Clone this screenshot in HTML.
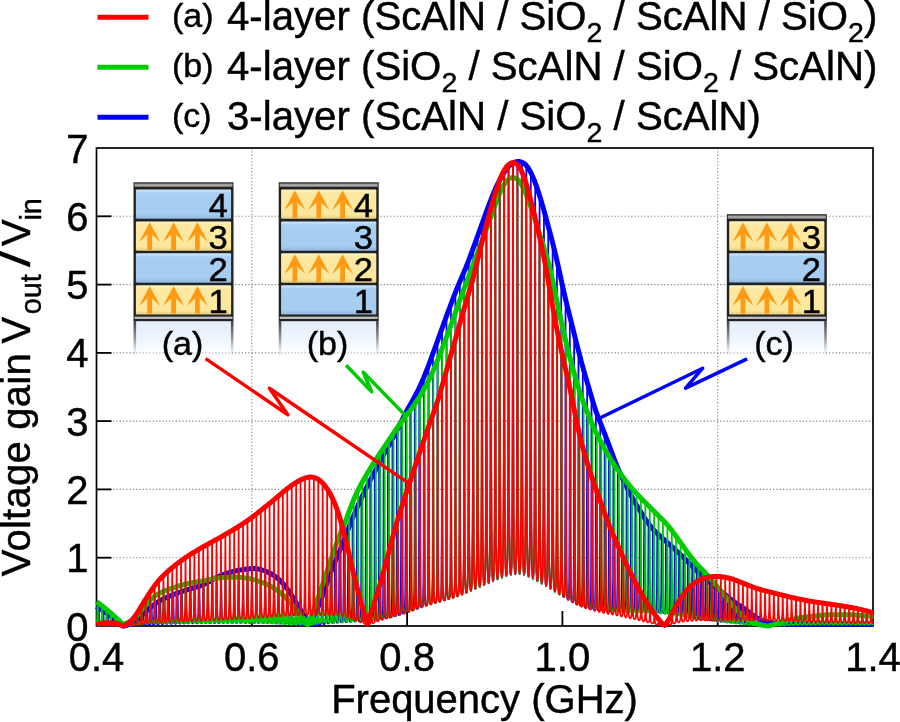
<!DOCTYPE html>
<html><head><meta charset="utf-8"><title>Voltage gain vs frequency</title>
<style>html,body{margin:0;padding:0;background:#fff}svg{display:block}text{stroke:#000;stroke-width:0.45px}</style></head>
<body>
<svg width="900" height="722" viewBox="0 0 900 722">
<defs>
<linearGradient id="gb" x1="0" y1="0" x2="0" y2="1"><stop offset="0" stop-color="#d4ecff"/><stop offset="0.12" stop-color="#a8cff2"/><stop offset="0.85" stop-color="#a6ccf0"/><stop offset="1" stop-color="#8fb6dc"/></linearGradient>
<linearGradient id="gy" x1="0" y1="0" x2="0" y2="1"><stop offset="0" stop-color="#fff6c8"/><stop offset="0.12" stop-color="#fde9a2"/><stop offset="0.85" stop-color="#fce79c"/><stop offset="1" stop-color="#e6cf86"/></linearGradient>
<linearGradient id="ge" x1="0" y1="0" x2="0" y2="1"><stop offset="0" stop-color="#6a6a6a"/><stop offset="0.5" stop-color="#b8b8b8"/><stop offset="1" stop-color="#6a6a6a"/></linearGradient>
<linearGradient id="gs" x1="0" y1="0" x2="0" y2="1"><stop offset="0" stop-color="#e3eefa"/><stop offset="0.45" stop-color="#eef5fc" stop-opacity="0.95"/><stop offset="1" stop-color="#ffffff" stop-opacity="0"/></linearGradient>
<linearGradient id="gv" x1="0" y1="0" x2="0" y2="1"><stop offset="0" stop-color="#3c4046"/><stop offset="0.5" stop-color="#7d848c" stop-opacity="0.8"/><stop offset="1" stop-color="#c0c6cc" stop-opacity="0"/></linearGradient>
<linearGradient id="ge2" x1="0" y1="0" x2="0" y2="1"><stop offset="0" stop-color="#b0b0b0"/><stop offset="1" stop-color="#d0d0d0"/></linearGradient>
<g id="arr"><path d="M0,0 L10.6,20 L2.4,12.3 L2.4,27.6 L-2.4,27.6 L-2.4,12.3 L-10.6,20 Z" fill="#ff9a14"/></g>
</defs>
<rect width="900" height="722" fill="#fff"/>
<g stroke="#8c8c8c" stroke-width="1.1" stroke-dasharray="1.3 2" fill="none">
<line x1="96.5" y1="557.7" x2="873.0" y2="557.7"/>
<line x1="96.5" y1="489.4" x2="873.0" y2="489.4"/>
<line x1="96.5" y1="421.1" x2="873.0" y2="421.1"/>
<line x1="96.5" y1="352.9" x2="873.0" y2="352.9"/>
<line x1="96.5" y1="284.6" x2="873.0" y2="284.6"/>
<line x1="96.5" y1="216.3" x2="873.0" y2="216.3"/>
<line x1="251.8" y1="148.0" x2="251.8" y2="626.0"/>
<line x1="717.7" y1="148.0" x2="717.7" y2="626.0"/>
</g>
<g font-family="'Liberation Sans', Arial, Helvetica, sans-serif" fill="#000">
<rect x="134.7" y="321.2" width="97.6" height="42" fill="url(#gs)"/>
<rect x="133.5" y="321.2" width="2.6" height="36" fill="url(#gv)"/>
<rect x="230.9" y="321.2" width="2.6" height="36" fill="url(#gv)"/>
<rect x="133.5" y="182.3" width="100.0" height="138.9" fill="#222"/>
<rect x="134.5" y="183.3" width="98.0" height="3.7" fill="url(#ge)"/>
<rect x="135.9" y="189.4" width="95.2" height="29.4" rx="1.2" fill="url(#gb)"/>
<text x="227.8" y="217.3" font-size="33" text-anchor="end" transform="translate(227.8 0) scale(1.05 1) translate(-227.8 0)">4</text>
<rect x="135.9" y="221.4" width="95.2" height="29.4" rx="1.2" fill="url(#gy)"/>
<use href="#arr" x="149.7" y="222.3"/>
<use href="#arr" x="173.6" y="222.3"/>
<use href="#arr" x="197.4" y="222.3"/>
<text x="227.8" y="249.3" font-size="33" text-anchor="end" transform="translate(227.8 0) scale(1.05 1) translate(-227.8 0)">3</text>
<rect x="135.9" y="253.3" width="95.2" height="29.4" rx="1.2" fill="url(#gb)"/>
<text x="227.8" y="281.2" font-size="33" text-anchor="end" transform="translate(227.8 0) scale(1.05 1) translate(-227.8 0)">2</text>
<rect x="135.9" y="285.2" width="95.2" height="29.4" rx="1.2" fill="url(#gy)"/>
<use href="#arr" x="149.7" y="286.1"/>
<use href="#arr" x="173.6" y="286.1"/>
<use href="#arr" x="197.4" y="286.1"/>
<text x="227.8" y="313.1" font-size="33" text-anchor="end" transform="translate(227.8 0) scale(1.05 1) translate(-227.8 0)">1</text>
<rect x="134.5" y="316.6" width="98.0" height="2.3" fill="url(#ge2)"/>
<text x="182.5" y="355.3" font-size="34" text-anchor="middle">(a)</text>
<rect x="279.9" y="321.2" width="97.6" height="42" fill="url(#gs)"/>
<rect x="278.7" y="321.2" width="2.6" height="36" fill="url(#gv)"/>
<rect x="376.1" y="321.2" width="2.6" height="36" fill="url(#gv)"/>
<rect x="278.7" y="182.3" width="100.0" height="138.9" fill="#222"/>
<rect x="279.7" y="183.3" width="98.0" height="3.7" fill="url(#ge)"/>
<rect x="281.1" y="189.4" width="95.2" height="29.4" rx="1.2" fill="url(#gy)"/>
<use href="#arr" x="294.9" y="190.3"/>
<use href="#arr" x="318.8" y="190.3"/>
<use href="#arr" x="342.6" y="190.3"/>
<text x="373.0" y="217.3" font-size="33" text-anchor="end" transform="translate(373.0 0) scale(1.05 1) translate(-373.0 0)">4</text>
<rect x="281.1" y="221.4" width="95.2" height="29.4" rx="1.2" fill="url(#gb)"/>
<text x="373.0" y="249.3" font-size="33" text-anchor="end" transform="translate(373.0 0) scale(1.05 1) translate(-373.0 0)">3</text>
<rect x="281.1" y="253.3" width="95.2" height="29.4" rx="1.2" fill="url(#gy)"/>
<use href="#arr" x="294.9" y="254.2"/>
<use href="#arr" x="318.8" y="254.2"/>
<use href="#arr" x="342.6" y="254.2"/>
<text x="373.0" y="281.2" font-size="33" text-anchor="end" transform="translate(373.0 0) scale(1.05 1) translate(-373.0 0)">2</text>
<rect x="281.1" y="285.2" width="95.2" height="29.4" rx="1.2" fill="url(#gb)"/>
<text x="373.0" y="313.1" font-size="33" text-anchor="end" transform="translate(373.0 0) scale(1.05 1) translate(-373.0 0)">1</text>
<rect x="279.7" y="316.6" width="98.0" height="2.3" fill="url(#ge2)"/>
<text x="327.5" y="355.3" font-size="34" text-anchor="middle">(b)</text>
<rect x="728.0" y="321.2" width="97.6" height="42" fill="url(#gs)"/>
<rect x="726.8" y="321.2" width="2.6" height="36" fill="url(#gv)"/>
<rect x="824.2" y="321.2" width="2.6" height="36" fill="url(#gv)"/>
<rect x="726.8" y="214.2" width="100.0" height="107.0" fill="#222"/>
<rect x="727.8" y="215.2" width="98.0" height="3.7" fill="url(#ge)"/>
<rect x="729.2" y="221.3" width="95.2" height="29.4" rx="1.2" fill="url(#gy)"/>
<use href="#arr" x="743.0" y="222.2"/>
<use href="#arr" x="766.9" y="222.2"/>
<use href="#arr" x="790.7" y="222.2"/>
<text x="821.1" y="249.2" font-size="33" text-anchor="end" transform="translate(821.1 0) scale(1.05 1) translate(-821.1 0)">3</text>
<rect x="729.2" y="253.2" width="95.2" height="29.4" rx="1.2" fill="url(#gb)"/>
<text x="821.1" y="281.1" font-size="33" text-anchor="end" transform="translate(821.1 0) scale(1.05 1) translate(-821.1 0)">2</text>
<rect x="729.2" y="285.2" width="95.2" height="29.4" rx="1.2" fill="url(#gy)"/>
<use href="#arr" x="743.0" y="286.1"/>
<use href="#arr" x="766.9" y="286.1"/>
<use href="#arr" x="790.7" y="286.1"/>
<text x="821.1" y="313.1" font-size="33" text-anchor="end" transform="translate(821.1 0) scale(1.05 1) translate(-821.1 0)">1</text>
<rect x="727.8" y="316.6" width="98.0" height="2.3" fill="url(#ge2)"/>
<text x="774.0" y="355.3" font-size="34" text-anchor="middle">(c)</text>
</g>
<g stroke="#000" fill="none">
<rect x="96.5" y="148.0" width="776.5" height="478.0" stroke-width="1.7"/>
<line x1="96.5" y1="557.7" x2="111.5" y2="557.7" stroke-width="1.8"/>
<line x1="96.5" y1="489.4" x2="111.5" y2="489.4" stroke-width="1.8"/>
<line x1="96.5" y1="421.1" x2="111.5" y2="421.1" stroke-width="1.8"/>
<line x1="96.5" y1="352.9" x2="111.5" y2="352.9" stroke-width="1.8"/>
<line x1="96.5" y1="284.6" x2="111.5" y2="284.6" stroke-width="1.8"/>
<line x1="96.5" y1="216.3" x2="111.5" y2="216.3" stroke-width="1.8"/>
<line x1="251.8" y1="626.0" x2="251.8" y2="611.0" stroke-width="1.8"/>
<line x1="407.1" y1="626.0" x2="407.1" y2="611.0" stroke-width="1.8"/>
<line x1="562.4" y1="626.0" x2="562.4" y2="611.0" stroke-width="1.8"/>
<line x1="717.7" y1="626.0" x2="717.7" y2="611.0" stroke-width="1.8"/>
</g>
<polyline points="96.5,625.3 96.6,625.3 96.7,625.3 96.7,625.3 96.8,625.3 96.9,625.3 97.1,625.3 97.5,625.0 97.8,624.6 98.0,623.7 98.2,622.4 98.4,620.6 98.5,618.5 98.6,616.1 98.7,613.6 98.7,611.3 98.8,609.6 98.8,608.5 98.8,608.1 98.9,608.1 98.9,608.2 98.9,608.6 99.0,609.7 99.0,611.5 99.1,613.7 99.2,616.3 99.2,618.7 99.4,620.8 99.5,622.6 99.7,623.9 100.0,624.7 100.3,625.2 100.6,625.5 100.8,625.5 100.9,625.5 101.0,625.6 101.1,625.6 101.1,625.6 101.2,625.6 101.3,625.5 101.5,625.5 101.9,625.3 102.2,624.9 102.4,624.1 102.6,623.0 102.8,621.5 102.9,619.7 103.0,617.6 103.1,615.5 103.1,613.6 103.2,612.2 103.2,611.4 103.3,611.1 103.3,611.0 103.3,611.1 103.3,611.4 103.4,612.3 103.4,613.8 103.5,615.7 103.6,617.9 103.7,619.9 103.8,621.7 103.9,623.2 104.1,624.3 104.4,625.0 104.7,625.4 105.0,625.6 105.2,625.7 105.3,625.7 105.4,625.7 105.5,625.7 105.5,625.7 105.6,625.7 105.7,625.7 105.9,625.7 106.3,625.5 106.6,625.1 106.8,624.5 107.0,623.6 107.2,622.3 107.3,620.9 107.4,619.3 107.5,617.6 107.5,616.1 107.6,615.0 107.6,614.4 107.7,614.1 107.7,614.1 107.7,614.2 107.7,614.5 107.8,615.2 107.8,616.3 107.9,617.8 108.0,619.5 108.1,621.1 108.2,622.5 108.3,623.7 108.5,624.6 108.8,625.2 109.1,625.5 109.4,625.7 109.6,625.7 109.7,625.7 109.8,625.7 109.9,625.7 110.0,625.7 110.0,625.7 110.2,625.7 110.3,625.7 110.7,625.5 111.0,625.3 111.3,624.8 111.5,624.1 111.6,623.2 111.7,622.1 111.8,621.0 111.9,619.8 111.9,618.7 112.0,618.0 112.0,617.5 112.1,617.4 112.1,617.3 112.1,617.4 112.1,617.6 112.2,618.1 112.2,618.9 112.3,620.0 112.4,621.2 112.5,622.3 112.6,623.4 112.7,624.3 112.9,624.9 113.2,625.3 113.5,625.6 113.9,625.7 114.0,625.7 114.1,625.7 114.2,625.7 114.3,625.7 114.4,625.7 114.4,625.7 114.6,625.7 114.7,625.7 115.1,625.6 115.4,625.4 115.7,625.1 115.9,624.7 116.0,624.1 116.1,623.5 116.2,622.8 116.3,622.1 116.3,621.5 116.4,621.1 116.4,620.8 116.5,620.7 116.5,620.7 116.5,620.8 116.5,620.9 116.6,621.2 116.6,621.7 116.7,622.3 116.8,623.0 116.9,623.7 117.0,624.3 117.1,624.9 117.3,625.3 117.6,625.5 117.9,625.6 118.3,625.7 118.4,625.7 118.5,625.7 118.6,625.7 118.7,625.7 118.8,625.7 118.8,625.7 119.0,625.7 119.1,625.7 119.5,625.7 119.8,625.6 120.1,625.5 120.3,625.3 120.4,625.1 120.5,624.9 120.6,624.7 120.7,624.5 120.7,624.3 120.8,624.2 120.8,624.2 120.9,624.2 120.9,624.2 120.9,624.2 120.9,624.3 121.0,624.4 121.0,624.5 121.1,624.7 121.2,625.0 121.3,625.2 121.4,625.4 121.5,625.5 121.7,625.6 122.0,625.7 122.3,625.7 122.6,625.7 122.8,625.7 122.9,625.7 123.0,625.7 123.1,625.7 123.2,625.7 123.2,625.7 123.4,625.7 123.5,625.7 123.9,625.7 124.2,625.7 124.4,625.7 124.6,625.7 124.8,625.7 124.9,625.7 125.0,625.7 125.1,625.7 125.1,625.7 125.2,625.7 125.2,625.7 125.3,625.7 125.3,625.7 125.3,625.7 125.3,625.7 125.4,625.7 125.4,625.7 125.5,625.7 125.6,625.7 125.7,625.7 125.8,625.7 125.9,625.7 126.1,625.7 126.4,625.7 126.7,625.7 127.0,625.7 127.2,625.7 127.3,625.7 127.4,625.7 127.5,625.7 127.5,625.7 127.6,625.7 127.7,625.7 127.9,625.7 128.3,625.7 128.6,625.7 128.8,625.6 129.0,625.5 129.2,625.4 129.3,625.2 129.4,625.0 129.5,624.8 129.5,624.6 129.6,624.5 129.6,624.4 129.7,624.3 129.7,624.3 129.7,624.3 129.7,624.3 129.8,624.4 129.8,624.5 129.9,624.7 130.0,624.9 130.0,625.0 130.2,625.2 130.3,625.4 130.5,625.5 130.8,625.6 131.1,625.7 131.4,625.7 131.6,625.7 131.7,625.7 131.8,625.7 131.9,625.7 131.9,625.7 132.0,625.7 132.1,625.7 132.3,625.7 132.7,625.6 133.0,625.5 133.2,625.3 133.4,625.0 133.6,624.6 133.7,624.2 133.8,623.7 133.9,623.2 133.9,622.8 134.0,622.5 134.0,622.2 134.0,622.2 134.1,622.1 134.1,622.1 134.1,622.2 134.2,622.3 134.2,622.6 134.3,623.0 134.4,623.5 134.4,624.0 134.5,624.4 134.7,624.8 134.9,625.1 135.2,625.3 135.5,625.4 135.8,625.5 136.0,625.5 136.1,625.5 136.2,625.5 136.3,625.4 136.3,625.4 136.4,625.4 136.5,625.4 136.7,625.4 137.0,625.3 137.4,625.1 137.6,624.7 137.8,624.2 138.0,623.5 138.1,622.7 138.2,621.8 138.2,620.9 138.3,620.0 138.4,619.4 138.4,619.0 138.4,618.8 138.5,618.8 138.5,618.8 138.5,618.9 138.6,619.2 138.6,619.8 138.7,620.6 138.7,621.5 138.8,622.4 138.9,623.2 139.1,624.0 139.3,624.5 139.6,624.9 139.9,625.0 140.2,625.1 140.4,625.2 140.5,625.2 140.6,625.2 140.6,625.2 140.7,625.2 140.8,625.1 140.9,625.1 141.1,625.1 141.4,624.9 141.7,624.6 142.0,624.1 142.2,623.3 142.4,622.1 142.5,620.8 142.6,619.3 142.6,617.8 142.7,616.4 142.7,615.4 142.8,614.7 142.8,614.5 142.8,614.4 142.9,614.4 142.9,614.6 142.9,615.2 143.0,616.2 143.1,617.5 143.1,619.0 143.2,620.5 143.3,621.8 143.5,623.0 143.7,623.8 143.9,624.4 144.2,624.7 144.6,624.8 144.8,624.9 144.9,624.9 145.0,624.9 145.0,624.9 145.1,624.9 145.2,624.9 145.3,624.9 145.5,624.8 145.8,624.6 146.1,624.2 146.4,623.4 146.6,622.4 146.7,620.8 146.9,619.0 146.9,617.0 147.0,614.9 147.1,613.0 147.1,611.5 147.2,610.6 147.2,610.3 147.2,610.2 147.2,610.2 147.3,610.5 147.3,611.4 147.4,612.8 147.4,614.6 147.5,616.8 147.6,618.8 147.7,620.6 147.9,622.1 148.1,623.2 148.3,624.0 148.6,624.4 149.0,624.6 149.2,624.7 149.3,624.7 149.3,624.7 149.4,624.7 149.5,624.7 149.6,624.7 149.7,624.6 149.9,624.6 150.2,624.3 150.5,623.8 150.8,622.9 151.0,621.6 151.1,619.8 151.2,617.6 151.3,615.1 151.4,612.4 151.5,610.0 151.5,608.2 151.5,607.0 151.6,606.6 151.6,606.5 151.6,606.5 151.7,606.9 151.7,608.0 151.7,609.8 151.8,612.2 151.9,614.9 152.0,617.3 152.1,619.5 152.2,621.4 152.4,622.8 152.7,623.7 153.0,624.2 153.3,624.4 153.5,624.5 153.6,624.5 153.7,624.5 153.8,624.5 153.8,624.5 153.9,624.5 154.0,624.5 154.2,624.4 154.6,624.1 154.9,623.5 155.1,622.5 155.3,621.0 155.5,618.9 155.6,616.3 155.7,613.4 155.7,610.3 155.8,607.5 155.9,605.2 155.9,603.9 155.9,603.3 156.0,603.2 156.0,603.3 156.0,603.8 156.1,605.1 156.1,607.3 156.2,610.1 156.2,613.2 156.3,616.1 156.4,618.7 156.6,620.9 156.8,622.4 157.0,623.4 157.3,624.0 157.7,624.2 157.9,624.3 158.0,624.3 158.1,624.3 158.1,624.3 158.2,624.3 158.3,624.3 158.4,624.3 158.6,624.2 158.9,623.9 159.2,623.3 159.5,622.2 159.7,620.5 159.8,618.1 159.9,615.3 160.0,612.0 160.1,608.5 160.2,605.3 160.2,602.8 160.3,601.2 160.3,600.6 160.3,600.5 160.3,600.6 160.4,601.2 160.4,602.7 160.5,605.2 160.5,608.4 160.6,611.9 160.7,615.1 160.8,618.0 160.9,620.4 161.1,622.1 161.4,623.2 161.7,623.8 162.0,624.1 162.2,624.2 162.3,624.2 162.4,624.2 162.5,624.2 162.5,624.2 162.6,624.2 162.7,624.1 162.9,624.1 163.3,623.7 163.6,623.1 163.8,621.9 164.0,620.1 164.2,617.5 164.3,614.5 164.4,610.9 164.4,607.1 164.5,603.6 164.5,600.8 164.6,599.1 164.6,598.4 164.6,598.3 164.7,598.4 164.7,599.0 164.7,600.7 164.8,603.5 164.8,607.0 164.9,610.8 165.0,614.3 165.1,617.4 165.3,620.0 165.5,621.8 165.7,623.0 166.0,623.6 166.4,623.9 166.5,624.0 166.7,624.0 166.7,624.0 166.8,624.0 166.9,624.0 167.0,624.0 167.1,624.0 167.2,623.9 167.6,623.5 167.9,622.9 168.2,621.6 168.3,619.7 168.5,617.0 168.6,613.7 168.7,610.0 168.8,605.9 168.8,602.1 168.9,599.1 168.9,597.2 169.0,596.5 169.0,596.3 169.0,596.5 169.0,597.2 169.1,599.0 169.1,602.0 169.2,605.7 169.3,609.9 169.3,613.6 169.5,616.9 169.6,619.6 169.8,621.5 170.1,622.8 170.4,623.4 170.7,623.8 170.9,623.9 171.0,623.9 171.1,623.9 171.1,623.9 171.2,623.9 171.3,623.9 171.4,623.9 171.6,623.8 171.9,623.4 172.2,622.7 172.5,621.4 172.7,619.4 172.8,616.5 172.9,613.1 173.0,609.1 173.1,604.8 173.2,600.7 173.2,597.5 173.3,595.5 173.3,594.8 173.3,594.6 173.3,594.8 173.4,595.5 173.4,597.5 173.5,600.6 173.5,604.7 173.6,609.0 173.7,613.0 173.8,616.4 173.9,619.3 174.1,621.3 174.4,622.6 174.7,623.3 175.0,623.7 175.2,623.7 175.3,623.8 175.4,623.8 175.5,623.8 175.5,623.8 175.6,623.8 175.7,623.7 175.9,623.6 176.3,623.2 176.6,622.5 176.8,621.1 177.0,619.1 177.2,616.1 177.3,612.5 177.4,608.3 177.4,603.7 177.5,599.5 177.5,596.1 177.6,594.0 177.6,593.2 177.6,593.0 177.7,593.1 177.7,593.9 177.7,596.0 177.8,599.4 177.9,603.6 177.9,608.2 178.0,612.4 178.1,616.0 178.3,619.0 178.5,621.0 178.7,622.4 179.0,623.1 179.4,623.5 179.6,623.6 179.7,623.6 179.7,623.7 179.8,623.7 179.9,623.7 180.0,623.6 180.1,623.6 180.2,623.5 180.6,623.1 180.9,622.3 181.2,620.9 181.4,618.8 181.5,615.7 181.6,612.0 181.7,607.6 181.8,602.8 181.8,598.3 181.9,594.7 181.9,592.5 182.0,591.7 182.0,591.5 182.0,591.6 182.0,592.5 182.1,594.7 182.1,598.2 182.2,602.7 182.3,607.5 182.4,611.9 182.5,615.6 182.6,618.7 182.8,620.8 183.1,622.3 183.4,623.0 183.7,623.4 183.9,623.5 184.0,623.5 184.1,623.5 184.2,623.6 184.2,623.5 184.3,623.5 184.4,623.5 184.6,623.4 184.9,623.0 185.2,622.2 185.5,620.7 185.7,618.5 185.9,615.3 186.0,611.5 186.1,606.9 186.1,601.9 186.2,597.2 186.2,593.5 186.3,591.2 186.3,590.2 186.3,590.0 186.4,590.2 186.4,591.1 186.4,593.4 186.5,597.2 186.5,601.8 186.6,606.9 186.7,611.4 186.8,615.2 187.0,618.5 187.2,620.7 187.4,622.1 187.7,622.9 188.1,623.3 188.3,623.4 188.4,623.4 188.5,623.5 188.5,623.5 188.6,623.5 188.7,623.4 188.8,623.4 189.0,623.3 189.3,622.9 189.6,622.1 189.9,620.6 190.1,618.3 190.2,615.0 190.3,611.0 190.4,606.3 190.5,601.1 190.5,596.3 190.6,592.3 190.6,589.9 190.7,588.9 190.7,588.7 190.7,588.9 190.7,589.9 190.8,592.3 190.8,596.2 190.9,601.0 191.0,606.3 191.1,611.0 191.2,614.9 191.3,618.2 191.5,620.5 191.8,622.0 192.1,622.8 192.4,623.2 192.6,623.3 192.7,623.4 192.8,623.4 192.9,623.4 192.9,623.4 193.0,623.4 193.1,623.3 193.3,623.2 193.7,622.8 194.0,621.9 194.2,620.4 194.4,618.1 194.6,614.7 194.7,610.6 194.8,605.8 194.8,600.4 194.9,595.3 195.0,591.2 195.0,588.7 195.0,587.7 195.0,587.5 195.1,587.7 195.1,588.7 195.1,591.2 195.2,595.3 195.3,600.3 195.3,605.7 195.4,610.5 195.5,614.6 195.7,618.0 195.9,620.4 196.1,621.9 196.4,622.7 196.8,623.2 197.0,623.3 197.1,623.3 197.2,623.3 197.2,623.3 197.3,623.3 197.4,623.3 197.5,623.2 197.7,623.1 198.0,622.7 198.3,621.8 198.6,620.3 198.8,617.9 198.9,614.4 199.0,610.2 199.1,605.2 199.2,599.6 199.3,594.3 199.3,590.0 199.3,587.4 199.4,586.3 199.4,586.1 199.4,586.3 199.5,587.3 199.5,590.0 199.5,594.2 199.6,599.5 199.7,605.1 199.8,610.1 199.9,614.3 200.0,617.8 200.2,620.2 200.5,621.8 200.8,622.7 201.1,623.1 201.3,623.2 201.4,623.2 201.5,623.2 201.6,623.3 201.6,623.2 201.7,623.2 201.8,623.2 202.0,623.1 202.4,622.6 202.7,621.7 202.9,620.1 203.1,617.7 203.3,614.0 203.4,609.7 203.5,604.4 203.5,598.6 203.6,593.0 203.7,588.5 203.7,585.7 203.7,584.6 203.8,584.4 203.8,584.6 203.8,585.7 203.8,588.4 203.9,592.9 204.0,598.4 204.0,604.3 204.1,609.6 204.2,614.0 204.4,617.6 204.6,620.1 204.8,621.7 205.1,622.6 205.5,623.0 205.7,623.2 205.8,623.2 205.9,623.2 205.9,623.2 206.0,623.2 206.1,623.2 206.2,623.1 206.4,623.0 206.7,622.6 207.0,621.6 207.3,620.0 207.5,617.4 207.6,613.6 207.7,609.0 207.8,603.5 207.9,597.3 208.0,591.4 208.0,586.6 208.1,583.6 208.1,582.4 208.1,582.2 208.1,582.4 208.2,583.6 208.2,586.5 208.3,591.3 208.3,597.2 208.4,603.4 208.5,608.9 208.6,613.5 208.7,617.3 208.9,619.9 209.2,621.6 209.5,622.5 209.8,623.0 210.0,623.1 210.1,623.1 210.2,623.2 210.3,623.2 210.3,623.2 210.4,623.1 210.5,623.1 210.7,623.0 211.1,622.5 211.4,621.5 211.6,619.8 211.8,617.1 212.0,613.2 212.1,608.3 212.2,602.5 212.3,596.0 212.3,589.7 212.4,584.5 212.4,581.3 212.4,580.0 212.5,579.7 212.5,580.0 212.5,581.2 212.6,584.4 212.6,589.6 212.7,595.8 212.7,602.4 212.8,608.2 212.9,613.1 213.1,617.0 213.3,619.7 213.6,621.5 213.9,622.4 214.2,622.9 214.4,623.1 214.5,623.1 214.6,623.1 214.6,623.1 214.7,623.1 214.8,623.1 214.9,623.1 215.1,622.9 215.4,622.4 215.7,621.4 216.0,619.6 216.2,616.8 216.3,612.7 216.5,607.7 216.5,601.6 216.6,594.6 216.7,588.0 216.7,582.5 216.8,579.0 216.8,577.7 216.8,577.4 216.8,577.7 216.9,579.0 216.9,582.4 217.0,587.9 217.0,594.5 217.1,601.5 217.2,607.6 217.3,612.6 217.5,616.8 217.7,619.6 217.9,621.4 218.2,622.4 218.6,622.9 218.7,623.0 218.9,623.1 218.9,623.1 219.0,623.1 219.1,623.1 219.2,623.1 219.3,623.0 219.4,622.9 219.8,622.4 220.1,621.3 220.4,619.5 220.6,616.6 220.7,612.4 220.8,607.1 220.9,600.8 221.0,593.5 221.0,586.5 221.1,580.8 221.1,577.1 221.2,575.7 221.2,575.3 221.2,575.7 221.2,577.1 221.3,580.7 221.3,586.5 221.4,593.4 221.5,600.7 221.6,607.0 221.7,612.3 221.8,616.6 222.0,619.4 222.3,621.3 222.6,622.3 222.9,622.9 223.1,623.0 223.2,623.0 223.3,623.0 223.4,623.0 223.4,623.0 223.5,623.0 223.6,623.0 223.8,622.8 224.2,622.3 224.5,621.3 224.7,619.4 224.9,616.4 225.1,612.1 225.2,606.7 225.3,600.2 225.4,592.7 225.4,585.4 225.5,579.4 225.5,575.6 225.5,574.1 225.6,573.8 225.6,574.1 225.6,575.6 225.7,579.4 225.7,585.4 225.8,592.6 225.8,600.1 225.9,606.6 226.0,612.0 226.2,616.4 226.4,619.3 226.7,621.2 227.0,622.3 227.3,622.8 227.5,622.9 227.6,623.0 227.7,623.0 227.8,623.0 227.8,623.0 227.9,623.0 228.0,622.9 228.2,622.8 228.5,622.3 228.8,621.2 229.1,619.3 229.3,616.3 229.5,611.8 229.6,606.3 229.7,599.7 229.7,591.9 229.8,584.5 229.8,578.3 229.9,574.3 229.9,572.8 229.9,572.5 230.0,572.8 230.0,574.3 230.0,578.2 230.1,584.4 230.2,591.9 230.2,599.6 230.3,606.3 230.4,611.8 230.6,616.2 230.8,619.2 231.0,621.2 231.3,622.2 231.7,622.8 231.9,622.9 232.0,623.0 232.1,623.0 232.1,623.0 232.2,623.0 232.3,623.0 232.4,622.9 232.6,622.8 232.9,622.2 233.2,621.2 233.5,619.2 233.7,616.2 233.9,611.6 234.0,606.0 234.0,599.2 234.1,591.3 234.2,583.7 234.2,577.3 234.3,573.2 234.3,571.6 234.3,571.3 234.4,571.6 234.4,573.2 234.4,577.2 234.5,583.6 234.5,591.3 234.6,599.2 234.7,606.0 234.8,611.6 235.0,616.1 235.2,619.2 235.4,621.1 235.7,622.2 236.1,622.8 236.3,622.9 236.4,622.9 236.5,623.0 236.5,623.0 236.6,623.0 236.7,622.9 236.8,622.9 237.0,622.8 237.3,622.2 237.6,621.1 237.9,619.1 238.1,616.0 238.3,611.4 238.4,605.8 238.4,598.8 238.5,590.8 238.6,583.0 238.6,576.4 238.7,572.3 238.7,570.6 238.7,570.3 238.8,570.6 238.8,572.3 238.8,576.4 238.9,582.9 238.9,590.7 239.0,598.8 239.1,605.7 239.2,611.4 239.4,616.0 239.6,619.1 239.8,621.1 240.1,622.2 240.5,622.7 240.7,622.9 240.8,622.9 240.9,622.9 240.9,622.9 241.0,622.9 241.1,622.9 241.2,622.9 241.4,622.7 241.7,622.2 242.0,621.1 242.3,619.1 242.5,616.0 242.7,611.3 242.8,605.6 242.9,598.5 242.9,590.4 243.0,582.4 243.0,575.8 243.1,571.5 243.1,569.9 243.1,569.5 243.2,569.9 243.2,571.5 243.2,575.8 243.3,582.4 243.4,590.3 243.4,598.5 243.5,605.5 243.6,611.3 243.8,615.9 244.0,619.1 244.2,621.1 244.6,622.2 244.9,622.7 245.1,622.9 245.2,622.9 245.3,622.9 245.4,622.9 245.4,622.9 245.5,622.9 245.6,622.9 245.8,622.7 246.1,622.2 246.5,621.1 246.7,619.0 246.9,615.9 247.1,611.2 247.2,605.4 247.3,598.3 247.3,590.1 247.4,582.1 247.5,575.3 247.5,571.0 247.5,569.4 247.6,569.0 247.6,569.3 247.6,571.0 247.7,575.3 247.7,582.0 247.8,590.1 247.8,598.3 247.9,605.4 248.0,611.2 248.2,615.9 248.4,619.0 248.7,621.1 249.0,622.2 249.3,622.7 249.5,622.9 249.6,622.9 249.7,622.9 249.8,622.9 249.8,622.9 249.9,622.9 250.0,622.9 250.2,622.7 250.6,622.2 250.9,621.1 251.1,619.0 251.3,615.9 251.5,611.2 251.6,605.3 251.7,598.2 251.8,589.9 251.8,581.8 251.9,575.1 251.9,570.7 252.0,569.0 252.0,568.7 252.0,569.0 252.0,570.7 252.1,575.1 252.1,581.8 252.2,589.9 252.3,598.2 252.4,605.3 252.5,611.2 252.6,615.9 252.8,619.0 253.1,621.1 253.4,622.2 253.7,622.7 253.9,622.9 254.0,622.9 254.1,622.9 254.2,622.9 254.2,622.9 254.3,622.9 254.4,622.9 254.6,622.7 255.0,622.2 255.3,621.1 255.6,619.0 255.8,615.9 255.9,611.2 256.0,605.4 256.1,598.2 256.2,589.9 256.2,581.9 256.3,575.1 256.3,570.8 256.4,569.1 256.4,568.7 256.4,569.1 256.4,570.8 256.5,575.1 256.5,581.9 256.6,590.0 256.7,598.3 256.8,605.4 256.9,611.2 257.0,615.9 257.2,619.1 257.5,621.1 257.8,622.2 258.2,622.8 258.3,622.9 258.4,622.9 258.5,623.0 258.6,623.0 258.7,623.0 258.8,622.9 258.9,622.9 259.0,622.8 259.4,622.2 259.7,621.1 260.0,619.1 260.2,616.0 260.3,611.3 260.4,605.6 260.5,598.5 260.6,590.4 260.7,582.4 260.7,575.8 260.8,571.6 260.8,569.9 260.8,569.5 260.8,569.9 260.9,571.6 260.9,575.8 261.0,582.5 261.0,590.4 261.1,598.6 261.2,605.6 261.3,611.4 261.5,616.0 261.7,619.1 261.9,621.1 262.2,622.2 262.6,622.8 262.8,622.9 262.9,623.0 263.0,623.0 263.0,623.0 263.1,623.0 263.2,623.0 263.3,623.0 263.5,622.8 263.8,622.3 264.1,621.2 264.4,619.2 264.6,616.2 264.7,611.6 264.9,606.0 264.9,599.1 265.0,591.2 265.1,583.5 265.1,577.1 265.2,573.0 265.2,571.4 265.2,571.1 265.3,571.4 265.3,573.0 265.3,577.1 265.4,583.6 265.4,591.3 265.5,599.2 265.6,606.1 265.7,611.7 265.9,616.2 266.1,619.3 266.3,621.2 266.6,622.3 267.0,622.9 267.2,623.0 267.3,623.1 267.4,623.1 267.4,623.1 267.5,623.1 267.6,623.1 267.7,623.0 267.9,622.9 268.2,622.4 268.5,621.3 268.8,619.4 269.0,616.4 269.2,612.0 269.3,606.5 269.4,599.9 269.4,592.2 269.5,584.9 269.6,578.8 269.6,574.9 269.6,573.4 269.7,573.1 269.7,573.4 269.7,575.0 269.7,578.9 269.8,585.0 269.9,592.4 269.9,600.0 270.0,606.6 270.1,612.1 270.3,616.5 270.5,619.5 270.8,621.4 271.1,622.4 271.4,623.0 271.6,623.1 271.7,623.1 271.8,623.2 271.9,623.2 271.9,623.2 272.0,623.2 272.1,623.1 272.3,623.0 272.7,622.5 273.0,621.5 273.2,619.6 273.4,616.7 273.6,612.4 273.7,607.2 273.8,600.9 273.9,593.6 273.9,586.7 274.0,581.0 274.0,577.3 274.0,575.9 274.1,575.7 274.1,576.0 274.1,577.4 274.2,581.1 274.2,586.8 274.3,593.8 274.4,601.0 274.4,607.4 274.6,612.6 274.7,616.8 274.9,619.7 275.2,621.5 275.5,622.6 275.8,623.1 276.0,623.2 276.1,623.3 276.2,623.3 276.3,623.3 276.3,623.3 276.4,623.3 276.5,623.2 276.7,623.1 277.1,622.6 277.4,621.6 277.6,619.9 277.8,617.1 278.0,613.1 278.1,608.2 278.2,602.3 278.3,595.5 278.3,589.1 278.4,583.9 278.4,580.6 278.5,579.4 278.5,579.1 278.5,579.4 278.5,580.7 278.6,584.1 278.6,589.3 278.7,595.7 278.8,602.5 278.9,608.4 279.0,613.3 279.1,617.3 279.3,620.0 279.6,621.8 279.9,622.7 280.3,623.2 280.4,623.3 280.5,623.4 280.6,623.4 280.7,623.4 280.8,623.4 280.9,623.4 281.0,623.4 281.1,623.3 281.5,622.8 281.8,621.9 282.1,620.2 282.3,617.7 282.4,613.9 282.5,609.4 282.6,604.0 282.7,598.0 282.8,592.3 282.8,587.7 282.9,584.8 282.9,583.7 282.9,583.5 282.9,583.7 283.0,584.9 283.0,587.8 283.1,592.5 283.1,598.3 283.2,604.3 283.3,609.7 283.4,614.2 283.5,617.9 283.7,620.4 284.0,622.0 284.3,622.9 284.7,623.4 284.9,623.5 285.0,623.5 285.0,623.6 285.1,623.6 285.2,623.6 285.3,623.5 285.4,623.5 285.6,623.4 285.9,623.0 286.2,622.2 286.5,620.7 286.7,618.4 286.8,615.1 286.9,611.1 287.0,606.4 287.1,601.1 287.2,596.3 287.2,592.4 287.3,590.1 287.3,589.2 287.3,589.0 287.3,589.2 287.4,590.2 287.4,592.7 287.5,596.6 287.5,601.5 287.6,606.7 287.7,611.4 287.8,615.3 288.0,618.6 288.2,620.9 288.4,622.3 288.7,623.1 289.1,623.6 289.3,623.7 289.4,623.7 289.5,623.7 289.5,623.7 289.6,623.7 289.7,623.7 289.8,623.7 290.0,623.6 290.3,623.2 290.6,622.5 290.9,621.2 291.1,619.3 291.3,616.5 291.4,613.1 291.5,609.3 291.5,605.0 291.6,601.2 291.6,598.1 291.7,596.3 291.7,595.6 291.7,595.5 291.8,595.7 291.8,596.5 291.8,598.4 291.9,601.5 292.0,605.4 292.0,609.7 292.1,613.5 292.2,616.8 292.4,619.6 292.6,621.5 292.8,622.7 293.2,623.4 293.5,623.8 293.7,623.9 293.8,623.9 293.9,623.9 293.9,624.0 294.0,624.0 294.1,624.0 294.2,623.9 294.4,623.9 294.7,623.6 295.0,623.0 295.3,622.0 295.5,620.4 295.7,618.2 295.8,615.6 295.9,612.6 295.9,609.4 296.0,606.6 296.1,604.4 296.1,603.1 296.1,602.6 296.2,602.5 296.2,602.7 296.2,603.3 296.2,604.7 296.3,607.0 296.4,609.9 296.4,613.1 296.5,616.1 296.6,618.6 296.8,620.8 297.0,622.4 297.3,623.4 297.6,624.0 297.9,624.3 298.1,624.4 298.2,624.4 298.3,624.4 298.4,624.4 298.4,624.4 298.5,624.4 298.6,624.4 298.8,624.4 299.1,624.2 299.5,623.8 299.7,623.1 299.9,622.0 300.1,620.4 300.2,618.5 300.3,616.5 300.3,614.3 300.4,612.4 300.5,611.0 300.5,610.2 300.5,609.9 300.6,609.8 300.6,609.9 300.6,610.3 300.7,611.3 300.7,612.8 300.8,614.8 300.8,617.0 300.9,619.1 301.0,620.9 301.2,622.5 301.4,623.6 301.7,624.3 302.0,624.8 302.3,625.0 302.5,625.1 302.6,625.1 302.7,625.2 302.7,625.2 302.8,625.2 302.9,625.2 303.0,625.2 303.2,625.2 303.5,625.1 303.8,624.8 304.1,624.4 304.3,623.7 304.4,622.7 304.6,621.6 304.6,620.4 304.7,619.2 304.8,618.2 304.8,617.4 304.9,617.0 304.9,616.8 304.9,616.8 304.9,616.9 305.0,617.1 305.0,617.7 305.1,618.6 305.1,619.7 305.2,620.9 305.3,622.1 305.4,623.2 305.5,624.2 305.7,624.8 306.0,625.3 306.3,625.5 306.6,625.7 306.8,625.7 306.9,625.7 307.0,625.7 307.1,625.7 307.1,625.7 307.2,625.7 307.3,625.7 307.5,625.7 307.8,625.6 308.1,625.5 308.4,625.3 308.6,625.1 308.7,624.8 308.9,624.6 308.9,624.3 309.0,624.0 309.1,623.6 309.1,623.3 309.2,623.1 309.2,623.0 309.2,623.0 309.2,623.0 309.3,623.0 309.3,623.1 309.4,623.3 309.4,623.6 309.5,623.9 309.6,624.3 309.7,624.7 309.8,625.0 310.0,625.3 310.3,625.5 310.6,625.6 310.9,625.7 311.1,625.7 311.2,625.7 311.3,625.7 311.3,625.7 311.4,625.7 311.5,625.7 311.6,625.7 311.8,625.7 312.1,625.6 312.4,625.3 312.7,624.9 312.9,624.2 313.0,623.2 313.1,622.1 313.2,620.9 313.3,619.5 313.3,618.3 313.4,617.4 313.4,616.8 313.4,616.6 313.5,616.5 313.5,616.5 313.5,616.6 313.6,617.1 313.6,617.9 313.7,619.0 313.7,620.3 313.8,621.6 313.9,622.7 314.1,623.8 314.3,624.5 314.5,625.0 314.8,625.3 315.2,625.4 315.3,625.4 315.4,625.4 315.5,625.4 315.6,625.4 315.7,625.4 315.7,625.4 315.8,625.4 316.0,625.3 316.4,625.0 316.7,624.6 316.9,623.8 317.1,622.5 317.2,620.7 317.4,618.7 317.4,616.3 317.5,613.8 317.6,611.5 317.6,609.7 317.7,608.6 317.7,608.1 317.7,608.0 317.7,608.0 317.8,608.4 317.8,609.3 317.9,611.0 317.9,613.2 318.0,615.7 318.1,618.0 318.2,620.1 318.3,621.9 318.5,623.2 318.8,624.1 319.1,624.5 319.4,624.8 319.6,624.8 319.7,624.8 319.8,624.8 319.8,624.8 319.9,624.8 320.0,624.8 320.1,624.7 320.3,624.6 320.6,624.2 320.9,623.6 321.1,622.3 321.3,620.5 321.5,617.8 321.6,614.6 321.7,610.9 321.8,606.8 321.8,603.1 321.9,600.1 321.9,598.2 321.9,597.4 322.0,597.2 322.0,597.3 322.0,597.9 322.0,599.6 322.1,602.5 322.2,606.1 322.2,610.2 322.3,613.9 322.4,617.1 322.6,619.9 322.8,621.8 323.0,623.0 323.3,623.7 323.7,624.0 323.8,624.1 323.9,624.1 324.0,624.1 324.1,624.1 324.2,624.1 324.2,624.1 324.3,624.0 324.5,623.9 324.9,623.4 325.2,622.5 325.4,620.9 325.6,618.4 325.8,614.8 325.9,610.5 326.0,605.2 326.0,599.3 326.1,593.8 326.1,589.2 326.2,586.3 326.2,585.1 326.2,584.8 326.3,585.0 326.3,586.0 326.3,588.7 326.4,593.1 326.4,598.6 326.5,604.5 326.6,609.8 326.7,614.2 326.9,617.9 327.0,620.4 327.3,622.0 327.6,622.9 328.0,623.4 328.1,623.5 328.2,623.5 328.3,623.5 328.4,623.5 328.4,623.5 328.5,623.5 328.6,623.4 328.8,623.3 329.2,622.7 329.5,621.6 329.7,619.7 329.9,616.7 330.1,612.3 330.2,606.9 330.3,600.3 330.3,592.6 330.4,585.1 330.5,578.9 330.5,574.9 330.5,573.3 330.6,572.9 330.6,573.2 330.6,574.7 330.7,578.5 330.7,584.6 330.8,592.0 330.8,599.7 330.9,606.4 331.0,611.9 331.2,616.3 331.4,619.3 331.6,621.3 332.0,622.3 332.3,622.9 332.5,623.0 332.6,623.0 332.7,623.0 332.7,623.0 332.8,623.0 332.9,623.0 333.0,623.0 333.2,622.8 333.5,622.2 333.8,621.0 334.1,618.8 334.3,615.4 334.5,610.4 334.6,604.0 334.7,596.1 334.7,586.8 334.8,577.7 334.9,569.8 334.9,564.7 334.9,562.7 335.0,562.2 335.0,562.6 335.0,564.5 335.0,569.4 335.1,577.2 335.2,586.3 335.2,595.6 335.3,603.6 335.4,610.0 335.6,615.1 335.8,618.5 336.1,620.7 336.4,621.9 336.7,622.5 336.9,622.6 337.0,622.7 337.1,622.7 337.2,622.7 337.2,622.7 337.3,622.7 337.4,622.6 337.6,622.4 338.0,621.8 338.3,620.5 338.5,618.1 338.7,614.3 338.9,608.7 339.0,601.5 339.1,592.5 339.2,581.6 339.2,570.6 339.3,561.1 339.3,554.8 339.4,552.3 339.4,551.7 339.4,552.2 339.4,554.6 339.5,560.7 339.5,570.2 339.6,581.1 339.7,592.0 339.8,601.1 339.9,608.3 340.0,614.0 340.2,617.8 340.5,620.2 340.8,621.5 341.1,622.2 341.3,622.3 341.4,622.4 341.5,622.4 341.6,622.4 341.7,622.4 341.7,622.4 341.9,622.3 342.0,622.1 342.4,621.4 342.7,620.0 343.0,617.4 343.2,613.3 343.3,607.1 343.4,599.1 343.5,588.9 343.6,576.4 343.6,563.5 343.7,552.1 343.7,544.5 343.8,541.4 343.8,540.6 343.8,541.3 343.9,544.2 343.9,551.7 343.9,563.0 344.0,575.9 344.1,588.4 344.2,598.7 344.3,606.8 344.4,613.1 344.6,617.2 344.9,619.8 345.2,621.2 345.6,621.9 345.7,622.1 345.9,622.1 345.9,622.1 346.0,622.1 346.1,622.1 346.2,622.1 346.3,622.0 346.5,621.8 346.8,621.1 347.1,619.6 347.4,616.8 347.6,612.4 347.7,605.6 347.8,596.8 347.9,585.5 348.0,571.3 348.1,556.3 348.1,542.9 348.2,533.8 348.2,530.0 348.2,529.2 348.2,529.9 348.3,533.5 348.3,542.5 348.4,555.9 348.4,570.8 348.5,585.0 348.6,596.5 348.7,605.3 348.9,612.1 349.1,616.6 349.3,619.4 349.6,620.9 350.0,621.6 350.2,621.8 350.3,621.9 350.4,621.9 350.4,621.9 350.5,621.9 350.6,621.8 350.7,621.8 350.9,621.6 351.2,620.8 351.5,619.2 351.8,616.2 352.0,611.6 352.2,604.3 352.3,594.8 352.4,582.3 352.4,566.5 352.5,549.6 352.5,534.1 352.6,523.4 352.6,519.0 352.6,518.0 352.7,518.9 352.7,523.2 352.7,533.7 352.8,549.2 352.9,566.1 352.9,582.0 353.0,594.5 353.1,604.0 353.3,611.3 353.5,616.0 353.8,619.0 354.1,620.6 354.4,621.4 354.6,621.5 354.7,621.6 354.8,621.6 354.9,621.6 354.9,621.6 355.0,621.6 355.1,621.5 355.3,621.3 355.7,620.5 356.0,618.8 356.2,615.7 356.4,610.8 356.6,603.1 356.7,593.0 356.8,579.6 356.9,562.3 356.9,543.5 357.0,526.0 357.0,513.8 357.0,508.8 357.1,507.6 357.1,508.7 357.1,513.6 357.2,525.7 357.2,543.1 357.3,561.9 357.4,579.2 357.4,592.7 357.6,602.9 357.7,610.6 357.9,615.5 358.2,618.6 358.5,620.3 358.8,621.1 359.0,621.3 359.1,621.3 359.2,621.4 359.3,621.4 359.3,621.3 359.4,621.3 359.5,621.2 359.7,621.0 360.1,620.1 360.4,618.4 360.7,615.2 360.9,610.1 361.0,602.0 361.1,591.4 361.2,577.1 361.3,558.5 361.3,538.0 361.4,518.6 361.4,504.9 361.5,499.2 361.5,497.9 361.5,499.1 361.5,504.7 361.6,518.2 361.6,537.6 361.7,558.2 361.8,576.8 361.9,591.1 362.0,601.8 362.1,609.9 362.3,615.0 362.6,618.2 362.9,619.9 363.3,620.8 363.4,621.0 363.6,621.0 363.6,621.0 363.7,621.0 363.8,621.0 363.9,621.0 364.0,620.9 364.1,620.7 364.5,619.8 364.8,618.0 365.1,614.7 365.3,609.4 365.4,601.0 365.5,589.9 365.6,574.8 365.7,555.0 365.8,532.9 365.8,511.6 365.9,496.5 365.9,490.2 365.9,488.7 365.9,490.1 366.0,496.3 366.0,511.3 366.1,532.6 366.1,554.7 366.2,574.6 366.3,589.7 366.4,600.8 366.6,609.2 366.8,614.5 367.0,617.8 367.3,619.5 367.7,620.4 367.9,620.6 368.0,620.7 368.1,620.7 368.1,620.7 368.2,620.7 368.3,620.6 368.4,620.6 368.6,620.3 368.9,619.4 369.2,617.6 369.5,614.2 369.7,608.7 369.9,600.1 370.0,588.5 370.1,572.7 370.1,551.8 370.2,528.1 370.2,505.1 370.3,488.6 370.3,481.6 370.3,480.0 370.4,481.5 370.4,488.4 370.4,504.9 370.5,527.8 370.6,551.5 370.6,572.5 370.7,588.3 370.8,599.9 371.0,608.5 371.2,613.9 371.4,617.3 371.8,619.1 372.1,620.0 372.3,620.2 372.4,620.3 372.5,620.3 372.6,620.3 372.6,620.3 372.7,620.2 372.8,620.1 373.0,619.9 373.3,618.9 373.7,617.1 373.9,613.6 374.1,608.0 374.3,599.1 374.4,587.1 374.5,570.7 374.6,548.8 374.6,523.6 374.7,498.9 374.7,481.0 374.7,473.4 374.8,471.6 374.8,473.3 374.8,480.8 374.9,498.6 374.9,523.3 375.0,548.5 375.1,570.5 375.1,586.9 375.3,598.9 375.4,607.8 375.6,613.3 375.9,616.8 376.2,618.6 376.5,619.5 376.7,619.7 376.8,619.8 376.9,619.8 377.0,619.8 377.0,619.8 377.1,619.7 377.2,619.6 377.4,619.4 377.8,618.4 378.1,616.5 378.3,612.9 378.5,607.2 378.7,598.1 378.8,585.7 378.9,568.7 379.0,545.7 379.0,519.2 379.1,492.7 379.1,473.4 379.2,465.1 379.2,463.2 379.2,465.0 379.2,473.2 379.3,492.5 379.3,518.8 379.4,545.4 379.5,568.5 379.6,585.5 379.7,597.9 379.8,607.0 380.0,612.7 380.3,616.2 380.6,618.0 381.0,618.9 381.1,619.1 381.2,619.2 381.3,619.2 381.4,619.2 381.5,619.2 381.6,619.1 381.7,619.1 381.8,618.8 382.2,617.8 382.5,615.8 382.8,612.2 383.0,606.4 383.1,597.0 383.2,584.3 383.3,566.7 383.4,542.7 383.5,514.7 383.5,486.6 383.6,465.8 383.6,456.9 383.6,454.9 383.6,456.8 383.7,465.7 383.7,486.4 383.8,514.4 383.8,542.5 383.9,566.5 384.0,584.1 384.1,596.8 384.3,606.1 384.5,611.9 384.7,615.5 385.0,617.3 385.4,618.2 385.6,618.4 385.7,618.5 385.8,618.5 385.8,618.5 385.9,618.5 386.0,618.5 386.1,618.4 386.3,618.1 386.6,617.0 386.9,615.1 387.2,611.4 387.4,605.4 387.5,595.8 387.7,582.8 387.7,564.7 387.8,539.8 387.9,510.5 387.9,480.7 388.0,458.6 388.0,449.0 388.0,446.8 388.1,448.9 388.1,458.4 388.1,480.5 388.2,510.2 388.2,539.5 388.3,564.4 388.4,582.6 388.5,595.6 388.7,605.1 388.9,611.0 389.1,614.6 389.5,616.5 389.8,617.4 390.0,617.6 390.1,617.6 390.2,617.6 390.2,617.6 390.3,617.6 390.4,617.6 390.5,617.5 390.7,617.2 391.0,616.1 391.4,614.1 391.6,610.3 391.8,604.2 392.0,594.5 392.1,581.2 392.2,562.5 392.2,536.8 392.3,506.2 392.4,474.9 392.4,451.4 392.4,441.2 392.5,438.8 392.5,441.1 392.5,451.2 392.6,474.6 392.6,505.9 392.7,536.5 392.7,562.2 392.8,580.9 392.9,594.2 393.1,603.8 393.3,609.8 393.6,613.5 393.9,615.4 394.2,616.3 394.4,616.5 394.5,616.5 394.6,616.5 394.7,616.5 394.7,616.5 394.8,616.4 394.9,616.3 395.1,616.0 395.5,614.9 395.8,612.8 396.0,609.0 396.2,602.8 396.4,592.9 396.5,579.3 396.6,560.1 396.7,533.5 396.7,501.6 396.8,468.7 396.8,443.7 396.9,432.8 396.9,430.3 396.9,432.7 396.9,443.5 397.0,468.4 397.0,501.3 397.1,533.2 397.2,559.8 397.3,578.9 397.4,592.5 397.5,602.4 397.7,608.4 398.0,612.1 398.3,614.0 398.7,614.9 398.8,615.1 398.9,615.2 399.0,615.2 399.1,615.1 399.2,615.1 399.3,615.1 399.4,614.9 399.5,614.6 399.9,613.5 400.2,611.4 400.5,607.5 400.7,601.2 400.8,591.1 400.9,577.2 401.0,557.6 401.1,530.1 401.2,496.8 401.2,462.2 401.3,435.6 401.3,424.0 401.3,421.4 401.3,424.0 401.4,435.4 401.4,461.9 401.5,496.5 401.5,529.7 401.6,557.2 401.7,576.9 401.8,590.7 402.0,600.7 402.2,606.9 402.4,610.6 402.7,612.6 403.1,613.5 403.3,613.7 403.4,613.7 403.5,613.7 403.5,613.7 403.6,613.7 403.7,613.6 403.8,613.5 404.0,613.2 404.3,612.0 404.7,609.9 404.9,605.9 405.1,599.6 405.3,589.3 405.4,575.1 405.5,555.0 405.6,526.7 405.6,492.2 405.7,455.8 405.7,427.8 405.8,415.5 405.8,412.7 405.8,415.4 405.8,427.6 405.9,455.6 405.9,491.9 406.0,526.4 406.1,554.7 406.2,574.8 406.3,588.9 406.4,599.1 406.6,605.3 406.9,609.1 407.2,611.1 407.6,612.0 407.8,612.1 407.9,612.2 408.0,612.2 408.0,612.2 408.1,612.2 408.2,612.1 408.3,612.0 408.5,611.7 408.8,610.5 409.1,608.3 409.4,604.3 409.6,597.9 409.8,587.4 409.9,573.0 410.0,552.5 410.1,523.5 410.1,487.8 410.2,449.9 410.2,420.6 410.3,407.6 410.3,404.6 410.3,407.5 410.3,420.4 410.4,449.7 410.4,487.5 410.5,523.1 410.6,552.2 410.7,572.7 410.8,587.0 410.9,597.3 411.1,603.7 411.4,607.5 411.7,609.4 412.1,610.4 412.3,610.5 412.4,610.6 412.5,610.6 412.5,610.6 412.6,610.5 412.7,610.5 412.8,610.3 413.0,610.0 413.3,608.8 413.7,606.6 413.9,602.6 414.1,596.1 414.3,585.5 414.4,570.9 414.5,550.0 414.6,520.2 414.6,483.4 414.7,444.0 414.7,413.3 414.8,399.6 414.8,396.5 414.8,399.5 414.8,413.1 414.9,443.8 414.9,483.1 415.0,519.9 415.1,549.6 415.2,570.5 415.3,585.1 415.5,595.5 415.7,601.9 415.9,605.8 416.2,607.8 416.6,608.7 416.8,608.9 416.9,608.9 417.0,608.9 417.1,608.9 417.1,608.9 417.2,608.8 417.3,608.7 417.5,608.3 417.9,607.2 418.2,604.9 418.5,600.8 418.7,594.3 418.8,583.6 418.9,568.7 419.0,547.3 419.1,516.8 419.2,478.7 419.2,437.6 419.3,405.3 419.3,390.8 419.3,387.5 419.4,390.7 419.4,405.1 419.4,437.3 419.5,478.4 419.5,516.4 419.6,547.0 419.7,568.3 419.8,583.1 420.0,593.7 420.2,600.2 420.5,604.1 420.8,606.1 421.2,607.1 421.3,607.2 421.4,607.3 421.5,607.3 421.6,607.3 421.7,607.2 421.8,607.2 421.9,607.1 422.1,606.7 422.4,605.5 422.7,603.3 423.0,599.2 423.2,592.5 423.4,581.7 423.5,566.5 423.6,544.7 423.7,513.2 423.7,473.6 423.8,430.5 423.8,396.2 423.9,380.8 423.9,377.2 423.9,380.7 423.9,396.0 424.0,430.2 424.0,473.2 424.1,512.8 424.2,544.3 424.3,566.1 424.4,581.3 424.5,592.0 424.7,598.6 425.0,602.6 425.3,604.6 425.7,605.6 425.9,605.8 426.0,605.8 426.1,605.8 426.2,605.8 426.2,605.8 426.3,605.7 426.4,605.6 426.6,605.3 427.0,604.1 427.3,601.8 427.6,597.7 427.8,590.9 427.9,579.9 428.0,564.4 428.1,542.0 428.2,509.5 428.3,468.2 428.3,422.7 428.4,386.1 428.4,369.5 428.4,365.7 428.5,369.4 428.5,385.8 428.5,422.3 428.6,467.8 428.6,509.1 428.7,541.6 428.8,564.0 428.9,579.5 429.1,590.4 429.3,597.1 429.6,601.1 429.9,603.2 430.3,604.2 430.4,604.4 430.5,604.4 430.6,604.4 430.7,604.4 430.8,604.4 430.9,604.3 431.0,604.2 431.2,603.9 431.5,602.7 431.8,600.4 432.1,596.2 432.3,589.4 432.5,578.1 432.6,562.4 432.7,539.4 432.8,505.7 432.8,462.6 432.9,414.5 432.9,375.4 433.0,357.6 433.0,353.4 433.0,357.4 433.0,375.1 433.1,414.1 433.1,462.2 433.2,505.4 433.3,539.0 433.4,562.0 433.5,577.8 433.6,588.9 433.8,595.7 434.1,599.8 434.4,601.9 434.8,602.9 435.0,603.1 435.1,603.1 435.2,603.1 435.2,603.1 435.3,603.1 435.4,603.0 435.5,602.9 435.7,602.6 436.1,601.4 436.4,599.1 436.7,594.8 436.9,587.9 437.0,576.5 437.1,560.4 437.2,536.8 437.3,502.1 437.4,457.1 437.4,406.3 437.5,364.5 437.5,345.4 437.5,340.9 437.5,345.3 437.6,364.3 437.6,406.0 437.7,456.7 437.7,501.7 437.8,536.5 437.9,560.0 438.0,576.1 438.2,587.4 438.4,594.3 438.6,598.4 439.0,600.5 439.3,601.5 439.5,601.7 439.6,601.8 439.7,601.8 439.8,601.8 439.8,601.8 439.9,601.7 440.0,601.6 440.2,601.3 440.6,600.0 440.9,597.7 441.2,593.4 441.4,586.4 441.5,574.8 441.6,558.4 441.7,534.3 441.8,498.5 441.9,451.7 441.9,398.3 442.0,353.8 442.0,333.3 442.0,328.5 442.1,333.2 442.1,353.5 442.1,397.9 442.2,451.3 442.2,498.1 442.3,534.0 442.4,558.1 442.5,574.4 442.7,585.9 442.9,592.9 443.2,597.0 443.5,599.2 443.8,600.2 444.0,600.4 444.1,600.5 444.2,600.5 444.3,600.5 444.3,600.5 444.4,600.4 444.5,600.3 444.7,599.9 445.1,598.7 445.4,596.4 445.7,592.0 445.9,584.9 446.0,573.1 446.1,556.5 446.2,531.8 446.3,495.0 446.4,446.5 446.4,390.4 446.5,343.2 446.5,321.3 446.5,316.1 446.5,321.1 446.6,342.9 446.6,390.0 446.7,446.1 446.7,494.7 446.8,531.5 446.9,556.1 447.0,572.8 447.2,584.4 447.4,591.5 447.6,595.7 447.9,597.9 448.3,598.9 448.5,599.1 448.6,599.2 448.7,599.2 448.7,599.2 448.8,599.1 448.9,599.1 449.0,598.9 449.2,598.6 449.6,597.4 449.9,595.0 450.1,590.6 450.3,583.4 450.5,571.5 450.6,554.5 450.7,529.4 450.8,491.6 450.8,441.4 450.9,382.7 450.9,332.8 451.0,309.5 451.0,304.0 451.0,309.3 451.0,332.6 451.1,382.3 451.1,441.0 451.2,491.2 451.3,529.0 451.4,554.1 451.5,571.0 451.6,582.8 451.8,589.9 452.1,594.2 452.4,596.4 452.8,597.5 452.9,597.7 453.0,597.8 453.1,597.8 453.2,597.8 453.3,597.8 453.4,597.7 453.5,597.6 453.6,597.2 454.0,595.8 454.3,593.2 454.6,588.3 454.8,580.5 454.9,567.9 455.0,550.4 455.1,524.6 455.2,486.1 455.3,434.8 455.3,374.5 455.4,322.6 455.4,298.1 455.4,292.3 455.4,298.0 455.5,322.4 455.5,374.1 455.6,434.3 455.6,485.4 455.7,523.7 455.8,549.3 455.9,566.8 456.1,579.2 456.3,587.0 456.5,591.9 456.8,594.6 457.2,595.9 457.4,596.2 457.5,596.3 457.6,596.4 457.6,596.4 457.7,596.3 457.8,596.2 457.9,596.0 458.1,595.6 458.4,593.7 458.7,590.4 459.0,584.4 459.2,575.3 459.4,561.4 459.5,542.7 459.6,516.0 459.6,477.0 459.7,425.6 459.8,365.1 459.8,312.6 459.8,287.5 459.9,281.6 459.9,287.4 459.9,312.3 460.0,364.6 460.0,424.8 460.1,475.9 460.1,514.6 460.2,541.0 460.3,559.6 460.5,573.4 460.7,582.5 461.0,588.6 461.3,592.1 461.6,594.1 461.8,594.5 461.9,594.7 462.0,594.7 462.1,594.7 462.1,594.7 462.2,594.5 462.3,594.3 462.5,593.7 462.9,591.2 463.2,586.6 463.5,579.1 463.7,568.1 463.8,552.2 463.9,531.7 464.0,503.7 464.1,464.1 464.2,413.0 464.2,353.5 464.2,301.9 464.3,277.1 464.3,271.3 464.3,277.0 464.4,301.6 464.4,353.0 464.5,412.0 464.5,462.6 464.6,501.9 464.7,529.6 464.8,549.8 464.9,565.7 465.1,576.7 465.4,584.5 465.7,589.3 466.1,592.0 466.3,592.6 466.4,592.8 466.5,592.9 466.5,592.9 466.6,592.8 466.7,592.7 466.8,592.4 467.0,591.5 467.3,588.2 467.6,582.3 467.9,572.8 468.1,559.5 468.3,541.0 468.4,518.4 468.5,488.6 468.5,448.0 468.6,397.2 468.6,339.3 468.7,289.5 468.7,265.8 468.7,260.1 468.8,265.6 468.8,289.2 468.8,338.7 468.9,396.1 469.0,446.3 469.0,486.5 469.1,516.0 469.2,538.5 469.4,556.9 469.6,570.3 469.9,580.0 470.2,586.2 470.5,589.7 470.7,590.6 470.8,590.8 470.9,590.9 471.0,591.0 471.0,590.9 471.1,590.7 471.2,590.3 471.4,589.2 471.8,585.0 472.1,577.8 472.3,566.2 472.5,550.6 472.7,529.5 472.8,504.4 472.9,472.5 473.0,430.5 473.0,379.9 473.1,323.6 473.1,276.0 473.2,253.5 473.2,248.2 473.2,253.4 473.2,275.7 473.3,322.9 473.3,378.7 473.4,428.9 473.5,470.5 473.6,502.1 473.7,527.1 473.8,548.2 474.0,563.9 474.3,575.6 474.6,583.1 475.0,587.4 475.1,588.5 475.2,588.9 475.3,589.0 475.4,589.0 475.5,588.9 475.6,588.7 475.7,588.3 475.8,587.0 476.2,582.1 476.5,573.7 476.8,560.4 477.0,542.9 477.1,519.5 477.2,492.2 477.3,458.4 477.4,414.9 477.5,363.8 477.5,308.3 477.6,262.4 477.6,241.0 477.6,235.9 477.6,240.9 477.7,262.1 477.7,307.7 477.8,362.8 477.8,413.7 477.9,456.9 478.0,490.6 478.1,517.7 478.3,541.1 478.5,558.7 478.7,572.0 479.0,580.4 479.4,585.3 479.6,586.5 479.7,586.9 479.8,587.1 479.8,587.1 479.9,587.0 480.0,586.8 480.1,586.3 480.3,584.9 480.6,579.6 480.9,570.6 481.2,556.4 481.4,537.8 481.6,513.1 481.7,484.5 481.8,449.1 481.8,404.1 481.9,351.7 482.0,295.6 482.0,249.9 482.0,228.7 482.1,223.7 482.1,228.5 482.1,249.6 482.2,295.1 482.2,351.0 482.3,403.2 482.3,448.1 482.4,483.3 482.5,511.9 482.7,536.5 482.9,555.2 483.2,569.2 483.5,578.1 483.8,583.3 484.0,584.5 484.1,585.0 484.2,585.1 484.3,585.2 484.3,585.1 484.4,584.8 484.5,584.3 484.7,582.9 485.1,577.3 485.4,567.8 485.7,553.1 485.9,533.5 486.0,507.7 486.1,477.9 486.2,441.2 486.3,394.6 486.3,340.7 486.4,283.7 486.4,237.6 486.5,216.4 486.5,211.5 486.5,216.3 486.5,237.3 486.6,283.2 486.6,340.0 486.7,393.7 486.8,440.2 486.9,476.8 487.0,506.6 487.1,532.3 487.3,551.8 487.6,566.5 487.9,575.9 488.3,581.3 488.4,582.6 488.6,583.1 488.6,583.2 488.7,583.3 488.8,583.2 488.9,582.9 489.0,582.4 489.2,580.9 489.5,575.1 489.8,565.2 490.1,549.8 490.3,529.4 490.4,502.6 490.6,471.5 490.6,433.5 490.7,385.4 490.8,330.2 490.8,272.2 490.9,225.8 490.9,204.6 490.9,199.7 491.0,204.5 491.0,225.5 491.0,271.7 491.1,329.5 491.1,384.5 491.2,432.5 491.3,470.5 491.4,501.5 491.6,528.3 491.8,548.6 492.0,563.9 492.3,573.7 492.7,579.4 492.9,580.7 493.0,581.2 493.1,581.4 493.1,581.4 493.2,581.4 493.3,581.1 493.4,580.5 493.6,579.0 493.9,572.9 494.3,562.7 494.5,546.6 494.7,525.5 494.9,497.6 495.0,465.5 495.1,426.1 495.2,376.7 495.2,320.3 495.3,261.5 495.3,215.0 495.3,193.8 495.4,189.0 495.4,193.7 495.4,214.7 495.5,261.1 495.5,319.6 495.6,375.9 495.7,425.2 495.7,464.5 495.9,496.5 496.0,524.4 496.2,545.5 496.5,561.4 496.8,571.6 497.1,577.5 497.3,578.9 497.4,579.4 497.5,579.6 497.6,579.6 497.6,579.6 497.7,579.3 497.8,578.7 498.0,577.1 498.4,570.8 498.7,560.2 499.0,543.5 499.2,521.6 499.3,492.7 499.4,459.5 499.5,419.0 499.6,368.3 499.6,311.0 499.7,251.8 499.7,205.5 499.8,184.6 499.8,179.8 499.8,184.6 499.9,205.3 499.9,251.4 499.9,310.4 500.0,367.6 500.1,418.1 500.2,458.5 500.3,491.6 500.4,520.5 500.6,542.4 500.9,558.9 501.2,569.5 501.6,575.6 501.7,577.1 501.9,577.6 501.9,577.8 502.0,577.9 502.1,577.8 502.2,577.5 502.3,576.9 502.5,575.2 502.8,568.8 503.1,557.7 503.4,540.5 503.6,517.8 503.7,488.0 503.9,453.8 503.9,412.3 504.0,360.6 504.1,302.6 504.1,243.4 504.2,197.5 504.2,177.1 504.2,172.4 504.3,177.0 504.3,197.4 504.3,243.1 504.4,302.1 504.4,360.0 504.5,411.5 504.6,453.0 504.7,487.1 504.9,516.8 505.1,539.5 505.3,556.6 505.6,567.6 506.0,573.9 506.2,575.5 506.3,576.0 506.4,576.3 506.4,576.3 506.5,576.2 506.6,575.9 506.7,575.3 506.9,573.6 507.2,567.0 507.6,555.6 507.8,538.0 508.0,514.7 508.2,484.1 508.3,449.2 508.4,406.8 508.4,354.4 508.5,295.9 508.6,236.8 508.6,191.3 508.6,171.2 508.7,166.6 508.7,171.1 508.7,191.2 508.8,236.5 508.8,295.5 508.9,353.9 508.9,406.2 509.0,448.5 509.1,483.5 509.3,514.0 509.5,537.2 509.8,554.8 510.1,566.1 510.4,572.6 510.6,574.3 510.7,574.9 510.8,575.1 510.9,575.1 510.9,575.1 511.0,574.8 511.1,574.2 511.3,572.5 511.7,565.7 512.0,554.2 512.2,536.2 512.4,512.6 512.6,481.6 512.7,446.1 512.8,403.2 512.9,350.3 512.9,291.6 513.0,232.5 513.0,187.4 513.1,167.5 513.1,162.9 513.1,167.5 513.1,187.3 513.2,232.4 513.2,291.4 513.3,350.1 513.4,402.9 513.5,445.7 513.6,481.1 513.7,512.1 513.9,535.8 514.2,553.7 514.5,565.2 514.9,571.9 515.0,573.6 515.1,574.1 515.2,574.4 515.3,574.4 515.4,574.4 515.5,574.1 515.6,573.5 515.7,571.8 516.1,565.0 516.4,553.4 516.7,535.2 516.9,511.4 517.0,480.1 517.1,444.4 517.2,401.3 517.3,348.2 517.4,289.4 517.4,230.6 517.5,185.8 517.5,166.0 517.5,161.5 517.5,166.0 517.6,185.7 517.6,230.5 517.7,289.4 517.7,348.2 517.8,401.2 517.9,444.3 518.0,480.0 518.2,511.2 518.4,535.1 518.6,553.2 518.9,564.8 519.3,571.6 519.5,573.3 519.6,573.9 519.7,574.2 519.7,574.2 519.8,574.2 519.9,573.9 520.0,573.3 520.2,571.6 520.5,564.9 520.8,553.4 521.1,535.3 521.3,511.6 521.5,480.4 521.6,444.9 521.7,401.9 521.7,349.0 521.8,290.3 521.8,231.4 521.9,186.5 521.9,166.7 521.9,162.2 522.0,166.8 522.0,186.6 522.0,231.5 522.1,290.5 522.2,349.3 522.2,402.3 522.3,445.3 522.4,480.9 522.6,512.1 522.8,535.8 523.1,553.9 523.4,565.5 523.7,572.3 523.9,574.1 524.0,574.7 524.1,575.0 524.2,575.0 524.2,575.0 524.3,574.8 524.4,574.2 524.6,572.6 525.0,566.1 525.3,554.9 525.5,537.4 525.7,514.2 525.9,483.8 526.0,449.0 526.1,406.8 526.2,354.4 526.2,295.9 526.3,236.4 526.3,190.6 526.3,170.2 526.4,165.6 526.4,170.3 526.4,190.7 526.5,236.7 526.5,296.4 526.6,355.2 526.7,407.7 526.7,450.0 526.9,484.9 527.0,515.4 527.2,538.6 527.5,556.2 527.8,567.5 528.1,574.2 528.3,575.9 528.4,576.5 528.5,576.8 528.6,576.9 528.6,576.8 528.7,576.6 528.8,576.1 529.0,574.6 529.4,568.4 529.7,557.6 530.0,540.8 530.2,518.5 530.3,489.2 530.4,455.5 530.5,414.4 530.6,363.1 530.6,305.0 530.7,245.2 530.7,198.3 530.8,177.3 530.8,172.5 530.8,177.4 530.8,198.6 530.9,245.6 530.9,305.7 531.0,364.0 531.1,415.5 531.2,456.7 531.3,490.5 531.4,519.9 531.6,542.2 531.9,559.1 532.2,570.0 532.6,576.4 532.7,578.0 532.8,578.7 532.9,578.9 533.0,579.0 533.1,579.0 533.2,578.8 533.3,578.3 533.4,576.9 533.8,571.0 534.1,560.7 534.4,544.6 534.6,523.3 534.7,495.3 534.8,462.9 534.9,423.2 535.0,373.3 535.0,316.2 535.1,256.6 535.1,209.2 535.2,187.7 535.2,182.8 535.2,187.8 535.3,209.5 535.3,257.1 535.3,317.0 535.4,374.3 535.5,424.4 535.6,464.2 535.7,496.7 535.8,524.8 536.0,546.2 536.3,562.4 536.6,572.7 537.0,578.8 537.1,580.4 537.2,581.0 537.3,581.3 537.4,581.4 537.5,581.4 537.5,581.2 537.7,580.7 537.8,579.4 538.2,573.8 538.5,564.1 538.7,548.8 538.9,528.6 539.1,501.9 539.2,471.0 539.3,432.9 539.4,384.7 539.4,329.0 539.5,270.0 539.5,222.4 539.6,200.6 539.6,195.6 539.6,200.8 539.6,222.8 539.7,270.6 539.7,329.9 539.8,385.8 539.9,434.2 539.9,472.4 540.1,503.4 540.2,530.2 540.4,550.4 540.7,565.8 541.0,575.6 541.3,581.4 541.5,582.9 541.6,583.5 541.7,583.8 541.8,583.8 541.8,583.8 541.9,583.7 542.0,583.2 542.2,582.0 542.5,576.7 542.8,567.6 543.1,553.1 543.3,534.0 543.5,508.8 543.6,479.4 543.6,443.2 543.7,396.9 543.8,342.9 543.8,285.0 543.9,237.5 543.9,215.6 543.9,210.5 544.0,215.7 544.0,237.9 544.0,285.7 544.1,343.9 544.1,398.1 544.2,444.5 544.3,480.9 544.4,510.3 544.6,535.7 544.8,554.8 545.0,569.3 545.3,578.6 545.7,584.1 545.8,585.5 545.9,586.0 546.0,586.3 546.1,586.4 546.2,586.4 546.3,586.2 546.4,585.8 546.5,584.6 546.9,579.7 547.2,571.1 547.4,557.6 547.6,539.7 547.8,515.8 547.9,488.1 548.0,453.8 548.1,409.6 548.1,357.5 548.2,300.8 548.2,253.6 548.2,231.5 548.3,226.4 548.3,231.7 548.3,254.0 548.4,301.5 548.4,358.6 548.5,410.9 548.5,455.2 548.6,489.7 548.7,517.5 548.9,541.4 549.1,559.4 549.3,573.0 549.7,581.7 550.0,586.8 550.2,588.2 550.3,588.7 550.4,588.9 550.4,589.0 550.5,589.0 550.6,588.9 550.7,588.5 550.9,587.4 551.2,583.0 551.5,575.2 551.8,563.1 552.0,546.8 552.1,525.2 552.2,499.7 552.3,467.7 552.4,425.8 552.4,375.3 552.5,319.0 552.5,271.0 552.6,248.1 552.6,242.7 552.6,248.2 552.6,271.4 552.7,319.9 552.7,376.7 552.8,427.6 552.9,469.8 553.0,502.1 553.1,527.7 553.2,549.4 553.4,565.6 553.7,577.7 554.0,585.3 554.3,589.8 554.5,591.0 554.6,591.4 554.7,591.6 554.7,591.7 554.8,591.7 554.9,591.6 555.0,591.3 555.2,590.4 555.5,586.7 555.8,580.3 556.1,570.0 556.3,556.2 556.4,537.3 556.5,514.5 556.6,485.0 556.7,445.3 556.8,395.9 556.8,339.2 556.8,289.8 556.9,266.0 556.9,260.5 556.9,266.2 557.0,290.3 557.0,340.1 557.0,397.3 557.1,447.2 557.2,487.3 557.3,517.1 557.4,540.0 557.5,559.0 557.7,572.8 558.0,582.9 558.3,589.2 558.6,592.8 558.8,593.8 558.9,594.1 559.0,594.3 559.1,594.4 559.1,594.4 559.2,594.3 559.3,594.1 559.5,593.4 559.8,590.6 560.1,585.5 560.4,577.3 560.6,565.8 560.7,549.6 560.8,529.3 560.9,502.1 561.0,464.1 561.1,415.6 561.1,359.0 561.2,309.5 561.2,285.5 561.2,280.0 561.2,285.7 561.3,309.9 561.3,359.8 561.3,416.8 561.4,465.8 561.5,504.1 561.6,531.7 561.7,552.1 561.8,568.4 562.0,579.9 562.3,588.0 562.6,592.9 562.9,595.7 563.1,596.4 563.2,596.7 563.3,596.9 563.4,596.9 563.4,596.9 563.5,596.9 563.6,596.8 563.8,596.3 564.1,594.2 564.4,590.4 564.7,583.9 564.9,574.5 565.0,560.5 565.1,542.2 565.2,516.6 565.3,479.9 565.4,432.1 565.4,376.2 565.5,327.6 565.5,304.3 565.5,298.9 565.5,304.5 565.6,328.0 565.6,376.9 565.7,433.1 565.7,481.2 565.8,518.3 565.9,544.1 566.0,562.6 566.1,576.7 566.3,586.2 566.6,592.6 566.9,596.4 567.2,598.5 567.4,599.1 567.5,599.3 567.6,599.4 567.7,599.4 567.7,599.5 567.8,599.5 567.9,599.4 568.1,599.1 568.4,597.6 568.7,594.7 569.0,589.6 569.2,581.6 569.3,569.2 569.4,552.2 569.5,527.7 569.6,491.8 569.7,444.8 569.7,390.1 569.8,343.4 569.8,321.4 569.8,316.3 569.8,321.6 569.9,343.8 569.9,390.7 570.0,445.5 570.0,492.8 570.1,528.9 570.2,553.6 570.3,570.8 570.4,583.4 570.6,591.4 570.9,596.6 571.2,599.6 571.5,601.2 571.7,601.6 571.8,601.8 571.9,601.9 572.0,601.9 572.0,601.9 572.1,601.9 572.2,601.9 572.4,601.7 572.7,600.6 573.0,598.3 573.3,594.0 573.5,586.9 573.6,575.3 573.8,559.1 573.8,535.2 573.9,500.1 574.0,454.2 574.0,401.8 574.1,358.2 574.1,338.1 574.1,333.5 574.1,338.3 574.2,358.6 574.2,402.3 574.3,454.8 574.3,500.7 574.4,536.0 574.5,559.9 574.6,576.3 574.7,588.0 574.9,595.2 575.2,599.7 575.5,602.2 575.8,603.5 576.0,603.9 576.1,604.0 576.2,604.1 576.3,604.1 576.3,604.1 576.4,604.1 576.5,604.1 576.7,603.9 577.1,603.0 577.4,600.9 577.6,596.8 577.8,590.1 578.0,578.9 578.1,563.0 578.2,539.8 578.2,505.7 578.3,461.9 578.3,412.9 578.4,372.9 578.4,354.7 578.4,350.6 578.5,354.9 578.5,373.2 578.5,413.3 578.6,462.4 578.6,506.2 578.7,540.3 578.8,563.5 578.9,579.4 579.1,590.7 579.3,597.6 579.5,601.8 579.8,604.1 580.2,605.4 580.3,605.7 580.5,605.8 580.5,605.9 580.6,605.9 580.7,605.9 580.8,605.9 580.9,605.9 581.0,605.7 581.4,604.7 581.7,602.7 581.9,598.6 582.1,592.0 582.3,581.0 582.4,565.6 582.5,543.1 582.6,510.5 582.6,469.2 582.7,423.6 582.7,387.0 582.8,370.6 582.8,366.9 582.8,370.8 582.8,387.4 582.9,424.0 582.9,469.6 583.0,511.0 583.1,543.5 583.1,566.0 583.3,581.4 583.4,592.4 583.6,599.2 583.9,603.4 584.2,605.6 584.5,606.8 584.7,607.1 584.8,607.2 584.9,607.3 584.9,607.3 585.0,607.3 585.1,607.3 585.2,607.3 585.4,607.1 585.7,606.1 586.0,604.0 586.3,600.1 586.5,593.5 586.6,582.8 586.8,567.8 586.8,546.1 586.9,515.0 587.0,476.0 587.0,433.8 587.1,400.3 587.1,385.5 587.1,382.2 587.1,385.6 587.2,400.7 587.2,434.2 587.3,476.5 587.3,515.4 587.4,546.5 587.5,568.2 587.6,583.2 587.8,594.0 588.0,600.6 588.2,604.7 588.5,606.8 588.9,608.0 589.0,608.3 589.2,608.4 589.2,608.5 589.3,608.5 589.4,608.5 589.5,608.5 589.6,608.4 589.7,608.2 590.1,607.2 590.4,605.2 590.7,601.3 590.9,594.9 591.0,584.4 591.1,569.9 591.2,549.0 591.3,519.4 591.4,482.8 591.4,443.7 591.4,413.4 591.5,400.0 591.5,397.0 591.5,400.1 591.6,413.7 591.6,444.2 591.6,483.2 591.7,519.8 591.8,549.4 591.9,570.2 592.0,584.8 592.1,595.3 592.3,601.7 592.6,605.7 592.9,607.9 593.3,609.0 593.4,609.3 593.5,609.4 593.6,609.4 593.7,609.4 593.8,609.4 593.8,609.4 594.0,609.4 594.1,609.1 594.5,608.2 594.8,606.2 595.0,602.3 595.2,596.1 595.4,585.9 595.5,571.8 595.6,551.7 595.7,523.5 595.7,489.2 595.8,453.2 595.8,425.6 595.9,413.5 595.9,410.8 595.9,413.7 595.9,425.9 596.0,453.6 596.0,489.6 596.1,523.9 596.2,552.1 596.3,572.1 596.4,586.2 596.5,596.4 596.7,602.7 597.0,606.6 597.3,608.6 597.6,609.7 597.8,610.0 597.9,610.1 598.0,610.1 598.1,610.1 598.1,610.1 598.2,610.1 598.3,610.1 598.5,609.8 598.9,608.9 599.2,606.9 599.4,603.1 599.6,597.0 599.8,587.0 599.9,573.4 600.0,554.0 600.1,527.1 600.1,494.8 600.2,461.3 600.2,435.9 600.2,425.0 600.3,422.5 600.3,425.1 600.3,436.2 600.4,461.6 600.4,495.1 600.5,527.5 600.5,554.3 600.6,573.6 600.7,587.3 600.9,597.2 601.1,603.4 601.4,607.2 601.7,609.2 602.0,610.3 602.2,610.5 602.3,610.6 602.4,610.7 602.5,610.7 602.5,610.7 602.6,610.7 602.7,610.6 602.9,610.4 603.2,609.4 603.6,607.5 603.8,603.8 604.0,597.8 604.2,588.1 604.3,574.8 604.4,556.2 604.4,530.6 604.5,500.1 604.6,469.1 604.6,445.8 604.6,435.8 604.6,433.6 604.7,435.9 604.7,446.1 604.7,469.4 604.8,500.5 604.9,530.9 604.9,556.5 605.0,575.0 605.1,588.3 605.3,598.0 605.5,604.0 605.7,607.7 606.1,609.7 606.4,610.7 606.6,611.0 606.7,611.1 606.8,611.1 606.8,611.1 606.9,611.1 607.0,611.1 607.1,611.0 607.3,610.8 607.6,609.9 607.9,608.0 608.2,604.3 608.4,598.5 608.6,589.1 608.7,576.3 608.8,558.5 608.8,534.2 608.9,505.8 608.9,477.3 609.0,456.2 609.0,447.2 609.0,445.3 609.1,447.4 609.1,456.5 609.1,477.6 609.2,506.2 609.3,534.6 609.3,558.8 609.4,576.5 609.5,589.3 609.7,598.7 609.9,604.5 610.1,608.2 610.4,610.1 610.8,611.1 611.0,611.3 611.1,611.4 611.2,611.4 611.2,611.4 611.3,611.4 611.4,611.4 611.5,611.3 611.7,611.1 612.0,610.2 612.3,608.3 612.6,604.8 612.8,599.1 612.9,590.0 613.1,577.7 613.1,560.8 613.2,538.0 613.3,511.7 613.3,485.7 613.4,466.7 613.4,458.8 613.4,457.0 613.5,458.9 613.5,467.0 613.5,486.1 613.6,512.1 613.6,538.4 613.7,561.1 613.8,578.0 613.9,590.2 614.1,599.3 614.3,604.9 614.5,608.5 614.8,610.3 615.2,611.3 615.4,611.5 615.5,611.6 615.6,611.6 615.6,611.6 615.7,611.6 615.8,611.6 615.9,611.5 616.1,611.3 616.4,610.4 616.7,608.5 617.0,605.1 617.2,599.6 617.3,590.8 617.5,579.1 617.5,563.0 617.6,541.7 617.7,517.4 617.7,493.8 617.8,476.9 617.8,469.8 617.8,468.2 617.8,469.9 617.9,477.1 617.9,494.2 618.0,517.8 618.0,542.0 618.1,563.3 618.2,579.3 618.3,591.0 618.5,599.7 618.7,605.2 618.9,608.6 619.2,610.4 619.6,611.3 619.8,611.5 619.9,611.6 620.0,611.6 620.0,611.7 620.1,611.7 620.2,611.6 620.3,611.5 620.5,611.3 620.8,610.4 621.1,608.6 621.4,605.3 621.6,600.0 621.7,591.5 621.8,580.3 621.9,565.0 622.0,545.0 622.1,522.5 622.1,501.0 622.2,485.7 622.2,479.3 622.2,477.9 622.2,479.4 622.3,485.9 622.3,501.3 622.4,522.8 622.4,545.3 622.5,565.3 622.6,580.5 622.7,591.7 622.9,600.1 623.1,605.4 623.3,608.7 623.6,610.5 624.0,611.3 624.2,611.6 624.3,611.6 624.3,611.7 624.4,611.7 624.5,611.7 624.6,611.6 624.7,611.6 624.9,611.3 625.2,610.5 625.5,608.7 625.8,605.5 626.0,600.3 626.1,592.2 626.2,581.4 626.3,566.9 626.4,548.1 626.5,527.3 626.5,507.5 626.6,493.7 626.6,488.0 626.6,486.8 626.6,488.1 626.7,493.9 626.7,507.8 626.8,527.6 626.8,548.4 626.9,567.2 627.0,581.6 627.1,592.3 627.2,600.4 627.4,605.6 627.7,608.8 628.0,610.5 628.4,611.4 628.5,611.6 628.7,611.6 628.7,611.7 628.8,611.7 628.9,611.7 629.0,611.6 629.1,611.6 629.2,611.4 629.6,610.5 629.9,608.8 630.2,605.7 630.4,600.7 630.5,592.9 630.6,582.6 630.7,568.9 630.8,551.2 630.9,532.0 630.9,514.0 630.9,501.6 631.0,496.5 631.0,495.4 631.0,496.5 631.1,501.7 631.1,514.3 631.2,532.3 631.2,551.5 631.3,569.1 631.4,582.8 631.5,593.0 631.6,600.8 631.8,605.8 632.1,608.9 632.4,610.5 632.8,611.4 632.9,611.6 633.0,611.6 633.1,611.7 633.2,611.7 633.3,611.7 633.4,611.6 633.5,611.6 633.6,611.4 634.0,610.5 634.3,608.9 634.6,605.9 634.8,601.1 634.9,593.6 635.0,583.7 635.1,570.8 635.2,554.2 635.2,536.4 635.3,520.0 635.3,508.7 635.4,504.2 635.4,503.2 635.4,504.2 635.4,508.9 635.5,520.3 635.5,536.7 635.6,554.5 635.7,571.0 635.8,583.9 635.9,593.7 636.0,601.2 636.2,605.9 636.5,608.9 636.8,610.6 637.1,611.4 637.3,611.6 637.4,611.6 637.5,611.7 637.6,611.7 637.7,611.7 637.7,611.6 637.8,611.6 638.0,611.4 638.4,610.6 638.7,609.0 638.9,606.1 639.1,601.4 639.3,594.2 639.4,584.8 639.5,572.5 639.6,557.1 639.6,540.6 639.7,525.6 639.7,515.3 639.8,511.2 639.8,510.3 639.8,511.3 639.8,515.5 639.9,525.8 639.9,540.9 640.0,557.3 640.1,572.8 640.1,585.0 640.3,594.4 640.4,601.5 640.6,606.2 640.9,609.1 641.2,610.6 641.5,611.4 641.7,611.6 641.8,611.7 641.9,611.7 642.0,611.7 642.0,611.7 642.1,611.7 642.2,611.6 642.4,611.4 642.8,610.7 643.1,609.1 643.3,606.3 643.5,601.8 643.7,594.9 643.8,586.0 643.9,574.4 643.9,560.0 644.0,544.7 644.1,531.0 644.1,521.8 644.1,518.1 644.2,517.3 644.2,518.2 644.2,522.0 644.3,531.3 644.3,545.0 644.4,560.2 644.4,574.7 644.5,586.2 644.6,595.1 644.8,602.0 645.0,606.4 645.2,609.2 645.6,610.7 645.9,611.5 646.1,611.7 646.2,611.8 646.3,611.8 646.3,611.8 646.4,611.8 646.5,611.8 646.6,611.7 646.8,611.6 647.1,610.8 647.4,609.4 647.7,606.6 647.9,602.4 648.0,595.7 648.2,587.2 648.2,576.3 648.3,562.7 648.4,548.7 648.4,536.1 648.5,527.7 648.5,524.4 648.5,523.6 648.6,524.4 648.6,527.8 648.6,536.3 648.7,548.9 648.7,563.0 648.8,576.5 648.9,587.4 649.0,595.9 649.2,602.5 649.4,606.8 649.6,609.5 649.9,611.0 650.3,611.7 650.5,611.9 650.6,612.0 650.6,612.0 650.7,612.0 650.8,612.0 650.9,612.0 651.0,612.0 651.1,611.8 651.5,611.1 651.8,609.7 652.1,607.1 652.3,602.9 652.4,596.6 652.5,588.4 652.6,578.0 652.7,565.2 652.7,552.1 652.8,540.4 652.8,532.7 652.9,529.6 652.9,529.0 652.9,529.7 652.9,532.8 653.0,540.6 653.0,552.3 653.1,565.5 653.2,578.2 653.3,588.6 653.4,596.7 653.5,603.1 653.7,607.2 654.0,609.9 654.3,611.3 654.6,612.0 654.8,612.2 654.9,612.3 655.0,612.3 655.1,612.3 655.1,612.3 655.2,612.3 655.3,612.3 655.5,612.1 655.9,611.4 656.2,610.1 656.4,607.5 656.6,603.5 656.8,597.4 656.9,589.5 657.0,579.6 657.1,567.4 657.1,555.0 657.2,544.1 657.2,537.0 657.2,534.1 657.3,533.5 657.3,534.1 657.3,537.1 657.4,544.3 657.4,555.2 657.5,567.6 657.5,579.8 657.6,589.7 657.7,597.6 657.9,603.7 658.1,607.7 658.4,610.3 658.7,611.7 659.0,612.4 659.2,612.6 659.3,612.7 659.4,612.7 659.4,612.7 659.5,612.7 659.6,612.7 659.7,612.6 659.9,612.5 660.2,611.8 660.5,610.5 660.8,608.0 661.0,604.1 661.1,598.2 661.3,590.6 661.3,581.1 661.4,569.5 661.5,557.7 661.5,547.5 661.6,540.8 661.6,538.1 661.6,537.5 661.6,538.1 661.7,540.8 661.7,547.6 661.8,557.9 661.8,569.7 661.9,581.3 662.0,590.8 662.1,598.4 662.3,604.3 662.5,608.2 662.7,610.7 663.0,612.1 663.4,612.8 663.5,613.0 663.7,613.1 663.7,613.1 663.8,613.1 663.9,613.1 664.0,613.1 664.1,613.0 664.2,612.9 664.6,612.3 664.9,611.0 665.2,608.6 665.4,604.8 665.5,599.0 665.6,591.7 665.7,582.6 665.8,571.5 665.8,560.4 665.9,550.7 665.9,544.4 666.0,542.0 666.0,541.4 666.0,542.0 666.0,544.5 666.1,550.9 666.1,560.6 666.2,571.7 666.3,582.8 666.4,591.9 666.5,599.2 666.6,605.0 666.8,608.8 667.1,611.2 667.4,612.6 667.7,613.3 667.9,613.4 668.0,613.5 668.1,613.5 668.2,613.5 668.2,613.5 668.3,613.5 668.4,613.5 668.6,613.3 669.0,612.7 669.3,611.5 669.5,609.1 669.7,605.5 669.9,599.9 670.0,592.9 670.1,584.1 670.1,573.6 670.2,563.1 670.3,554.0 670.3,548.1 670.3,545.8 670.4,545.3 670.4,545.9 670.4,548.2 670.5,554.2 670.5,563.3 670.6,573.8 670.6,584.3 670.7,593.1 670.8,600.1 671.0,605.7 671.2,609.4 671.5,611.8 671.8,613.1 672.1,613.8 672.3,613.9 672.4,614.0 672.5,614.0 672.5,614.1 672.6,614.1 672.7,614.0 672.8,614.0 673.0,613.9 673.3,613.3 673.6,612.1 673.9,609.8 674.1,606.3 674.2,600.9 674.4,594.2 674.4,585.8 674.5,575.8 674.6,565.9 674.6,557.4 674.7,551.9 674.7,549.7 674.7,549.3 674.8,549.7 674.8,552.0 674.8,557.5 674.9,566.1 674.9,576.0 675.0,586.0 675.1,594.4 675.2,601.2 675.4,606.6 675.6,610.1 675.8,612.5 676.1,613.7 676.5,614.4 676.7,614.6 676.8,614.7 676.9,614.7 676.9,614.7 677.0,614.7 677.1,614.7 677.2,614.7 677.4,614.6 677.7,614.0 678.0,612.9 678.3,610.7 678.5,607.3 678.6,602.1 678.7,595.6 678.8,587.6 678.9,578.1 679.0,568.8 679.0,560.8 679.1,555.7 679.1,553.7 679.1,553.3 679.1,553.7 679.2,555.8 679.2,561.0 679.3,569.0 679.3,578.4 679.4,587.9 679.5,595.9 679.6,602.4 679.7,607.6 679.9,611.1 680.2,613.3 680.5,614.6 680.9,615.2 681.0,615.4 681.1,615.5 681.2,615.5 681.3,615.6 681.4,615.6 681.5,615.6 681.6,615.5 681.7,615.4 682.1,614.9 682.4,613.8 682.7,611.7 682.9,608.4 683.0,603.4 683.1,597.3 683.2,589.6 683.3,580.7 683.3,571.9 683.4,564.4 683.4,559.7 683.5,557.8 683.5,557.4 683.5,557.9 683.5,559.8 683.6,564.6 683.6,572.1 683.7,580.9 683.8,589.9 683.9,597.5 684.0,603.8 684.1,608.8 684.3,612.1 684.6,614.3 684.9,615.5 685.2,616.2 685.4,616.3 685.5,616.4 685.6,616.4 685.7,616.5 685.8,616.5 685.8,616.5 685.9,616.4 686.1,616.3 686.5,615.8 686.8,614.8 687.0,612.8 687.2,609.6 687.4,604.9 687.5,599.0 687.6,591.8 687.7,583.3 687.7,575.1 687.8,568.2 687.8,563.9 687.9,562.2 687.9,561.8 687.9,562.2 687.9,564.0 688.0,568.4 688.0,575.3 688.1,583.6 688.2,592.0 688.3,599.3 688.4,605.2 688.5,610.0 688.7,613.2 689.0,615.3 689.3,616.5 689.6,617.1 689.8,617.3 689.9,617.3 690.0,617.4 690.1,617.4 690.1,617.4 690.2,617.4 690.3,617.4 690.5,617.3 690.9,616.8 691.2,615.8 691.4,613.8 691.6,610.8 691.8,606.3 691.9,600.7 692.0,593.9 692.1,586.1 692.1,578.4 692.2,572.1 692.2,568.1 692.3,566.5 692.3,566.2 692.3,566.6 692.3,568.2 692.4,572.3 692.4,578.7 692.5,586.3 692.6,594.2 692.7,601.0 692.8,606.6 692.9,611.2 693.1,614.2 693.4,616.2 693.7,617.4 694.0,618.0 694.2,618.1 694.3,618.2 694.4,618.2 694.5,618.2 694.6,618.3 694.6,618.3 694.8,618.2 694.9,618.1 695.3,617.7 695.6,616.7 695.9,614.8 696.1,612.0 696.2,607.7 696.3,602.4 696.4,596.1 696.5,588.7 696.5,581.7 696.6,575.9 696.6,572.3 696.7,570.9 696.7,570.6 696.7,570.9 696.7,572.4 696.8,576.1 696.8,582.0 696.9,589.0 697.0,596.3 697.1,602.7 697.2,608.0 697.3,612.3 697.5,615.2 697.8,617.1 698.1,618.2 698.5,618.7 698.6,618.9 698.8,618.9 698.8,619.0 698.9,619.0 699.0,619.0 699.1,619.0 699.2,619.0 699.3,618.9 699.7,618.4 700.0,617.5 700.3,615.7 700.5,613.0 700.6,609.0 700.7,604.0 700.8,598.1 700.9,591.3 701.0,584.9 701.0,579.6 701.1,576.3 701.1,575.1 701.1,574.8 701.1,575.1 701.2,576.4 701.2,579.8 701.3,585.1 701.3,591.6 701.4,598.4 701.5,604.3 701.6,609.2 701.8,613.3 702.0,616.0 702.2,617.8 702.5,618.8 702.9,619.4 703.1,619.5 703.2,619.6 703.3,619.6 703.3,619.6 703.4,619.6 703.5,619.6 703.6,619.6 703.8,619.5 704.1,619.0 704.4,618.1 704.7,616.5 704.9,613.9 705.1,610.1 705.2,605.5 705.3,600.0 705.3,593.8 705.4,587.9 705.4,583.2 705.5,580.2 705.5,579.1 705.5,578.8 705.6,579.1 705.6,580.3 705.6,583.3 705.7,588.1 705.8,594.0 705.8,600.3 705.9,605.8 706.0,610.4 706.2,614.2 706.4,616.8 706.6,618.5 707.0,619.4 707.3,619.9 707.5,620.0 707.6,620.1 707.7,620.1 707.8,620.1 707.8,620.1 707.9,620.1 708.0,620.1 708.2,620.0 708.6,619.6 708.9,618.8 709.1,617.2 709.3,614.8 709.5,611.2 709.6,606.9 709.7,601.9 709.8,596.1 709.8,590.8 709.9,586.5 709.9,583.8 709.9,582.8 710.0,582.6 710.0,582.8 710.0,583.9 710.1,586.6 710.1,591.0 710.2,596.4 710.3,602.1 710.3,607.2 710.5,611.5 710.6,615.0 710.8,617.5 711.1,619.1 711.4,620.0 711.7,620.4 711.9,620.6 712.0,620.6 712.1,620.6 712.2,620.6 712.2,620.6 712.3,620.6 712.4,620.6 712.6,620.5 713.0,620.1 713.3,619.4 713.5,617.9 713.7,615.6 713.9,612.3 714.0,608.3 714.1,603.6 714.2,598.4 714.2,593.5 714.3,589.6 714.3,587.2 714.4,586.3 714.4,586.1 714.4,586.3 714.4,587.3 714.5,589.8 714.5,593.7 714.6,598.6 714.7,603.8 714.8,608.6 714.9,612.5 715.0,615.9 715.2,618.1 715.5,619.6 715.8,620.5 716.2,620.9 716.3,621.0 716.4,621.1 716.5,621.1 716.6,621.1 716.7,621.1 716.8,621.1 716.9,621.1 717.0,621.0 717.4,620.7 717.7,619.9 718.0,618.5 718.2,616.4 718.3,613.4 718.4,609.7 718.5,605.4 718.6,600.6 718.7,596.3 718.7,592.8 718.8,590.6 718.8,589.8 718.8,589.6 718.8,589.8 718.9,590.7 718.9,592.9 719.0,596.4 719.0,600.9 719.1,605.6 719.2,609.9 719.3,613.6 719.5,616.7 719.7,618.8 719.9,620.2 720.2,621.0 720.6,621.4 720.8,621.5 720.9,621.5 721.0,621.6 721.0,621.6 721.1,621.6 721.2,621.6 721.3,621.6 721.5,621.5 721.8,621.1 722.1,620.5 722.4,619.2 722.6,617.2 722.8,614.4 722.9,611.1 723.0,607.2 723.0,602.9 723.1,599.0 723.1,595.9 723.2,594.0 723.2,593.3 723.2,593.2 723.3,593.4 723.3,594.1 723.3,596.1 723.4,599.2 723.4,603.1 723.5,607.4 723.6,611.3 723.7,614.7 723.9,617.5 724.1,619.4 724.3,620.7 724.7,621.4 725.0,621.8 725.2,621.9 725.3,622.0 725.4,622.0 725.4,622.0 725.5,622.0 725.6,622.0 725.7,622.0 725.9,621.9 726.2,621.6 726.6,621.0 726.8,619.8 727.0,618.0 727.2,615.5 727.3,612.5 727.4,609.0 727.4,605.2 727.5,601.8 727.6,599.1 727.6,597.5 727.6,596.9 727.7,596.8 727.7,596.9 727.7,597.6 727.8,599.3 727.8,602.0 727.9,605.5 727.9,609.3 728.0,612.7 728.1,615.7 728.3,618.3 728.5,620.1 728.8,621.2 729.1,621.9 729.4,622.2 729.6,622.3 729.7,622.4 729.8,622.4 729.9,622.4 729.9,622.4 730.0,622.4 730.1,622.4 730.3,622.3 730.7,622.0 731.0,621.5 731.2,620.4 731.4,618.9 731.6,616.6 731.7,613.9 731.8,610.9 731.9,607.6 731.9,604.6 732.0,602.3 732.0,600.9 732.1,600.4 732.1,600.3 732.1,600.4 732.1,601.0 732.2,602.4 732.2,604.8 732.3,607.8 732.4,611.1 732.5,614.2 732.6,616.8 732.7,619.1 732.9,620.7 733.2,621.7 733.5,622.3 733.9,622.6 734.0,622.7 734.1,622.8 734.2,622.8 734.3,622.8 734.4,622.8 734.5,622.8 734.6,622.8 734.7,622.7 735.1,622.5 735.4,622.0 735.7,621.0 735.9,619.6 736.0,617.6 736.1,615.3 736.2,612.6 736.3,609.7 736.4,607.2 736.4,605.2 736.5,604.0 736.5,603.6 736.5,603.5 736.5,603.6 736.6,604.1 736.6,605.3 736.7,607.3 736.7,609.9 736.8,612.8 736.9,615.5 737.0,617.8 737.2,619.8 737.3,621.3 737.6,622.2 737.9,622.7 738.3,623.0 738.5,623.1 738.6,623.1 738.7,623.2 738.7,623.2 738.8,623.2 738.9,623.2 739.0,623.2 739.2,623.1 739.5,622.9 739.8,622.4 740.1,621.6 740.3,620.4 740.4,618.6 740.6,616.5 740.6,614.2 740.7,611.7 740.8,609.5 740.8,607.8 740.9,606.8 740.9,606.4 740.9,606.3 741.0,606.4 741.0,606.8 741.0,607.9 741.1,609.6 741.1,611.9 741.2,614.4 741.3,616.7 741.4,618.8 741.6,620.6 741.8,621.8 742.0,622.7 742.3,623.2 742.7,623.4 742.9,623.5 743.0,623.5 743.1,623.5 743.1,623.5 743.2,623.5 743.3,623.5 743.4,623.5 743.6,623.5 743.9,623.3 744.3,622.9 744.5,622.2 744.7,621.1 744.9,619.6 745.0,617.8 745.1,615.9 745.1,613.8 745.2,612.0 745.3,610.6 745.3,609.8 745.3,609.5 745.4,609.4 745.4,609.5 745.4,609.8 745.5,610.7 745.5,612.2 745.6,614.0 745.6,616.1 745.7,618.1 745.8,619.8 746.0,621.4 746.2,622.4 746.5,623.2 746.8,623.6 747.1,623.8 747.3,623.9 747.4,623.9 747.5,623.9 747.6,623.9 747.6,623.9 747.7,623.9 747.8,623.9 748.0,623.9 748.4,623.7 748.7,623.4 748.9,622.9 749.1,622.0 749.3,620.8 749.4,619.4 749.5,617.8 749.6,616.2 749.6,614.8 749.7,613.7 749.7,613.1 749.8,612.9 749.8,612.9 749.8,612.9 749.8,613.2 749.9,613.9 749.9,615.0 750.0,616.4 750.1,618.1 750.2,619.6 750.3,621.0 750.4,622.2 750.6,623.1 750.9,623.7 751.2,624.0 751.5,624.2 751.7,624.3 751.8,624.3 751.9,624.3 752.0,624.3 752.1,624.3 752.1,624.3 752.3,624.3 752.4,624.3 752.8,624.2 753.1,624.0 753.4,623.5 753.6,622.9 753.7,621.9 753.8,620.9 753.9,619.8 754.0,618.6 754.1,617.5 754.1,616.8 754.2,616.3 754.2,616.2 754.2,616.2 754.2,616.2 754.3,616.4 754.3,616.9 754.4,617.7 754.4,618.8 754.5,620.0 754.6,621.1 754.7,622.2 754.8,623.1 755.0,623.8 755.3,624.2 755.6,624.5 756.0,624.6 756.1,624.7 756.3,624.7 756.3,624.7 756.4,624.7 756.5,624.7 756.6,624.7 756.7,624.7 756.9,624.7 757.2,624.6 757.5,624.4 757.8,624.1 758.0,623.6 758.1,623.0 758.3,622.2 758.3,621.4 758.4,620.5 758.5,619.8 758.5,619.3 758.6,619.0 758.6,618.9 758.6,618.8 758.6,618.9 758.7,619.0 758.7,619.4 758.8,619.9 758.8,620.7 758.9,621.6 759.0,622.4 759.1,623.2 759.3,623.8 759.5,624.3 759.7,624.7 760.0,624.9 760.4,625.0 760.6,625.0 760.7,625.0 760.8,625.0 760.8,625.0 760.9,625.0 761.0,625.0 761.1,625.0 761.3,625.0 761.6,625.0 761.9,624.9 762.2,624.6 762.4,624.3 762.6,623.8 762.7,623.2 762.8,622.6 762.8,621.9 762.9,621.4 763.0,621.0 763.0,620.8 763.0,620.7 763.1,620.7 763.1,620.7 763.1,620.8 763.1,621.1 763.2,621.5 763.3,622.1 763.3,622.7 763.4,623.3 763.5,623.9 763.7,624.4 763.9,624.8 764.2,625.0 764.5,625.2 764.8,625.3 765.0,625.3 765.1,625.3 765.2,625.3 765.3,625.3 765.3,625.3 765.4,625.3 765.5,625.3 765.7,625.3 766.1,625.3 766.4,625.2 766.6,625.0 766.8,624.7 767.0,624.3 767.1,623.9 767.2,623.4 767.3,622.9 767.3,622.5 767.4,622.2 767.4,622.0 767.5,622.0 767.5,622.0 767.5,622.0 767.5,622.1 767.6,622.3 767.6,622.6 767.7,623.0 767.8,623.5 767.9,624.0 768.0,624.4 768.1,624.8 768.3,625.1 768.6,625.3 768.9,625.4 769.2,625.5 769.4,625.5 769.5,625.5 769.6,625.5 769.7,625.5 769.8,625.5 769.8,625.5 770.0,625.5 770.1,625.5 770.5,625.5 770.8,625.4 771.1,625.2 771.3,625.0 771.4,624.7 771.5,624.4 771.6,624.0 771.7,623.6 771.7,623.3 771.8,623.0 771.8,622.9 771.9,622.9 771.9,622.8 771.9,622.9 772.0,622.9 772.0,623.1 772.0,623.3 772.1,623.7 772.2,624.0 772.3,624.4 772.4,624.8 772.5,625.1 772.7,625.3 773.0,625.5 773.3,625.6 773.7,625.6 773.8,625.6 774.0,625.6 774.0,625.6 774.1,625.6 774.2,625.6 774.3,625.6 774.4,625.6 774.6,625.6 774.9,625.6 775.2,625.5 775.5,625.4 775.7,625.2 775.8,624.9 775.9,624.6 776.0,624.3 776.1,624.0 776.2,623.7 776.2,623.5 776.3,623.4 776.3,623.3 776.3,623.3 776.3,623.3 776.4,623.4 776.4,623.5 776.5,623.7 776.5,624.0 776.6,624.3 776.7,624.7 776.8,625.0 777.0,625.2 777.2,625.4 777.4,625.5 777.7,625.6 778.1,625.7 778.3,625.7 778.4,625.7 778.5,625.7 778.5,625.7 778.6,625.7 778.7,625.7 778.8,625.7 779.0,625.7 779.3,625.6 779.6,625.6 779.9,625.5 780.1,625.3 780.3,625.0 780.4,624.7 780.5,624.5 780.5,624.1 780.6,623.9 780.6,623.7 780.7,623.6 780.7,623.5 780.7,623.5 780.8,623.5 780.8,623.6 780.8,623.7 780.9,623.9 781.0,624.2 781.0,624.5 781.1,624.8 781.2,625.0 781.4,625.3 781.6,625.5 781.9,625.6 782.2,625.7 782.5,625.7 782.7,625.7 782.8,625.7 782.9,625.7 783.0,625.7 783.0,625.7 783.1,625.7 783.2,625.7 783.4,625.7 783.8,625.7 784.1,625.6 784.3,625.5 784.5,625.3 784.7,625.1 784.8,624.8 784.9,624.6 785.0,624.3 785.0,624.0 785.1,623.8 785.1,623.7 785.1,623.7 785.2,623.7 785.2,623.7 785.2,623.7 785.3,623.9 785.3,624.0 785.4,624.3 785.5,624.6 785.5,624.8 785.7,625.1 785.8,625.3 786.0,625.5 786.3,625.6 786.6,625.7 786.9,625.7 787.1,625.7 787.2,625.7 787.3,625.7 787.4,625.7 787.4,625.7 787.5,625.7 787.6,625.7 787.8,625.7 788.2,625.7 788.5,625.6 788.8,625.5 789.0,625.4 789.1,625.1 789.2,624.9 789.3,624.6 789.4,624.4 789.4,624.1 789.5,624.0 789.5,623.9 789.6,623.8 789.6,623.8 789.6,623.8 789.6,623.9 789.7,624.0 789.7,624.1 789.8,624.4 789.9,624.6 790.0,624.9 790.1,625.1 790.2,625.4 790.4,625.5 790.7,625.6 791.0,625.7 791.4,625.7 791.5,625.7 791.7,625.7 791.7,625.7 791.8,625.7 791.9,625.7 792.0,625.7 792.1,625.7 792.2,625.7 792.6,625.7 792.9,625.6 793.2,625.5 793.4,625.4 793.5,625.2 793.6,624.9 793.7,624.7 793.8,624.4 793.9,624.2 793.9,624.0 794.0,623.9 794.0,623.9 794.0,623.9 794.0,623.9 794.1,623.9 794.1,624.0 794.2,624.2 794.2,624.4 794.3,624.7 794.4,624.9 794.5,625.2 794.7,625.4 794.9,625.5 795.1,625.6 795.4,625.7 795.8,625.7 796.0,625.7 796.1,625.7 796.2,625.7 796.2,625.7 796.3,625.7 796.4,625.7 796.5,625.7 796.7,625.7 797.0,625.7 797.3,625.6 797.6,625.5 797.8,625.4 798.0,625.2 798.1,624.9 798.2,624.7 798.2,624.5 798.3,624.2 798.3,624.1 798.4,624.0 798.4,623.9 798.4,623.9 798.5,623.9 798.5,624.0 798.5,624.1 798.6,624.2 798.7,624.5 798.7,624.7 798.8,625.0 798.9,625.2 799.1,625.4 799.3,625.5 799.5,625.6 799.9,625.7 800.2,625.7 800.4,625.7 800.5,625.7 800.6,625.7 800.7,625.7 800.7,625.7 800.8,625.7 800.9,625.7 801.1,625.7 801.4,625.7 801.8,625.6 802.0,625.5 802.2,625.4 802.4,625.2 802.5,625.0 802.6,624.7 802.7,624.5 802.7,624.2 802.8,624.1 802.8,624.0 802.8,624.0 802.9,624.0 802.9,624.0 802.9,624.0 803.0,624.1 803.0,624.2 803.1,624.5 803.2,624.7 803.2,625.0 803.4,625.2 803.5,625.4 803.7,625.5 804.0,625.6 804.3,625.7 804.6,625.7 804.8,625.7 804.9,625.7 805.0,625.7 805.1,625.7 805.1,625.7 805.2,625.7 805.3,625.7 805.5,625.7 805.9,625.7 806.2,625.6 806.4,625.5 806.6,625.4 806.8,625.2 806.9,625.0 807.0,624.7 807.1,624.5 807.1,624.2 807.2,624.1 807.2,624.0 807.3,624.0 807.3,624.0 807.3,624.0 807.3,624.0 807.4,624.1 807.4,624.2 807.5,624.5 807.6,624.7 807.7,625.0 807.8,625.2 807.9,625.4 808.1,625.5 808.4,625.6 808.7,625.7 809.1,625.7 809.2,625.7 809.3,625.7 809.4,625.7 809.5,625.7 809.6,625.7 809.7,625.7 809.8,625.7 809.9,625.7 810.3,625.7 810.6,625.6 810.9,625.5 811.1,625.4 811.2,625.2 811.3,625.0 811.4,624.7 811.5,624.5 811.6,624.2 811.6,624.1 811.7,624.0 811.7,624.0 811.7,624.0 811.7,624.0 811.8,624.0 811.8,624.1 811.9,624.2 811.9,624.5 812.0,624.7 812.1,625.0 812.2,625.2 812.4,625.4 812.6,625.5 812.8,625.6 813.1,625.7 813.5,625.7 813.7,625.7 813.8,625.7 813.9,625.7 813.9,625.7 814.0,625.7 814.1,625.7 814.2,625.7 814.4,625.7 814.7,625.7 815.0,625.6 815.3,625.5 815.5,625.4 815.6,625.2 815.8,625.0 815.8,624.7 815.9,624.5 816.0,624.2 816.0,624.1 816.1,624.0 816.1,624.0 816.1,624.0 816.2,624.0 816.2,624.0 816.2,624.1 816.3,624.2 816.3,624.5 816.4,624.7 816.5,625.0 816.6,625.2 816.8,625.4 817.0,625.5 817.2,625.6 817.6,625.7 817.9,625.7 818.1,625.7 818.2,625.7 818.3,625.7 818.3,625.7 818.4,625.7 818.5,625.7 818.6,625.7 818.8,625.7 819.1,625.7 819.5,625.6 819.7,625.5 819.9,625.4 820.1,625.2 820.2,625.0 820.3,624.7 820.3,624.5 820.4,624.2 820.5,624.1 820.5,624.0 820.5,624.0 820.6,624.0 820.6,624.0 820.6,624.0 820.7,624.1 820.7,624.2 820.8,624.5 820.8,624.7 820.9,625.0 821.0,625.2 821.2,625.4 821.4,625.5 821.7,625.6 822.0,625.7 822.3,625.7 822.5,625.7 822.6,625.7 822.7,625.7 822.8,625.7 822.8,625.7 822.9,625.7 823.0,625.7 823.2,625.7 823.6,625.7 823.9,625.6 824.1,625.5 824.3,625.4 824.5,625.2 824.6,625.0 824.7,624.7 824.8,624.5 824.8,624.2 824.9,624.1 824.9,624.0 825.0,624.0 825.0,624.0 825.0,624.0 825.0,624.0 825.1,624.1 825.1,624.2 825.2,624.5 825.3,624.7 825.4,625.0 825.5,625.2 825.6,625.4 825.8,625.5 826.1,625.6 826.4,625.7 826.8,625.7 826.9,625.7 827.0,625.7 827.1,625.7 827.2,625.7 827.3,625.7 827.3,625.7 827.5,625.7 827.6,625.7 828.0,625.7 828.3,625.6 828.6,625.5 828.8,625.4 828.9,625.2 829.0,625.0 829.1,624.7 829.2,624.5 829.3,624.2 829.3,624.1 829.4,624.0 829.4,624.0 829.4,624.0 829.4,624.0 829.5,624.0 829.5,624.1 829.6,624.2 829.6,624.5 829.7,624.7 829.8,625.0 829.9,625.2 830.0,625.4 830.2,625.5 830.5,625.6 830.8,625.7 831.2,625.7 831.4,625.7 831.5,625.7 831.6,625.7 831.6,625.7 831.7,625.7 831.8,625.7 831.9,625.7 832.1,625.7 832.4,625.7 832.7,625.6 833.0,625.5 833.2,625.4 833.3,625.2 833.5,625.0 833.5,624.7 833.6,624.5 833.7,624.2 833.7,624.1 833.8,624.0 833.8,624.0 833.8,624.0 833.9,624.0 833.9,624.0 833.9,624.1 834.0,624.2 834.0,624.5 834.1,624.7 834.2,625.0 834.3,625.2 834.5,625.4 834.7,625.5 834.9,625.6 835.2,625.7 835.6,625.7 835.8,625.7 835.9,625.7 836.0,625.7 836.0,625.7 836.1,625.7 836.2,625.7 836.3,625.7 836.5,625.7 836.8,625.7 837.1,625.6 837.4,625.5 837.6,625.4 837.8,625.2 837.9,625.0 838.0,624.7 838.0,624.5 838.1,624.2 838.2,624.1 838.2,624.0 838.2,624.0 838.3,624.0 838.3,624.0 838.3,624.0 838.4,624.1 838.4,624.2 838.5,624.5 838.5,624.7 838.6,625.0 838.7,625.2 838.9,625.4 839.1,625.5 839.4,625.6 839.7,625.7 840.0,625.7 840.2,625.7 840.3,625.7 840.4,625.7 840.5,625.7 840.5,625.7 840.6,625.7 840.7,625.7 840.9,625.7 841.3,625.7 841.6,625.6 841.8,625.5 842.0,625.4 842.2,625.2 842.3,625.0 842.4,624.7 842.5,624.5 842.5,624.2 842.6,624.1 842.6,624.0 842.7,624.0 842.7,624.0 842.7,624.0 842.7,624.0 842.8,624.1 842.8,624.2 842.9,624.5 843.0,624.7 843.1,625.0 843.2,625.2 843.3,625.4 843.5,625.5 843.8,625.6 844.1,625.7 844.4,625.7 844.6,625.7 844.7,625.7 844.8,625.7 844.9,625.7 845.0,625.7 845.0,625.7 845.2,625.7 845.3,625.7 845.7,625.7 846.0,625.6 846.3,625.5 846.5,625.4 846.6,625.2 846.7,625.0 846.8,624.7 846.9,624.5 847.0,624.2 847.0,624.1 847.0,624.0 847.1,624.0 847.1,624.0 847.1,624.0 847.2,624.0 847.2,624.1 847.3,624.2 847.3,624.5 847.4,624.7 847.5,625.0 847.6,625.2 847.7,625.4 847.9,625.5 848.2,625.6 848.5,625.7 848.9,625.7 849.0,625.7 849.2,625.7 849.2,625.7 849.3,625.7 849.4,625.7 849.5,625.7 849.6,625.7 849.8,625.7 850.1,625.7 850.4,625.6 850.7,625.5 850.9,625.4 851.0,625.2 851.1,625.0 851.2,624.7 851.3,624.5 851.4,624.2 851.4,624.1 851.5,624.0 851.5,624.0 851.5,624.0 851.5,624.0 851.6,624.0 851.6,624.1 851.7,624.2 851.7,624.5 851.8,624.7 851.9,625.0 852.0,625.2 852.2,625.4 852.4,625.5 852.6,625.6 852.9,625.7 853.3,625.7 853.5,625.7 853.6,625.7 853.7,625.7 853.7,625.7 853.8,625.7 853.9,625.7 854.0,625.7 854.2,625.7 854.5,625.7 854.8,625.6 855.1,625.5 855.3,625.4 855.5,625.2 855.6,625.0 855.7,624.7 855.7,624.5 855.8,624.2 855.9,624.1 855.9,624.0 855.9,624.0 855.9,624.0 856.0,624.0 856.0,624.0 856.0,624.1 856.1,624.2 856.2,624.5 856.2,624.7 856.3,625.0 856.4,625.2 856.6,625.4 856.8,625.5 857.1,625.6 857.4,625.7 857.7,625.7 857.9,625.7 858.0,625.7 858.1,625.7 858.2,625.7 858.2,625.7 858.3,625.7 858.4,625.7 858.6,625.7 859.0,625.7 859.3,625.6 859.5,625.5 859.7,625.4 859.9,625.2 860.0,625.0 860.1,624.7 860.2,624.5 860.2,624.2 860.3,624.1 860.3,624.0 860.4,624.0 860.4,624.0 860.4,624.0 860.4,624.0 860.5,624.1 860.5,624.2 860.6,624.5 860.7,624.7 860.7,625.0 860.9,625.2 861.0,625.4 861.2,625.5 861.5,625.6 861.8,625.7 862.1,625.7 862.3,625.7 862.4,625.7 862.5,625.7 862.6,625.7 862.7,625.7 862.7,625.7 862.8,625.7 863.0,625.7 863.4,625.7 863.7,625.6 864.0,625.5 864.2,625.4 864.3,625.2 864.4,625.0 864.5,624.7 864.6,624.5 864.6,624.2 864.7,624.1 864.7,624.0 864.8,624.0 864.8,624.0 864.8,624.0 864.8,624.0 864.9,624.1 864.9,624.2 865.0,624.5 865.1,624.7 865.2,625.0 865.3,625.2 865.4,625.4 865.6,625.5 865.9,625.6 866.2,625.7 866.6,625.7 866.7,625.7 866.9,625.7 866.9,625.7 867.0,625.7 867.1,625.7 867.2,625.7 867.3,625.7 867.5,625.7 867.8,625.7 868.1,625.6 868.4,625.5 868.6,625.4 868.7,625.2 868.8,625.0 868.9,624.7 869.0,624.5 869.1,624.2 869.1,624.1 869.2,624.0 869.2,624.0 869.2,624.0 869.2,624.0 869.3,624.0 869.3,624.1 869.4,624.2 869.4,624.5 869.5,624.7 869.6,625.0 869.7,625.2 869.9,625.4 870.1,625.5 870.3,625.6 870.6,625.7 871.0,625.7 871.2,625.7 871.3,625.7 871.4,625.7 871.4,625.7 871.5,625.7 871.6,625.7 871.7,625.7 871.9,625.7 872.2,625.7 872.5,625.6 872.8,625.5 873.0,625.4 873.2,625.2 873.3,625.0 873.4,624.7" fill="none" stroke="#0000ff" stroke-width="1.7" stroke-linejoin="round" stroke-linecap="butt"/>
<polyline points="96.5,606.5 97.5,607.2 98.5,607.8 99.5,608.5 100.5,609.1 101.5,609.8 102.5,610.5 103.5,611.2 104.5,611.8 105.5,612.5 106.5,613.3 107.5,614.0 108.5,614.7 109.5,615.4 110.5,616.2 111.5,616.9 112.5,617.7 113.5,618.4 114.5,619.2 115.5,620.0 116.5,620.7 117.5,621.5 118.5,622.3 119.5,623.1 120.5,623.9 121.5,624.7 122.5,625.5 123.0,626.0 123.5,626.0 124.5,625.9 125.5,625.7 126.5,625.4 127.5,625.1 128.5,624.8 129.5,624.4 130.5,624.0 131.5,623.5 132.5,623.0 133.5,622.5 134.5,621.9 135.5,621.2 136.5,620.5 137.5,619.6 138.5,618.7 139.5,617.8 140.5,616.8 141.5,615.8 142.5,614.7 143.5,613.7 144.5,612.7 145.5,611.8 146.5,610.8 147.5,609.9 148.5,609.1 149.5,608.2 150.5,607.4 151.5,606.6 152.5,605.8 153.5,605.0 154.5,604.2 155.5,603.5 156.5,602.8 157.5,602.2 158.5,601.6 159.5,601.0 160.5,600.4 161.5,599.8 162.5,599.3 163.5,598.8 164.5,598.3 165.5,597.9 166.5,597.4 167.5,597.0 168.5,596.5 169.5,596.1 170.5,595.7 171.5,595.3 172.5,594.9 173.5,594.5 174.5,594.1 175.5,593.8 176.5,593.4 177.5,593.0 178.5,592.7 179.5,592.3 180.5,592.0 181.5,591.6 182.5,591.3 183.5,591.0 184.5,590.6 185.5,590.3 186.5,590.0 187.5,589.7 188.5,589.4 189.5,589.1 190.5,588.8 191.5,588.5 192.5,588.2 193.5,587.9 194.5,587.6 195.5,587.4 196.5,587.1 197.5,586.7 198.5,586.4 199.5,586.1 200.5,585.7 201.5,585.3 202.5,584.9 203.5,584.5 204.5,584.0 205.5,583.5 206.5,583.0 207.5,582.5 208.5,581.9 209.5,581.4 210.5,580.8 211.5,580.3 212.5,579.7 213.5,579.2 214.5,578.6 215.5,578.1 216.5,577.5 217.5,577.0 218.5,576.5 219.5,576.1 220.5,575.6 221.5,575.2 222.5,574.8 223.5,574.5 224.5,574.1 225.5,573.8 226.5,573.5 227.5,573.2 228.5,572.9 229.5,572.6 230.5,572.3 231.5,572.0 232.5,571.8 233.5,571.5 234.5,571.2 235.5,571.0 236.5,570.8 237.5,570.5 238.5,570.3 239.5,570.1 240.5,569.9 241.5,569.8 242.5,569.6 243.5,569.5 244.5,569.3 245.5,569.2 246.5,569.1 247.5,569.0 248.5,568.9 249.5,568.8 250.5,568.7 251.5,568.7 252.5,568.7 253.5,568.6 254.5,568.6 255.5,568.7 256.5,568.8 257.5,568.9 258.5,569.0 259.5,569.2 260.5,569.5 261.5,569.7 262.5,570.1 263.5,570.4 264.5,570.8 265.5,571.2 266.5,571.6 267.5,572.0 268.5,572.5 269.5,573.0 270.5,573.5 271.5,574.1 272.5,574.6 273.5,575.3 274.5,575.9 275.5,576.7 276.5,577.4 277.5,578.3 278.5,579.1 279.5,580.0 280.5,581.0 281.5,582.0 282.5,583.0 283.5,584.1 284.5,585.3 285.5,586.6 286.5,587.9 287.5,589.2 288.5,590.6 289.5,592.1 290.5,593.6 291.5,595.1 292.5,596.7 293.5,598.3 294.5,599.9 295.5,601.5 296.5,603.1 297.5,604.8 298.5,606.4 299.5,608.1 300.5,609.7 301.5,611.4 302.5,613.0 303.5,614.6 304.5,616.2 305.5,617.7 306.5,619.3 307.5,620.8 308.5,622.4 309.0,623.3 309.5,622.6 310.5,621.2 311.5,619.7 312.5,618.1 313.5,616.4 314.5,614.6 315.5,612.7 316.5,610.7 317.5,608.5 318.5,606.1 319.5,603.7 320.5,601.1 321.5,598.4 322.5,595.6 323.5,592.8 324.5,589.8 325.5,586.9 326.5,584.0 327.5,581.2 328.5,578.4 329.5,575.7 330.5,573.1 331.5,570.5 332.5,568.1 333.5,565.6 334.5,563.3 335.5,560.9 336.5,558.5 337.5,556.2 338.5,553.8 339.5,551.4 340.5,549.0 341.5,546.5 342.5,544.0 343.5,541.4 344.5,538.8 345.5,536.2 346.5,533.6 347.5,531.0 348.5,528.4 349.5,525.9 350.5,523.3 351.5,520.8 352.5,518.4 353.5,516.0 354.5,513.6 355.5,511.2 356.5,508.9 357.5,506.6 358.5,504.4 359.5,502.2 360.5,500.0 361.5,497.9 362.5,495.7 363.5,493.6 364.5,491.6 365.5,489.5 366.5,487.5 367.5,485.6 368.5,483.6 369.5,481.7 370.5,479.7 371.5,477.8 372.5,475.9 373.5,474.0 374.5,472.2 375.5,470.3 376.5,468.4 377.5,466.5 378.5,464.6 379.5,462.6 380.5,460.7 381.5,458.9 382.5,457.0 383.5,455.1 384.5,453.2 385.5,451.4 386.5,449.6 387.5,447.8 388.5,446.0 389.5,444.2 390.5,442.4 391.5,440.6 392.5,438.8 393.5,436.9 394.5,435.0 395.5,433.0 396.5,431.1 397.5,429.1 398.5,427.1 399.5,425.0 400.5,423.0 401.5,421.0 402.5,419.0 403.5,417.1 404.5,415.1 405.5,413.2 406.5,411.3 407.5,409.5 408.5,407.7 409.5,406.0 410.5,404.2 411.5,402.5 412.5,400.7 413.5,398.9 414.5,397.0 415.5,395.2 416.5,393.2 417.5,391.3 418.5,389.2 419.5,387.2 420.5,385.0 421.5,382.8 422.5,380.5 423.5,378.2 424.5,375.7 425.5,373.3 426.5,370.7 427.5,368.2 428.5,365.5 429.5,362.9 430.5,360.2 431.5,357.5 432.5,354.7 433.5,352.0 434.5,349.2 435.5,346.5 436.5,343.7 437.5,341.0 438.5,338.2 439.5,335.4 440.5,332.7 441.5,329.9 442.5,327.2 443.5,324.4 444.5,321.7 445.5,318.9 446.5,316.2 447.5,313.4 448.5,310.7 449.5,308.0 450.5,305.3 451.5,302.6 452.5,299.9 453.5,297.3 454.5,294.7 455.5,292.1 456.5,289.6 457.5,287.2 458.5,284.8 459.5,282.5 460.5,280.1 461.5,277.8 462.5,275.5 463.5,273.2 464.5,270.8 465.5,268.4 466.5,265.9 467.5,263.4 468.5,260.8 469.5,258.1 470.5,255.5 471.5,252.8 472.5,250.1 473.5,247.3 474.5,244.6 475.5,241.8 476.5,239.0 477.5,236.3 478.5,233.5 479.5,230.8 480.5,228.0 481.5,225.2 482.5,222.5 483.5,219.7 484.5,216.9 485.5,214.2 486.5,211.4 487.5,208.7 488.5,206.0 489.5,203.4 490.5,200.8 491.5,198.2 492.5,195.7 493.5,193.3 494.5,190.9 495.5,188.6 496.5,186.4 497.5,184.3 498.5,182.3 499.5,180.4 500.5,178.5 501.5,176.8 502.5,175.1 503.5,173.5 504.5,172.0 505.5,170.5 506.5,169.2 507.5,167.9 508.5,166.7 509.5,165.7 510.5,164.8 511.5,164.0 512.5,163.3 513.5,162.7 514.5,162.3 515.5,161.9 516.5,161.7 517.5,161.5 518.5,161.5 519.5,161.6 520.5,161.8 521.5,162.1 522.5,162.5 523.5,163.1 524.5,163.8 525.5,164.7 526.5,165.8 527.5,167.0 528.5,168.5 529.5,170.1 530.5,172.0 531.5,174.0 532.5,176.2 533.5,178.5 534.5,181.0 535.5,183.6 536.5,186.4 537.5,189.2 538.5,192.2 539.5,195.4 540.5,198.6 541.5,202.0 542.5,205.4 543.5,208.9 544.5,212.5 545.5,216.2 546.5,219.8 547.5,223.5 548.5,227.2 549.5,231.0 550.5,234.7 551.5,238.5 552.5,242.4 553.5,246.3 554.5,250.3 555.5,254.5 556.5,258.7 557.5,263.1 558.5,267.6 559.5,272.1 560.5,276.7 561.5,281.3 562.5,285.8 563.5,290.3 564.5,294.6 565.5,298.8 566.5,303.0 567.5,307.0 568.5,311.1 569.5,315.1 570.5,319.1 571.5,323.1 572.5,327.1 573.5,331.1 574.5,335.1 575.5,339.1 576.5,343.0 577.5,347.0 578.5,350.9 579.5,354.7 580.5,358.5 581.5,362.3 582.5,365.9 583.5,369.5 584.5,373.1 585.5,376.6 586.5,380.0 587.5,383.4 588.5,386.8 589.5,390.2 590.5,393.6 591.5,397.0 592.5,400.3 593.5,403.6 594.5,406.7 595.5,409.7 596.5,412.6 597.5,415.4 598.5,418.0 599.5,420.6 600.5,423.1 601.5,425.6 602.5,428.1 603.5,430.7 604.5,433.2 605.5,435.8 606.5,438.5 607.5,441.1 608.5,443.8 609.5,446.5 610.5,449.2 611.5,451.9 612.5,454.5 613.5,457.2 614.5,459.8 615.5,462.4 616.5,465.0 617.5,467.4 618.5,469.8 619.5,472.1 620.5,474.3 621.5,476.4 622.5,478.5 623.5,480.5 624.5,482.5 625.5,484.5 626.5,486.5 627.5,488.5 628.5,490.5 629.5,492.5 630.5,494.4 631.5,496.3 632.5,498.1 633.5,499.9 634.5,501.7 635.5,503.3 636.5,505.0 637.5,506.6 638.5,508.3 639.5,509.9 640.5,511.5 641.5,513.1 642.5,514.7 643.5,516.3 644.5,517.8 645.5,519.3 646.5,520.8 647.5,522.2 648.5,523.6 649.5,524.9 650.5,526.2 651.5,527.4 652.5,528.5 653.5,529.7 654.5,530.7 655.5,531.8 656.5,532.8 657.5,533.7 658.5,534.7 659.5,535.6 660.5,536.5 661.5,537.4 662.5,538.3 663.5,539.2 664.5,540.1 665.5,541.0 666.5,541.9 667.5,542.8 668.5,543.7 669.5,544.6 670.5,545.4 671.5,546.3 672.5,547.2 673.5,548.1 674.5,549.0 675.5,549.9 676.5,550.9 677.5,551.8 678.5,552.7 679.5,553.6 680.5,554.6 681.5,555.5 682.5,556.5 683.5,557.5 684.5,558.4 685.5,559.4 686.5,560.4 687.5,561.4 688.5,562.4 689.5,563.4 690.5,564.4 691.5,565.4 692.5,566.4 693.5,567.4 694.5,568.4 695.5,569.4 696.5,570.4 697.5,571.4 698.5,572.3 699.5,573.3 700.5,574.2 701.5,575.2 702.5,576.1 703.5,577.0 704.5,577.9 705.5,578.8 706.5,579.6 707.5,580.5 708.5,581.4 709.5,582.2 710.5,583.0 711.5,583.8 712.5,584.6 713.5,585.4 714.5,586.2 715.5,587.0 716.5,587.8 717.5,588.6 718.5,589.4 719.5,590.2 720.5,591.0 721.5,591.8 722.5,592.6 723.5,593.4 724.5,594.2 725.5,595.0 726.5,595.8 727.5,596.6 728.5,597.4 729.5,598.3 730.5,599.1 731.5,599.8 732.5,600.6 733.5,601.4 734.5,602.1 735.5,602.8 736.5,603.5 737.5,604.1 738.5,604.8 739.5,605.4 740.5,606.1 741.5,606.7 742.5,607.4 743.5,608.1 744.5,608.8 745.5,609.5 746.5,610.3 747.5,611.1 748.5,611.8 749.5,612.6 750.5,613.4 751.5,614.2 752.5,614.9 753.5,615.7 754.5,616.4 755.5,617.0 756.5,617.7 757.5,618.2 758.5,618.8 759.5,619.3 760.5,619.7 761.5,620.1 762.5,620.5 763.5,620.8 764.5,621.2 765.5,621.4 766.5,621.7 767.5,622.0 768.5,622.2 769.5,622.4 770.5,622.6 771.5,622.8 772.5,622.9 773.5,623.0 774.5,623.2 775.5,623.2 776.5,623.3 777.5,623.4 778.5,623.4 779.5,623.5 780.5,623.5 781.5,623.6 782.5,623.6 783.5,623.6 784.5,623.7 785.5,623.7 786.5,623.7 787.5,623.8 788.5,623.8 789.5,623.8 790.5,623.8 791.5,623.9 792.5,623.9 793.5,623.9 794.5,623.9 795.5,623.9 796.5,623.9 797.5,623.9 798.5,623.9 799.5,623.9 800.5,623.9 801.5,623.9 802.5,624.0 803.5,624.0 804.5,624.0 805.5,624.0 806.5,624.0 807.5,624.0 808.5,624.0 809.5,624.0 810.5,624.0 811.5,624.0 812.5,624.0 813.5,624.0 814.5,624.0 815.5,624.0 816.5,624.0 817.5,624.0 818.5,624.0 819.5,624.0 820.5,624.0 821.5,624.0 822.5,624.0 823.5,624.0 824.5,624.0 825.5,624.0 826.5,624.0 827.5,624.0 828.5,624.0 829.5,624.0 830.5,624.0 831.5,624.0 832.5,624.0 833.5,624.0 834.5,624.0 835.5,624.0 836.5,624.0 837.5,624.0 838.5,624.0 839.5,624.0 840.5,624.0 841.5,624.0 842.5,624.0 843.5,624.0 844.5,624.0 845.5,624.0 846.5,624.0 847.5,624.0 848.5,624.0 849.5,624.0 850.5,624.0 851.5,624.0 852.5,624.0 853.5,624.0 854.5,624.0 855.5,624.0 856.5,624.0 857.5,624.0 858.5,624.0 859.5,624.0 860.5,624.0 861.5,624.0 862.5,624.0 863.5,624.0 864.5,624.0 865.5,624.0 866.5,624.0 867.5,624.0 868.5,624.0 869.5,624.0 870.5,624.0 871.5,624.0 872.5,624.0 873.5,624.0" fill="none" stroke="#0000ff" stroke-width="5.0" stroke-linejoin="round" stroke-linecap="butt"/>
<polyline points="96.5,623.6 96.8,622.6 97.0,621.0 97.2,618.8 97.3,616.1 97.4,613.1 97.4,609.8 97.5,606.8 97.6,604.5 97.6,603.2 97.6,602.6 97.7,602.5 97.7,602.7 97.7,603.2 97.7,604.7 97.8,607.0 97.9,610.0 97.9,613.3 98.0,616.3 98.1,619.0 98.3,621.3 98.5,622.8 98.8,623.9 99.1,624.5 99.4,624.8 99.6,624.9 99.7,624.9 99.8,624.9 99.9,625.0 99.9,625.0 100.0,625.0 100.1,624.9 100.3,624.9 100.6,624.6 101.0,624.1 101.2,623.2 101.4,621.8 101.6,619.8 101.7,617.5 101.8,614.8 101.8,612.0 101.9,609.5 102.0,607.5 102.0,606.4 102.0,605.9 102.1,605.9 102.1,606.0 102.1,606.5 102.2,607.7 102.2,609.7 102.3,612.2 102.3,615.1 102.4,617.7 102.5,620.0 102.7,622.0 102.9,623.4 103.2,624.4 103.5,624.9 103.8,625.2 104.0,625.2 104.1,625.3 104.2,625.3 104.3,625.3 104.3,625.3 104.4,625.3 104.5,625.3 104.7,625.2 105.1,625.0 105.4,624.6 105.6,623.8 105.8,622.6 106.0,620.9 106.1,618.9 106.2,616.7 106.3,614.4 106.3,612.3 106.4,610.8 106.4,609.8 106.4,609.5 106.5,609.4 106.5,609.5 106.5,609.9 106.6,610.9 106.6,612.5 106.7,614.6 106.8,617.0 106.8,619.2 107.0,621.1 107.1,622.8 107.3,624.0 107.6,624.8 107.9,625.2 108.2,625.5 108.4,625.5 108.5,625.6 108.6,625.6 108.7,625.6 108.7,625.6 108.8,625.6 108.9,625.6 109.1,625.5 109.5,625.3 109.8,625.0 110.0,624.3 110.2,623.4 110.4,622.0 110.5,620.5 110.6,618.7 110.7,616.9 110.7,615.3 110.8,614.1 110.8,613.4 110.9,613.2 110.9,613.2 110.9,613.2 110.9,613.5 111.0,614.3 111.0,615.6 111.1,617.2 111.2,619.0 111.3,620.7 111.4,622.3 111.5,623.6 111.7,624.5 112.0,625.2 112.3,625.5 112.6,625.7 112.8,625.7 112.9,625.7 113.0,625.7 113.1,625.7 113.1,625.7 113.2,625.7 113.3,625.7 113.5,625.7 113.9,625.5 114.2,625.2 114.4,624.8 114.6,624.1 114.8,623.1 114.9,622.0 115.0,620.8 115.1,619.6 115.1,618.5 115.2,617.7 115.2,617.3 115.3,617.1 115.3,617.1 115.3,617.1 115.3,617.3 115.4,617.9 115.4,618.7 115.5,619.8 115.6,621.1 115.7,622.3 115.8,623.3 115.9,624.3 116.1,624.9 116.4,625.3 116.7,625.6 117.0,625.7 117.2,625.7 117.3,625.7 117.4,625.7 117.5,625.7 117.6,625.7 117.6,625.7 117.8,625.7 117.9,625.7 118.3,625.6 118.6,625.4 118.9,625.2 119.1,624.8 119.2,624.2 119.3,623.6 119.4,623.0 119.5,622.3 119.5,621.8 119.6,621.4 119.6,621.2 119.7,621.1 119.7,621.1 119.7,621.2 119.7,621.3 119.8,621.6 119.8,622.0 119.9,622.6 120.0,623.3 120.1,623.9 120.2,624.5 120.3,625.0 120.5,625.3 120.8,625.5 121.1,625.7 121.5,625.7 121.6,625.7 121.7,625.7 121.8,625.7 121.9,625.7 122.0,625.7 122.1,625.7 122.2,625.7 122.3,625.7 122.7,625.7 123.0,625.6 123.3,625.5 123.5,625.4 123.6,625.2 123.7,624.9 123.8,624.6 123.9,624.4 124.0,624.1 124.0,624.0 124.0,623.8 124.1,623.8 124.1,623.8 124.1,623.8 124.2,623.8 124.2,623.9 124.3,624.1 124.3,624.3 124.4,624.6 124.5,624.9 124.6,625.1 124.7,625.3 124.9,625.5 125.2,625.6 125.5,625.7 125.9,625.7 126.0,625.7 126.2,625.7 126.2,625.7 126.3,625.7 126.4,625.7 126.5,625.7 126.6,625.7 126.7,625.7 127.1,625.7 127.4,625.6 127.7,625.4 127.9,625.1 128.0,624.8 128.1,624.4 128.2,623.9 128.3,623.4 128.4,623.0 128.4,622.7 128.5,622.5 128.5,622.5 128.5,622.4 128.5,622.4 128.6,622.5 128.6,622.6 128.7,622.9 128.7,623.3 128.8,623.8 128.9,624.2 129.0,624.7 129.1,625.0 129.3,625.3 129.6,625.5 129.9,625.6 130.3,625.4 130.4,625.4 130.6,625.3 130.6,625.3 130.7,625.2 130.8,625.2 130.9,625.3 131.0,625.3 131.2,625.3 131.5,625.4 131.8,625.4 132.1,625.1 132.3,624.6 132.4,623.9 132.5,623.2 132.6,622.4 132.7,621.5 132.8,620.8 132.8,620.2 132.9,619.8 132.9,619.7 132.9,619.6 132.9,619.7 133.0,619.8 133.0,620.0 133.1,620.6 133.1,621.3 133.2,622.1 133.3,622.9 133.4,623.7 133.6,624.3 133.8,624.8 134.0,625.1 134.3,625.0 134.7,624.6 134.9,624.4 135.0,624.3 135.1,624.2 135.1,624.1 135.2,624.1 135.3,624.2 135.4,624.3 135.6,624.4 135.9,624.8 136.2,624.9 136.5,624.4 136.7,623.6 136.8,622.5 136.9,621.3 137.0,619.9 137.1,618.4 137.2,617.1 137.2,616.1 137.3,615.5 137.3,615.2 137.3,615.2 137.3,615.2 137.4,615.4 137.4,615.9 137.5,616.8 137.5,618.1 137.6,619.5 137.7,620.9 137.8,622.2 138.0,623.3 138.2,624.1 138.4,624.6 138.7,624.3 139.1,623.7 139.3,623.3 139.4,623.1 139.5,622.9 139.5,622.8 139.6,622.9 139.7,623.0 139.8,623.2 140.0,623.5 140.3,624.0 140.6,624.4 140.9,623.6 141.1,622.5 141.2,620.9 141.4,619.1 141.4,617.1 141.5,614.9 141.6,612.9 141.6,611.4 141.7,610.4 141.7,610.0 141.7,609.9 141.7,610.0 141.8,610.3 141.8,611.2 141.9,612.6 141.9,614.5 142.0,616.7 142.1,618.8 142.2,620.6 142.4,622.2 142.6,623.4 142.8,624.1 143.1,623.6 143.5,622.7 143.7,622.3 143.8,622.0 143.9,621.7 143.9,621.6 144.0,621.7 144.1,621.9 144.2,622.2 144.4,622.6 144.7,623.4 145.0,623.9 145.3,623.0 145.5,621.5 145.6,619.5 145.8,617.1 145.8,614.3 145.9,611.4 146.0,608.7 146.0,606.6 146.1,605.3 146.1,604.8 146.1,604.7 146.2,604.7 146.2,605.2 146.2,606.4 146.3,608.4 146.3,611.1 146.4,614.0 146.5,616.8 146.6,619.2 146.8,621.3 147.0,622.8 147.2,623.8 147.5,623.2 147.9,622.1 148.1,621.5 148.2,621.2 148.3,620.9 148.3,620.7 148.4,620.9 148.5,621.2 148.6,621.5 148.8,622.0 149.1,623.1 149.4,623.6 149.7,622.5 149.9,620.8 150.0,618.3 150.2,615.4 150.2,612.0 150.3,608.3 150.4,604.9 150.4,602.2 150.5,600.6 150.5,599.9 150.5,599.8 150.6,599.9 150.6,600.5 150.6,602.1 150.7,604.7 150.7,608.0 150.8,611.7 150.9,615.1 151.0,618.1 151.2,620.6 151.4,622.4 151.6,623.5 151.9,623.0 152.3,621.8 152.5,621.2 152.6,620.9 152.7,620.6 152.7,620.4 152.8,620.6 152.9,620.9 153.0,621.2 153.2,621.8 153.5,622.9 153.8,623.5 154.1,622.2 154.3,620.3 154.5,617.5 154.6,614.1 154.6,610.2 154.7,606.0 154.8,602.0 154.8,598.9 154.9,597.0 154.9,596.2 154.9,596.0 155.0,596.2 155.0,596.9 155.0,598.8 155.1,601.9 155.1,605.8 155.2,610.1 155.3,614.0 155.4,617.3 155.6,620.1 155.8,622.1 156.0,623.4 156.3,622.9 156.7,621.7 156.9,621.1 157.0,620.7 157.1,620.4 157.1,620.1 157.2,620.4 157.3,620.7 157.4,621.0 157.6,621.6 157.9,622.8 158.2,623.4 158.5,622.0 158.7,619.9 158.9,616.9 159.0,613.3 159.1,609.0 159.1,604.3 159.2,600.0 159.2,596.5 159.3,594.4 159.3,593.5 159.3,593.3 159.4,593.5 159.4,594.3 159.4,596.4 159.5,599.9 159.5,604.2 159.6,608.9 159.7,613.2 159.8,616.8 160.0,619.8 160.2,621.9 160.4,623.3 160.7,622.8 161.1,621.5 161.3,620.9 161.4,620.5 161.5,620.2 161.5,619.9 161.6,620.2 161.7,620.5 161.8,620.9 162.0,621.5 162.3,622.7 162.6,623.3 162.9,621.9 163.1,619.7 163.3,616.5 163.4,612.6 163.5,608.1 163.5,603.1 163.6,598.4 163.6,594.7 163.7,592.4 163.7,591.5 163.7,591.3 163.8,591.4 163.8,592.3 163.8,594.6 163.9,598.4 163.9,603.0 164.0,608.0 164.1,612.5 164.2,616.4 164.4,619.6 164.6,621.8 164.8,623.3 165.1,622.7 165.5,621.4 165.7,620.7 165.8,620.3 165.9,620.0 165.9,619.8 166.0,620.0 166.1,620.3 166.2,620.7 166.4,621.4 166.7,622.7 167.0,623.2 167.3,621.8 167.5,619.5 167.7,616.1 167.8,612.1 167.9,607.4 167.9,602.1 168.0,597.2 168.0,593.2 168.1,590.7 168.1,589.7 168.1,589.5 168.2,589.7 168.2,590.7 168.2,593.1 168.3,597.1 168.3,602.0 168.4,607.3 168.5,612.0 168.6,616.1 168.8,619.4 169.0,621.7 169.2,623.2 169.5,622.6 169.9,621.3 170.1,620.6 170.2,620.2 170.3,619.9 170.3,619.6 170.4,619.8 170.5,620.2 170.6,620.6 170.8,621.3 171.1,622.6 171.4,623.2 171.7,621.7 171.9,619.3 172.1,615.8 172.2,611.7 172.3,606.7 172.3,601.2 172.4,596.0 172.4,591.8 172.5,589.2 172.5,588.2 172.5,588.0 172.6,588.2 172.6,589.2 172.6,591.8 172.7,595.9 172.7,601.1 172.8,606.7 172.9,611.6 173.0,615.8 173.2,619.2 173.4,621.6 173.6,623.2 173.9,622.6 174.3,621.2 174.5,620.5 174.6,620.1 174.7,619.7 174.7,619.5 174.8,619.7 174.9,620.1 175.0,620.5 175.2,621.2 175.5,622.6 175.8,623.2 176.1,621.6 176.3,619.1 176.5,615.6 176.6,611.3 176.7,606.1 176.7,600.4 176.8,595.0 176.8,590.6 176.9,587.8 176.9,586.7 176.9,586.5 177.0,586.7 177.0,587.8 177.0,590.5 177.1,594.9 177.1,600.3 177.2,606.1 177.3,611.2 177.4,615.5 177.6,619.1 177.8,621.5 178.0,623.1 178.3,622.5 178.7,621.1 178.9,620.4 179.0,620.0 179.1,619.6 179.1,619.3 179.2,619.6 179.3,619.9 179.4,620.4 179.6,621.1 179.9,622.5 180.2,623.1 180.5,621.5 180.7,619.0 180.9,615.3 181.0,610.9 181.1,605.6 181.1,599.6 181.2,594.0 181.2,589.4 181.3,586.5 181.3,585.4 181.3,585.2 181.4,585.4 181.4,586.5 181.4,589.3 181.5,593.9 181.6,599.5 181.6,605.5 181.7,610.8 181.8,615.3 182.0,619.0 182.2,621.5 182.4,623.1 182.7,622.5 183.1,621.0 183.3,620.3 183.4,619.8 183.5,619.5 183.5,619.2 183.6,619.5 183.7,619.8 183.8,620.3 184.0,621.0 184.3,622.5 184.6,623.1 184.9,621.4 185.1,618.9 185.3,615.1 185.4,610.6 185.5,605.1 185.5,599.0 185.6,593.1 185.6,588.4 185.7,585.4 185.7,584.3 185.7,584.0 185.8,584.3 185.8,585.4 185.8,588.4 185.9,593.1 186.0,598.9 186.0,605.1 186.1,610.5 186.2,615.1 186.4,618.8 186.6,621.4 186.8,623.1 187.2,622.4 187.5,621.0 187.7,620.2 187.8,619.8 187.9,619.4 187.9,619.1 188.0,619.4 188.1,619.7 188.2,620.2 188.4,620.9 188.7,622.4 189.0,623.1 189.3,621.4 189.5,618.8 189.7,614.9 189.8,610.3 189.9,604.7 189.9,598.4 190.0,592.5 190.1,587.6 190.1,584.5 190.1,583.3 190.1,583.1 190.2,583.3 190.2,584.5 190.2,587.5 190.3,592.4 190.4,598.4 190.4,604.7 190.5,610.3 190.6,614.9 190.8,618.7 191.0,621.4 191.2,623.0 191.6,622.4 191.9,620.9 192.1,620.1 192.2,619.7 192.3,619.3 192.3,619.0 192.4,619.3 192.5,619.7 192.6,620.1 192.8,620.9 193.1,622.4 193.5,623.0 193.7,621.3 193.9,618.7 194.1,614.8 194.2,610.1 194.3,604.4 194.3,598.0 194.4,591.9 194.5,586.9 194.5,583.8 194.5,582.6 194.6,582.3 194.6,582.6 194.6,583.8 194.6,586.9 194.7,591.9 194.8,598.0 194.8,604.4 194.9,610.0 195.0,614.8 195.2,618.7 195.4,621.3 195.7,623.0 196.0,622.3 196.3,620.8 196.5,620.1 196.6,619.6 196.7,619.2 196.8,618.9 196.8,619.2 196.9,619.6 197.0,620.0 197.2,620.8 197.5,622.3 197.9,623.0 198.1,621.3 198.3,618.6 198.5,614.7 198.6,609.9 198.7,604.1 198.7,597.6 198.8,591.4 198.9,586.3 198.9,583.1 198.9,581.8 199.0,581.6 199.0,581.8 199.0,583.1 199.0,586.3 199.1,591.3 199.2,597.6 199.2,604.1 199.3,609.9 199.4,614.7 199.6,618.6 199.8,621.3 200.1,623.0 200.4,622.3 200.7,620.8 200.9,620.0 201.0,619.5 201.1,619.1 201.2,618.8 201.2,619.1 201.3,619.5 201.4,620.0 201.6,620.7 201.9,622.3 202.3,623.0 202.5,621.2 202.7,618.5 202.9,614.5 203.0,609.7 203.1,603.8 203.1,597.2 203.2,590.8 203.3,585.6 203.3,582.3 203.3,581.1 203.4,580.8 203.4,581.1 203.4,582.3 203.5,585.6 203.5,590.8 203.6,597.1 203.6,603.8 203.7,609.6 203.8,614.5 204.0,618.5 204.2,621.2 204.5,623.0 204.8,622.3 205.1,620.7 205.3,619.9 205.4,619.4 205.5,619.0 205.6,618.7 205.6,619.0 205.7,619.4 205.8,619.9 206.0,620.7 206.3,622.3 206.7,623.0 206.9,621.2 207.1,618.5 207.3,614.4 207.4,609.5 207.5,603.5 207.5,596.7 207.6,590.2 207.7,584.9 207.7,581.5 207.7,580.2 207.8,579.9 207.8,580.2 207.8,581.5 207.9,584.9 207.9,590.2 208.0,596.7 208.0,603.5 208.1,609.4 208.2,614.4 208.4,618.4 208.6,621.2 208.9,623.0 209.2,622.2 209.5,620.6 209.7,619.8 209.8,619.3 209.9,618.9 210.0,618.6 210.0,618.9 210.1,619.3 210.2,619.8 210.4,620.6 210.8,622.2 211.1,623.0 211.3,621.2 211.5,618.4 211.7,614.3 211.8,609.2 211.9,603.2 211.9,596.2 212.0,589.6 212.1,584.2 212.1,580.7 212.1,579.4 212.2,579.1 212.2,579.4 212.2,580.7 212.3,584.1 212.3,589.6 212.4,596.2 212.4,603.1 212.5,609.2 212.6,614.2 212.8,618.4 213.0,621.1 213.3,622.9 213.6,622.2 213.9,620.6 214.1,619.8 214.2,619.3 214.3,618.9 214.4,618.6 214.4,618.9 214.5,619.3 214.6,619.8 214.8,620.6 215.2,622.2 215.5,622.9 215.7,621.1 215.9,618.3 216.1,614.1 216.2,609.0 216.3,602.9 216.4,595.8 216.4,589.1 216.5,583.5 216.5,580.0 216.5,578.6 216.6,578.3 216.6,578.6 216.6,580.0 216.7,583.5 216.7,589.0 216.8,595.8 216.9,602.8 216.9,609.0 217.1,614.1 217.2,618.3 217.4,621.1 217.7,622.9 218.0,622.2 218.3,620.5 218.5,619.7 218.6,619.2 218.7,618.8 218.8,618.5 218.8,618.8 218.9,619.2 219.0,619.7 219.2,620.5 219.6,622.2 219.9,622.9 220.1,621.1 220.3,618.2 220.5,614.0 220.6,608.9 220.7,602.7 220.8,595.5 220.8,588.7 220.9,583.0 220.9,579.5 221.0,578.1 221.0,577.8 221.0,578.1 221.0,579.5 221.1,583.0 221.1,588.7 221.2,595.5 221.3,602.6 221.3,608.9 221.5,614.0 221.6,618.2 221.8,621.1 222.1,622.9 222.4,622.2 222.7,620.5 222.9,619.7 223.0,619.1 223.1,618.7 223.2,618.4 223.2,618.7 223.3,619.1 223.4,619.7 223.6,620.5 224.0,622.1 224.3,622.9 224.5,621.1 224.7,618.2 224.9,614.0 225.0,608.8 225.1,602.5 225.2,595.3 225.2,588.5 225.3,582.8 225.3,579.2 225.4,577.8 225.4,577.5 225.4,577.8 225.4,579.2 225.5,582.8 225.5,588.4 225.6,595.3 225.7,602.5 225.8,608.8 225.9,614.0 226.0,618.2 226.2,621.1 226.5,622.9 226.8,622.1 227.1,620.5 227.3,619.6 227.4,619.1 227.5,618.7 227.6,618.4 227.7,618.7 227.7,619.1 227.9,619.6 228.0,620.4 228.4,622.1 228.7,622.9 229.0,621.1 229.2,618.2 229.3,614.0 229.4,608.8 229.5,602.5 229.6,595.2 229.6,588.3 229.7,582.6 229.7,579.0 229.8,577.6 229.8,577.3 229.8,577.6 229.8,579.0 229.9,582.6 229.9,588.3 230.0,595.2 230.1,602.5 230.2,608.7 230.3,613.9 230.4,618.2 230.6,621.1 230.9,622.9 231.2,622.1 231.6,620.4 231.7,619.6 231.8,619.0 231.9,618.6 232.0,618.3 232.1,618.6 232.2,619.0 232.3,619.6 232.4,620.4 232.8,622.1 233.1,622.9 233.4,621.1 233.6,618.2 233.7,613.9 233.8,608.7 233.9,602.4 234.0,595.2 234.1,588.3 234.1,582.6 234.2,578.9 234.2,577.5 234.2,577.2 234.2,577.5 234.3,578.9 234.3,582.6 234.4,588.3 234.4,595.2 234.5,602.4 234.6,608.7 234.7,613.9 234.9,618.2 235.1,621.1 235.3,622.9 235.6,622.1 236.0,620.4 236.2,619.5 236.3,619.0 236.4,618.6 236.4,618.2 236.5,618.5 236.6,619.0 236.7,619.5 236.9,620.4 237.2,622.1 237.5,622.9 237.8,621.1 238.0,618.2 238.1,614.0 238.3,608.8 238.3,602.5 238.4,595.3 238.5,588.4 238.5,582.7 238.6,579.1 238.6,577.7 238.6,577.4 238.7,577.7 238.7,579.1 238.7,582.7 238.8,588.4 238.8,595.3 238.9,602.5 239.0,608.8 239.1,614.0 239.3,618.2 239.5,621.1 239.7,622.9 240.0,622.1 240.4,620.3 240.6,619.5 240.7,618.9 240.8,618.5 240.8,618.2 240.9,618.5 241.0,618.9 241.1,619.5 241.3,620.3 241.6,622.0 241.9,622.9 242.2,621.1 242.4,618.2 242.6,614.0 242.7,608.9 242.8,602.6 242.8,595.5 242.9,588.6 243.0,583.0 243.0,579.4 243.0,578.0 243.1,577.7 243.1,578.0 243.1,579.4 243.2,583.0 243.2,588.7 243.3,595.5 243.3,602.6 243.4,608.9 243.5,614.0 243.7,618.2 243.9,621.1 244.2,622.9 244.5,622.0 244.8,620.3 245.0,619.4 245.1,618.9 245.2,618.4 245.3,618.1 245.3,618.4 245.4,618.9 245.5,619.4 245.7,620.3 246.1,622.0 246.4,622.9 246.6,621.1 246.8,618.3 247.0,614.1 247.1,609.0 247.2,602.8 247.3,595.8 247.3,589.0 247.4,583.5 247.4,580.0 247.5,578.6 247.5,578.3 247.5,578.6 247.5,580.0 247.6,583.5 247.6,589.1 247.7,595.8 247.8,602.9 247.9,609.0 248.0,614.1 248.1,618.3 248.3,621.1 248.6,622.9 248.9,622.0 249.2,620.2 249.4,619.3 249.5,618.8 249.6,618.4 249.7,618.0 249.8,618.4 249.8,618.8 250.0,619.3 250.1,620.2 250.5,622.0 250.8,623.0 251.1,621.1 251.3,618.4 251.4,614.3 251.5,609.2 251.6,603.2 251.7,596.2 251.8,589.6 251.8,584.2 251.8,580.8 251.9,579.5 251.9,579.2 251.9,579.5 252.0,580.8 252.0,584.3 252.1,589.7 252.1,596.3 252.2,603.2 252.3,609.3 252.4,614.3 252.5,618.4 252.7,621.2 253.0,623.0 253.3,622.0 253.7,620.2 253.8,619.3 254.0,618.7 254.0,618.3 254.1,618.0 254.2,618.3 254.3,618.7 254.4,619.3 254.6,620.2 254.9,622.0 255.2,623.0 255.5,621.2 255.7,618.5 255.8,614.5 255.9,609.6 256.0,603.7 256.1,596.9 256.2,590.5 256.2,585.3 256.3,582.0 256.3,580.7 256.3,580.4 256.3,580.7 256.4,582.0 256.4,585.3 256.5,590.6 256.5,597.0 256.6,603.7 256.7,609.6 256.8,614.5 257.0,618.6 257.2,621.3 257.4,623.1 257.7,622.0 258.1,620.2 258.3,619.3 258.4,618.7 258.5,618.3 258.5,617.9 258.6,618.3 258.7,618.7 258.8,619.3 259.0,620.2 259.3,622.0 259.6,623.1 259.9,621.4 260.1,618.7 260.3,614.8 260.4,610.0 260.5,604.3 260.5,597.8 260.6,591.6 260.7,586.6 260.7,583.4 260.7,582.2 260.7,581.9 260.8,582.2 260.8,583.5 260.8,586.7 260.9,591.7 261.0,597.9 261.0,604.4 261.1,610.1 261.2,614.9 261.4,618.8 261.6,621.5 261.9,623.2 262.2,622.0 262.5,620.2 262.7,619.3 262.8,618.7 262.9,618.3 263.0,617.9 263.0,618.3 263.1,618.7 263.2,619.3 263.4,620.2 263.8,622.1 264.1,623.3 264.3,621.6 264.5,619.0 264.7,615.2 264.8,610.6 264.9,605.1 265.0,598.8 265.0,592.9 265.1,588.2 265.1,585.2 265.2,584.0 265.2,583.8 265.2,584.0 265.2,585.2 265.3,588.2 265.3,593.0 265.4,598.9 265.5,605.2 265.5,610.7 265.7,615.3 265.8,619.1 266.0,621.7 266.3,623.3 266.6,622.1 266.9,620.2 267.1,619.3 267.2,618.7 267.3,618.2 267.4,617.9 267.5,618.2 267.5,618.7 267.7,619.3 267.8,620.2 268.2,622.1 268.5,623.4 268.8,621.8 269.0,619.3 269.1,615.7 269.2,611.2 269.3,606.0 269.4,600.0 269.4,594.4 269.5,589.9 269.5,587.1 269.6,586.0 269.6,585.8 269.6,586.0 269.6,587.2 269.7,590.0 269.7,594.6 269.8,600.1 269.9,606.1 270.0,611.3 270.1,615.8 270.2,619.4 270.4,621.9 270.7,623.5 271.0,622.2 271.4,620.2 271.5,619.3 271.7,618.7 271.7,618.2 271.8,617.8 271.9,618.2 272.0,618.7 272.1,619.3 272.3,620.2 272.6,622.2 272.9,623.6 273.2,622.1 273.4,619.7 273.5,616.2 273.6,612.0 273.7,607.0 273.8,601.5 273.9,596.2 273.9,592.0 274.0,589.4 274.0,588.4 274.0,588.2 274.0,588.5 274.1,589.5 274.1,592.2 274.2,596.4 274.2,601.6 274.3,607.2 274.4,612.2 274.5,616.3 274.7,619.8 274.9,622.2 275.1,623.7 275.4,622.2 275.8,620.3 276.0,619.3 276.1,618.6 276.2,618.1 276.2,617.8 276.3,618.1 276.4,618.6 276.5,619.3 276.7,620.3 277.0,622.3 277.3,623.9 277.6,622.4 277.8,620.2 278.0,616.9 278.1,613.0 278.2,608.4 278.2,603.3 278.3,598.5 278.3,594.7 278.4,592.4 278.4,591.5 278.4,591.3 278.5,591.5 278.5,592.4 278.5,594.8 278.6,598.7 278.7,603.5 278.7,608.6 278.8,613.2 278.9,617.1 279.1,620.3 279.3,622.5 279.5,624.0 279.9,622.3 280.2,620.3 280.4,619.3 280.5,618.6 280.6,618.1 280.7,617.7 280.7,618.1 280.8,618.6 280.9,619.3 281.1,620.3 281.5,622.3 281.8,624.1 282.0,622.8 282.2,620.7 282.4,617.7 282.5,614.2 282.6,610.0 282.7,605.5 282.7,601.3 282.8,598.0 282.8,595.9 282.8,595.2 282.9,595.0 282.9,595.2 282.9,596.0 283.0,598.1 283.0,601.5 283.1,605.7 283.2,610.3 283.2,614.4 283.4,617.9 283.5,620.9 283.7,622.9 284.0,624.2 284.3,622.4 284.6,620.3 284.8,619.3 284.9,618.6 285.0,618.1 285.1,617.7 285.1,618.1 285.2,618.6 285.3,619.3 285.5,620.3 285.9,622.4 286.2,624.2 286.5,623.2 286.6,621.4 286.8,618.7 286.9,615.7 287.0,612.1 287.1,608.2 287.1,604.7 287.2,601.9 287.2,600.2 287.3,599.6 287.3,599.5 287.3,599.6 287.3,600.3 287.4,602.1 287.4,604.9 287.5,608.5 287.6,612.4 287.7,615.9 287.8,619.0 287.9,621.6 288.1,623.4 288.4,624.3 288.7,622.5 289.1,620.3 289.2,619.3 289.3,618.6 289.4,618.1 289.5,617.7 289.6,618.1 289.7,618.6 289.8,619.3 289.9,620.3 290.3,622.5 290.6,624.4 290.9,623.7 291.1,622.1 291.2,619.9 291.3,617.4 291.4,614.5 291.5,611.3 291.6,608.5 291.6,606.4 291.7,605.1 291.7,604.6 291.7,604.5 291.7,604.6 291.8,605.2 291.8,606.6 291.9,608.8 291.9,611.6 292.0,614.8 292.1,617.7 292.2,620.2 292.4,622.3 292.6,623.8 292.8,624.4 293.1,622.5 293.5,620.3 293.7,619.2 293.8,618.6 293.9,618.0 293.9,617.6 294.0,618.0 294.1,618.5 294.2,619.2 294.4,620.3 294.7,622.5 295.0,624.4 295.3,624.1 295.5,622.9 295.7,621.1 295.8,619.2 295.9,616.9 295.9,614.6 296.0,612.5 296.0,611.0 296.1,610.0 296.1,609.7 296.1,609.6 296.2,609.7 296.2,610.2 296.2,611.2 296.3,612.8 296.4,614.9 296.4,617.3 296.5,619.5 296.6,621.4 296.8,623.1 297.0,624.3 297.2,624.4 297.6,622.5 297.9,620.3 298.1,619.2 298.2,618.5 298.3,617.9 298.4,617.5 298.4,617.9 298.5,618.5 298.6,619.2 298.8,620.3 299.1,622.4 299.5,624.4 299.7,624.5 299.9,623.7 300.1,622.5 300.2,621.1 300.3,619.6 300.4,618.1 300.4,616.7 300.5,615.7 300.5,615.1 300.5,614.9 300.6,614.9 300.6,615.0 300.6,615.3 300.7,615.9 300.7,617.0 300.8,618.4 300.8,620.0 300.9,621.5 301.0,622.8 301.2,623.9 301.4,624.7 301.7,624.4 302.0,622.5 302.3,620.3 302.5,619.2 302.6,618.5 302.7,618.0 302.8,617.6 302.8,618.0 302.9,618.5 303.0,619.2 303.2,620.3 303.6,622.5 303.9,624.4 304.1,625.1 304.3,624.6 304.5,624.0 304.6,623.3 304.7,622.6 304.8,621.8 304.8,621.2 304.9,620.8 304.9,620.6 305.0,620.5 305.0,620.5 305.0,620.5 305.0,620.7 305.1,621.0 305.1,621.6 305.2,622.2 305.3,623.0 305.4,623.7 305.5,624.3 305.6,624.9 305.8,625.3 306.1,624.4 306.4,622.5 306.8,620.4 306.9,619.4 307.0,618.7 307.1,618.2 307.2,617.8 307.3,618.2 307.4,618.7 307.5,619.4 307.6,620.5 308.0,622.6 308.3,624.4 308.6,625.4 308.8,625.1 308.9,624.6 309.0,624.0 309.1,623.3 309.2,622.5 309.3,621.9 309.3,621.3 309.4,620.9 309.4,620.7 309.4,620.7 309.4,620.6 309.5,620.7 309.5,620.8 309.6,621.2 309.6,621.8 309.7,622.5 309.8,623.2 309.9,623.9 310.1,624.5 310.3,625.0 310.5,624.4 310.8,622.7 311.2,620.7 311.4,619.7 311.5,619.0 311.6,618.5 311.6,618.2 311.7,618.5 311.8,619.1 311.9,619.7 312.1,620.7 312.4,622.7 312.7,624.4 313.0,624.3 313.2,623.1 313.3,621.5 313.5,619.5 313.5,617.3 313.6,614.9 313.7,612.8 313.7,611.1 313.8,610.0 313.8,609.6 313.8,609.4 313.9,609.5 313.9,609.7 313.9,610.6 314.0,612.2 314.0,614.2 314.1,616.5 314.2,618.8 314.3,620.8 314.5,622.5 314.7,623.7 314.9,624.2 315.3,622.5 315.6,620.6 315.8,619.6 315.9,619.0 316.0,618.6 316.0,618.2 316.1,618.6 316.2,619.0 316.3,619.6 316.5,620.5 316.8,622.4 317.2,624.0 317.4,622.8 317.6,621.0 317.8,618.3 317.9,615.0 318.0,611.3 318.0,607.1 318.1,603.3 318.2,600.2 318.2,598.3 318.2,597.5 318.3,597.2 318.3,597.3 318.3,598.0 318.4,599.7 318.4,602.6 318.5,606.4 318.5,610.5 318.6,614.3 318.7,617.6 318.9,620.3 319.1,622.3 319.4,623.5 319.7,622.2 320.0,620.5 320.2,619.6 320.3,619.1 320.4,618.7 320.5,618.4 320.5,618.7 320.6,619.2 320.7,619.7 320.9,620.5 321.3,622.1 321.6,623.0 321.8,621.4 322.0,618.8 322.2,615.2 322.3,610.7 322.4,605.3 322.5,599.2 322.5,593.5 322.6,588.7 322.6,585.7 322.7,584.5 322.7,584.2 322.7,584.4 322.7,585.4 322.8,588.2 322.8,592.8 322.9,598.5 323.0,604.6 323.1,610.0 323.2,614.5 323.3,618.3 323.5,620.8 323.8,622.5 324.1,622.3 324.5,621.1 324.6,620.6 324.7,620.3 324.8,620.1 324.9,619.9 325.0,620.1 325.1,620.4 325.2,620.8 325.3,621.3 325.7,622.4 326.0,622.0 326.3,620.0 326.5,616.9 326.6,612.4 326.7,606.7 326.8,599.8 326.9,591.7 327.0,583.8 327.0,577.2 327.1,572.9 327.1,571.2 327.1,570.8 327.1,571.1 327.2,572.6 327.2,576.7 327.3,583.2 327.3,591.0 327.4,599.1 327.5,606.1 327.6,611.8 327.8,616.5 328.0,619.6 328.2,621.6 328.5,622.7 328.9,622.2 329.1,622.0 329.2,621.9 329.3,621.8 329.3,621.8 329.4,621.9 329.5,622.0 329.6,622.2 329.8,622.4 330.1,622.5 330.4,621.2 330.7,618.9 330.9,615.4 331.1,610.0 331.2,603.3 331.2,594.9 331.3,584.8 331.4,574.8 331.4,566.1 331.5,560.5 331.5,558.2 331.5,557.7 331.6,558.1 331.6,560.2 331.6,565.7 331.7,574.2 331.7,584.2 331.8,594.3 331.9,602.8 332.0,609.6 332.2,615.0 332.4,618.6 332.6,620.9 333.0,622.1 333.3,622.8 333.5,622.9 333.6,622.9 333.7,622.9 333.8,622.9 333.8,622.9 333.9,622.9 334.0,622.9 334.2,622.7 334.5,622.0 334.9,620.6 335.1,618.1 335.3,614.1 335.5,608.1 335.6,600.4 335.7,590.6 335.8,578.7 335.8,566.5 335.9,555.7 335.9,548.6 335.9,545.7 336.0,545.0 336.0,545.6 336.0,548.3 336.1,555.3 336.1,565.9 336.2,578.1 336.3,590.1 336.3,599.9 336.4,607.7 336.6,613.8 336.8,617.8 337.1,620.4 337.4,621.7 337.7,622.4 337.9,622.6 338.0,622.6 338.1,622.6 338.2,622.6 338.2,622.6 338.3,622.6 338.4,622.5 338.6,622.3 339.0,621.6 339.3,620.1 339.5,617.4 339.7,613.1 339.9,606.5 340.0,598.0 340.1,587.0 340.2,573.4 340.2,559.2 340.3,546.4 340.3,537.8 340.4,534.3 340.4,533.5 340.4,534.2 340.4,537.6 340.5,546.0 340.5,558.7 340.6,572.9 340.7,586.6 340.8,597.6 340.9,606.2 341.0,612.8 341.2,617.2 341.5,619.9 341.8,621.4 342.2,622.1 342.3,622.3 342.4,622.3 342.5,622.3 342.6,622.4 342.7,622.3 342.8,622.3 342.9,622.2 343.0,622.0 343.4,621.2 343.7,619.7 344.0,616.8 344.2,612.3 344.3,605.2 344.4,596.0 344.5,583.9 344.6,568.8 344.7,552.7 344.7,538.0 344.8,528.0 344.8,523.9 344.8,522.9 344.8,523.8 344.9,527.7 344.9,537.6 345.0,552.2 345.0,568.3 345.1,583.5 345.2,595.6 345.3,604.9 345.5,612.0 345.7,616.6 345.9,619.5 346.2,621.0 346.6,621.8 346.8,622.0 346.9,622.1 347.0,622.1 347.0,622.1 347.1,622.1 347.2,622.0 347.3,622.0 347.5,621.8 347.8,620.9 348.1,619.3 348.4,616.3 348.6,611.4 348.8,603.9 348.9,593.9 349.0,580.8 349.0,564.0 349.1,545.8 349.1,528.9 349.2,517.1 349.2,512.3 349.2,511.1 349.3,512.1 349.3,516.9 349.3,528.4 349.4,545.3 349.5,563.5 349.5,580.4 349.6,593.6 349.7,603.6 349.9,611.2 350.1,616.1 350.3,619.1 350.7,620.7 351.0,621.6 351.2,621.7 351.3,621.8 351.4,621.8 351.5,621.8 351.5,621.8 351.6,621.8 351.7,621.7 351.9,621.5 352.3,620.6 352.6,618.9 352.8,615.7 353.0,610.7 353.2,602.7 353.3,592.1 353.4,577.9 353.5,559.5 353.5,539.3 353.6,520.1 353.6,506.6 353.6,501.0 353.7,499.7 353.7,500.9 353.7,506.4 353.8,519.8 353.8,538.9 353.9,559.2 354.0,577.6 354.0,591.8 354.2,602.4 354.3,610.5 354.5,615.6 354.8,618.7 355.1,620.4 355.4,621.3 355.6,621.5 355.7,621.5 355.8,621.6 355.9,621.6 355.9,621.6 356.0,621.5 356.1,621.4 356.3,621.2 356.7,620.3 357.0,618.6 357.3,615.3 357.5,610.0 357.6,601.7 357.7,590.6 357.8,575.6 357.9,555.9 357.9,533.9 358.0,512.8 358.0,497.9 358.1,491.6 358.1,490.2 358.1,491.5 358.1,497.7 358.2,512.6 358.2,533.6 358.3,555.6 358.4,575.3 358.5,590.3 358.6,601.5 358.7,609.8 358.9,615.1 359.2,618.4 359.5,620.1 359.9,621.0 360.0,621.2 360.2,621.3 360.2,621.3 360.3,621.3 360.4,621.3 360.5,621.2 360.6,621.2 360.8,620.9 361.1,620.0 361.4,618.2 361.7,614.8 361.9,609.4 362.0,600.8 362.1,589.3 362.2,573.6 362.3,552.8 362.4,529.3 362.4,506.5 362.5,490.2 362.5,483.3 362.5,481.7 362.5,483.2 362.6,490.0 362.6,506.3 362.7,529.0 362.7,552.5 362.8,573.3 362.9,589.0 363.0,600.6 363.2,609.2 363.4,614.6 363.6,618.0 363.9,619.8 364.3,620.7 364.5,620.9 364.6,620.9 364.7,621.0 364.7,621.0 364.8,621.0 364.9,620.9 365.0,620.8 365.2,620.6 365.5,619.7 365.8,617.8 366.1,614.3 366.3,608.8 366.5,599.9 366.6,588.0 366.7,571.8 366.7,550.0 366.8,525.2 366.9,500.8 366.9,483.1 366.9,475.7 366.9,474.0 367.0,475.6 367.0,483.0 367.0,500.5 367.1,524.9 367.2,549.8 367.2,571.5 367.3,587.8 367.4,599.8 367.6,608.6 367.8,614.1 368.1,617.6 368.4,619.4 368.7,620.3 368.9,620.5 369.0,620.6 369.1,620.6 369.2,620.6 369.2,620.6 369.3,620.5 369.4,620.5 369.6,620.2 370.0,619.2 370.3,617.4 370.5,613.8 370.7,608.1 370.9,599.1 371.0,586.9 371.1,570.1 371.2,547.4 371.2,521.3 371.3,495.4 371.3,476.5 371.4,468.5 371.4,466.7 371.4,468.4 371.4,476.4 371.5,495.2 371.5,521.0 371.6,547.2 371.7,569.8 371.8,586.7 371.9,598.9 372.0,608.0 372.2,613.6 372.5,617.1 372.8,619.0 373.1,619.9 373.3,620.1 373.4,620.1 373.5,620.2 373.6,620.2 373.7,620.2 373.7,620.1 373.9,620.0 374.0,619.8 374.4,618.8 374.7,616.9 375.0,613.3 375.2,607.5 375.3,598.2 375.4,585.7 375.5,568.4 375.6,544.9 375.7,517.6 375.7,490.3 375.7,470.3 375.8,461.7 375.8,459.7 375.8,461.6 375.9,470.1 375.9,490.1 376.0,517.4 376.0,544.7 376.1,568.2 376.2,585.5 376.3,598.1 376.4,607.3 376.6,613.0 376.9,616.6 377.2,618.4 377.6,619.4 377.7,619.6 377.9,619.6 377.9,619.7 378.0,619.7 378.1,619.6 378.2,619.6 378.3,619.5 378.5,619.3 378.8,618.2 379.1,616.3 379.4,612.6 379.6,606.8 379.7,597.3 379.9,584.5 379.9,566.8 380.0,542.5 380.1,514.1 380.1,485.4 380.2,464.2 380.2,455.1 380.2,453.0 380.3,455.0 380.3,464.1 380.3,485.2 380.4,513.8 380.4,542.3 380.5,566.6 380.6,584.3 380.7,597.1 380.9,606.5 381.1,612.4 381.3,616.0 381.6,617.8 382.0,618.8 382.2,619.0 382.3,619.0 382.4,619.1 382.4,619.1 382.5,619.0 382.6,619.0 382.7,618.9 382.9,618.6 383.2,617.6 383.5,615.6 383.8,611.9 384.0,605.9 384.2,596.4 384.3,583.3 384.4,565.1 384.4,540.1 384.5,510.6 384.6,480.6 384.6,458.2 384.6,448.6 384.7,446.4 384.7,448.5 384.7,458.1 384.8,480.4 384.8,510.3 384.9,539.9 384.9,564.9 385.0,583.1 385.1,596.1 385.3,605.7 385.5,611.6 385.8,615.2 386.1,617.1 386.4,618.1 386.6,618.3 386.7,618.3 386.8,618.3 386.9,618.3 386.9,618.3 387.0,618.3 387.1,618.2 387.3,617.9 387.7,616.8 388.0,614.8 388.2,611.0 388.4,605.0 388.6,595.3 388.7,582.0 388.8,563.3 388.9,537.6 388.9,507.0 389.0,475.8 389.0,452.2 389.1,442.1 389.1,439.8 389.1,442.0 389.1,452.1 389.2,475.5 389.2,506.8 389.3,537.4 389.4,563.1 389.5,581.7 389.6,595.0 389.7,604.7 389.9,610.7 390.2,614.3 390.5,616.2 390.9,617.1 391.0,617.3 391.1,617.4 391.2,617.4 391.3,617.4 391.4,617.4 391.4,617.3 391.6,617.2 391.7,616.9 392.1,615.8 392.4,613.8 392.7,609.9 392.9,603.8 393.0,593.9 393.1,580.4 393.2,561.4 393.3,535.0 393.4,503.4 393.4,470.9 393.5,446.3 393.5,435.6 393.5,433.2 393.5,435.6 393.6,446.2 393.6,470.7 393.7,503.2 393.7,534.7 393.8,561.1 393.9,580.1 394.0,593.6 394.1,603.4 394.3,609.5 394.6,613.2 394.9,615.1 395.3,616.0 395.5,616.1 395.6,616.2 395.7,616.2 395.7,616.2 395.8,616.2 395.9,616.1 396.0,616.0 396.2,615.7 396.5,614.6 396.8,612.5 397.1,608.6 397.3,602.4 397.4,592.4 397.6,578.6 397.6,559.3 397.7,532.3 397.8,499.8 397.8,466.1 397.9,440.5 397.9,429.4 397.9,426.8 398.0,429.3 398.0,440.4 398.0,465.9 398.1,499.6 398.1,532.0 398.2,559.0 398.3,578.3 398.4,592.0 398.6,602.0 398.8,608.1 399.0,611.8 399.3,613.7 399.7,614.6 399.9,614.8 400.0,614.8 400.1,614.8 400.1,614.8 400.2,614.8 400.3,614.7 400.4,614.6 400.6,614.3 400.9,613.2 401.3,611.0 401.5,607.1 401.7,600.9 401.9,590.7 402.0,576.8 402.1,557.1 402.1,529.6 402.2,496.3 402.3,461.5 402.3,435.0 402.3,423.4 402.4,420.7 402.4,423.3 402.4,434.9 402.5,461.4 402.5,496.1 402.6,529.4 402.6,556.9 402.7,576.5 402.8,590.4 403.0,600.4 403.2,606.6 403.5,610.3 403.8,612.2 404.1,613.1 404.3,613.3 404.4,613.4 404.5,613.4 404.6,613.4 404.6,613.3 404.7,613.3 404.8,613.1 405.0,612.8 405.4,611.7 405.7,609.6 405.9,605.6 406.1,599.3 406.3,589.1 406.4,575.0 406.5,555.0 406.6,527.0 406.6,492.9 406.7,457.2 406.7,429.7 406.8,417.7 406.8,414.9 406.8,417.6 406.8,429.6 406.9,457.0 406.9,492.7 407.0,526.7 407.1,554.7 407.2,574.7 407.3,588.7 407.4,598.8 407.6,605.0 407.9,608.8 408.2,610.7 408.6,611.6 408.7,611.8 408.8,611.9 408.9,611.9 409.0,611.8 409.1,611.8 409.2,611.7 409.3,611.6 409.4,611.3 409.8,610.2 410.1,608.0 410.4,604.0 410.6,597.6 410.7,587.3 410.8,573.1 410.9,552.8 411.0,524.3 411.1,489.5 411.1,452.8 411.2,424.4 411.2,412.0 411.2,409.1 411.2,411.9 411.3,424.3 411.3,452.6 411.4,489.3 411.4,524.1 411.5,552.6 411.6,572.7 411.7,586.9 411.9,597.1 412.1,603.4 412.3,607.2 412.6,609.1 413.0,610.0 413.2,610.2 413.3,610.2 413.4,610.3 413.4,610.2 413.5,610.2 413.6,610.1 413.7,610.0 413.9,609.7 414.2,608.5 414.5,606.3 414.8,602.3 415.0,595.9 415.1,585.5 415.3,571.1 415.3,550.6 415.4,521.5 415.5,485.9 415.5,448.1 415.6,418.7 415.6,405.8 415.6,402.8 415.7,405.7 415.7,418.6 415.7,447.9 415.8,485.6 415.8,521.2 415.9,550.3 416.0,570.7 416.1,585.1 416.3,595.4 416.5,601.7 416.7,605.5 417.1,607.5 417.4,608.4 417.6,608.6 417.7,608.6 417.8,608.6 417.8,608.6 417.9,608.6 418.0,608.5 418.1,608.4 418.3,608.1 418.6,606.9 419.0,604.7 419.2,600.7 419.4,594.2 419.6,583.6 419.7,569.1 419.8,548.2 419.8,518.6 419.9,482.0 420.0,443.0 420.0,412.5 420.0,399.0 420.1,395.9 420.1,399.0 420.1,412.4 420.2,442.8 420.2,481.8 420.3,518.3 420.3,547.9 420.4,568.7 420.5,583.3 420.7,593.7 420.9,600.1 421.2,603.9 421.5,605.9 421.8,606.8 422.0,607.0 422.1,607.1 422.2,607.1 422.3,607.1 422.3,607.0 422.4,607.0 422.5,606.8 422.7,606.5 423.1,605.4 423.4,603.2 423.6,599.1 423.8,592.5 424.0,581.9 424.1,567.1 424.2,545.9 424.3,515.6 424.3,478.0 424.4,437.5 424.4,405.7 424.5,391.6 424.5,388.3 424.5,391.5 424.5,405.6 424.6,437.3 424.6,477.7 424.7,515.3 424.8,545.6 424.9,566.8 425.0,581.5 425.1,592.1 425.3,598.5 425.6,602.4 425.9,604.4 426.3,605.4 426.4,605.6 426.5,605.6 426.6,605.6 426.7,605.6 426.8,605.6 426.9,605.5 427.0,605.4 427.1,605.1 427.5,603.9 427.8,601.7 428.1,597.6 428.3,591.0 428.4,580.2 428.5,565.2 428.6,543.6 428.7,512.6 428.8,473.7 428.8,431.6 428.9,398.2 428.9,383.3 428.9,379.8 428.9,383.2 429.0,398.0 429.0,431.3 429.1,473.4 429.1,512.2 429.2,543.3 429.3,564.9 429.4,579.9 429.6,590.6 429.8,597.1 430.0,601.1 430.3,603.1 430.7,604.1 430.9,604.3 431.0,604.3 431.1,604.3 431.1,604.3 431.2,604.3 431.3,604.2 431.4,604.1 431.6,603.8 431.9,602.6 432.2,600.4 432.5,596.3 432.7,589.5 432.9,578.6 433.0,563.4 433.1,541.3 433.1,509.4 433.2,469.1 433.2,425.0 433.3,389.8 433.3,374.0 433.3,370.3 433.4,373.9 433.4,389.6 433.4,424.7 433.5,468.8 433.6,509.0 433.6,541.0 433.7,563.0 433.8,578.3 434.0,589.1 434.2,595.7 434.4,599.7 434.8,601.8 435.1,602.8 435.3,603.0 435.4,603.0 435.5,603.0 435.6,603.0 435.6,603.0 435.7,602.9 435.8,602.8 436.0,602.5 436.3,601.3 436.7,599.1 436.9,594.9 437.1,588.1 437.3,577.0 437.4,561.5 437.5,538.9 437.6,506.0 437.6,464.2 437.7,417.9 437.7,380.5 437.7,363.6 437.8,359.7 437.8,363.5 437.8,380.3 437.9,417.5 437.9,463.8 438.0,505.7 438.1,538.5 438.1,561.1 438.3,576.7 438.4,587.7 438.6,594.4 438.9,598.4 439.2,600.5 439.5,601.5 439.7,601.7 439.8,601.7 439.9,601.8 440.0,601.7 440.0,601.7 440.1,601.7 440.2,601.5 440.4,601.2 440.8,600.0 441.1,597.7 441.4,593.5 441.5,586.6 441.7,575.4 441.8,559.5 441.9,536.4 442.0,502.5 442.0,459.0 442.1,410.4 442.1,370.7 442.2,352.6 442.2,348.4 442.2,352.5 442.2,370.4 442.3,410.0 442.3,458.7 442.4,502.2 442.5,536.1 442.6,559.2 442.7,575.0 442.8,586.2 443.0,593.0 443.3,597.1 443.6,599.2 444.0,600.2 444.1,600.4 444.2,600.4 444.3,600.5 444.4,600.4 444.5,600.4 444.6,600.4 444.7,600.2 444.8,599.9 445.2,598.7 445.5,596.4 445.8,592.1 446.0,585.2 446.1,573.7 446.2,557.6 446.3,534.0 446.4,499.1 446.5,453.9 446.5,402.7 446.6,360.6 446.6,341.3 446.6,336.8 446.6,341.2 446.7,360.4 446.7,402.4 446.8,453.5 446.8,498.7 446.9,533.6 447.0,557.3 447.1,573.4 447.3,584.7 447.5,591.6 447.7,595.7 448.0,597.9 448.4,598.9 448.6,599.1 448.7,599.1 448.8,599.2 448.8,599.1 448.9,599.1 449.0,599.0 449.1,598.9 449.3,598.6 449.6,597.4 449.9,595.1 450.2,590.7 450.4,583.7 450.6,572.1 450.7,555.6 450.8,531.5 450.8,495.6 450.9,448.6 450.9,395.0 451.0,350.3 451.0,329.7 451.0,324.8 451.1,329.5 451.1,350.0 451.1,394.6 451.2,448.2 451.3,495.2 451.3,531.0 451.4,555.2 451.5,571.5 451.7,583.1 451.9,590.0 452.1,594.3 452.5,596.4 452.8,597.5 453.0,597.7 453.1,597.8 453.2,597.8 453.3,597.8 453.3,597.8 453.4,597.7 453.5,597.6 453.7,597.2 454.1,595.8 454.4,593.2 454.6,588.4 454.8,580.7 455.0,568.4 455.1,551.3 455.2,526.4 455.3,489.7 455.3,441.5 455.4,386.1 455.4,339.4 455.4,317.6 455.5,312.5 455.5,317.5 455.5,339.1 455.6,385.7 455.6,440.9 455.7,488.9 455.8,525.5 455.8,550.2 456.0,567.2 456.1,579.4 456.3,587.1 456.6,591.9 456.9,594.6 457.2,595.9 457.4,596.2 457.5,596.3 457.6,596.3 457.7,596.3 457.7,596.3 457.8,596.2 457.9,596.0 458.1,595.6 458.5,593.7 458.8,590.4 459.1,584.5 459.3,575.5 459.4,561.8 459.5,543.4 459.6,517.5 459.7,480.0 459.7,431.4 459.8,375.3 459.8,327.6 459.9,305.2 459.9,300.0 459.9,305.1 459.9,327.3 460.0,374.7 460.0,430.5 460.1,478.9 460.2,516.1 460.3,541.7 460.4,559.9 460.5,573.6 460.7,582.6 461.0,588.6 461.3,592.1 461.7,594.1 461.8,594.5 462.0,594.7 462.0,594.7 462.1,594.7 462.2,594.7 462.3,594.5 462.4,594.3 462.6,593.7 462.9,591.2 463.2,586.7 463.5,579.1 463.7,568.3 463.8,552.5 463.9,532.4 464.0,505.0 464.1,466.7 464.2,418.1 464.2,362.6 464.3,315.4 464.3,293.2 464.3,288.0 464.3,293.1 464.4,315.1 464.4,362.0 464.5,417.1 464.5,465.3 464.6,503.2 464.7,530.2 464.8,550.2 465.0,565.9 465.2,576.8 465.4,584.6 465.7,589.3 466.1,592.0 466.3,592.6 466.4,592.8 466.5,592.9 466.5,592.9 466.6,592.8 466.7,592.7 466.8,592.4 467.0,591.5 467.3,588.2 467.6,582.4 467.9,572.8 468.1,559.7 468.3,541.4 468.4,519.0 468.5,489.9 468.5,450.6 468.6,402.3 468.6,348.2 468.7,302.9 468.7,281.6 468.7,276.6 468.8,281.5 468.8,302.6 468.8,347.6 468.9,401.1 469.0,448.9 469.0,487.8 469.1,516.6 469.2,538.8 469.4,557.1 469.6,570.3 469.9,580.1 470.2,586.2 470.5,589.7 470.7,590.6 470.8,590.9 470.9,591.0 471.0,591.0 471.0,590.9 471.1,590.7 471.2,590.3 471.4,589.3 471.8,585.1 472.1,577.8 472.3,566.3 472.5,550.8 472.7,529.9 472.8,505.1 472.9,473.9 473.0,433.2 473.0,385.0 473.1,332.6 473.1,289.4 473.2,269.3 473.2,264.6 473.2,269.2 473.2,289.1 473.3,331.9 473.3,383.8 473.4,431.6 473.5,471.9 473.5,502.8 473.7,527.4 473.8,548.3 474.0,564.0 474.3,575.7 474.6,583.1 474.9,587.5 475.1,588.5 475.2,588.9 475.3,589.0 475.4,589.0 475.5,588.9 475.5,588.7 475.7,588.3 475.8,587.0 476.2,582.1 476.5,573.7 476.8,560.5 477.0,543.0 477.1,519.8 477.2,492.9 477.3,459.8 477.4,417.7 477.4,369.0 477.5,317.5 477.5,276.0 477.6,257.0 477.6,252.5 477.6,256.8 477.7,275.7 477.7,316.9 477.7,368.0 477.8,416.4 477.9,458.2 478.0,491.2 478.1,518.0 478.2,541.2 478.4,558.7 478.7,572.0 479.0,580.4 479.4,585.3 479.5,586.5 479.7,586.9 479.7,587.0 479.8,587.0 479.9,587.0 480.0,586.7 480.1,586.2 480.3,584.9 480.6,579.5 480.9,570.5 481.2,556.4 481.4,537.8 481.5,513.3 481.6,485.0 481.7,450.4 481.8,406.8 481.9,357.0 481.9,305.1 482.0,264.0 482.0,245.3 482.0,240.9 482.0,245.1 482.1,263.7 482.1,304.6 482.2,356.3 482.2,405.9 482.3,449.3 482.4,483.8 482.5,512.0 482.7,536.5 482.9,555.1 483.1,569.1 483.4,578.0 483.8,583.2 484.0,584.4 484.1,584.9 484.2,585.0 484.2,585.0 484.3,585.0 484.4,584.7 484.5,584.2 484.7,582.7 485.0,577.2 485.3,567.7 485.6,552.9 485.8,533.4 486.0,507.7 486.1,478.2 486.2,442.2 486.2,397.1 486.3,346.1 486.4,293.4 486.4,252.0 486.4,233.4 486.4,229.1 486.5,233.3 486.5,251.7 486.5,292.9 486.6,345.3 486.7,396.2 486.7,441.1 486.8,477.0 486.9,506.5 487.1,532.1 487.3,551.5 487.6,566.3 487.9,575.6 488.2,581.1 488.4,582.4 488.5,582.8 488.6,583.0 488.7,583.0 488.7,583.0 488.8,582.7 488.9,582.1 489.1,580.6 489.5,574.8 489.8,564.9 490.0,549.4 490.2,529.1 490.4,502.3 490.5,471.6 490.6,434.2 490.7,387.6 490.7,335.2 490.8,281.5 490.8,239.8 490.9,221.1 490.9,216.8 490.9,221.0 490.9,239.5 491.0,281.0 491.0,334.5 491.1,386.7 491.2,433.2 491.3,470.5 491.4,501.2 491.5,527.9 491.7,548.2 492.0,563.6 492.3,573.4 492.6,579.1 492.8,580.5 492.9,580.9 493.0,581.1 493.1,581.1 493.2,581.1 493.2,580.8 493.4,580.2 493.5,578.7 493.9,572.6 494.2,562.3 494.5,546.2 494.7,525.0 494.8,497.2 494.9,465.3 495.0,426.6 495.1,378.6 495.1,324.7 495.2,270.0 495.2,227.7 495.3,208.9 495.3,204.5 495.3,208.8 495.4,227.4 495.4,269.5 495.4,324.0 495.5,377.7 495.6,425.6 495.7,464.3 495.8,496.1 495.9,523.9 496.1,545.0 496.4,561.0 496.7,571.2 497.1,577.1 497.2,578.6 497.4,579.1 497.4,579.3 497.5,579.3 497.6,579.3 497.7,579.0 497.8,578.4 498.0,576.8 498.3,570.5 498.6,559.8 498.9,543.0 499.1,521.1 499.2,492.2 499.3,459.2 499.4,419.3 499.5,369.8 499.6,314.7 499.6,259.1 499.7,216.4 499.7,197.5 499.7,193.1 499.7,197.4 499.8,216.2 499.8,258.6 499.9,314.1 499.9,369.0 500.0,418.3 500.1,458.2 500.2,491.2 500.4,519.9 500.6,541.9 500.8,558.5 501.1,569.1 501.5,575.3 501.7,576.8 501.8,577.3 501.9,577.5 501.9,577.6 502.0,577.5 502.1,577.2 502.2,576.6 502.4,574.9 502.7,568.4 503.0,557.3 503.3,540.0 503.5,517.3 503.7,487.5 503.8,453.6 503.9,412.5 503.9,362.0 504.0,306.0 504.1,250.0 504.1,207.4 504.1,188.6 504.1,184.3 504.2,188.6 504.2,207.2 504.2,249.7 504.3,305.5 504.4,361.3 504.4,411.7 504.5,452.7 504.6,486.6 504.8,516.3 505.0,539.0 505.3,556.2 505.6,567.2 505.9,573.6 506.1,575.2 506.2,575.7 506.3,575.9 506.4,576.0 506.4,575.9 506.5,575.6 506.6,575.0 506.8,573.3 507.2,566.6 507.5,555.2 507.7,537.5 507.9,514.2 508.1,483.7 508.2,449.0 508.3,407.1 508.4,355.9 508.4,299.7 508.5,243.8 508.5,201.8 508.6,183.4 508.6,179.2 508.6,183.3 508.6,201.7 508.7,243.6 508.7,299.3 508.8,355.5 508.9,406.6 509.0,448.3 509.1,483.0 509.2,513.5 509.4,536.7 509.7,554.4 510.0,565.7 510.3,572.3 510.5,574.0 510.6,574.5 510.7,574.8 510.8,574.8 510.9,574.7 510.9,574.5 511.1,573.8 511.2,572.1 511.6,565.3 511.9,553.8 512.2,535.7 512.4,512.0 512.5,481.1 512.6,445.9 512.7,403.7 512.8,352.3 512.8,296.1 512.9,240.8 512.9,199.6 513.0,181.6 513.0,177.6 513.0,181.6 513.1,199.6 513.1,240.8 513.1,296.0 513.2,352.0 513.3,403.4 513.4,445.6 513.5,480.7 513.6,511.6 513.8,535.3 514.1,553.3 514.4,564.8 514.8,571.5 514.9,573.2 515.1,573.8 515.1,574.0 515.2,574.1 515.3,574.0 515.4,573.7 515.5,573.1 515.7,571.4 516.0,564.6 516.3,552.9 516.6,534.7 516.8,510.8 516.9,479.7 517.0,444.3 517.1,402.1 517.2,350.8 517.3,295.2 517.3,240.9 517.4,200.7 517.4,183.3 517.4,179.4 517.4,183.3 517.5,200.8 517.5,241.0 517.6,295.2 517.6,350.8 517.7,402.0 517.8,444.2 517.9,479.6 518.1,510.7 518.3,534.5 518.5,552.7 518.8,564.4 519.2,571.2 519.4,572.9 519.5,573.5 519.6,573.8 519.6,573.8 519.7,573.8 519.8,573.5 519.9,572.9 520.1,571.2 520.4,564.4 520.7,552.8 521.0,534.7 521.2,511.0 521.4,480.1 521.5,445.0 521.6,403.2 521.6,352.6 521.7,297.9 521.7,244.8 521.8,205.7 521.8,188.9 521.8,185.1 521.9,188.9 521.9,205.9 521.9,245.1 522.0,298.3 522.1,353.0 522.1,403.6 522.2,445.5 522.3,480.6 522.5,511.5 522.7,535.3 523.0,553.4 523.3,565.1 523.6,571.9 523.8,573.6 523.9,574.3 524.0,574.6 524.1,574.6 524.1,574.6 524.2,574.4 524.3,573.8 524.5,572.2 524.9,565.7 525.2,554.4 525.4,536.8 525.6,513.7 525.8,483.6 525.9,449.5 526.0,408.7 526.1,359.2 526.1,305.7 526.2,253.5 526.2,215.0 526.2,198.4 526.3,194.6 526.3,198.5 526.3,215.2 526.4,254.0 526.4,306.3 526.5,360.1 526.6,409.6 526.6,450.5 526.8,484.7 526.9,514.9 527.1,538.1 527.4,555.7 527.7,567.1 528.0,573.7 528.2,575.5 528.3,576.1 528.4,576.4 528.5,576.5 528.5,576.4 528.6,576.2 528.7,575.7 528.9,574.2 529.3,567.9 529.6,557.2 529.9,540.3 530.1,518.1 530.2,489.1 530.3,456.2 530.4,416.7 530.5,368.7 530.5,316.4 530.6,265.1 530.6,227.0 530.7,210.4 530.7,206.7 530.7,210.5 530.7,227.3 530.8,265.7 530.8,317.2 530.9,369.7 531.0,417.9 531.1,457.4 531.2,490.4 531.3,519.5 531.5,541.7 531.8,558.7 532.1,569.6 532.5,576.0 532.6,577.7 532.8,578.3 532.8,578.5 532.9,578.6 533.0,578.6 533.1,578.4 533.2,577.9 533.3,576.5 533.7,570.5 534.0,560.3 534.3,544.1 534.5,522.9 534.6,495.2 534.7,463.6 534.8,425.7 534.9,379.3 535.0,328.4 535.0,278.0 535.1,240.2 535.1,223.7 535.1,220.0 535.1,223.9 535.2,240.5 535.2,278.6 535.3,329.2 535.3,380.3 535.4,426.9 535.5,465.0 535.6,496.6 535.8,524.4 536.0,545.7 536.2,561.9 536.5,572.3 536.9,578.4 537.1,580.0 537.2,580.6 537.3,580.9 537.3,581.0 537.4,581.0 537.5,580.8 537.6,580.3 537.8,579.0 538.1,573.3 538.4,563.6 538.7,548.3 538.9,528.2 539.1,501.8 539.2,471.7 539.3,435.3 539.3,390.6 539.4,341.1 539.4,291.6 539.5,254.0 539.5,237.5 539.5,233.8 539.6,237.7 539.6,254.4 539.6,292.2 539.7,342.0 539.7,391.7 539.8,436.6 539.9,473.1 540.0,503.3 540.2,529.8 540.4,550.0 540.6,565.4 541.0,575.2 541.3,581.1 541.5,582.6 541.6,583.1 541.7,583.4 541.7,583.5 541.8,583.5 541.9,583.3 542.0,582.9 542.2,581.6 542.5,576.3 542.9,567.1 543.1,552.7 543.3,533.7 543.5,508.7 543.6,480.1 543.7,445.4 543.7,402.4 543.8,354.3 543.9,305.6 543.9,268.0 543.9,251.4 544.0,247.7 544.0,251.5 544.0,268.4 544.1,306.2 544.1,355.2 544.2,403.6 544.2,446.8 544.3,481.6 544.4,510.3 544.6,535.3 544.8,554.4 545.1,569.0 545.4,578.3 545.7,583.8 545.9,585.2 546.0,585.8 546.1,586.0 546.2,586.1 546.2,586.1 546.3,585.9 546.4,585.5 546.6,584.3 547.0,579.4 547.3,570.8 547.5,557.3 547.7,539.5 547.9,516.0 548.0,489.0 548.1,456.0 548.2,414.9 548.2,368.4 548.3,320.6 548.3,283.2 548.4,266.4 548.4,262.6 548.4,266.6 548.4,283.6 548.5,321.3 548.5,369.5 548.6,416.2 548.7,457.6 548.7,490.6 548.9,517.7 549.0,541.3 549.2,559.2 549.5,572.8 549.8,581.5 550.1,586.7 550.3,588.0 550.4,588.5 550.5,588.7 550.6,588.8 550.6,588.8 550.7,588.7 550.8,588.3 551.0,587.3 551.4,582.8 551.7,575.2 552.0,563.1 552.1,547.1 552.3,525.9 552.4,501.2 552.5,470.7 552.6,432.0 552.6,387.2 552.7,339.9 552.7,302.2 552.8,285.1 552.8,281.2 552.8,285.3 552.8,302.7 552.9,340.9 552.9,388.6 553.0,433.9 553.1,473.0 553.2,503.7 553.3,528.5 553.4,549.8 553.6,565.8 553.9,577.8 554.2,585.4 554.6,589.8 554.7,591.0 554.8,591.4 554.9,591.6 555.0,591.7 555.1,591.7 555.2,591.6 555.3,591.3 555.4,590.4 555.8,586.8 556.1,580.5 556.4,570.5 556.6,556.9 556.7,538.6 556.8,516.8 556.9,489.0 557.0,452.6 557.1,409.2 557.1,362.2 557.1,323.9 557.2,306.4 557.2,302.4 557.2,306.6 557.3,324.5 557.3,363.2 557.4,410.7 557.4,454.6 557.5,491.5 557.6,519.5 557.7,541.5 557.8,559.9 558.0,573.4 558.3,583.3 558.6,589.4 559.0,593.0 559.1,593.9 559.3,594.3 559.3,594.4 559.4,594.5 559.5,594.5 559.6,594.5 559.7,594.3 559.9,593.6 560.2,590.9 560.5,586.0 560.8,578.0 561.0,567.0 561.1,551.5 561.2,532.2 561.3,506.8 561.4,472.3 561.5,429.9 561.5,383.1 561.6,344.6 561.6,326.9 561.6,322.9 561.6,327.1 561.7,345.1 561.7,384.0 561.8,431.2 561.8,474.0 561.9,509.0 562.0,534.7 562.1,554.1 562.3,569.7 562.5,580.7 562.7,588.6 563.0,593.3 563.4,596.0 563.6,596.7 563.7,597.0 563.8,597.1 563.8,597.2 563.9,597.2 564.0,597.2 564.1,597.1 564.3,596.6 564.6,594.6 564.9,591.0 565.2,584.9 565.4,575.9 565.5,562.7 565.7,545.5 565.7,521.8 565.8,488.7 565.9,447.2 565.9,401.1 566.0,363.3 566.0,345.9 566.0,342.0 566.0,346.1 566.1,363.7 566.1,401.8 566.2,448.2 566.2,490.1 566.3,523.5 566.4,547.4 566.5,564.8 566.7,578.2 566.9,587.2 567.1,593.3 567.4,596.9 567.8,598.9 568.0,599.4 568.1,599.6 568.2,599.7 568.2,599.8 568.3,599.8 568.4,599.8 568.5,599.7 568.7,599.4 569.0,598.1 569.3,595.4 569.6,590.6 569.8,583.1 570.0,571.5 570.1,555.6 570.2,533.2 570.2,501.1 570.3,460.6 570.3,415.9 570.4,379.6 570.4,363.2 570.4,359.5 570.5,363.4 570.5,380.0 570.5,416.4 570.6,461.4 570.6,502.0 570.7,534.4 570.8,557.0 570.9,573.0 571.1,584.8 571.3,592.4 571.5,597.3 571.8,600.1 572.2,601.6 572.4,602.0 572.5,602.2 572.6,602.2 572.6,602.3 572.7,602.3 572.8,602.3 572.9,602.3 573.1,602.1 573.4,601.1 573.7,599.0 574.0,594.9 574.2,588.2 574.4,577.4 574.5,562.3 574.6,540.7 574.6,509.5 574.7,470.4 574.7,427.8 574.8,394.0 574.8,378.9 574.8,375.5 574.9,379.1 574.9,394.3 574.9,428.3 575.0,471.0 575.1,510.1 575.1,541.4 575.2,563.2 575.3,578.4 575.5,589.3 575.7,596.1 575.9,600.3 576.3,602.6 576.6,603.9 576.8,604.2 576.9,604.4 577.0,604.4 577.0,604.5 577.1,604.5 577.2,604.5 577.3,604.5 577.5,604.3 577.8,603.4 578.2,601.4 578.4,597.6 578.6,591.2 578.8,580.7 578.9,566.0 579.0,545.0 579.0,515.0 579.1,477.8 579.2,438.0 579.2,406.8 579.2,393.1 579.3,390.0 579.3,393.2 579.3,407.1 579.4,438.4 579.4,478.2 579.5,515.4 579.5,545.4 579.6,566.4 579.7,581.1 579.9,591.7 580.1,598.3 580.4,602.3 580.7,604.5 581.0,605.7 581.2,606.0 581.3,606.1 581.4,606.2 581.5,606.2 581.5,606.2 581.6,606.2 581.7,606.2 581.9,606.0 582.3,605.1 582.6,603.1 582.8,599.3 583.0,593.0 583.2,582.7 583.3,568.4 583.4,548.1 583.4,519.3 583.5,484.1 583.6,446.9 583.6,418.2 583.6,405.6 583.7,402.8 583.7,405.7 583.7,418.4 583.8,447.3 583.8,484.5 583.9,519.7 583.9,548.5 584.0,568.8 584.1,583.1 584.3,593.4 584.5,599.8 584.8,603.8 585.1,606.0 585.4,607.1 585.6,607.4 585.7,607.5 585.8,607.6 585.9,607.6 585.9,607.6 586.0,607.6 586.1,607.5 586.3,607.3 586.7,606.4 587.0,604.5 587.2,600.7 587.4,594.5 587.6,584.4 587.7,570.5 587.8,550.8 587.9,523.2 587.9,489.8 588.0,454.9 588.0,428.3 588.0,416.7 588.1,414.1 588.1,416.8 588.1,428.5 588.2,455.2 588.2,490.2 588.3,523.6 588.4,551.2 588.4,570.9 588.6,584.8 588.7,594.9 588.9,601.2 589.2,605.0 589.5,607.1 589.8,608.2 590.0,608.5 590.1,608.6 590.2,608.7 590.3,608.7 590.3,608.7 590.4,608.7 590.5,608.6 590.7,608.4 591.1,607.5 591.4,605.6 591.6,601.9 591.8,595.8 592.0,585.9 592.1,572.4 592.2,553.3 592.3,526.8 592.3,495.0 592.4,462.3 592.4,437.6 592.5,426.9 592.5,424.5 592.5,427.0 592.5,437.8 592.6,462.6 592.6,495.4 592.7,527.1 592.8,553.6 592.8,572.7 593.0,586.2 593.1,596.1 593.3,602.3 593.6,606.1 593.9,608.1 594.2,609.2 594.4,609.4 594.5,609.5 594.6,609.6 594.7,609.6 594.7,609.6 594.8,609.6 594.9,609.5 595.1,609.3 595.5,608.4 595.8,606.5 596.0,602.8 596.2,596.8 596.4,587.2 596.5,574.0 596.6,555.5 596.7,530.0 596.7,499.9 596.8,469.1 596.8,446.1 596.9,436.3 596.9,434.1 596.9,436.4 596.9,446.3 597.0,469.4 597.0,500.2 597.1,530.3 597.2,555.8 597.3,574.2 597.4,587.4 597.5,597.1 597.7,603.1 598.0,606.8 598.3,608.8 598.6,609.9 598.8,610.1 598.9,610.2 599.0,610.3 599.1,610.3 599.1,610.3 599.2,610.3 599.3,610.2 599.5,610.0 599.9,609.0 600.2,607.1 600.4,603.5 600.6,597.6 600.8,588.2 600.9,575.3 601.0,557.4 601.1,533.0 601.1,504.2 601.2,475.3 601.2,453.9 601.3,444.7 601.3,442.7 601.3,444.8 601.3,454.0 601.4,475.5 601.4,504.5 601.5,533.2 601.6,557.7 601.7,575.6 601.8,588.4 601.9,597.9 602.1,603.7 602.4,607.4 602.7,609.4 603.0,610.4 603.2,610.6 603.3,610.7 603.4,610.7 603.5,610.8 603.6,610.8 603.6,610.7 603.8,610.7 603.9,610.4 604.3,609.5 604.6,607.6 604.9,604.1 605.0,598.3 605.2,589.1 605.3,576.5 605.4,559.2 605.5,535.7 605.5,508.3 605.6,481.0 605.6,461.0 605.7,452.5 605.7,450.6 605.7,452.6 605.7,461.2 605.8,481.3 605.8,508.6 605.9,535.9 606.0,559.4 606.1,576.7 606.2,589.3 606.3,598.5 606.5,604.3 606.8,607.9 607.1,609.8 607.4,610.7 607.6,611.0 607.7,611.1 607.8,611.1 607.9,611.1 608.0,611.1 608.0,611.1 608.2,611.0 608.3,610.8 608.7,609.9 609.0,608.0 609.3,604.5 609.5,598.9 609.6,589.9 609.7,577.6 609.8,560.9 609.9,538.2 609.9,512.2 610.0,486.5 610.0,467.8 610.1,459.9 610.1,458.2 610.1,460.0 610.1,468.0 610.2,486.7 610.2,512.5 610.3,538.5 610.4,561.1 610.5,577.8 610.6,590.0 610.7,599.0 610.9,604.7 611.2,608.2 611.5,610.1 611.9,611.1 612.0,611.3 612.1,611.4 612.2,611.4 612.3,611.4 612.4,611.4 612.4,611.4 612.6,611.3 612.7,611.1 613.1,610.2 613.4,608.4 613.7,604.9 613.9,599.4 614.0,590.6 614.1,578.7 614.2,562.4 614.3,540.6 614.3,515.9 614.4,491.6 614.4,474.1 614.5,466.7 614.5,465.1 614.5,466.8 614.5,474.2 614.6,491.8 614.6,516.1 614.7,540.9 614.8,562.6 614.9,578.8 615.0,590.7 615.1,599.5 615.3,605.1 615.6,608.5 615.9,610.4 616.3,611.3 616.4,611.5 616.5,611.6 616.6,611.6 616.7,611.6 616.8,611.6 616.9,611.6 617.0,611.5 617.1,611.3 617.5,610.4 617.8,608.6 618.1,605.3 618.3,599.8 618.4,591.2 618.5,579.6 618.6,563.8 618.7,542.9 618.8,519.2 618.8,496.3 618.8,479.9 618.9,473.0 618.9,471.5 618.9,473.1 619.0,480.0 619.0,496.5 619.1,519.4 619.1,543.1 619.2,564.0 619.3,579.7 619.4,591.3 619.5,599.9 619.7,605.4 620.0,608.7 620.3,610.5 620.7,611.5 620.8,611.7 620.9,611.8 621.0,611.8 621.1,611.8 621.2,611.8 621.3,611.8 621.4,611.7 621.5,611.5 621.9,610.6 622.2,608.8 622.5,605.5 622.7,600.2 622.8,591.7 622.9,580.4 623.0,565.2 623.1,545.0 623.2,522.4 623.2,500.7 623.3,485.3 623.3,478.9 623.3,477.5 623.3,479.0 623.4,485.4 623.4,500.9 623.5,522.7 623.5,545.2 623.6,565.3 623.7,580.6 623.8,591.8 623.9,600.3 624.1,605.6 624.4,608.9 624.7,610.7 625.1,611.6 625.2,611.8 625.4,611.9 625.4,611.9 625.5,611.9 625.6,611.9 625.7,611.9 625.8,611.8 625.9,611.6 626.3,610.8 626.6,609.0 626.9,605.7 627.1,600.5 627.2,592.3 627.3,581.3 627.4,566.5 627.5,547.1 627.6,525.6 627.6,505.0 627.7,490.5 627.7,484.5 627.7,483.2 627.7,484.6 627.8,490.7 627.8,505.2 627.9,525.8 627.9,547.3 628.0,566.6 628.1,581.4 628.2,592.4 628.3,600.6 628.5,605.8 628.8,609.1 629.1,610.8 629.5,611.7 629.6,611.9 629.8,612.0 629.8,612.0 629.9,612.0 630.0,612.0 630.1,612.0 630.2,611.9 630.4,611.7 630.7,610.9 631.0,609.2 631.3,606.0 631.5,600.8 631.6,592.8 631.7,582.1 631.8,567.7 631.9,549.1 632.0,528.5 632.0,509.1 632.1,495.4 632.1,489.8 632.1,488.6 632.1,489.9 632.2,495.5 632.2,509.2 632.3,528.7 632.3,549.3 632.4,567.9 632.5,582.2 632.6,592.9 632.8,600.9 633.0,606.0 633.2,609.3 633.5,611.0 633.9,611.8 634.1,612.0 634.2,612.1 634.3,612.2 634.3,612.2 634.4,612.2 634.5,612.1 634.6,612.1 634.8,611.9 635.1,611.0 635.4,609.3 635.7,606.2 635.9,601.2 636.0,593.3 636.1,582.8 636.2,568.9 636.3,551.0 636.4,531.3 636.4,512.8 636.5,499.9 636.5,494.6 636.5,493.5 636.5,494.7 636.6,500.0 636.6,513.0 636.7,531.5 636.7,551.1 636.8,569.1 636.9,583.0 637.0,593.4 637.2,601.3 637.4,606.3 637.6,609.4 637.9,611.1 638.3,612.0 638.5,612.2 638.6,612.3 638.7,612.3 638.7,612.3 638.8,612.3 638.9,612.3 639.0,612.2 639.2,612.0 639.5,611.2 639.8,609.5 640.1,606.4 640.3,601.5 640.4,593.8 640.6,583.6 640.6,570.1 640.7,552.8 640.8,533.9 640.8,516.4 640.9,504.2 640.9,499.2 640.9,498.1 640.9,499.3 641.0,504.3 641.0,516.5 641.1,534.1 641.1,553.0 641.2,570.3 641.3,583.8 641.4,593.9 641.6,601.6 641.8,606.6 642.0,609.7 642.3,611.3 642.7,612.2 642.9,612.4 643.0,612.4 643.1,612.5 643.1,612.5 643.2,612.5 643.3,612.5 643.4,612.4 643.6,612.2 643.9,611.4 644.2,609.8 644.5,606.7 644.7,601.9 644.8,594.4 645.0,584.5 645.0,571.4 645.1,554.6 645.2,536.5 645.2,519.8 645.3,508.3 645.3,503.6 645.3,502.6 645.4,503.7 645.4,508.4 645.4,520.0 645.5,536.7 645.5,554.8 645.6,571.5 645.7,584.6 645.8,594.5 646.0,602.0 646.2,606.9 646.4,609.9 646.7,611.5 647.1,612.4 647.3,612.6 647.4,612.7 647.5,612.7 647.5,612.7 647.6,612.7 647.7,612.7 647.8,612.6 648.0,612.4 648.3,611.6 648.6,610.1 648.9,607.1 649.1,602.3 649.3,595.0 649.4,585.3 649.5,572.6 649.5,556.5 649.6,539.2 649.6,523.3 649.7,512.4 649.7,507.9 649.7,507.0 649.8,508.0 649.8,512.5 649.8,523.4 649.9,539.4 650.0,556.7 650.0,572.8 650.1,585.5 650.2,595.1 650.4,602.5 650.6,607.2 650.8,610.2 651.1,611.8 651.5,612.7 651.7,612.9 651.8,612.9 651.9,613.0 651.9,613.0 652.0,613.0 652.1,612.9 652.2,612.9 652.4,612.7 652.7,611.9 653.0,610.4 653.3,607.5 653.5,602.8 653.7,595.6 653.8,586.2 653.9,573.9 653.9,558.4 654.0,541.8 654.0,526.7 654.1,516.5 654.1,512.3 654.1,511.4 654.2,512.3 654.2,516.6 654.2,526.9 654.3,542.0 654.4,558.6 654.4,574.1 654.5,586.4 654.6,595.8 654.8,603.0 655.0,607.6 655.2,610.5 655.6,612.1 655.9,612.9 656.1,613.1 656.2,613.2 656.3,613.3 656.4,613.3 656.4,613.3 656.5,613.2 656.6,613.2 656.8,613.0 657.1,612.2 657.5,610.7 657.7,607.9 657.9,603.3 658.1,596.3 658.2,587.2 658.3,575.3 658.3,560.4 658.4,544.6 658.5,530.2 658.5,520.5 658.5,516.6 658.6,515.8 658.6,516.7 658.6,520.6 658.7,530.4 658.7,544.7 658.8,560.5 658.8,575.5 658.9,587.4 659.0,596.5 659.2,603.5 659.4,608.0 659.7,610.9 660.0,612.5 660.3,613.3 660.5,613.5 660.6,613.5 660.7,613.6 660.8,613.6 660.8,613.6 660.9,613.6 661.0,613.5 661.2,613.3 661.6,612.6 661.9,611.1 662.1,608.3 662.3,603.9 662.5,597.1 662.6,588.2 662.7,576.7 662.8,562.4 662.8,547.3 662.9,533.7 662.9,524.6 662.9,520.9 663.0,520.1 663.0,521.0 663.0,524.7 663.1,533.9 663.1,547.5 663.2,562.6 663.3,576.9 663.3,588.4 663.5,597.2 663.6,604.1 663.8,608.5 664.1,611.3 664.4,612.9 664.7,613.6 664.9,613.8 665.0,613.9 665.1,613.9 665.2,614.0 665.2,614.0 665.3,613.9 665.4,613.9 665.6,613.7 666.0,613.0 666.3,611.6 666.5,608.8 666.7,604.5 666.9,597.9 667.0,589.3 667.1,578.3 667.2,564.6 667.2,550.3 667.3,537.6 667.3,529.1 667.4,525.6 667.4,524.9 667.4,525.7 667.4,529.2 667.5,537.8 667.5,550.5 667.6,564.8 667.7,578.5 667.8,589.5 667.9,598.1 668.0,604.7 668.2,609.0 668.5,611.8 668.8,613.3 669.1,614.1 669.3,614.3 669.4,614.3 669.5,614.4 669.6,614.4 669.6,614.4 669.7,614.4 669.8,614.3 670.0,614.2 670.4,613.5 670.7,612.1 671.0,609.4 671.1,605.3 671.3,598.9 671.4,590.6 671.5,580.1 671.6,567.2 671.6,553.8 671.7,542.0 671.7,534.2 671.8,531.0 671.8,530.4 671.8,531.1 671.8,534.3 671.9,542.2 671.9,554.1 672.0,567.5 672.1,580.4 672.2,590.9 672.3,599.1 672.4,605.5 672.6,609.7 672.9,612.3 673.2,613.8 673.6,614.6 673.7,614.8 673.8,614.8 673.9,614.9 674.0,614.9 674.1,614.9 674.2,614.9 674.3,614.8 674.4,614.7 674.8,614.0 675.1,612.7 675.4,610.1 675.6,606.1 675.7,600.0 675.8,592.2 675.9,582.3 676.0,570.2 676.1,557.8 676.1,547.0 676.1,539.8 676.2,537.0 676.2,536.4 676.2,537.0 676.3,540.0 676.3,547.2 676.4,558.1 676.4,570.5 676.5,582.6 676.6,592.5 676.7,600.3 676.8,606.4 677.0,610.5 677.3,613.0 677.6,614.4 678.0,615.2 678.1,615.4 678.3,615.5 678.3,615.5 678.4,615.5 678.5,615.5 678.6,615.5 678.7,615.5 678.9,615.3 679.2,614.7 679.5,613.4 679.8,611.0 680.0,607.2 680.1,601.4 680.2,594.0 680.3,584.6 680.4,573.4 680.5,562.0 680.5,552.2 680.6,545.7 680.6,543.2 680.6,542.6 680.6,543.2 680.7,545.9 680.7,552.4 680.8,562.3 680.8,573.7 680.9,585.0 681.0,594.3 681.1,601.7 681.3,607.5 681.5,611.4 681.7,613.8 682.0,615.2 682.4,615.9 682.6,616.1 682.7,616.2 682.8,616.2 682.8,616.2 682.9,616.3 683.0,616.2 683.1,616.2 683.3,616.1 683.6,615.5 683.9,614.3 684.2,612.0 684.4,608.3 684.5,602.8 684.7,595.9 684.7,587.1 684.8,576.8 684.9,566.4 684.9,557.4 685.0,551.7 685.0,549.4 685.0,548.9 685.1,549.4 685.1,551.8 685.1,557.7 685.2,566.7 685.2,577.1 685.3,587.5 685.4,596.2 685.5,603.1 685.7,608.7 685.9,612.3 686.1,614.7 686.4,616.0 686.8,616.7 687.0,616.9 687.1,617.0 687.2,617.0 687.2,617.0 687.3,617.0 687.4,617.0 687.5,617.0 687.7,616.9 688.0,616.3 688.3,615.2 688.6,613.0 688.8,609.5 689.0,604.3 689.1,597.8 689.2,589.7 689.2,580.1 689.3,570.6 689.4,562.6 689.4,557.4 689.4,555.4 689.5,555.0 689.5,555.4 689.5,557.5 689.6,562.8 689.6,570.9 689.7,580.4 689.7,590.0 689.8,598.1 689.9,604.6 690.1,609.9 690.3,613.3 690.6,615.6 690.9,616.9 691.2,617.5 691.4,617.7 691.5,617.8 691.6,617.8 691.7,617.8 691.7,617.8 691.8,617.8 691.9,617.8 692.1,617.7 692.5,617.1 692.8,616.0 693.0,614.0 693.2,610.7 693.4,605.8 693.5,599.7 693.6,592.1 693.7,583.3 693.7,574.7 693.8,567.4 693.8,562.7 693.9,560.9 693.9,560.6 693.9,561.0 693.9,562.9 694.0,567.6 694.0,574.9 694.1,583.6 694.2,592.4 694.2,600.0 694.4,606.1 694.5,611.0 694.7,614.3 695.0,616.5 695.3,617.6 695.6,618.3 695.8,618.4 695.9,618.5 696.0,618.5 696.1,618.6 696.2,618.6 696.2,618.6 696.3,618.5 696.5,618.4 696.9,617.9 697.2,616.9 697.5,614.9 697.7,611.8 697.8,607.1 697.9,601.4 698.0,594.4 698.1,586.3 698.1,578.4 698.2,571.8 698.2,567.6 698.3,566.0 698.3,565.7 698.3,566.1 698.3,567.8 698.4,572.0 698.4,578.6 698.5,586.6 698.6,594.7 698.7,601.7 698.8,607.4 698.9,612.1 699.1,615.2 699.4,617.2 699.7,618.4 700.1,619.0 700.2,619.1 700.4,619.2 700.4,619.2 700.5,619.2 700.6,619.2 700.7,619.2 700.8,619.2 700.9,619.1 701.3,618.6 701.6,617.6 701.9,615.7 702.1,612.8 702.2,608.4 702.3,603.0 702.4,596.5 702.5,589.0 702.6,581.8 702.6,575.8 702.7,572.1 702.7,570.6 702.7,570.3 702.7,570.7 702.8,572.2 702.8,576.0 702.9,582.0 702.9,589.3 703.0,596.8 703.1,603.3 703.2,608.7 703.4,613.1 703.6,616.0 703.8,617.9 704.1,619.0 704.5,619.6 704.7,619.7 704.8,619.8 704.9,619.8 704.9,619.8 705.0,619.8 705.1,619.8 705.2,619.8 705.4,619.7 705.7,619.2 706.0,618.3 706.3,616.5 706.5,613.8 706.7,609.7 706.8,604.6 706.9,598.6 706.9,591.7 707.0,585.2 707.0,579.8 707.1,576.4 707.1,575.1 707.1,574.8 707.2,575.2 707.2,576.5 707.2,580.0 707.3,585.4 707.4,592.0 707.4,598.9 707.5,604.9 707.6,609.9 707.8,614.0 708.0,616.8 708.2,618.6 708.6,619.7 708.9,620.2 709.1,620.3 709.2,620.4 709.3,620.4 709.4,620.4 709.4,620.4 709.5,620.4 709.6,620.4 709.8,620.3 710.2,619.9 710.5,619.0 710.7,617.3 710.9,614.8 711.1,611.0 711.2,606.4 711.3,600.9 711.4,594.7 711.4,588.9 711.5,584.1 711.5,581.2 711.5,580.0 711.6,579.8 711.6,580.1 711.6,581.3 711.7,584.3 711.7,589.1 711.8,595.0 711.9,601.2 711.9,606.7 712.1,611.3 712.2,615.1 712.4,617.6 712.7,619.3 713.0,620.3 713.3,620.8 713.5,620.9 713.6,621.0 713.7,621.0 713.8,621.0 713.8,621.0 713.9,621.0 714.0,621.0 714.2,620.9 714.6,620.5 714.9,619.7 715.1,618.2 715.3,615.8 715.5,612.4 715.6,608.3 715.7,603.4 715.8,598.0 715.8,592.9 715.9,588.8 715.9,586.3 716.0,585.3 716.0,585.2 716.0,585.4 716.0,586.4 716.1,589.0 716.1,593.2 716.2,598.3 716.3,603.7 716.4,608.6 716.5,612.7 716.6,616.2 716.8,618.5 717.1,620.0 717.4,620.9 717.8,621.4 717.9,621.5 718.0,621.5 718.1,621.6 718.2,621.6 718.3,621.6 718.4,621.6 718.5,621.6 718.6,621.5 719.0,621.1 719.3,620.4 719.6,619.0 719.8,616.9 719.9,613.9 720.0,610.3 720.1,606.0 720.2,601.3 720.3,597.0 720.3,593.6 720.4,591.5 720.4,590.7 720.4,590.5 720.4,590.7 720.5,591.6 720.5,593.8 720.6,597.3 720.6,601.6 720.7,606.3 720.8,610.6 720.9,614.2 721.1,617.3 721.3,619.3 721.5,620.7 721.8,621.5 722.2,621.9 722.4,622.0 722.5,622.1 722.6,622.1 722.6,622.1 722.7,622.1 722.8,622.1 722.9,622.1 723.1,622.0 723.4,621.7 723.7,621.1 724.0,619.9 724.2,618.0 724.4,615.4 724.5,612.3 724.6,608.7 724.6,604.7 724.7,601.2 724.7,598.4 724.8,596.7 724.8,596.0 724.8,595.9 724.9,596.1 724.9,596.8 724.9,598.6 725.0,601.4 725.1,605.1 725.1,609.0 725.2,612.6 725.3,615.7 725.5,618.4 725.7,620.2 725.9,621.4 726.3,622.1 726.6,622.5 726.8,622.6 726.9,622.6 727.0,622.6 727.0,622.6 727.1,622.6 727.2,622.6 727.3,622.6 727.5,622.6 727.8,622.3 728.2,621.7 728.4,620.7 728.6,619.2 728.8,617.0 728.9,614.4 729.0,611.4 729.0,608.2 729.1,605.3 729.2,603.1 729.2,601.8 729.2,601.3 729.3,601.2 729.3,601.4 729.3,601.9 729.4,603.3 729.4,605.6 729.5,608.5 729.5,611.7 729.6,614.7 729.7,617.3 729.9,619.5 730.1,621.0 730.4,622.1 730.7,622.7 731.0,623.0 731.2,623.1 731.3,623.1 731.4,623.1 731.5,623.1 731.5,623.1 731.6,623.1 731.7,623.1 731.9,623.1 732.3,622.8 732.6,622.4 732.8,621.6 733.0,620.3 733.2,618.5 733.3,616.5 733.4,614.1 733.5,611.7 733.5,609.5 733.6,607.9 733.6,606.9 733.7,606.5 733.7,606.5 733.7,606.6 733.7,607.0 733.8,608.1 733.8,609.8 733.9,612.0 734.0,614.5 734.1,616.8 734.2,618.9 734.3,620.6 734.5,621.9 734.8,622.7 735.1,623.2 735.5,623.4 735.6,623.5 735.7,623.5 735.8,623.6 735.9,623.6 736.0,623.6 736.1,623.6 736.2,623.6 736.3,623.5 736.7,623.4 737.0,623.0 737.3,622.4 737.5,621.5 737.6,620.1 737.7,618.6 737.8,617.0 737.9,615.2 738.0,613.7 738.0,612.5 738.1,611.9 738.1,611.6 738.1,611.6 738.1,611.7 738.2,612.0 738.2,612.7 738.3,614.0 738.3,615.5 738.4,617.3 738.5,619.0 738.6,620.5 738.8,621.8 739.0,622.7 739.2,623.3 739.5,623.7 739.9,623.9 740.1,623.9 740.2,624.0 740.3,624.0 740.3,624.0 740.4,624.0 740.5,624.0 740.6,624.0 740.8,624.0 741.1,623.9 741.4,623.6 741.7,623.2 741.9,622.6 742.0,621.7 742.2,620.7 742.2,619.6 742.3,618.5 742.4,617.5 742.4,616.8 742.5,616.4 742.5,616.2 742.5,616.2 742.6,616.3 742.6,616.5 742.6,616.9 742.7,617.7 742.7,618.7 742.8,619.9 742.9,621.0 743.0,622.0 743.2,622.9 743.4,623.5 743.6,623.9 743.9,624.2 744.3,624.3 744.5,624.4 744.6,624.4 744.7,624.4 744.7,624.4 744.8,624.4 744.9,624.4 745.0,624.4 745.2,624.4 745.5,624.3 745.9,624.2 746.1,623.9 746.3,623.5 746.5,623.0 746.6,622.3 746.7,621.6 746.7,620.9 746.8,620.3 746.9,619.9 746.9,619.6 746.9,619.6 747.0,619.5 747.0,619.6 747.0,619.7 747.1,620.0 747.1,620.5 747.2,621.1 747.2,621.9 747.3,622.6 747.4,623.2 747.6,623.8 747.8,624.2 748.1,624.5 748.4,624.7 748.7,624.8 748.9,624.8 749.0,624.8 749.1,624.8 749.2,624.8 749.2,624.8 749.3,624.8 749.4,624.8 749.6,624.8 750.0,624.8 750.3,624.7 750.5,624.6 750.7,624.3 750.9,624.0 751.0,623.6 751.1,623.1 751.2,622.7 751.2,622.3 751.3,622.0 751.3,621.9 751.4,621.8 751.4,621.8 751.4,621.8 751.4,621.9 751.5,622.1 751.5,622.4 751.6,622.8 751.7,623.3 751.8,623.7 751.9,624.1 752.0,624.5 752.2,624.8 752.5,625.0 752.8,625.1 753.2,625.2 753.3,625.2 753.4,625.2 753.5,625.2 753.6,625.2 753.7,625.2 753.7,625.2 753.9,625.2 754.0,625.2 754.4,625.2 754.7,625.2 755.0,625.1 755.2,624.9 755.3,624.7 755.4,624.5 755.5,624.2 755.6,623.9 755.7,623.7 755.7,623.6 755.8,623.5 755.8,623.4 755.8,623.4 755.8,623.4 755.9,623.5 755.9,623.6 756.0,623.8 756.0,624.0 756.1,624.3 756.2,624.6 756.3,624.9 756.4,625.1 756.6,625.3 756.9,625.4 757.2,625.5 757.6,625.5 757.8,625.5 757.9,625.6 758.0,625.6 758.0,625.6 758.1,625.6 758.2,625.6 758.3,625.6 758.5,625.6 758.8,625.6 759.1,625.6 759.4,625.5 759.6,625.4 759.7,625.3 759.9,625.2 759.9,625.1 760.0,624.9 760.1,624.8 760.1,624.7 760.2,624.7 760.2,624.7 760.2,624.7 760.3,624.7 760.3,624.7 760.3,624.8 760.4,624.9 760.4,625.0 760.5,625.2 760.6,625.3 760.7,625.4 760.9,625.6 761.1,625.6 761.3,625.7 761.6,625.7 762.0,625.7 762.2,625.7 762.3,625.7 762.4,625.7 762.4,625.7 762.5,625.7 762.6,625.7 762.7,625.7 762.9,625.7 763.2,625.7 763.5,625.7 763.8,625.7 764.0,625.7 764.2,625.7 764.3,625.6 764.4,625.6 764.4,625.6 764.5,625.6 764.6,625.6 764.6,625.6 764.6,625.6 764.7,625.6 764.7,625.6 764.7,625.6 764.8,625.6 764.8,625.6 764.9,625.7 764.9,625.7 765.0,625.7 765.1,625.7 765.3,625.7 765.5,625.7 765.8,625.7 766.1,625.7 766.4,625.7 766.6,625.7 766.7,625.7 766.8,625.7 766.9,625.7 766.9,625.7 767.0,625.7 767.1,625.7 767.3,625.7 767.7,625.7 768.0,625.7 768.2,625.7 768.4,625.7 768.6,625.7 768.7,625.7 768.8,625.7 768.9,625.7 768.9,625.7 769.0,625.7 769.0,625.7 769.1,625.7 769.1,625.7 769.1,625.7 769.1,625.7 769.2,625.7 769.2,625.7 769.3,625.7 769.4,625.7 769.5,625.7 769.6,625.7 769.7,625.7 769.9,625.7 770.2,625.7 770.5,625.7 770.9,625.7 771.0,625.7 771.1,625.7 771.2,625.7 771.3,625.7 771.4,625.7 771.4,625.7 771.6,625.7 771.7,625.7 772.1,625.7 772.4,625.7 772.7,625.6 772.9,625.5 773.0,625.4 773.1,625.2 773.2,625.1 773.3,624.9 773.4,624.7 773.4,624.6 773.5,624.5 773.5,624.5 773.5,624.5 773.5,624.5 773.6,624.5 773.6,624.5 773.7,624.6 773.7,624.8 773.8,625.0 773.9,625.1 774.0,625.3 774.1,625.4 774.3,625.6 774.6,625.6 774.9,625.7 775.3,625.7 775.5,625.7 775.6,625.7 775.7,625.7 775.7,625.7 775.8,625.7 775.9,625.7 776.0,625.7 776.2,625.7 776.5,625.7 776.8,625.6 777.1,625.5 777.3,625.3 777.4,625.0 777.6,624.7 777.6,624.3 777.7,624.0 777.8,623.6 777.8,623.4 777.9,623.3 777.9,623.2 777.9,623.2 778.0,623.2 778.0,623.2 778.0,623.4 778.1,623.6 778.1,623.9 778.2,624.2 778.3,624.5 778.4,624.9 778.6,625.1 778.8,625.3 779.0,625.5 779.3,625.5 779.7,625.6 779.9,625.6 780.0,625.6 780.1,625.6 780.1,625.6 780.2,625.6 780.3,625.6 780.4,625.5 780.6,625.5 780.9,625.4 781.2,625.3 781.5,625.1 781.7,624.8 781.9,624.4 782.0,624.0 782.1,623.5 782.1,622.9 782.2,622.5 782.3,622.2 782.3,622.0 782.3,621.9 782.4,621.9 782.4,621.9 782.4,621.9 782.5,622.1 782.5,622.4 782.6,622.8 782.6,623.3 782.7,623.8 782.8,624.3 783.0,624.7 783.2,625.0 783.5,625.2 783.8,625.3 784.1,625.3 784.3,625.3 784.4,625.3 784.5,625.3 784.6,625.3 784.6,625.3 784.7,625.3 784.8,625.3 785.0,625.2 785.4,625.1 785.7,625.0 785.9,624.7 786.1,624.4 786.3,623.8 786.4,623.2 786.5,622.6 786.6,621.9 786.6,621.4 786.7,620.9 786.7,620.7 786.8,620.6 786.8,620.5 786.8,620.5 786.8,620.6 786.9,620.9 786.9,621.3 787.0,621.8 787.1,622.5 787.2,623.1 787.3,623.7 787.4,624.2 787.6,624.6 787.9,624.8 788.2,625.0 788.6,625.0 788.7,625.0 788.8,625.0 788.9,625.0 789.0,625.0 789.1,625.0 789.1,625.0 789.3,625.0 789.4,625.0 789.8,624.9 790.1,624.7 790.4,624.4 790.6,623.9 790.7,623.3 790.8,622.6 790.9,621.8 791.0,621.0 791.1,620.3 791.1,619.8 791.2,619.5 791.2,619.4 791.2,619.4 791.2,619.4 791.3,619.5 791.3,619.8 791.4,620.3 791.4,621.0 791.5,621.7 791.6,622.5 791.7,623.2 791.8,623.8 792.0,624.3 792.3,624.6 792.6,624.7 793.0,624.8 793.2,624.8 793.3,624.8 793.4,624.8 793.4,624.8 793.5,624.8 793.6,624.8 793.7,624.8 793.9,624.8 794.2,624.6 794.5,624.4 794.8,624.1 795.0,623.6 795.1,622.9 795.3,622.1 795.3,621.3 795.4,620.4 795.5,619.6 795.5,619.0 795.6,618.6 795.6,618.5 795.6,618.5 795.7,618.5 795.7,618.6 795.7,619.0 795.8,619.5 795.8,620.3 795.9,621.2 796.0,622.1 796.1,622.8 796.3,623.5 796.5,624.0 796.7,624.4 797.0,624.6 797.4,624.7 797.6,624.7 797.7,624.7 797.8,624.7 797.8,624.7 797.9,624.7 798.0,624.7 798.1,624.7 798.3,624.6 798.6,624.5 799.0,624.3 799.2,623.9 799.4,623.4 799.6,622.6 799.7,621.8 799.8,620.8 799.8,619.9 799.9,619.0 800.0,618.4 800.0,618.0 800.0,617.8 800.1,617.8 800.1,617.8 800.1,618.0 800.2,618.3 800.2,619.0 800.3,619.8 800.3,620.8 800.4,621.7 800.5,622.6 800.7,623.4 800.9,623.9 801.2,624.3 801.5,624.5 801.8,624.6 802.0,624.6 802.1,624.6 802.2,624.6 802.3,624.6 802.3,624.6 802.4,624.6 802.5,624.6 802.7,624.6 803.1,624.5 803.4,624.3 803.6,623.9 803.8,623.3 804.0,622.5 804.1,621.5 804.2,620.5 804.3,619.4 804.3,618.5 804.4,617.8 804.4,617.4 804.5,617.2 804.5,617.2 804.5,617.2 804.5,617.4 804.6,617.8 804.6,618.5 804.7,619.4 804.8,620.5 804.9,621.5 805.0,622.4 805.1,623.3 805.3,623.8 805.6,624.2 805.9,624.5 806.3,624.6 806.4,624.6 806.5,624.6 806.6,624.6 806.7,624.6 806.8,624.6 806.9,624.6 807.0,624.6 807.1,624.6 807.5,624.5 807.8,624.2 808.1,623.8 808.3,623.2 808.4,622.3 808.5,621.3 808.6,620.2 808.7,619.1 808.8,618.1 808.8,617.3 808.9,616.9 808.9,616.7 808.9,616.7 808.9,616.7 809.0,616.9 809.0,617.3 809.1,618.1 809.1,619.1 809.2,620.2 809.3,621.3 809.4,622.3 809.6,623.2 809.8,623.8 810.0,624.2 810.3,624.5 810.7,624.6 810.9,624.6 811.0,624.6 811.1,624.6 811.1,624.6 811.2,624.6 811.3,624.6 811.4,624.6 811.6,624.6 811.9,624.5 812.2,624.2 812.5,623.8 812.7,623.1 812.8,622.2 813.0,621.1 813.0,619.9 813.1,618.7 813.2,617.7 813.2,616.9 813.3,616.4 813.3,616.2 813.3,616.1 813.4,616.2 813.4,616.4 813.4,616.8 813.5,617.6 813.5,618.7 813.6,619.9 813.7,621.1 813.8,622.1 814.0,623.1 814.2,623.7 814.4,624.2 814.8,624.5 815.1,624.6 815.3,624.6 815.4,624.6 815.5,624.6 815.6,624.6 815.6,624.6 815.7,624.6 815.8,624.6 816.0,624.6 816.3,624.4 816.7,624.2 816.9,623.7 817.1,623.0 817.3,622.0 817.4,620.9 817.5,619.6 817.6,618.3 817.6,617.2 817.7,616.3 817.7,615.8 817.7,615.6 817.8,615.6 817.8,615.6 817.8,615.8 817.9,616.3 817.9,617.2 818.0,618.3 818.1,619.6 818.1,620.9 818.3,622.0 818.4,623.0 818.6,623.7 818.9,624.2 819.2,624.4 819.5,624.6 819.7,624.6 819.8,624.6 819.9,624.6 820.0,624.6 820.0,624.6 820.1,624.6 820.2,624.6 820.4,624.6 820.8,624.4 821.1,624.2 821.3,623.7 821.5,622.9 821.7,621.9 821.8,620.7 821.9,619.4 822.0,618.0 822.0,616.8 822.1,615.9 822.1,615.3 822.2,615.1 822.2,615.1 822.2,615.1 822.2,615.3 822.3,615.9 822.3,616.8 822.4,618.0 822.5,619.4 822.6,620.7 822.7,621.9 822.8,622.9 823.0,623.6 823.3,624.2 823.6,624.4 824.0,624.6 824.1,624.6 824.2,624.6 824.3,624.6 824.4,624.6 824.5,624.6 824.6,624.6 824.7,624.6 824.8,624.6 825.2,624.4 825.5,624.1 825.8,623.6 826.0,622.9 826.1,621.8 826.2,620.6 826.3,619.2 826.4,617.8 826.5,616.6 826.5,615.6 826.6,615.0 826.6,614.8 826.6,614.8 826.6,614.8 826.7,615.0 826.7,615.6 826.8,616.5 826.8,617.8 826.9,619.2 827.0,620.6 827.1,621.8 827.3,622.9 827.5,623.6 827.7,624.1 828.0,624.4 828.4,624.6 828.6,624.6 828.7,624.6 828.8,624.6 828.8,624.6 828.9,624.6 829.0,624.6 829.1,624.6 829.3,624.6 829.6,624.4 829.9,624.1 830.2,623.6 830.4,622.8 830.6,621.8 830.7,620.5 830.8,619.1 830.8,617.7 830.9,616.5 830.9,615.5 831.0,614.9 831.0,614.7 831.0,614.7 831.1,614.7 831.1,614.9 831.1,615.5 831.2,616.5 831.3,617.7 831.3,619.1 831.4,620.5 831.5,621.8 831.7,622.8 831.9,623.6 832.2,624.1 832.5,624.4 832.8,624.6 833.0,624.6 833.1,624.6 833.2,624.6 833.3,624.6 833.3,624.6 833.4,624.6 833.5,624.6 833.7,624.6 834.1,624.4 834.4,624.1 834.6,623.6 834.8,622.8 835.0,621.8 835.1,620.5 835.2,619.1 835.3,617.7 835.3,616.5 835.4,615.5 835.4,614.9 835.5,614.7 835.5,614.7 835.5,614.7 835.5,614.9 835.6,615.5 835.6,616.5 835.7,617.7 835.8,619.1 835.8,620.5 836.0,621.8 836.1,622.8 836.3,623.6 836.6,624.1 836.9,624.4 837.2,624.6 837.4,624.6 837.5,624.6 837.6,624.6 837.7,624.6 837.8,624.6 837.8,624.6 838.0,624.6 838.1,624.6 838.5,624.4 838.8,624.1 839.1,623.6 839.3,622.8 839.4,621.8 839.5,620.5 839.6,619.1 839.7,617.7 839.8,616.5 839.8,615.5 839.8,614.9 839.9,614.7 839.9,614.7 839.9,614.7 840.0,614.9 840.0,615.5 840.1,616.5 840.1,617.7 840.2,619.1 840.3,620.5 840.4,621.8 840.5,622.8 840.7,623.6 841.0,624.1 841.3,624.4 841.7,624.6 841.8,624.6 842.0,624.6 842.0,624.6 842.1,624.6 842.2,624.6 842.3,624.6 842.4,624.6 842.6,624.6 842.9,624.4 843.2,624.1 843.5,623.6 843.7,622.8 843.8,621.8 844.0,620.5 844.0,619.1 844.1,617.7 844.2,616.5 844.2,615.5 844.3,614.9 844.3,614.7 844.3,614.7 844.4,614.7 844.4,614.9 844.4,615.5 844.5,616.5 844.5,617.7 844.6,619.1 844.7,620.5 844.8,621.8 845.0,622.8 845.2,623.6 845.4,624.1 845.7,624.4 846.1,624.6 846.3,624.6 846.4,624.6 846.5,624.6 846.5,624.6 846.6,624.6 846.7,624.6 846.8,624.6 847.0,624.6 847.3,624.4 847.7,624.1 847.9,623.6 848.1,622.8 848.3,621.8 848.4,620.5 848.5,619.2 848.5,617.7 848.6,616.5 848.7,615.6 848.7,615.0 848.7,614.8 848.8,614.7 848.8,614.8 848.8,615.0 848.9,615.6 848.9,616.5 849.0,617.8 849.0,619.2 849.1,620.5 849.2,621.8 849.4,622.9 849.6,623.6 849.9,624.1 850.2,624.4 850.5,624.6 850.7,624.6 850.8,624.6 850.9,624.6 851.0,624.6 851.0,624.6 851.1,624.6 851.2,624.6 851.4,624.6 851.8,624.4 852.1,624.1 852.3,623.6 852.5,622.9 852.7,621.8 852.8,620.6 852.9,619.3 853.0,617.9 853.0,616.7 853.1,615.7 853.1,615.2 853.2,615.0 853.2,614.9 853.2,615.0 853.2,615.2 853.3,615.7 853.3,616.7 853.4,617.9 853.5,619.3 853.6,620.6 853.7,621.8 853.8,622.9 854.0,623.6 854.3,624.2 854.6,624.4 855.0,624.6 855.1,624.6 855.2,624.6 855.3,624.6 855.4,624.6 855.5,624.6 855.6,624.6 855.7,624.6 855.8,624.6 856.2,624.4 856.5,624.2 856.8,623.7 857.0,622.9 857.1,621.9 857.2,620.7 857.3,619.4 857.4,618.1 857.5,616.9 857.5,616.0 857.6,615.5 857.6,615.3 857.6,615.2 857.6,615.3 857.7,615.5 857.7,616.0 857.8,616.9 857.8,618.1 857.9,619.5 858.0,620.8 858.1,621.9 858.3,622.9 858.5,623.7 858.7,624.2 859.0,624.4 859.4,624.6 859.6,624.6 859.7,624.6 859.8,624.6 859.8,624.6 859.9,624.6 860.0,624.6 860.1,624.6 860.3,624.6 860.6,624.4 860.9,624.2 861.2,623.7 861.4,623.0 861.6,622.0 861.7,620.9 861.8,619.6 861.8,618.3 861.9,617.2 861.9,616.3 862.0,615.8 862.0,615.6 862.0,615.6 862.1,615.6 862.1,615.8 862.1,616.4 862.2,617.2 862.3,618.3 862.3,619.6 862.4,620.9 862.5,622.0 862.7,623.0 862.9,623.7 863.2,624.2 863.5,624.4 863.8,624.6 864.0,624.6 864.1,624.6 864.2,624.6 864.3,624.6 864.3,624.6 864.4,624.6 864.5,624.6 864.7,624.6 865.1,624.4 865.4,624.2 865.6,623.7 865.8,623.0 866.0,622.1 866.1,621.0 866.2,619.8 866.3,618.5 866.3,617.5 866.4,616.6 866.4,616.2 866.5,616.0 866.5,615.9 866.5,616.0 866.5,616.2 866.6,616.7 866.6,617.5 866.7,618.6 866.8,619.8 866.9,621.0 867.0,622.1 867.1,623.1 867.3,623.7 867.6,624.2 867.9,624.5 868.2,624.6 868.4,624.6 868.5,624.6 868.6,624.6 868.7,624.6 868.8,624.6 868.8,624.6 869.0,624.6 869.1,624.6 869.5,624.5 869.8,624.2 870.1,623.8 870.3,623.1 870.4,622.2 870.5,621.1 870.6,620.0 870.7,618.8 870.8,617.7 870.8,616.9 870.9,616.5 870.9,616.3 870.9,616.2 870.9,616.3 871.0,616.5 871.0,616.9 871.1,617.7 871.1,618.8 871.2,620.0 871.3,621.1 871.4,622.2 871.5,623.1 871.7,623.8 872.0,624.2 872.3,624.5 872.7,624.6 872.9,624.6 873.0,624.6 873.1,624.6 873.1,624.6 873.2,624.6 873.3,624.6 873.4,624.6" fill="none" stroke="#00ca00" stroke-width="1.7" stroke-linejoin="round" stroke-linecap="butt"/>
<polyline points="96.5,601.6 97.5,602.4 98.5,603.2 99.5,603.9 100.5,604.7 101.5,605.4 102.5,606.2 103.5,607.0 104.5,607.8 105.5,608.6 106.5,609.4 107.5,610.3 108.5,611.1 109.5,612.0 110.5,612.8 111.5,613.7 112.5,614.6 113.5,615.5 114.5,616.4 115.5,617.3 116.5,618.2 117.5,619.1 118.5,620.0 119.5,620.9 120.5,621.9 121.5,622.9 122.5,624.0 123.5,623.9 124.5,623.7 125.5,623.5 126.5,623.2 127.5,622.8 128.5,622.4 129.5,622.0 130.5,621.4 131.5,620.7 132.5,620.0 133.5,619.1 134.5,618.2 135.5,617.2 136.5,616.1 137.5,615.0 138.5,613.8 139.5,612.6 140.5,611.4 141.5,610.2 142.5,609.0 143.5,607.8 144.5,606.6 145.5,605.4 146.5,604.2 147.5,603.1 148.5,601.9 149.5,600.8 150.5,599.8 151.5,598.8 152.5,597.9 153.5,597.1 154.5,596.3 155.5,595.6 156.5,595.0 157.5,594.4 158.5,593.8 159.5,593.3 160.5,592.7 161.5,592.3 162.5,591.8 163.5,591.4 164.5,590.9 165.5,590.5 166.5,590.1 167.5,589.8 168.5,589.4 169.5,589.0 170.5,588.7 171.5,588.3 172.5,588.0 173.5,587.6 174.5,587.3 175.5,587.0 176.5,586.6 177.5,586.3 178.5,586.0 179.5,585.7 180.5,585.4 181.5,585.1 182.5,584.8 183.5,584.6 184.5,584.3 185.5,584.1 186.5,583.8 187.5,583.6 188.5,583.4 189.5,583.2 190.5,583.0 191.5,582.8 192.5,582.6 193.5,582.5 194.5,582.3 195.5,582.1 196.5,582.0 197.5,581.8 198.5,581.6 199.5,581.5 200.5,581.3 201.5,581.1 202.5,580.9 203.5,580.8 204.5,580.6 205.5,580.4 206.5,580.2 207.5,580.0 208.5,579.8 209.5,579.6 210.5,579.4 211.5,579.2 212.5,579.0 213.5,578.8 214.5,578.6 215.5,578.5 216.5,578.3 217.5,578.2 218.5,578.0 219.5,577.9 220.5,577.8 221.5,577.7 222.5,577.6 223.5,577.6 224.5,577.5 225.5,577.4 226.5,577.4 227.5,577.4 228.5,577.3 229.5,577.3 230.5,577.3 231.5,577.2 232.5,577.2 233.5,577.2 234.5,577.2 235.5,577.2 236.5,577.3 237.5,577.3 238.5,577.3 239.5,577.4 240.5,577.5 241.5,577.6 242.5,577.7 243.5,577.8 244.5,577.9 245.5,578.0 246.5,578.2 247.5,578.3 248.5,578.5 249.5,578.7 250.5,578.9 251.5,579.1 252.5,579.3 253.5,579.6 254.5,579.9 255.5,580.1 256.5,580.5 257.5,580.8 258.5,581.1 259.5,581.5 260.5,581.9 261.5,582.2 262.5,582.6 263.5,583.0 264.5,583.5 265.5,583.9 266.5,584.3 267.5,584.8 268.5,585.3 269.5,585.7 270.5,586.2 271.5,586.8 272.5,587.3 273.5,587.9 274.5,588.5 275.5,589.2 276.5,589.9 277.5,590.6 278.5,591.3 279.5,592.1 280.5,592.9 281.5,593.8 282.5,594.7 283.5,595.6 284.5,596.6 285.5,597.6 286.5,598.6 287.5,599.7 288.5,600.8 289.5,601.9 290.5,603.1 291.5,604.2 292.5,605.4 293.5,606.6 294.5,607.7 295.5,608.9 296.5,610.1 297.5,611.2 298.5,612.4 299.5,613.6 300.5,614.8 301.5,616.1 302.5,617.3 303.5,618.6 304.5,619.9 305.5,621.2 306.5,622.5 307.5,624.0 307.9,624.6 308.5,623.0 309.5,620.4 310.5,617.9 311.5,615.4 312.5,612.9 313.5,610.3 314.5,607.7 315.5,605.0 316.5,602.2 317.5,599.4 318.5,596.6 319.5,593.7 320.5,590.7 321.5,587.8 322.5,584.8 323.5,581.7 324.5,578.7 325.5,575.7 326.5,572.6 327.5,569.6 328.5,566.6 329.5,563.7 330.5,560.7 331.5,557.8 332.5,554.8 333.5,552.0 334.5,549.1 335.5,546.3 336.5,543.5 337.5,540.8 338.5,538.2 339.5,535.7 340.5,533.2 341.5,530.8 342.5,528.5 343.5,526.1 344.5,523.7 345.5,521.2 346.5,518.6 347.5,515.9 348.5,513.2 349.5,510.4 350.5,507.7 351.5,505.1 352.5,502.6 353.5,500.1 354.5,497.8 355.5,495.6 356.5,493.4 357.5,491.4 358.5,489.3 359.5,487.4 360.5,485.5 361.5,483.6 362.5,481.8 363.5,480.0 364.5,478.2 365.5,476.5 366.5,474.7 367.5,473.0 368.5,471.4 369.5,469.7 370.5,468.1 371.5,466.5 372.5,464.9 373.5,463.3 374.5,461.8 375.5,460.2 376.5,458.7 377.5,457.1 378.5,455.6 379.5,454.1 380.5,452.6 381.5,451.1 382.5,449.6 383.5,448.1 384.5,446.6 385.5,445.2 386.5,443.6 387.5,442.1 388.5,440.6 389.5,439.1 390.5,437.6 391.5,436.2 392.5,434.7 393.5,433.2 394.5,431.7 395.5,430.3 396.5,428.9 397.5,427.4 398.5,426.0 399.5,424.6 400.5,423.3 401.5,421.9 402.5,420.5 403.5,419.2 404.5,417.9 405.5,416.6 406.5,415.3 407.5,414.0 408.5,412.7 409.5,411.4 410.5,410.1 411.5,408.7 412.5,407.3 413.5,405.9 414.5,404.5 415.5,403.0 416.5,401.5 417.5,400.0 418.5,398.5 419.5,396.9 420.5,395.2 421.5,393.6 422.5,391.9 423.5,390.1 424.5,388.3 425.5,386.5 426.5,384.6 427.5,382.7 428.5,380.7 429.5,378.6 430.5,376.5 431.5,374.4 432.5,372.2 433.5,369.9 434.5,367.6 435.5,365.2 436.5,362.8 437.5,360.4 438.5,357.9 439.5,355.3 440.5,352.8 441.5,350.2 442.5,347.6 443.5,345.0 444.5,342.4 445.5,339.7 446.5,337.1 447.5,334.4 448.5,331.8 449.5,329.1 450.5,326.3 451.5,323.6 452.5,320.8 453.5,318.1 454.5,315.3 455.5,312.4 456.5,309.6 457.5,306.8 458.5,303.9 459.5,301.1 460.5,298.3 461.5,295.5 462.5,292.8 463.5,290.1 464.5,287.5 465.5,284.9 466.5,282.4 467.5,279.8 468.5,277.2 469.5,274.6 470.5,271.9 471.5,269.2 472.5,266.5 473.5,263.7 474.5,261.0 475.5,258.2 476.5,255.5 477.5,252.8 478.5,250.1 479.5,247.5 480.5,244.9 481.5,242.3 482.5,239.7 483.5,237.0 484.5,234.4 485.5,231.7 486.5,229.0 487.5,226.2 488.5,223.4 489.5,220.7 490.5,217.9 491.5,215.1 492.5,212.3 493.5,209.5 494.5,206.7 495.5,204.0 496.5,201.3 497.5,198.7 498.5,196.1 499.5,193.7 500.5,191.4 501.5,189.2 502.5,187.2 503.5,185.4 504.5,183.8 505.5,182.4 506.5,181.1 507.5,180.1 508.5,179.2 509.5,178.6 510.5,178.1 511.5,177.7 512.5,177.6 513.5,177.6 514.5,177.8 515.5,178.2 516.5,178.7 517.5,179.5 518.5,180.4 519.5,181.5 520.5,182.9 521.5,184.5 522.5,186.3 523.5,188.3 524.5,190.4 525.5,192.7 526.5,195.2 527.5,197.8 528.5,200.5 529.5,203.3 530.5,206.1 531.5,209.1 532.5,212.0 533.5,215.1 534.5,218.1 535.5,221.2 536.5,224.3 537.5,227.5 538.5,230.6 539.5,233.7 540.5,236.8 541.5,240.0 542.5,243.1 543.5,246.2 544.5,249.4 545.5,252.6 546.5,256.0 547.5,259.4 548.5,263.1 549.5,266.9 550.5,271.0 551.5,275.3 552.5,279.9 553.5,284.5 554.5,289.3 555.5,294.2 556.5,299.0 557.5,303.8 558.5,308.6 559.5,313.2 560.5,317.8 561.5,322.4 562.5,326.8 563.5,331.2 564.5,335.6 565.5,339.8 566.5,343.9 567.5,348.0 568.5,352.0 569.5,355.9 570.5,359.7 571.5,363.5 572.5,367.2 573.5,370.8 574.5,374.3 575.5,377.8 576.5,381.2 577.5,384.5 578.5,387.7 579.5,390.8 580.5,393.8 581.5,396.7 582.5,399.6 583.5,402.4 584.5,405.0 585.5,407.7 586.5,410.2 587.5,412.7 588.5,415.2 589.5,417.6 590.5,420.0 591.5,422.3 592.5,424.6 593.5,426.9 594.5,429.1 595.5,431.2 596.5,433.3 597.5,435.4 598.5,437.3 599.5,439.3 600.5,441.2 601.5,443.1 602.5,444.9 603.5,446.7 604.5,448.5 605.5,450.3 606.5,452.1 607.5,453.8 608.5,455.5 609.5,457.2 610.5,458.8 611.5,460.5 612.5,462.1 613.5,463.6 614.5,465.1 615.5,466.6 616.5,468.1 617.5,469.5 618.5,470.9 619.5,472.3 620.5,473.7 621.5,475.1 622.5,476.4 623.5,477.7 624.5,479.1 625.5,480.4 626.5,481.7 627.5,483.0 628.5,484.2 629.5,485.5 630.5,486.7 631.5,487.9 632.5,489.0 633.5,490.2 634.5,491.3 635.5,492.4 636.5,493.5 637.5,494.5 638.5,495.6 639.5,496.6 640.5,497.7 641.5,498.7 642.5,499.7 643.5,500.7 644.5,501.7 645.5,502.7 646.5,503.7 647.5,504.7 648.5,505.7 649.5,506.7 650.5,507.7 651.5,508.7 652.5,509.7 653.5,510.7 654.5,511.7 655.5,512.7 656.5,513.7 657.5,514.7 658.5,515.7 659.5,516.7 660.5,517.7 661.5,518.7 662.5,519.7 663.5,520.7 664.5,521.7 665.5,522.8 666.5,523.9 667.5,525.0 668.5,526.2 669.5,527.5 670.5,528.7 671.5,530.0 672.5,531.3 673.5,532.7 674.5,534.0 675.5,535.4 676.5,536.8 677.5,538.2 678.5,539.6 679.5,541.0 680.5,542.5 681.5,543.9 682.5,545.3 683.5,546.7 684.5,548.1 685.5,549.6 686.5,550.9 687.5,552.3 688.5,553.7 689.5,555.0 690.5,556.3 691.5,557.6 692.5,558.9 693.5,560.1 694.5,561.3 695.5,562.5 696.5,563.7 697.5,564.8 698.5,565.9 699.5,567.0 700.5,568.0 701.5,569.1 702.5,570.1 703.5,571.1 704.5,572.1 705.5,573.1 706.5,574.2 707.5,575.2 708.5,576.3 709.5,577.4 710.5,578.6 711.5,579.7 712.5,580.9 713.5,582.1 714.5,583.3 715.5,584.6 716.5,585.8 717.5,587.0 718.5,588.2 719.5,589.4 720.5,590.6 721.5,591.9 722.5,593.1 723.5,594.3 724.5,595.5 725.5,596.7 726.5,597.9 727.5,599.1 728.5,600.3 729.5,601.5 730.5,602.7 731.5,603.9 732.5,605.1 733.5,606.2 734.5,607.4 735.5,608.6 736.5,609.8 737.5,610.9 738.5,612.0 739.5,613.2 740.5,614.2 741.5,615.2 742.5,616.2 743.5,617.0 744.5,617.8 745.5,618.6 746.5,619.3 747.5,619.9 748.5,620.4 749.5,621.0 750.5,621.4 751.5,621.9 752.5,622.3 753.5,622.6 754.5,623.0 755.5,623.3 756.5,623.6 757.5,623.9 758.5,624.2 759.5,624.5 760.5,624.7 761.5,625.0 762.5,625.2 763.5,625.4 764.5,625.6 765.5,625.7 766.5,625.9 767.5,625.9 768.4,626.0 768.5,626.0 769.5,625.6 770.5,625.3 771.5,625.1 772.5,624.8 773.5,624.5 774.5,624.2 775.5,623.9 776.5,623.6 777.5,623.3 778.5,623.0 779.5,622.7 780.5,622.4 781.5,622.1 782.5,621.8 783.5,621.5 784.5,621.2 785.5,620.9 786.5,620.6 787.5,620.3 788.5,620.0 789.5,619.8 790.5,619.5 791.5,619.3 792.5,619.1 793.5,618.9 794.5,618.7 795.5,618.5 796.5,618.3 797.5,618.2 798.5,618.0 799.5,617.9 800.5,617.7 801.5,617.6 802.5,617.5 803.5,617.3 804.5,617.2 805.5,617.1 806.5,617.0 807.5,616.8 808.5,616.7 809.5,616.6 810.5,616.5 811.5,616.4 812.5,616.2 813.5,616.1 814.5,616.0 815.5,615.9 816.5,615.7 817.5,615.6 818.5,615.5 819.5,615.4 820.5,615.3 821.5,615.2 822.5,615.1 823.5,615.0 824.5,614.9 825.5,614.8 826.5,614.8 827.5,614.7 828.5,614.7 829.5,614.7 830.5,614.7 831.5,614.7 832.5,614.7 833.5,614.7 834.5,614.7 835.5,614.7 836.5,614.7 837.5,614.7 838.5,614.7 839.5,614.7 840.5,614.7 841.5,614.7 842.5,614.7 843.5,614.7 844.5,614.7 845.5,614.7 846.5,614.7 847.5,614.7 848.5,614.7 849.5,614.8 850.5,614.8 851.5,614.8 852.5,614.9 853.5,614.9 854.5,615.0 855.5,615.1 856.5,615.2 857.5,615.2 858.5,615.3 859.5,615.4 860.5,615.5 861.5,615.6 862.5,615.6 863.5,615.7 864.5,615.8 865.5,615.9 866.5,615.9 867.5,616.0 868.5,616.1 869.5,616.1 870.5,616.2 871.5,616.3 872.5,616.4 873.5,616.4" fill="none" stroke="#00ca00" stroke-width="5.0" stroke-linejoin="round" stroke-linecap="butt"/>
<polyline points="96.6,624.6 96.7,624.6 96.8,624.6 96.9,624.5 96.9,624.5 97.0,624.5 97.0,624.4 97.1,624.4 97.1,624.4 97.1,624.4 97.1,624.4 97.2,624.4 97.2,624.4 97.3,624.5 97.4,624.5 97.4,624.6 97.6,624.6 97.7,624.7 97.9,624.7 98.2,624.8 98.5,624.9 98.8,624.9 99.0,624.9 99.1,624.9 99.2,625.0 99.3,625.0 99.4,625.0 99.4,625.0 99.5,625.0 99.7,625.0 100.1,625.0 100.4,625.0 100.7,624.9 100.9,624.8 101.0,624.6 101.1,624.4 101.2,624.1 101.3,623.9 101.3,623.7 101.4,623.5 101.4,623.4 101.5,623.4 101.5,623.3 101.5,623.3 101.5,623.4 101.6,623.5 101.6,623.6 101.7,623.8 101.8,624.1 101.9,624.4 102.0,624.6 102.1,624.8 102.3,625.0 102.6,625.1 102.9,625.2 103.3,625.3 103.4,625.3 103.6,625.3 103.6,625.3 103.7,625.3 103.8,625.4 103.9,625.4 104.0,625.4 104.2,625.4 104.5,625.4 104.8,625.3 105.1,625.2 105.3,625.0 105.4,624.7 105.5,624.3 105.6,624.0 105.7,623.6 105.8,623.3 105.8,623.0 105.9,622.9 105.9,622.8 105.9,622.8 105.9,622.8 106.0,622.9 106.0,623.0 106.1,623.3 106.1,623.6 106.2,624.0 106.3,624.3 106.4,624.7 106.6,625.0 106.8,625.3 107.0,625.4 107.3,625.5 107.7,625.6 107.9,625.6 108.0,625.6 108.1,625.6 108.1,625.6 108.2,625.6 108.3,625.6 108.4,625.6 108.6,625.6 108.9,625.6 109.2,625.5 109.5,625.4 109.7,625.1 109.9,624.8 110.0,624.4 110.1,624.0 110.1,623.6 110.2,623.2 110.2,622.9 110.3,622.8 110.3,622.7 110.3,622.7 110.4,622.7 110.4,622.8 110.4,623.0 110.5,623.2 110.6,623.6 110.6,624.0 110.7,624.4 110.8,624.8 111.0,625.2 111.2,625.4 111.4,625.6 111.8,625.7 112.1,625.7 112.3,625.7 112.4,625.7 112.5,625.7 112.6,625.7 112.6,625.7 112.7,625.7 112.8,625.7 113.0,625.7 113.4,625.7 113.7,625.6 113.9,625.4 114.1,625.2 114.3,624.9 114.4,624.6 114.5,624.2 114.6,623.9 114.6,623.6 114.7,623.4 114.7,623.2 114.7,623.2 114.8,623.2 114.8,623.2 114.8,623.3 114.9,623.4 114.9,623.6 115.0,623.9 115.1,624.3 115.1,624.7 115.3,625.0 115.4,625.3 115.6,625.5 115.9,625.6 116.2,625.7 116.5,625.7 116.7,625.7 116.8,625.7 116.9,625.7 117.0,625.7 117.0,625.7 117.1,625.7 117.2,625.7 117.4,625.7 117.8,625.7 118.1,625.6 118.4,625.5 118.5,625.4 118.7,625.2 118.8,625.1 118.9,624.9 119.0,624.7 119.0,624.5 119.1,624.4 119.1,624.3 119.2,624.3 119.2,624.3 119.2,624.3 119.2,624.4 119.3,624.5 119.3,624.6 119.4,624.8 119.5,625.0 119.6,625.2 119.7,625.3 119.8,625.5 120.0,625.6 120.3,625.7 120.6,625.7 121.0,625.7 121.1,625.7 121.2,625.7 121.3,625.7 121.4,625.7 121.5,625.7 121.6,625.7 121.7,625.7 121.8,625.7 122.2,625.7 122.5,625.7 122.8,625.7 123.0,625.7 123.1,625.7 123.2,625.7 123.3,625.7 123.4,625.7 123.5,625.7 123.5,625.7 123.6,625.7 123.6,625.7 123.6,625.7 123.6,625.7 123.7,625.7 123.7,625.7 123.8,625.7 123.8,625.7 123.9,625.7 124.0,625.7 124.1,625.7 124.3,625.7 124.5,625.7 124.7,625.7 125.0,625.7 125.4,625.7 125.6,625.7 125.7,625.7 125.8,625.7 125.8,625.7 125.9,625.7 126.0,625.7 126.1,625.7 126.3,625.7 126.6,625.7 126.9,625.6 127.2,625.5 127.4,625.3 127.6,625.1 127.7,624.8 127.8,624.4 127.8,624.1 127.9,623.8 127.9,623.5 128.0,623.3 128.0,623.3 128.0,623.2 128.1,623.2 128.1,623.3 128.1,623.4 128.2,623.6 128.3,623.8 128.3,624.2 128.4,624.5 128.5,624.8 128.7,625.1 128.9,625.3 129.1,625.5 129.5,625.6 129.8,625.6 130.0,625.6 130.1,625.6 130.2,625.6 130.2,625.6 130.3,625.6 130.4,625.5 130.5,625.5 130.7,625.5 131.0,625.4 131.4,625.2 131.6,624.9 131.8,624.4 132.0,623.7 132.1,622.9 132.2,622.1 132.2,621.2 132.3,620.4 132.4,619.8 132.4,619.4 132.4,619.2 132.5,619.2 132.5,619.2 132.5,619.3 132.6,619.6 132.6,620.1 132.7,620.8 132.7,621.7 132.8,622.5 132.9,623.3 133.1,624.0 133.3,624.5 133.6,624.8 133.9,625.0 134.2,625.1 134.4,625.1 134.5,625.1 134.6,625.1 134.7,625.1 134.7,625.1 134.8,625.1 134.9,625.0 135.1,625.0 135.5,624.8 135.8,624.4 136.0,623.9 136.2,623.0 136.4,621.8 136.5,620.3 136.6,618.8 136.7,617.1 136.7,615.6 136.8,614.4 136.8,613.7 136.9,613.4 136.9,613.3 136.9,613.3 136.9,613.5 137.0,614.2 137.0,615.2 137.1,616.6 137.2,618.3 137.3,619.9 137.4,621.3 137.5,622.5 137.7,623.4 138.0,624.0 138.3,624.3 138.7,624.5 138.8,624.5 138.9,624.5 139.0,624.5 139.1,624.5 139.2,624.5 139.3,624.5 139.4,624.4 139.5,624.4 139.9,624.1 140.2,623.6 140.5,622.7 140.7,621.4 140.8,619.5 140.9,617.4 141.0,614.9 141.1,612.2 141.2,609.8 141.2,607.9 141.3,606.7 141.3,606.3 141.3,606.1 141.3,606.2 141.4,606.6 141.4,607.6 141.5,609.4 141.5,611.7 141.6,614.4 141.7,616.9 141.8,619.1 142.0,621.0 142.1,622.3 142.4,623.2 142.7,623.7 143.1,623.9 143.3,623.9 143.4,623.9 143.5,623.9 143.5,623.9 143.6,623.9 143.7,623.9 143.8,623.9 144.0,623.8 144.3,623.4 144.6,622.8 144.9,621.6 145.1,619.9 145.2,617.5 145.4,614.6 145.4,611.2 145.5,607.5 145.6,604.1 145.6,601.5 145.7,599.8 145.7,599.1 145.7,599.0 145.8,599.1 145.8,599.6 145.8,601.2 145.9,603.8 145.9,607.1 146.0,610.7 146.1,614.1 146.2,617.1 146.4,619.6 146.6,621.3 146.8,622.4 147.1,623.1 147.5,623.4 147.7,623.4 147.8,623.5 147.9,623.5 147.9,623.5 148.0,623.5 148.1,623.4 148.2,623.4 148.4,623.3 148.7,622.9 149.1,622.1 149.3,620.8 149.5,618.7 149.7,615.7 149.8,612.1 149.9,607.9 149.9,603.2 150.0,598.9 150.1,595.4 150.1,593.3 150.1,592.4 150.2,592.2 150.2,592.3 150.2,593.1 150.3,595.2 150.3,598.6 150.4,602.9 150.4,607.5 150.5,611.7 150.6,615.4 150.8,618.4 151.0,620.5 151.3,621.9 151.6,622.6 151.9,623.0 152.1,623.1 152.2,623.1 152.3,623.1 152.4,623.1 152.4,623.1 152.5,623.1 152.6,623.1 152.8,622.9 153.2,622.5 153.5,621.6 153.7,620.1 153.9,617.7 154.1,614.2 154.2,610.0 154.3,605.0 154.4,599.4 154.4,594.1 154.5,589.8 154.5,587.1 154.6,586.0 154.6,585.8 154.6,586.0 154.6,587.0 154.7,589.6 154.7,593.8 154.8,599.0 154.9,604.7 155.0,609.7 155.1,613.9 155.2,617.4 155.4,619.8 155.7,621.4 156.0,622.3 156.3,622.7 156.5,622.8 156.6,622.8 156.7,622.9 156.8,622.9 156.9,622.9 156.9,622.8 157.1,622.8 157.2,622.7 157.6,622.2 157.9,621.2 158.2,619.5 158.4,616.9 158.5,613.0 158.6,608.2 158.7,602.5 158.8,596.1 158.9,589.9 158.9,584.9 159.0,581.7 159.0,580.4 159.0,580.2 159.0,580.4 159.1,581.6 159.1,584.7 159.2,589.7 159.2,595.8 159.3,602.3 159.4,608.0 159.5,612.7 159.6,616.7 159.8,619.3 160.1,621.0 160.4,622.0 160.8,622.5 161.0,622.6 161.1,622.6 161.1,622.6 161.2,622.6 161.3,622.6 161.4,622.6 161.5,622.5 161.7,622.4 162.0,621.9 162.3,620.9 162.6,619.0 162.8,616.2 162.9,612.0 163.1,606.8 163.1,600.6 163.2,593.4 163.3,586.5 163.3,580.8 163.4,577.2 163.4,575.8 163.4,575.4 163.4,575.7 163.5,577.1 163.5,580.6 163.6,586.3 163.6,593.2 163.7,600.3 163.8,606.6 163.9,611.8 164.1,616.0 164.3,618.9 164.5,620.7 164.8,621.7 165.2,622.2 165.4,622.3 165.5,622.4 165.6,622.4 165.6,622.4 165.7,622.4 165.8,622.4 165.9,622.3 166.1,622.2 166.4,621.6 166.7,620.6 167.0,618.6 167.2,615.6 167.4,611.1 167.5,605.6 167.6,598.9 167.6,591.1 167.7,583.6 167.8,577.3 167.8,573.3 167.8,571.7 167.9,571.4 167.9,571.7 167.9,573.2 167.9,577.2 168.0,583.4 168.1,590.9 168.1,598.7 168.2,605.4 168.3,610.9 168.5,615.4 168.7,618.5 169.0,620.4 169.3,621.5 169.6,622.0 169.8,622.1 169.9,622.2 170.0,622.2 170.1,622.2 170.1,622.2 170.2,622.2 170.3,622.1 170.5,622.0 170.9,621.4 171.2,620.3 171.4,618.2 171.6,615.1 171.8,610.4 171.9,604.5 172.0,597.4 172.1,589.1 172.1,580.9 172.2,574.1 172.2,569.8 172.3,568.0 172.3,567.6 172.3,568.0 172.3,569.7 172.4,574.0 172.4,580.8 172.5,588.9 172.6,597.2 172.7,604.4 172.8,610.2 172.9,614.9 173.1,618.1 173.4,620.1 173.7,621.2 174.0,621.8 174.2,621.9 174.3,622.0 174.4,622.0 174.5,622.0 174.6,622.0 174.6,622.0 174.8,621.9 174.9,621.8 175.3,621.2 175.6,620.0 175.9,617.9 176.1,614.6 176.2,609.7 176.3,603.6 176.4,596.0 176.5,587.2 176.5,578.5 176.6,571.1 176.6,566.4 176.7,564.5 176.7,564.1 176.7,564.5 176.8,566.3 176.8,571.0 176.8,578.3 176.9,587.0 177.0,595.8 177.1,603.4 177.2,609.5 177.3,614.5 177.5,617.8 177.8,619.9 178.1,621.0 178.5,621.6 178.6,621.8 178.8,621.8 178.8,621.8 178.9,621.8 179.0,621.8 179.1,621.8 179.2,621.7 179.4,621.6 179.7,621.0 180.0,619.8 180.3,617.6 180.5,614.2 180.6,609.0 180.7,602.7 180.8,594.7 180.9,585.4 181.0,576.1 181.0,568.3 181.1,563.2 181.1,561.2 181.1,560.7 181.1,561.2 181.2,563.1 181.2,568.2 181.3,576.0 181.3,585.2 181.4,594.6 181.5,602.5 181.6,608.9 181.8,614.1 182.0,617.5 182.2,619.6 182.5,620.8 182.9,621.4 183.1,621.6 183.2,621.6 183.3,621.6 183.3,621.6 183.4,621.6 183.5,621.6 183.6,621.6 183.8,621.4 184.1,620.8 184.4,619.5 184.7,617.3 184.9,613.8 185.1,608.5 185.2,601.8 185.3,593.5 185.3,583.7 185.4,574.0 185.4,565.6 185.5,560.2 185.5,558.1 185.5,557.6 185.6,558.0 185.6,560.2 185.6,565.5 185.7,573.8 185.8,583.6 185.8,593.4 185.9,601.7 186.0,608.3 186.2,613.7 186.4,617.2 186.7,619.4 187.0,620.6 187.3,621.3 187.5,621.4 187.6,621.4 187.7,621.5 187.8,621.5 187.8,621.5 187.9,621.4 188.0,621.4 188.2,621.2 188.6,620.6 188.9,619.3 189.1,617.0 189.3,613.4 189.5,607.9 189.6,601.0 189.7,592.5 189.8,582.2 189.8,572.0 189.9,563.2 189.9,557.5 189.9,555.2 190.0,554.7 190.0,555.1 190.0,557.4 190.1,563.1 190.1,571.9 190.2,582.1 190.3,592.3 190.3,600.9 190.5,607.8 190.6,613.3 190.8,616.9 191.1,619.2 191.4,620.4 191.7,621.1 191.9,621.2 192.0,621.3 192.1,621.3 192.2,621.3 192.2,621.3 192.3,621.3 192.4,621.2 192.6,621.0 193.0,620.4 193.3,619.1 193.6,616.7 193.8,613.0 193.9,607.4 194.0,600.3 194.1,591.5 194.2,580.8 194.2,570.1 194.3,560.9 194.3,554.9 194.4,552.5 194.4,551.9 194.4,552.4 194.4,554.8 194.5,560.8 194.5,570.0 194.6,580.7 194.7,591.3 194.8,600.2 194.9,607.3 195.0,612.9 195.2,616.6 195.5,619.0 195.8,620.3 196.2,620.9 196.3,621.0 196.5,621.1 196.5,621.1 196.6,621.1 196.7,621.1 196.8,621.1 196.9,621.0 197.0,620.9 197.4,620.2 197.7,618.9 198.0,616.4 198.2,612.7 198.3,606.9 198.4,599.7 198.5,590.5 198.6,579.5 198.7,568.4 198.7,558.7 198.8,552.4 198.8,549.9 198.8,549.3 198.8,549.9 198.9,552.4 198.9,558.6 199.0,568.3 199.0,579.4 199.1,590.4 199.2,599.5 199.3,606.8 199.5,612.6 199.7,616.3 199.9,618.8 200.2,620.1 200.6,620.7 200.8,620.9 200.9,620.9 201.0,620.9 201.0,620.9 201.1,620.9 201.2,620.9 201.3,620.8 201.5,620.7 201.8,620.0 202.1,618.6 202.4,616.2 202.6,612.3 202.8,606.4 202.9,599.0 203.0,589.6 203.0,578.2 203.1,566.7 203.1,556.6 203.2,550.0 203.2,547.4 203.2,546.8 203.3,547.3 203.3,550.0 203.3,556.5 203.4,566.6 203.5,578.1 203.5,589.5 203.6,598.9 203.7,606.3 203.9,612.2 204.1,616.1 204.3,618.5 204.7,619.9 205.0,620.5 205.2,620.7 205.3,620.7 205.4,620.7 205.5,620.7 205.5,620.7 205.6,620.7 205.7,620.6 205.9,620.5 206.2,619.8 206.6,618.4 206.8,615.9 207.0,612.0 207.2,606.0 207.3,598.3 207.4,588.7 207.5,577.0 207.5,565.0 207.6,554.6 207.6,547.7 207.6,544.9 207.7,544.3 207.7,544.9 207.7,547.6 207.8,554.5 207.8,564.9 207.9,576.8 208.0,588.6 208.0,598.2 208.2,605.9 208.3,611.9 208.5,615.8 208.8,618.3 209.1,619.6 209.4,620.3 209.6,620.5 209.7,620.5 209.8,620.5 209.9,620.5 209.9,620.5 210.0,620.5 210.1,620.4 210.3,620.3 210.7,619.6 211.0,618.2 211.2,615.6 211.4,611.6 211.6,605.5 211.7,597.7 211.8,587.8 211.9,575.7 211.9,563.4 212.0,552.6 212.0,545.4 212.1,542.5 212.1,541.9 212.1,542.5 212.1,545.3 212.2,552.5 212.2,563.3 212.3,575.6 212.4,587.7 212.5,597.6 212.6,605.4 212.7,611.5 212.9,615.5 213.2,618.0 213.5,619.4 213.9,620.1 214.0,620.3 214.1,620.3 214.2,620.3 214.3,620.3 214.4,620.3 214.5,620.3 214.6,620.2 214.7,620.1 215.1,619.3 215.4,617.9 215.7,615.3 215.9,611.3 216.0,605.0 216.1,597.1 216.2,586.9 216.3,574.5 216.4,561.8 216.4,550.6 216.5,543.1 216.5,540.1 216.5,539.5 216.5,540.1 216.6,543.1 216.6,550.5 216.7,561.7 216.7,574.4 216.8,586.8 216.9,597.0 217.0,604.9 217.2,611.2 217.4,615.2 217.6,617.8 217.9,619.2 218.3,619.9 218.5,620.0 218.6,620.1 218.7,620.1 218.7,620.1 218.8,620.1 218.9,620.1 219.0,620.0 219.2,619.8 219.5,619.1 219.8,617.7 220.1,615.0 220.3,610.9 220.4,604.6 220.6,596.4 220.6,586.1 220.7,573.3 220.8,560.2 220.8,548.5 220.9,540.8 220.9,537.7 220.9,537.0 221.0,537.6 221.0,540.7 221.0,548.4 221.1,560.1 221.1,573.2 221.2,585.9 221.3,596.3 221.4,604.5 221.6,610.8 221.8,614.9 222.0,617.5 222.4,619.0 222.7,619.7 222.9,619.8 223.0,619.9 223.1,619.9 223.1,619.9 223.2,619.9 223.3,619.9 223.4,619.8 223.6,619.6 223.9,618.9 224.3,617.4 224.5,614.7 224.7,610.5 224.9,604.1 225.0,595.8 225.1,585.2 225.1,572.1 225.2,558.5 225.3,546.5 225.3,538.4 225.3,535.1 225.4,534.4 225.4,535.1 225.4,538.3 225.5,546.4 225.5,558.4 225.6,572.0 225.6,585.1 225.7,595.7 225.8,604.0 226.0,610.4 226.2,614.6 226.5,617.3 226.8,618.7 227.1,619.4 227.3,619.6 227.4,619.7 227.5,619.7 227.6,619.7 227.6,619.7 227.7,619.6 227.8,619.6 228.0,619.4 228.4,618.6 228.7,617.2 228.9,614.5 229.1,610.2 229.3,603.6 229.4,595.2 229.5,584.3 229.6,570.8 229.6,556.8 229.7,544.3 229.7,536.0 229.8,532.6 229.8,531.8 229.8,532.5 229.8,535.9 229.9,544.2 229.9,556.7 230.0,570.7 230.1,584.2 230.2,595.0 230.3,603.5 230.4,610.1 230.6,614.3 230.9,617.0 231.2,618.5 231.6,619.2 231.7,619.4 231.8,619.4 231.9,619.5 232.0,619.5 232.1,619.5 232.1,619.4 232.3,619.4 232.4,619.2 232.8,618.4 233.1,616.9 233.4,614.2 233.6,609.8 233.7,603.1 233.8,594.5 233.9,583.4 234.0,569.6 234.1,555.1 234.1,542.2 234.2,533.5 234.2,530.0 234.2,529.2 234.2,529.9 234.3,533.4 234.3,542.1 234.4,555.0 234.4,569.4 234.5,583.3 234.6,594.4 234.7,603.0 234.8,609.7 235.0,614.0 235.3,616.8 235.6,618.2 236.0,619.0 236.2,619.2 236.3,619.2 236.4,619.2 236.4,619.2 236.5,619.2 236.6,619.2 236.7,619.1 236.9,618.9 237.2,618.2 237.5,616.6 237.8,613.9 238.0,609.4 238.1,602.6 238.3,593.8 238.3,582.5 238.4,568.3 238.5,553.4 238.5,540.0 238.6,530.9 238.6,527.3 238.6,526.4 238.7,527.2 238.7,530.9 238.7,539.9 238.8,553.3 238.8,568.1 238.9,582.3 239.0,593.7 239.1,602.5 239.3,609.3 239.5,613.7 239.7,616.5 240.0,618.0 240.4,618.7 240.6,618.9 240.7,619.0 240.8,619.0 240.8,619.0 240.9,619.0 241.0,619.0 241.1,618.9 241.3,618.7 241.6,617.9 241.9,616.4 242.2,613.5 242.4,609.1 242.6,602.1 242.7,593.2 242.8,581.5 242.8,566.9 242.9,551.6 243.0,537.7 243.0,528.3 243.0,524.4 243.1,523.6 243.1,524.4 243.1,528.2 243.2,537.6 243.2,551.5 243.3,566.8 243.3,581.4 243.4,593.1 243.5,602.0 243.7,609.0 243.9,613.4 244.2,616.2 244.5,617.7 244.8,618.5 245.0,618.7 245.1,618.7 245.2,618.8 245.3,618.8 245.3,618.7 245.4,618.7 245.5,618.6 245.7,618.5 246.1,617.6 246.4,616.1 246.6,613.2 246.8,608.7 247.0,601.6 247.1,592.5 247.2,580.5 247.3,565.6 247.3,549.7 247.4,535.3 247.4,525.5 247.5,521.5 247.5,520.6 247.5,521.5 247.5,525.4 247.6,535.2 247.6,549.6 247.7,565.4 247.8,580.4 247.9,592.4 248.0,601.5 248.1,608.6 248.3,613.1 248.6,616.0 248.9,617.5 249.2,618.2 249.4,618.4 249.5,618.5 249.6,618.5 249.7,618.5 249.8,618.5 249.8,618.5 250.0,618.4 250.1,618.2 250.5,617.4 250.8,615.8 251.1,612.9 251.3,608.3 251.4,601.1 251.5,591.7 251.6,579.5 251.7,564.1 251.8,547.7 251.8,532.7 251.8,522.5 251.9,518.3 251.9,517.4 251.9,518.3 252.0,522.4 252.0,532.6 252.1,547.6 252.1,564.0 252.2,579.4 252.3,591.6 252.4,601.0 252.5,608.1 252.7,612.7 253.0,615.6 253.3,617.2 253.7,618.0 253.8,618.1 254.0,618.2 254.0,618.2 254.1,618.2 254.2,618.2 254.3,618.2 254.4,618.1 254.6,617.9 254.9,617.1 255.2,615.5 255.5,612.5 255.7,607.8 255.8,600.5 255.9,591.0 256.0,578.4 256.1,562.6 256.2,545.6 256.2,530.0 256.3,519.4 256.3,515.0 256.3,514.0 256.3,515.0 256.4,519.3 256.4,529.9 256.5,545.5 256.5,562.4 256.6,578.3 256.7,590.8 256.8,600.4 257.0,607.7 257.2,612.3 257.4,615.3 257.7,616.8 258.1,617.6 258.3,617.8 258.4,617.9 258.5,617.9 258.5,617.9 258.6,617.9 258.7,617.8 258.8,617.8 259.0,617.6 259.3,616.7 259.6,615.1 259.9,612.1 260.1,607.3 260.3,599.9 260.4,590.1 260.5,577.3 260.5,561.0 260.6,543.4 260.7,527.3 260.7,516.1 260.7,511.5 260.7,510.5 260.8,511.5 260.8,516.0 260.8,527.1 260.9,543.3 261.0,560.8 261.0,577.2 261.1,590.0 261.2,599.7 261.4,607.2 261.6,611.9 261.9,614.9 262.2,616.5 262.5,617.3 262.7,617.5 262.8,617.5 262.9,617.5 263.0,617.5 263.0,617.5 263.1,617.5 263.2,617.4 263.4,617.2 263.8,616.3 264.1,614.7 264.3,611.6 264.5,606.8 264.7,599.2 264.8,589.3 264.9,576.2 265.0,559.4 265.0,541.3 265.1,524.4 265.1,512.8 265.2,508.0 265.2,507.0 265.2,508.0 265.2,512.7 265.3,524.3 265.3,541.1 265.4,559.2 265.5,576.0 265.5,589.2 265.7,599.1 265.8,606.6 266.0,611.5 266.3,614.5 266.6,616.1 266.9,616.9 267.1,617.1 267.2,617.2 267.3,617.2 267.4,617.2 267.5,617.2 267.5,617.1 267.7,617.0 267.8,616.8 268.2,616.0 268.5,614.3 268.8,611.2 269.0,606.3 269.1,598.6 269.2,588.5 269.3,575.0 269.4,557.8 269.4,539.1 269.5,521.6 269.5,509.5 269.6,504.5 269.6,503.4 269.6,504.5 269.6,509.4 269.7,521.5 269.7,538.9 269.8,557.7 269.9,574.9 270.0,588.3 270.1,598.4 270.2,606.1 270.4,611.0 270.7,614.1 271.0,615.7 271.4,616.5 271.5,616.7 271.7,616.8 271.7,616.8 271.8,616.8 271.9,616.8 272.0,616.8 272.1,616.7 272.3,616.5 272.6,615.6 272.9,613.9 273.2,610.8 273.4,605.8 273.5,598.0 273.6,587.7 273.7,573.9 273.8,556.2 273.9,536.9 273.9,518.8 274.0,506.2 274.0,500.9 274.0,499.8 274.0,500.9 274.1,506.1 274.1,518.7 274.2,536.8 274.2,556.1 274.3,573.8 274.4,587.5 274.5,597.8 274.7,605.6 274.9,610.6 275.1,613.7 275.4,615.4 275.8,616.2 276.0,616.4 276.1,616.5 276.2,616.5 276.2,616.5 276.3,616.5 276.4,616.4 276.5,616.4 276.7,616.1 277.0,615.3 277.3,613.6 277.6,610.4 277.8,605.3 278.0,597.4 278.1,586.9 278.2,572.8 278.2,554.7 278.3,534.7 278.3,515.9 278.4,502.7 278.4,497.3 278.4,496.0 278.5,497.2 278.5,502.6 278.5,515.8 278.6,534.5 278.7,554.5 278.7,572.7 278.8,586.7 278.9,597.2 279.1,605.2 279.3,610.2 279.5,613.4 279.9,615.1 280.2,615.9 280.4,616.1 280.5,616.2 280.6,616.2 280.7,616.2 280.7,616.2 280.8,616.1 280.9,616.1 281.1,615.9 281.5,615.0 281.8,613.2 282.0,610.0 282.2,604.9 282.4,596.8 282.5,586.1 282.6,571.8 282.7,553.1 282.7,532.5 282.8,513.0 282.8,499.3 282.8,493.6 282.9,492.3 282.9,493.5 282.9,499.2 283.0,512.9 283.0,532.4 283.1,553.0 283.2,571.6 283.2,586.0 283.4,596.7 283.5,604.8 283.7,609.9 284.0,613.1 284.3,614.8 284.6,615.7 284.8,615.9 284.9,615.9 285.0,615.9 285.1,616.0 285.1,615.9 285.2,615.9 285.3,615.8 285.5,615.6 285.9,614.7 286.2,613.0 286.5,609.7 286.6,604.5 286.8,596.3 286.9,585.5 287.0,570.8 287.1,551.7 287.1,530.5 287.2,510.2 287.2,496.0 287.3,490.0 287.3,488.7 287.3,490.0 287.3,495.9 287.4,510.1 287.4,530.3 287.5,551.6 287.6,570.7 287.7,585.4 287.8,596.2 287.9,604.4 288.1,609.6 288.4,612.9 288.7,614.6 289.1,615.5 289.2,615.7 289.3,615.8 289.4,615.8 289.5,615.8 289.6,615.8 289.7,615.7 289.8,615.7 289.9,615.5 290.3,614.6 290.6,612.8 290.9,609.5 291.1,604.3 291.2,596.0 291.3,584.9 291.4,570.0 291.5,550.4 291.6,528.6 291.6,507.7 291.7,492.9 291.7,486.8 291.7,485.4 291.7,486.7 291.8,492.9 291.8,507.6 291.9,528.5 291.9,550.3 292.0,569.9 292.1,584.8 292.2,595.9 292.4,604.2 292.6,609.4 292.8,612.7 293.1,614.5 293.5,615.4 293.7,615.6 293.8,615.6 293.9,615.7 293.9,615.7 294.0,615.7 294.1,615.6 294.2,615.5 294.4,615.3 294.7,614.4 295.0,612.7 295.3,609.3 295.5,604.0 295.7,595.6 295.8,584.4 295.9,569.3 295.9,549.3 296.0,527.0 296.0,505.5 296.1,490.3 296.1,483.9 296.1,482.5 296.2,483.9 296.2,490.2 296.2,505.4 296.3,526.9 296.4,549.2 296.4,569.2 296.5,584.4 296.6,595.6 296.8,604.0 297.0,609.3 297.2,612.6 297.6,614.4 297.9,615.2 298.1,615.5 298.2,615.5 298.3,615.6 298.4,615.6 298.4,615.5 298.5,615.5 298.6,615.4 298.8,615.2 299.1,614.3 299.5,612.5 299.7,609.2 299.9,603.8 300.1,595.4 300.2,584.0 300.3,568.7 300.4,548.4 300.4,525.6 300.5,503.7 300.5,488.0 300.5,481.4 300.6,480.0 300.6,481.4 300.6,487.9 300.7,503.6 300.7,525.5 300.8,548.3 300.8,568.6 300.9,584.0 301.0,595.3 301.2,603.8 301.4,609.1 301.7,612.5 302.0,614.2 302.3,615.1 302.5,615.4 302.6,615.4 302.7,615.5 302.8,615.5 302.8,615.5 302.9,615.4 303.0,615.3 303.2,615.1 303.6,614.2 303.9,612.4 304.1,609.1 304.3,603.7 304.5,595.1 304.6,583.7 304.7,568.2 304.8,547.7 304.8,524.6 304.9,502.2 304.9,486.3 305.0,479.6 305.0,478.1 305.0,479.6 305.0,486.3 305.1,502.2 305.1,524.5 305.2,547.6 305.3,568.2 305.4,583.7 305.5,595.1 305.6,603.6 305.8,609.0 306.1,612.4 306.4,614.2 306.8,615.1 306.9,615.3 307.0,615.3 307.1,615.4 307.2,615.4 307.3,615.4 307.4,615.3 307.5,615.3 307.6,615.0 308.0,614.1 308.3,612.3 308.6,609.0 308.8,603.5 308.9,595.0 309.0,583.5 309.1,567.9 309.2,547.3 309.3,524.0 309.3,501.5 309.4,485.4 309.4,478.6 309.4,477.1 309.4,478.6 309.5,485.4 309.5,501.5 309.6,524.0 309.6,547.3 309.7,567.9 309.8,583.5 309.9,595.0 310.1,603.5 310.3,608.9 310.5,612.3 310.8,614.1 311.2,615.0 311.4,615.2 311.5,615.3 311.6,615.3 311.6,615.3 311.7,615.3 311.8,615.3 311.9,615.2 312.1,615.0 312.4,614.0 312.7,612.2 313.0,608.9 313.2,603.5 313.3,594.9 313.5,583.5 313.5,567.9 313.6,547.3 313.7,524.1 313.7,501.7 313.8,485.7 313.8,478.9 313.8,477.5 313.9,479.0 313.9,485.7 313.9,501.7 314.0,524.2 314.0,547.4 314.1,567.9 314.2,583.5 314.3,594.9 314.5,603.5 314.7,608.9 314.9,612.2 315.2,614.0 315.6,614.9 315.8,615.1 315.9,615.2 316.0,615.2 316.0,615.2 316.1,615.2 316.2,615.2 316.3,615.1 316.5,614.9 316.8,614.0 317.2,612.2 317.4,608.8 317.6,603.5 317.8,595.0 317.9,583.6 318.0,568.2 318.0,547.9 318.1,525.0 318.2,503.0 318.2,487.3 318.2,480.8 318.3,479.3 318.3,480.8 318.3,487.4 318.4,503.1 318.4,525.1 318.5,548.0 318.5,568.3 318.6,583.7 318.7,595.0 318.9,603.5 319.1,608.8 319.4,612.2 319.7,614.0 320.0,614.8 320.2,615.1 320.3,615.1 320.4,615.2 320.5,615.2 320.5,615.2 320.6,615.1 320.7,615.1 320.9,614.8 321.3,613.9 321.6,612.2 321.8,608.9 322.0,603.6 322.2,595.2 322.3,584.0 322.4,568.9 322.5,549.1 322.5,527.0 322.6,505.8 322.6,490.7 322.7,484.5 322.7,483.1 322.7,484.5 322.7,490.8 322.8,505.9 322.8,527.2 322.9,549.3 323.0,569.1 323.1,584.1 323.2,595.3 323.3,603.6 323.5,608.9 323.8,612.2 324.1,613.9 324.5,614.8 324.6,615.0 324.7,615.1 324.8,615.1 324.9,615.1 325.0,615.1 325.0,615.1 325.2,615.0 325.3,614.8 325.7,613.9 326.0,612.2 326.3,608.9 326.5,603.7 326.6,595.6 326.7,584.7 326.8,570.1 326.9,551.1 327.0,530.0 327.0,510.0 327.1,495.9 327.1,490.1 327.1,488.8 327.1,490.1 327.2,496.0 327.2,510.2 327.3,530.2 327.3,551.3 327.4,570.3 327.5,584.8 327.6,595.7 327.7,603.8 327.9,609.0 328.2,612.2 328.5,613.9 328.9,614.8 329.1,615.0 329.2,615.1 329.3,615.1 329.3,615.1 329.4,615.1 329.5,615.1 329.6,615.0 329.8,614.8 330.1,613.9 330.4,612.2 330.7,609.1 330.9,604.0 331.0,596.1 331.2,585.7 331.2,571.8 331.3,553.8 331.4,534.1 331.4,515.7 331.5,502.8 331.5,497.6 331.5,496.4 331.6,497.7 331.6,503.0 331.6,516.0 331.7,534.4 331.7,554.1 331.8,572.0 331.9,585.9 332.0,596.3 332.2,604.1 332.4,609.1 332.6,612.3 332.9,614.0 333.3,614.8 333.5,615.0 333.6,615.1 333.7,615.1 333.7,615.1 333.8,615.1 333.9,615.1 334.0,615.0 334.2,614.8 334.5,614.0 334.8,612.4 335.1,609.4 335.3,604.5 335.5,597.0 335.6,587.2 335.7,574.2 335.7,557.6 335.8,539.8 335.9,523.4 335.9,512.1 335.9,507.5 336.0,506.6 336.0,507.6 336.0,512.4 336.0,523.8 336.1,540.3 336.2,558.1 336.2,574.6 336.3,587.5 336.4,597.3 336.6,604.8 336.8,609.6 337.1,612.6 337.4,614.2 337.7,615.1 337.9,615.3 338.0,615.4 338.1,615.4 338.2,615.4 338.2,615.4 338.3,615.4 338.4,615.3 338.6,615.2 339.0,614.4 339.3,612.9 339.5,610.1 339.7,605.6 339.9,598.6 340.0,589.6 340.1,577.9 340.2,563.2 340.2,547.7 340.3,533.8 340.3,524.4 340.4,520.7 340.4,519.9 340.4,520.8 340.4,524.7 340.5,534.3 340.5,548.3 340.6,563.8 340.7,578.5 340.8,590.1 340.9,599.1 341.0,606.1 341.2,610.6 341.5,613.4 341.8,615.0 342.1,615.8 342.3,616.0 342.4,616.1 342.5,616.2 342.6,616.2 342.7,616.2 342.7,616.2 342.9,616.1 343.0,616.0 343.4,615.4 343.7,614.0 344.0,611.5 344.2,607.4 344.3,601.2 344.4,593.2 344.5,583.1 344.6,570.7 344.6,558.1 344.7,547.0 344.7,539.7 344.8,536.9 344.8,536.3 344.8,537.1 344.9,540.1 344.9,547.7 344.9,558.9 345.0,571.6 345.1,583.9 345.2,594.0 345.3,601.9 345.4,608.1 345.6,612.1 345.9,614.7 346.2,616.2 346.6,617.0 346.7,617.2 346.9,617.3 346.9,617.3 347.0,617.4 347.1,617.4 347.2,617.4 347.3,617.4 347.5,617.3 347.8,616.7 348.1,615.5 348.4,613.3 348.6,609.9 348.7,604.6 348.8,598.0 348.9,589.8 349.0,580.1 349.1,570.5 349.1,562.4 349.2,557.3 349.2,555.3 349.2,555.0 349.2,555.5 349.3,557.7 349.3,563.2 349.4,571.4 349.4,581.1 349.5,590.7 349.6,598.9 349.7,605.4 349.9,610.7 350.1,614.1 350.3,616.4 350.6,617.7 351.0,618.4 351.2,618.6 351.3,618.7 351.4,618.7 351.4,618.7 351.5,618.8 351.6,618.8 351.7,618.8 351.9,618.7 352.2,618.3 352.5,617.3 352.8,615.5 353.0,612.8 353.2,608.6 353.3,603.6 353.4,597.5 353.4,590.5 353.5,584.0 353.5,578.6 353.6,575.3 353.6,574.1 353.6,573.9 353.7,574.3 353.7,575.8 353.7,579.3 353.8,584.9 353.9,591.6 353.9,598.5 354.0,604.6 354.1,609.6 354.3,613.7 354.5,616.5 354.8,618.3 355.1,619.4 355.4,620.0 355.6,620.1 355.7,620.2 355.8,620.3 355.9,620.3 355.9,620.3 356.0,620.3 356.1,620.3 356.3,620.3 356.7,620.0 357.0,619.4 357.2,618.1 357.4,616.1 357.6,613.2 357.7,609.7 357.8,605.6 357.9,601.2 357.9,597.1 358.0,593.9 358.0,592.1 358.0,591.4 358.1,591.3 358.1,591.6 358.1,592.4 358.2,594.6 358.2,598.0 358.3,602.2 358.4,606.7 358.4,610.8 358.6,614.2 358.7,617.2 358.9,619.2 359.2,620.6 359.5,621.4 359.8,621.9 360.0,622.0 360.1,622.1 360.2,622.2 360.3,622.2 360.3,622.2 360.4,622.2 360.5,622.3 360.7,622.3 361.1,622.2 361.4,621.8 361.7,621.0 361.9,619.8 362.0,618.2 362.1,616.2 362.2,614.0 362.3,611.8 362.3,609.8 362.4,608.3 362.4,607.5 362.5,607.2 362.5,607.2 362.5,607.4 362.5,607.8 362.6,608.9 362.6,610.6 362.7,612.8 362.8,615.1 362.9,617.3 363.0,619.3 363.1,620.9 363.3,622.1 363.6,622.9 363.9,623.4 364.3,623.6 364.4,623.7 364.6,623.8 364.6,623.8 364.7,623.8 364.8,623.8 364.9,623.8 365.0,623.9 365.1,623.9 365.5,623.8 365.8,623.7 366.1,623.5 366.3,623.3 366.4,623.0 366.5,622.6 366.6,622.3 366.7,622.0 366.8,621.9 366.8,621.8 366.9,621.8 366.9,621.9 366.9,621.9 366.9,622.0 367.0,622.2 367.0,622.4 367.1,622.7 367.1,623.1 367.2,623.5 367.3,623.8 367.4,624.0 367.6,624.1 367.8,624.1 368.0,624.1 368.3,624.1 368.7,624.1 368.9,624.1 369.0,624.1 369.1,624.1 369.1,624.1 369.2,624.1 369.3,624.1 369.4,624.1 369.6,624.0 369.9,623.9 370.2,623.5 370.5,623.0 370.7,622.1 370.9,620.9 371.0,619.4 371.1,617.8 371.1,616.1 371.2,614.6 371.2,613.3 371.3,612.5 371.3,612.2 371.3,612.1 371.4,612.1 371.4,612.2 371.4,612.8 371.5,613.8 371.6,615.2 371.6,616.9 371.7,618.5 371.8,619.9 372.0,621.2 372.2,622.1 372.4,622.7 372.8,623.0 373.1,623.1 373.3,623.1 373.4,623.1 373.5,623.0 373.6,623.0 373.6,623.0 373.7,623.0 373.8,622.9 374.0,622.8 374.3,622.4 374.7,621.7 374.9,620.5 375.1,618.8 375.3,616.4 375.4,613.6 375.5,610.2 375.6,606.6 375.6,603.3 375.7,600.7 375.7,599.0 375.7,598.3 375.8,598.1 375.8,598.2 375.8,598.7 375.9,600.1 375.9,602.5 376.0,605.7 376.1,609.3 376.1,612.6 376.3,615.4 376.4,617.9 376.6,619.5 376.9,620.6 377.2,621.2 377.5,621.4 377.7,621.4 377.8,621.4 377.9,621.4 378.0,621.4 378.0,621.3 378.1,621.3 378.2,621.2 378.4,621.1 378.8,620.5 379.1,619.6 379.3,618.0 379.5,615.6 379.7,612.1 379.8,607.9 379.9,602.8 380.0,597.2 380.0,591.9 380.1,587.5 380.1,584.7 380.2,583.6 380.2,583.3 380.2,583.5 380.2,584.4 380.3,586.9 380.3,591.1 380.4,596.3 380.5,601.9 380.6,606.9 380.7,611.2 380.8,614.7 381.0,617.1 381.3,618.6 381.6,619.4 382.0,619.8 382.1,619.9 382.2,619.9 382.3,619.9 382.4,619.8 382.5,619.8 382.6,619.8 382.7,619.7 382.8,619.5 383.2,618.9 383.5,617.8 383.8,615.8 384.0,612.7 384.1,608.2 384.2,602.7 384.3,595.9 384.4,588.0 384.5,580.4 384.5,573.9 384.6,569.8 384.6,568.1 384.6,567.7 384.6,567.9 384.7,569.4 384.7,573.3 384.8,579.6 384.8,587.1 384.9,595.0 385.0,601.8 385.1,607.4 385.3,612.0 385.5,615.0 385.7,616.9 386.0,617.9 386.4,618.4 386.6,618.5 386.7,618.5 386.8,618.5 386.8,618.5 386.9,618.5 387.0,618.4 387.1,618.4 387.3,618.2 387.6,617.4 387.9,616.1 388.2,613.8 388.4,610.1 388.5,604.7 388.7,597.8 388.7,589.2 388.8,578.9 388.9,568.6 388.9,559.7 389.0,553.9 389.0,551.5 389.0,550.9 389.1,551.3 389.1,553.5 389.1,559.1 389.2,567.9 389.2,578.1 389.3,588.4 389.4,597.0 389.5,603.9 389.7,609.4 389.9,613.1 390.1,615.3 390.5,616.5 390.8,617.1 391.0,617.2 391.1,617.2 391.2,617.2 391.2,617.2 391.3,617.2 391.4,617.2 391.5,617.1 391.7,616.9 392.0,616.0 392.4,614.6 392.6,611.9 392.8,607.8 393.0,601.5 393.1,593.4 393.2,583.1 393.2,570.5 393.3,557.5 393.4,545.9 393.4,538.1 393.4,534.9 393.5,534.2 393.5,534.8 393.5,537.8 393.6,545.3 393.6,556.7 393.7,569.7 393.7,582.4 393.8,592.8 393.9,600.8 394.1,607.2 394.3,611.3 394.6,613.8 394.9,615.2 395.2,615.8 395.4,615.9 395.5,616.0 395.6,616.0 395.7,616.0 395.7,615.9 395.8,615.9 395.9,615.8 396.1,615.6 396.5,614.7 396.8,613.1 397.0,610.2 397.2,605.7 397.4,598.7 397.5,589.7 397.6,577.9 397.7,563.2 397.7,547.6 397.8,533.4 397.8,523.8 397.9,519.8 397.9,518.9 397.9,519.6 397.9,523.4 398.0,532.9 398.0,546.9 398.1,562.5 398.2,577.3 398.3,589.1 398.4,598.1 398.5,605.1 398.7,609.6 399.0,612.4 399.3,613.8 399.7,614.5 399.8,614.7 399.9,614.7 400.0,614.7 400.1,614.7 400.2,614.7 400.3,614.6 400.4,614.5 400.5,614.3 400.9,613.4 401.2,611.7 401.5,608.6 401.7,603.7 401.8,596.2 401.9,586.3 402.0,573.3 402.1,556.7 402.2,538.8 402.2,522.2 402.3,510.6 402.3,505.9 402.3,504.8 402.3,505.7 402.4,510.3 402.4,521.7 402.5,538.2 402.5,556.1 402.6,572.8 402.7,585.8 402.8,595.7 402.9,603.2 403.1,607.9 403.4,610.9 403.7,612.5 404.1,613.2 404.3,613.3 404.4,613.4 404.5,613.4 404.5,613.3 404.6,613.3 404.7,613.3 404.8,613.1 405.0,612.9 405.3,611.9 405.6,610.1 405.9,606.9 406.1,601.8 406.2,593.8 406.4,583.2 406.4,569.1 406.5,550.8 406.6,530.6 406.6,511.6 406.7,498.2 406.7,492.7 406.7,491.4 406.8,492.5 406.8,498.0 406.8,511.2 406.9,530.1 406.9,550.2 407.0,568.6 407.1,582.7 407.2,593.2 407.4,601.2 407.6,606.2 407.8,609.3 408.1,610.9 408.5,611.7 408.7,611.8 408.8,611.9 408.9,611.9 408.9,611.9 409.0,611.8 409.1,611.8 409.2,611.7 409.4,611.4 409.7,610.4 410.0,608.5 410.3,605.1 410.5,599.8 410.7,591.3 410.8,580.1 410.9,565.0 410.9,545.1 411.0,522.8 411.1,501.3 411.1,486.1 411.1,479.6 411.2,478.2 411.2,479.5 411.2,485.8 411.3,500.9 411.3,522.3 411.4,544.6 411.4,564.5 411.5,579.6 411.6,590.8 411.8,599.2 412.0,604.4 412.3,607.7 412.6,609.3 412.9,610.1 413.1,610.2 413.2,610.3 413.3,610.3 413.4,610.3 413.4,610.2 413.5,610.2 413.6,610.0 413.8,609.8 414.2,608.7 414.5,606.8 414.7,603.3 414.9,597.7 415.1,588.9 415.2,577.1 415.3,561.0 415.4,539.5 415.4,515.1 415.5,491.2 415.5,473.9 415.6,466.6 415.6,464.9 415.6,466.4 415.6,473.6 415.7,490.7 415.7,514.6 415.8,539.0 415.9,560.5 416.0,576.6 416.1,588.4 416.2,597.1 416.4,602.6 416.7,605.9 417.0,607.6 417.3,608.5 417.5,608.6 417.6,608.6 417.7,608.6 417.8,608.6 417.9,608.6 417.9,608.5 418.1,608.4 418.2,608.1 418.6,607.1 418.9,605.1 419.2,601.5 419.4,595.7 419.5,586.5 419.6,574.2 419.7,557.2 419.8,534.2 419.9,507.6 419.9,481.2 419.9,461.8 420.0,453.5 420.0,451.6 420.0,453.4 420.1,461.5 420.1,480.7 420.2,507.1 420.2,533.7 420.3,556.7 420.4,573.7 420.5,586.0 420.6,595.1 420.8,600.8 421.1,604.3 421.4,606.0 421.8,606.9 421.9,607.0 422.1,607.1 422.1,607.1 422.2,607.1 422.3,607.0 422.4,607.0 422.5,606.9 422.7,606.6 423.0,605.5 423.3,603.5 423.6,599.8 423.8,593.8 423.9,584.4 424.0,571.5 424.1,553.6 424.2,529.2 424.3,500.5 424.3,471.5 424.4,449.9 424.4,440.7 424.4,438.5 424.4,440.5 424.5,449.7 424.5,471.1 424.6,500.0 424.6,528.7 424.7,553.2 424.8,571.1 424.9,583.9 425.1,593.3 425.3,599.2 425.5,602.7 425.8,604.6 426.2,605.4 426.4,605.6 426.5,605.7 426.6,605.7 426.6,605.7 426.7,605.6 426.8,605.6 426.9,605.4 427.1,605.2 427.4,604.1 427.7,602.0 428.0,598.2 428.2,592.1 428.4,582.4 428.5,569.0 428.6,550.3 428.6,524.5 428.7,493.8 428.8,462.3 428.8,438.5 428.8,428.2 428.8,425.9 428.9,428.1 428.9,438.3 428.9,461.9 429.0,493.3 429.1,524.1 429.1,549.9 429.2,568.6 429.3,581.9 429.5,591.7 429.7,597.7 430.0,601.3 430.3,603.2 430.6,604.1 430.8,604.3 430.9,604.3 431.0,604.3 431.1,604.3 431.1,604.3 431.2,604.2 431.3,604.1 431.5,603.8 431.9,602.7 432.2,600.6 432.4,596.8 432.6,590.5 432.8,580.5 432.9,566.7 433.0,547.3 433.1,520.2 433.1,487.4 433.2,453.4 433.2,427.5 433.3,416.2 433.3,413.5 433.3,416.0 433.3,427.2 433.4,453.0 433.4,487.0 433.5,519.7 433.6,546.9 433.6,566.4 433.8,580.1 433.9,590.1 434.1,596.2 434.4,600.0 434.7,601.9 435.0,602.8 435.2,603.0 435.3,603.1 435.4,603.1 435.5,603.1 435.6,603.0 435.6,603.0 435.8,602.8 435.9,602.6 436.3,601.4 436.6,599.3 436.9,595.3 437.1,589.0 437.2,578.7 437.3,564.5 437.4,544.3 437.5,515.8 437.5,481.0 437.6,444.3 437.6,416.0 437.7,403.5 437.7,400.6 437.7,403.3 437.8,415.7 437.8,443.9 437.8,480.6 437.9,515.4 438.0,543.9 438.1,564.1 438.2,578.3 438.3,588.5 438.5,594.8 438.8,598.6 439.1,600.6 439.5,601.5 439.6,601.7 439.8,601.8 439.8,601.8 439.9,601.8 440.0,601.7 440.1,601.7 440.2,601.6 440.4,601.3 440.7,600.1 441.0,597.9 441.3,593.9 441.5,587.4 441.6,576.8 441.7,562.1 441.8,541.1 441.9,511.1 442.0,474.0 442.0,434.2 442.1,402.9 442.1,389.0 442.1,385.8 442.1,388.9 442.2,402.6 442.2,433.7 442.3,473.5 442.3,510.7 442.4,540.7 442.5,561.7 442.6,576.4 442.8,586.9 443.0,593.4 443.2,597.3 443.5,599.3 443.9,600.2 444.1,600.4 444.2,600.5 444.3,600.5 444.3,600.5 444.4,600.4 444.5,600.4 444.6,600.3 444.8,600.0 445.1,598.8 445.4,596.6 445.7,592.5 445.9,585.8 446.1,574.9 446.2,559.8 446.3,537.9 446.3,506.4 446.4,466.8 446.4,423.6 446.5,389.2 446.5,373.7 446.5,370.2 446.6,373.6 446.6,388.9 446.6,423.1 446.7,466.3 446.8,506.0 446.8,537.5 446.9,559.4 447.0,574.5 447.2,585.3 447.4,591.9 447.7,595.9 448.0,597.9 448.3,598.9 448.5,599.1 448.6,599.2 448.7,599.2 448.8,599.2 448.8,599.1 448.9,599.1 449.0,599.0 449.2,598.7 449.6,597.5 449.9,595.2 450.1,591.0 450.3,584.2 450.5,573.1 450.6,557.5 450.7,534.8 450.8,501.8 450.8,459.8 450.9,413.3 450.9,375.6 450.9,358.6 451.0,354.6 451.0,358.4 451.0,375.3 451.1,412.8 451.1,459.3 451.2,501.3 451.3,534.3 451.3,557.0 451.5,572.5 451.6,583.6 451.8,590.3 452.1,594.4 452.4,596.5 452.7,597.6 452.9,597.8 453.0,597.8 453.1,597.8 453.2,597.8 453.2,597.8 453.3,597.7 453.4,597.6 453.6,597.3 454.0,595.9 454.3,593.4 454.6,588.7 454.8,581.2 454.9,569.3 455.0,552.9 455.1,529.3 455.2,495.0 455.2,451.2 455.3,402.0 455.3,361.8 455.4,343.4 455.4,339.1 455.4,343.3 455.4,361.5 455.5,401.5 455.5,450.5 455.6,494.2 455.7,528.3 455.8,551.8 455.9,568.1 456.0,579.9 456.2,587.3 456.5,592.0 456.8,594.6 457.2,596.0 457.3,596.3 457.4,596.4 457.5,596.4 457.6,596.4 457.7,596.3 457.8,596.2 457.9,596.1 458.0,595.6 458.4,593.8 458.7,590.5 459.0,584.7 459.2,575.9 459.3,562.5 459.4,544.8 459.5,519.9 459.6,484.5 459.7,439.5 459.7,389.1 459.8,347.4 459.8,328.1 459.8,323.6 459.8,328.0 459.9,347.0 459.9,388.4 460.0,438.6 460.0,483.3 460.1,518.4 460.2,543.0 460.3,560.6 460.5,574.0 460.7,582.8 460.9,588.7 461.2,592.2 461.6,594.1 461.8,594.5 461.9,594.6 462.0,594.7 462.0,594.7 462.1,594.6 462.2,594.5 462.3,594.3 462.5,593.6 462.8,591.2 463.1,586.7 463.4,579.2 463.6,568.5 463.8,553.0 463.9,533.3 464.0,506.9 464.0,470.3 464.1,424.8 464.1,374.1 464.2,332.2 464.2,312.8 464.2,308.2 464.3,312.6 464.3,331.8 464.3,373.4 464.4,423.7 464.5,468.7 464.5,504.9 464.6,531.1 464.7,550.6 464.9,566.1 465.1,576.9 465.3,584.5 465.7,589.2 466.0,591.9 466.2,592.5 466.3,592.7 466.4,592.8 466.5,592.8 466.5,592.7 466.6,592.6 466.7,592.3 466.9,591.4 467.2,588.1 467.6,582.2 467.8,572.8 468.0,559.7 468.2,541.6 468.3,519.6 468.4,491.1 468.5,453.2 468.5,407.4 468.6,357.5 468.6,316.7 468.6,297.8 468.7,293.4 468.7,297.7 468.7,316.3 468.8,356.8 468.8,406.2 468.9,451.4 469.0,488.9 469.0,517.1 469.1,538.9 469.3,557.0 469.5,570.2 469.8,579.9 470.1,586.0 470.4,589.5 470.6,590.4 470.7,590.6 470.8,590.7 470.9,590.7 470.9,590.7 471.0,590.5 471.1,590.1 471.3,589.0 471.7,584.8 472.0,577.6 472.2,566.0 472.4,550.5 472.6,529.6 472.7,505.1 472.8,474.4 472.9,434.8 472.9,388.7 473.0,339.7 473.0,300.3 473.1,282.3 473.1,278.1 473.1,282.2 473.1,299.9 473.2,338.9 473.2,387.4 473.3,433.1 473.4,472.2 473.5,502.7 473.6,527.1 473.7,548.0 473.9,563.6 474.2,575.3 474.5,582.8 474.9,587.1 475.0,588.2 475.1,588.5 475.2,588.7 475.3,588.7 475.4,588.6 475.5,588.4 475.6,587.9 475.7,586.7 476.1,581.7 476.4,573.2 476.7,560.0 476.9,542.4 477.0,519.1 477.1,492.2 477.2,459.3 477.3,417.8 477.4,370.5 477.4,321.2 477.5,282.2 477.5,264.5 477.5,260.4 477.5,264.4 477.6,281.8 477.6,320.4 477.7,369.3 477.7,416.4 477.8,457.6 477.9,490.4 478.0,517.2 478.2,540.5 478.4,558.1 478.6,571.4 478.9,579.9 479.3,584.8 479.5,586.1 479.6,586.5 479.7,586.6 479.7,586.6 479.8,586.6 479.9,586.3 480.0,585.8 480.2,584.4 480.5,579.0 480.8,569.9 481.1,555.7 481.3,536.9 481.4,512.1 481.6,483.7 481.6,448.9 481.7,405.4 481.8,356.0 481.8,304.8 481.9,264.5 481.9,246.3 481.9,242.0 482.0,246.1 482.0,264.1 482.0,304.1 482.1,355.1 482.1,404.3 482.2,447.8 482.3,482.5 482.4,510.9 482.6,535.5 482.8,554.3 483.0,568.4 483.3,577.5 483.7,582.7 483.9,583.9 484.0,584.4 484.1,584.5 484.1,584.6 484.2,584.5 484.3,584.2 484.4,583.7 484.6,582.2 484.9,576.6 485.3,567.0 485.5,552.0 485.7,532.3 485.9,506.3 486.0,476.5 486.1,440.1 486.1,394.5 486.2,342.9 486.3,289.7 486.3,248.0 486.3,229.2 486.4,224.8 486.4,229.0 486.4,247.6 486.5,289.1 486.5,342.1 486.6,393.5 486.6,438.9 486.7,475.3 486.8,505.1 487.0,531.0 487.2,550.6 487.5,565.5 487.8,575.0 488.1,580.5 488.3,581.9 488.4,582.3 488.5,582.5 488.6,582.5 488.6,582.4 488.7,582.2 488.8,581.6 489.0,580.1 489.4,574.2 489.7,564.1 489.9,548.5 490.1,527.8 490.3,500.7 490.4,469.5 490.5,431.5 490.6,384.1 490.6,330.5 490.7,275.4 490.7,232.4 490.8,213.1 490.8,208.6 490.8,212.9 490.8,232.1 490.9,274.8 490.9,329.7 491.0,383.1 491.1,430.5 491.2,468.4 491.3,499.5 491.4,526.6 491.6,547.2 491.9,562.8 492.2,572.7 492.6,578.5 492.7,579.9 492.8,580.4 492.9,580.6 493.0,580.6 493.1,580.5 493.1,580.2 493.3,579.7 493.4,578.1 493.8,571.9 494.1,561.5 494.4,545.2 494.6,523.7 494.7,495.4 494.8,463.0 494.9,423.5 495.0,374.3 495.1,318.9 495.1,262.1 495.2,217.8 495.2,198.0 495.2,193.4 495.2,197.9 495.3,217.5 495.3,261.5 495.4,318.1 495.4,373.4 495.5,422.5 495.6,461.9 495.7,494.3 495.8,522.5 496.0,543.9 496.3,560.2 496.6,570.5 497.0,576.5 497.2,578.0 497.3,578.5 497.4,578.7 497.4,578.7 497.5,578.7 497.6,578.4 497.7,577.8 497.9,576.1 498.2,569.8 498.5,558.9 498.8,542.0 499.0,519.6 499.1,490.3 499.3,456.7 499.3,415.9 499.4,365.1 499.5,308.1 499.5,250.1 499.6,205.1 499.6,185.0 499.6,180.4 499.7,184.9 499.7,204.8 499.7,249.6 499.8,307.4 499.8,364.3 499.9,414.9 500.0,455.7 500.1,489.2 500.3,518.5 500.5,540.8 500.7,557.6 501.0,568.4 501.4,574.6 501.6,576.2 501.7,576.7 501.8,576.9 501.8,576.9 501.9,576.9 502.0,576.6 502.1,576.0 502.3,574.3 502.6,567.7 502.9,556.4 503.2,538.9 503.4,515.8 503.6,485.6 503.7,450.9 503.8,408.9 503.8,356.9 503.9,298.9 504.0,240.2 504.0,195.2 504.0,175.2 504.1,170.6 504.1,175.1 504.1,195.0 504.1,239.9 504.2,298.4 504.3,356.2 504.3,408.1 504.4,450.0 504.5,484.6 504.7,514.8 504.9,537.8 505.2,555.3 505.5,566.5 505.8,572.9 506.0,574.5 506.1,575.1 506.2,575.3 506.3,575.3 506.3,575.3 506.4,575.0 506.5,574.4 506.7,572.6 507.1,565.9 507.4,554.3 507.6,536.3 507.8,512.6 508.0,481.6 508.1,446.2 508.2,403.4 508.3,350.6 508.3,292.1 508.4,233.5 508.4,188.9 508.5,169.2 508.5,164.7 508.5,169.2 508.5,188.8 508.6,233.3 508.6,291.8 508.7,350.1 508.8,402.8 508.9,445.5 509.0,480.9 509.1,511.9 509.3,535.5 509.6,553.5 509.9,565.0 510.2,571.6 510.4,573.3 510.5,573.9 510.6,574.1 510.7,574.2 510.8,574.1 510.8,573.8 511.0,573.2 511.1,571.4 511.5,564.6 511.8,552.8 512.1,534.5 512.3,510.5 512.4,479.0 512.5,443.1 512.6,399.8 512.7,346.8 512.7,288.3 512.8,230.2 512.8,186.3 512.9,167.1 512.9,162.7 512.9,167.1 513.0,186.3 513.0,230.1 513.1,288.2 513.1,346.5 513.2,399.5 513.3,442.7 513.4,478.6 513.5,510.0 513.7,534.0 514.0,552.3 514.3,564.0 514.7,570.8 514.8,572.5 515.0,573.1 515.0,573.4 515.1,573.4 515.2,573.3 515.3,573.1 515.4,572.4 515.6,570.7 515.9,563.8 516.2,551.9 516.5,533.5 516.7,509.2 516.8,477.5 516.9,441.5 517.0,398.1 517.1,345.3 517.2,287.4 517.2,230.3 517.3,187.6 517.3,169.0 517.3,164.8 517.3,169.0 517.4,187.7 517.4,230.4 517.5,287.5 517.5,345.3 517.6,398.1 517.7,441.3 517.8,477.4 518.0,509.1 518.2,533.3 518.4,551.7 518.7,563.6 519.1,570.5 519.3,572.2 519.4,572.8 519.5,573.1 519.5,573.1 519.6,573.1 519.7,572.8 519.8,572.2 520.0,570.5 520.3,563.6 520.6,551.8 520.9,533.5 521.1,509.3 521.3,477.9 521.4,442.1 521.5,399.2 521.5,347.1 521.6,290.4 521.7,234.8 521.7,193.4 521.7,175.5 521.7,171.5 521.8,175.6 521.8,193.6 521.8,235.1 521.9,290.8 522.0,347.6 522.0,399.7 522.1,442.6 522.2,478.4 522.4,509.9 522.6,534.0 522.9,552.4 523.2,564.2 523.5,571.1 523.7,572.9 523.8,573.6 523.9,573.8 524.0,573.9 524.0,573.9 524.1,573.7 524.2,573.1 524.4,571.4 524.8,564.8 525.1,553.4 525.3,535.5 525.5,512.1 525.7,481.4 525.8,446.6 525.9,405.0 526.0,354.3 526.0,299.1 526.1,245.0 526.1,204.9 526.1,187.5 526.2,183.6 526.2,187.6 526.2,205.2 526.3,245.6 526.3,299.9 526.4,355.2 526.5,406.0 526.5,447.7 526.7,482.6 526.8,513.3 527.0,536.8 527.3,554.7 527.6,566.2 527.9,573.0 528.1,574.7 528.2,575.4 528.3,575.7 528.4,575.8 528.4,575.7 528.5,575.5 528.6,575.0 528.8,573.4 529.2,567.1 529.5,556.2 529.8,539.0 530.0,516.5 530.1,487.1 530.2,453.6 530.3,413.6 530.4,364.7 530.4,311.5 530.5,259.3 530.5,220.3 530.6,203.5 530.6,199.7 530.6,203.6 530.6,220.7 530.7,259.9 530.7,312.4 530.8,365.8 530.9,414.8 531.0,454.9 531.1,488.4 531.2,517.9 531.4,540.5 531.7,557.7 532.0,568.8 532.4,575.3 532.5,577.0 532.7,577.6 532.7,577.9 532.8,578.0 532.9,577.9 533.0,577.7 533.1,577.2 533.2,575.8 533.6,569.7 533.9,559.3 534.2,543.0 534.4,521.5 534.5,493.4 534.6,461.5 534.7,423.2 534.8,376.4 534.9,325.4 534.9,275.0 535.0,237.4 535.0,221.1 535.0,217.5 535.0,221.3 535.1,237.9 535.1,275.8 535.2,326.3 535.2,377.6 535.3,424.5 535.4,462.9 535.5,494.9 535.7,523.1 535.9,544.6 536.1,561.0 536.4,571.6 536.8,577.8 537.0,579.4 537.1,580.0 537.2,580.3 537.2,580.4 537.3,580.4 537.4,580.2 537.5,579.7 537.7,578.3 538.0,572.6 538.3,562.8 538.6,547.3 538.8,527.0 539.0,500.4 539.1,470.1 539.2,433.6 539.2,389.1 539.3,340.2 539.3,292.0 539.4,255.7 539.4,240.0 539.4,236.4 539.5,240.2 539.5,256.2 539.5,292.7 539.6,341.3 539.7,390.3 539.7,435.0 539.8,471.6 539.9,501.9 540.1,528.6 540.3,549.0 540.5,564.6 540.9,574.6 541.2,580.5 541.4,582.0 541.5,582.6 541.6,582.9 541.7,582.9 541.7,582.9 541.8,582.8 541.9,582.3 542.1,581.0 542.5,575.7 542.8,566.4 543.0,551.9 543.2,532.7 543.4,507.7 543.5,479.1 543.6,444.7 543.7,402.5 543.7,356.2 543.8,310.2 543.8,275.5 543.8,260.4 543.9,257.1 543.9,260.7 543.9,276.0 544.0,311.0 544.0,357.3 544.1,403.9 544.2,446.2 544.2,480.7 544.4,509.3 544.5,534.5 544.7,553.7 545.0,568.3 545.3,577.7 545.6,583.3 545.8,584.7 545.9,585.3 546.0,585.5 546.1,585.6 546.1,585.6 546.2,585.5 546.3,585.1 546.5,583.9 546.9,578.9 547.2,570.2 547.4,556.7 547.6,538.8 547.8,515.3 547.9,488.6 548.0,456.5 548.1,417.1 548.1,373.7 548.2,330.7 548.2,298.2 548.3,284.1 548.3,281.0 548.3,284.4 548.3,298.8 548.4,331.6 548.4,375.0 548.5,418.6 548.6,458.2 548.7,490.4 548.8,517.2 548.9,540.7 549.1,558.6 549.4,572.3 549.7,581.1 550.1,586.3 550.2,587.6 550.3,588.1 550.4,588.4 550.5,588.5 550.6,588.5 550.7,588.3 550.8,588.0 550.9,586.9 551.3,582.5 551.6,574.7 551.9,562.6 552.1,546.6 552.2,525.6 552.3,501.5 552.4,472.1 552.5,435.8 552.6,395.2 552.6,354.4 552.7,323.3 552.7,309.7 552.7,306.7 552.7,310.0 552.8,323.9 552.8,355.5 552.9,396.8 552.9,437.8 553.0,474.5 553.1,504.1 553.2,528.4 553.4,549.5 553.6,565.4 553.8,577.4 554.1,585.1 554.5,589.5 554.7,590.7 554.8,591.1 554.9,591.4 554.9,591.4 555.0,591.4 555.1,591.4 555.2,591.1 555.4,590.2 555.7,586.6 556.0,580.2 556.3,570.2 556.5,556.8 556.7,538.8 556.8,517.6 556.8,491.1 556.9,457.3 557.0,418.5 557.0,378.4 557.1,347.3 557.1,333.5 557.1,330.4 557.2,333.7 557.2,347.8 557.2,379.4 557.3,420.0 557.3,459.3 557.4,493.6 557.5,520.4 557.6,541.8 557.8,559.8 558.0,573.2 558.2,583.1 558.6,589.3 558.9,592.8 559.1,593.8 559.2,594.1 559.3,594.3 559.3,594.4 559.4,594.4 559.5,594.3 559.6,594.1 559.8,593.5 560.1,590.7 560.5,585.9 560.7,578.0 560.9,567.1 561.1,552.0 561.2,533.4 561.3,509.4 561.3,477.5 561.4,439.7 561.5,399.8 561.5,368.5 561.5,354.5 561.6,351.4 561.6,354.7 561.6,368.9 561.7,400.7 561.7,441.1 561.8,479.3 561.8,511.6 561.9,535.9 562.0,554.7 562.2,569.9 562.4,580.8 562.7,588.5 563.0,593.3 563.3,596.0 563.5,596.7 563.6,597.0 563.7,597.1 563.8,597.2 563.8,597.2 563.9,597.2 564.0,597.0 564.2,596.6 564.6,594.6 564.9,591.1 565.1,585.0 565.3,576.3 565.5,563.5 565.6,547.1 565.7,524.9 565.8,494.6 565.8,457.8 565.9,418.6 565.9,387.8 566.0,374.1 566.0,371.0 566.0,374.3 566.0,388.2 566.1,419.4 566.1,459.0 566.2,496.0 566.3,526.7 566.4,549.1 566.5,565.7 566.6,578.7 566.8,587.4 567.1,593.4 567.4,597.0 567.8,599.0 567.9,599.5 568.0,599.7 568.1,599.8 568.2,599.9 568.3,599.9 568.4,599.9 568.5,599.8 568.6,599.5 569.0,598.2 569.3,595.6 569.6,590.9 569.8,583.8 569.9,572.6 570.0,557.7 570.1,537.0 570.2,508.1 570.3,472.8 570.3,435.4 570.4,406.3 570.4,393.5 570.4,390.7 570.4,393.7 570.5,406.8 570.5,436.2 570.6,473.8 570.6,509.2 570.7,538.3 570.8,559.2 570.9,574.3 571.0,585.6 571.2,592.8 571.5,597.6 571.8,600.3 572.2,601.7 572.4,602.1 572.5,602.3 572.6,602.4 572.6,602.4 572.7,602.5 572.8,602.5 572.9,602.4 573.1,602.3 573.4,601.3 573.7,599.3 574.0,595.5 574.2,589.2 574.3,579.1 574.5,565.3 574.5,545.8 574.6,518.7 574.7,485.9 574.7,451.9 574.8,426.1 574.8,414.9 574.8,412.4 574.9,415.1 574.9,426.6 574.9,452.7 575.0,486.8 575.0,519.6 575.1,546.8 575.2,566.3 575.3,580.2 575.5,590.4 575.7,596.8 575.9,600.8 576.2,603.0 576.6,604.2 576.8,604.5 576.9,604.7 577.0,604.7 577.0,604.8 577.1,604.8 577.2,604.8 577.3,604.8 577.5,604.6 577.8,603.8 578.1,602.0 578.4,598.4 578.6,592.5 578.8,583.0 578.9,570.0 579.0,551.8 579.0,526.7 579.1,497.2 579.2,467.3 579.2,445.0 579.2,435.5 579.3,433.5 579.3,435.7 579.3,445.4 579.4,467.9 579.4,497.9 579.5,527.4 579.5,552.4 579.6,570.6 579.7,583.7 579.9,593.2 580.1,599.3 580.4,603.0 580.7,605.1 581.0,606.2 581.2,606.5 581.3,606.6 581.4,606.7 581.5,606.7 581.5,606.8 581.6,606.8 581.7,606.7 581.9,606.6 582.3,605.7 582.6,604.0 582.8,600.5 583.0,594.8 583.2,585.7 583.3,573.4 583.4,556.3 583.5,533.2 583.5,506.6 583.6,480.1 583.6,460.8 583.7,452.7 583.7,450.9 583.7,452.8 583.7,461.1 583.8,480.6 583.8,507.2 583.9,533.8 584.0,556.9 584.1,573.9 584.2,586.3 584.3,595.4 584.5,601.2 584.8,604.8 585.1,606.8 585.4,607.9 585.6,608.1 585.7,608.3 585.8,608.3 585.9,608.3 586.0,608.4 586.0,608.4 586.2,608.3 586.3,608.2 586.7,607.3 587.0,605.6 587.3,602.3 587.5,596.8 587.6,588.1 587.7,576.4 587.8,560.4 587.9,539.1 588.0,514.9 588.0,491.3 588.0,474.4 588.1,467.3 588.1,465.8 588.1,467.5 588.2,474.7 588.2,491.8 588.3,515.4 588.3,539.6 588.4,560.9 588.5,576.9 588.6,588.6 588.7,597.3 588.9,602.9 589.2,606.4 589.5,608.3 589.9,609.3 590.0,609.5 590.2,609.7 590.2,609.7 590.3,609.7 590.4,609.7 590.5,609.7 590.6,609.7 590.8,609.5 591.1,608.7 591.4,607.1 591.7,603.8 591.9,598.6 592.0,590.3 592.2,579.2 592.2,564.2 592.3,544.5 592.4,522.5 592.4,501.5 592.5,486.7 592.5,480.5 592.5,479.2 592.5,480.7 592.6,487.0 592.6,501.9 592.7,523.0 592.7,545.0 592.8,564.6 592.9,579.6 593.0,590.7 593.2,599.1 593.4,604.4 593.6,607.7 593.9,609.5 594.3,610.5 594.5,610.8 594.6,610.9 594.7,610.9 594.7,611.0 594.8,611.0 594.9,611.0 595.0,610.9 595.2,610.8 595.5,610.0 595.8,608.4 596.1,605.2 596.3,600.2 596.5,592.3 596.6,581.8 596.7,567.8 596.7,549.7 596.8,529.9 596.9,511.2 596.9,498.3 596.9,493.0 597.0,491.8 597.0,493.1 597.0,498.6 597.0,511.7 597.1,530.4 597.2,550.2 597.2,568.3 597.3,582.3 597.4,592.7 597.6,600.7 597.8,605.7 598.1,608.9 598.4,610.7 598.7,611.6 598.9,611.9 599.0,612.0 599.1,612.0 599.2,612.0 599.2,612.0 599.3,612.0 599.4,612.0 599.6,611.8 600.0,611.1 600.3,609.5 600.5,606.5 600.7,601.8 600.9,594.3 601.0,584.5 601.1,571.5 601.2,555.0 601.2,537.2 601.3,520.8 601.3,509.6 601.4,505.1 601.4,504.1 601.4,505.2 601.4,509.9 601.5,521.3 601.5,537.7 601.6,555.5 601.7,572.0 601.8,584.9 601.9,594.7 602.0,602.2 602.2,607.0 602.5,610.0 602.8,611.7 603.1,612.6 603.3,612.8 603.4,612.9 603.5,613.0 603.6,613.0 603.7,613.0 603.7,613.0 603.9,612.9 604.0,612.8 604.4,612.0 604.7,610.6 605.0,607.7 605.2,603.2 605.3,596.2 605.4,587.1 605.5,575.2 605.6,560.4 605.6,544.7 605.7,530.5 605.7,520.9 605.8,517.1 605.8,516.3 605.8,517.2 605.9,521.2 605.9,530.9 605.9,545.2 606.0,560.9 606.1,575.7 606.2,587.6 606.3,596.6 606.4,603.6 606.6,608.2 606.9,611.0 607.2,612.6 607.6,613.5 607.7,613.7 607.9,613.8 607.9,613.8 608.0,613.8 608.1,613.8 608.2,613.8 608.3,613.8 608.5,613.6 608.8,612.9 609.1,611.5 609.4,608.9 609.6,604.6 609.7,598.1 609.8,589.8 609.9,579.0 610.0,565.8 610.1,552.0 610.1,539.9 610.2,531.8 610.2,528.6 610.2,527.9 610.2,528.7 610.3,532.0 610.3,540.3 610.4,552.5 610.4,566.3 610.5,579.5 610.6,590.2 610.7,598.6 610.9,605.1 611.1,609.3 611.3,612.0 611.6,613.5 612.0,614.3 612.2,614.5 612.3,614.6 612.4,614.6 612.4,614.6 612.5,614.6 612.6,614.6 612.7,614.6 612.9,614.4 613.2,613.8 613.5,612.5 613.8,610.0 614.0,606.1 614.2,600.0 614.3,592.4 614.4,582.7 614.4,570.9 614.5,558.9 614.5,548.5 614.6,541.6 614.6,538.9 614.6,538.4 614.7,539.0 614.7,541.8 614.7,548.8 614.8,559.4 614.9,571.4 614.9,583.1 615.0,592.8 615.1,600.5 615.3,606.5 615.5,610.4 615.8,613.0 616.1,614.4 616.4,615.1 616.6,615.3 616.7,615.4 616.8,615.4 616.9,615.5 616.9,615.5 617.0,615.5 617.1,615.4 617.3,615.3 617.7,614.7 618.0,613.5 618.2,611.2 618.4,607.6 618.6,602.0 618.7,595.1 618.8,586.4 618.9,576.0 618.9,565.6 619.0,556.7 619.0,551.0 619.0,548.8 619.1,548.3 619.1,548.9 619.1,551.2 619.2,557.1 619.2,566.1 619.3,576.5 619.4,586.9 619.4,595.6 619.6,602.5 619.7,608.0 619.9,611.7 620.2,614.0 620.5,615.3 620.8,616.0 621.0,616.2 621.1,616.3 621.2,616.3 621.3,616.4 621.3,616.4 621.4,616.4 621.5,616.3 621.7,616.2 622.1,615.7 622.4,614.6 622.7,612.5 622.9,609.1 623.0,604.2 623.1,597.9 623.2,590.3 623.3,581.3 623.3,572.4 623.4,565.0 623.4,560.3 623.5,558.4 623.5,558.1 623.5,558.5 623.5,560.5 623.6,565.4 623.6,572.9 623.7,581.8 623.8,590.8 623.9,598.4 624.0,604.6 624.1,609.6 624.3,613.0 624.6,615.1 624.9,616.3 625.3,617.0 625.4,617.2 625.5,617.2 625.6,617.3 625.7,617.3 625.8,617.3 625.9,617.3 626.0,617.3 626.1,617.2 626.5,616.7 626.8,615.7 627.1,613.8 627.3,610.8 627.4,606.4 627.5,600.9 627.6,594.2 627.7,586.6 627.8,579.2 627.8,573.1 627.9,569.3 627.9,567.8 627.9,567.5 627.9,567.9 628.0,569.5 628.0,573.4 628.1,579.7 628.1,587.1 628.2,594.8 628.3,601.4 628.4,606.9 628.6,611.3 628.8,614.3 629.0,616.3 629.3,617.4 629.7,618.0 629.9,618.1 630.0,618.2 630.1,618.2 630.1,618.2 630.2,618.3 630.3,618.3 630.4,618.2 630.6,618.2 630.9,617.7 631.2,616.8 631.5,615.1 631.7,612.5 631.9,608.6 632.0,603.9 632.1,598.3 632.1,591.9 632.2,585.8 632.2,580.9 632.3,577.9 632.3,576.7 632.3,576.5 632.4,576.8 632.4,578.1 632.4,581.2 632.5,586.3 632.6,592.4 632.6,598.8 632.7,604.4 632.8,609.2 633.0,613.0 633.2,615.7 633.4,617.4 633.8,618.4 634.1,618.9 634.3,619.1 634.4,619.2 634.5,619.2 634.6,619.2 634.6,619.2 634.7,619.2 634.8,619.2 635.0,619.1 635.3,618.8 635.7,618.0 635.9,616.6 636.1,614.3 636.3,611.0 636.4,607.0 636.5,602.3 636.6,597.1 636.6,592.3 636.7,588.4 636.7,586.1 636.7,585.2 636.8,585.0 636.8,585.3 636.8,586.3 636.9,588.8 636.9,592.7 637.0,597.6 637.1,602.9 637.1,607.6 637.3,611.5 637.4,614.8 637.6,617.1 637.9,618.6 638.2,619.5 638.5,620.0 638.7,620.1 638.8,620.2 638.9,620.2 639.0,620.2 639.0,620.2 639.1,620.2 639.2,620.2 639.4,620.2 639.8,619.9 640.1,619.2 640.3,618.0 640.5,616.2 640.7,613.4 640.8,610.2 640.9,606.4 641.0,602.4 641.0,598.6 641.1,595.7 641.1,593.9 641.2,593.3 641.2,593.2 641.2,593.4 641.2,594.1 641.3,596.0 641.3,599.1 641.4,602.9 641.5,607.0 641.6,610.7 641.7,614.0 641.8,616.7 642.0,618.6 642.3,619.9 642.6,620.6 643.0,621.0 643.1,621.1 643.2,621.2 643.3,621.2 643.4,621.2 643.5,621.3 643.6,621.3 643.7,621.3 643.8,621.2 644.2,621.0 644.5,620.5 644.8,619.5 645.0,618.0 645.1,615.9 645.2,613.4 645.3,610.5 645.4,607.4 645.5,604.7 645.5,602.5 645.6,601.3 645.6,600.8 645.6,600.7 645.6,600.9 645.7,601.4 645.7,602.8 645.8,605.1 645.8,607.9 645.9,611.0 646.0,613.9 646.1,616.4 646.3,618.6 646.5,620.1 646.7,621.1 647.0,621.7 647.4,622.1 647.6,622.2 647.7,622.2 647.8,622.3 647.8,622.3 647.9,622.3 648.0,622.3 648.1,622.3 648.3,622.3 648.6,622.1 648.9,621.7 649.2,621.0 649.4,619.9 649.5,618.3 649.7,616.5 649.7,614.4 649.8,612.2 649.9,610.3 649.9,608.8 650.0,608.0 650.0,607.7 650.0,607.6 650.1,607.7 650.1,608.1 650.1,609.1 650.2,610.6 650.2,612.6 650.3,614.9 650.4,617.0 650.5,618.8 650.7,620.4 650.9,621.6 651.1,622.4 651.5,622.9 651.8,623.1 652.0,623.2 652.1,623.3 652.2,623.3 652.2,623.3 652.3,623.3 652.4,623.4 652.5,623.4 652.7,623.4 653.0,623.3 653.4,623.0 653.6,622.6 653.8,621.8 654.0,620.7 654.1,619.5 654.2,618.1 654.2,616.7 654.3,615.5 654.4,614.6 654.4,614.1 654.4,613.9 654.5,613.9 654.5,614.0 654.5,614.2 654.6,614.9 654.6,615.9 654.7,617.2 654.7,618.6 654.8,620.0 654.9,621.3 655.1,622.4 655.3,623.2 655.6,623.7 655.9,624.1 656.2,624.3 656.4,624.4 656.5,624.4 656.6,624.4 656.7,624.5 656.7,624.5 656.8,624.5 656.9,624.5 657.1,624.5 657.5,624.5 657.8,624.4 658.0,624.1 658.2,623.7 658.4,623.1 658.5,622.5 658.6,621.7 658.7,621.0 658.7,620.4 658.8,619.9 658.8,619.7 658.9,619.6 658.9,619.6 658.9,619.7 658.9,619.8 659.0,620.1 659.0,620.7 659.1,621.4 659.2,622.2 659.3,622.9 659.4,623.6 659.5,624.2 659.7,624.7 660.0,625.0 660.3,625.2 660.7,625.3 660.8,625.4 660.9,625.4 661.0,625.4 661.1,625.4 661.2,625.4 661.2,625.5 661.4,625.5 661.5,625.5 661.9,625.5 662.2,625.4 662.5,625.4 662.7,625.2 662.8,625.0 662.9,624.8 663.0,624.6 663.1,624.4 663.2,624.3 663.2,624.2 663.3,624.1 663.3,624.1 663.3,624.1 663.3,624.1 663.4,624.2 663.4,624.3 663.5,624.5 663.5,624.7 663.6,624.9 663.7,625.1 663.8,625.3 663.9,625.5 664.1,625.6 664.4,625.7 664.7,625.7 665.1,625.7 665.3,625.7 665.4,625.7 665.5,625.7 665.5,625.7 665.6,625.7 665.7,625.7 665.8,625.7 666.0,625.6 666.3,625.6 666.6,625.4 666.9,625.2 667.1,624.9 667.2,624.4 667.4,623.9 667.4,623.3 667.5,622.7 667.6,622.2 667.6,621.8 667.7,621.5 667.7,621.4 667.7,621.3 667.8,621.3 667.8,621.3 667.8,621.5 667.9,621.8 667.9,622.3 668.0,622.8 668.1,623.4 668.2,623.9 668.4,624.3 668.6,624.7 668.8,624.9 669.1,625.0 669.5,625.0 669.7,624.9 669.8,624.9 669.9,624.9 669.9,624.9 670.0,624.9 670.1,624.8 670.2,624.8 670.4,624.7 670.7,624.5 671.0,624.1 671.3,623.5 671.5,622.6 671.7,621.4 671.8,620.0 671.9,618.5 671.9,616.9 672.0,615.4 672.1,614.3 672.1,613.6 672.1,613.3 672.2,613.2 672.2,613.2 672.2,613.4 672.3,613.9 672.3,614.9 672.4,616.3 672.4,617.8 672.5,619.3 672.6,620.7 672.8,621.9 673.0,622.7 673.3,623.2 673.6,623.5 673.9,623.6 674.1,623.5 674.2,623.5 674.3,623.5 674.4,623.5 674.4,623.5 674.5,623.4 674.6,623.4 674.8,623.3 675.2,622.9 675.5,622.4 675.7,621.5 675.9,620.1 676.1,618.3 676.2,616.1 676.3,613.6 676.4,611.0 676.4,608.6 676.5,606.7 676.5,605.6 676.6,605.1 676.6,605.0 676.6,605.0 676.6,605.4 676.7,606.4 676.7,608.2 676.8,610.5 676.9,613.1 677.0,615.5 677.1,617.7 677.2,619.5 677.4,620.8 677.7,621.6 678.0,622.1 678.3,622.3 678.5,622.3 678.6,622.3 678.7,622.3 678.8,622.3 678.9,622.3 678.9,622.2 679.1,622.2 679.2,622.1 679.6,621.7 679.9,621.1 680.2,619.9 680.4,618.3 680.5,615.9 680.6,613.0 680.7,609.8 680.8,606.2 680.9,603.0 680.9,600.4 680.9,598.8 681.0,598.2 681.0,598.0 681.0,598.1 681.1,598.7 681.1,600.2 681.2,602.6 681.2,605.8 681.3,609.3 681.4,612.6 681.5,615.4 681.6,617.8 681.8,619.5 682.1,620.6 682.4,621.2 682.8,621.5 682.9,621.6 683.1,621.6 683.1,621.6 683.2,621.6 683.3,621.6 683.4,621.6 683.5,621.5 683.7,621.4 684.0,621.0 684.3,620.3 684.6,619.0 684.8,617.0 684.9,614.1 685.0,610.7 685.1,606.7 685.2,602.3 685.3,598.3 685.3,595.0 685.4,593.0 685.4,592.2 685.4,592.0 685.4,592.1 685.5,592.8 685.5,594.8 685.6,598.0 685.6,602.0 685.7,606.4 685.8,610.4 685.9,613.8 686.1,616.7 686.3,618.7 686.5,620.0 686.8,620.7 687.2,621.0 687.4,621.1 687.5,621.1 687.6,621.2 687.6,621.2 687.7,621.1 687.8,621.1 687.9,621.1 688.1,621.0 688.4,620.5 688.7,619.7 689.0,618.3 689.2,616.0 689.4,612.8 689.5,608.9 689.6,604.3 689.6,599.1 689.7,594.3 689.8,590.5 689.8,588.1 689.8,587.1 689.8,586.9 689.9,587.1 689.9,588.0 689.9,590.3 690.0,594.1 690.1,598.9 690.1,604.0 690.2,608.6 690.3,612.5 690.5,615.8 690.7,618.0 691.0,619.5 691.3,620.3 691.6,620.7 691.8,620.8 691.9,620.8 692.0,620.8 692.1,620.8 692.1,620.8 692.2,620.8 692.3,620.8 692.5,620.6 692.9,620.2 693.2,619.3 693.4,617.7 693.6,615.3 693.8,611.8 693.9,607.5 694.0,602.5 694.1,596.8 694.1,591.5 694.2,587.2 694.2,584.4 694.2,583.4 694.3,583.1 694.3,583.4 694.3,584.4 694.4,587.0 694.4,591.3 694.5,596.6 694.6,602.3 694.6,607.4 694.8,611.6 694.9,615.2 695.1,617.6 695.4,619.2 695.7,620.0 696.0,620.5 696.2,620.6 696.3,620.6 696.4,620.6 696.5,620.6 696.5,620.6 696.6,620.6 696.7,620.6 696.9,620.4 697.3,620.0 697.6,619.1 697.9,617.4 698.1,614.9 698.2,611.2 698.3,606.7 698.4,601.3 698.5,595.2 698.5,589.5 698.6,584.8 698.6,581.8 698.7,580.7 698.7,580.4 698.7,580.7 698.7,581.8 698.8,584.7 698.8,589.3 698.9,595.1 699.0,601.1 699.1,606.5 699.2,611.1 699.3,614.8 699.5,617.3 699.8,619.0 700.1,619.9 700.5,620.4 700.6,620.5 700.8,620.5 700.8,620.5 700.9,620.5 701.0,620.5 701.1,620.5 701.2,620.5 701.3,620.4 701.7,619.9 702.0,619.0 702.3,617.3 702.5,614.6 702.6,610.8 702.7,606.1 702.8,600.5 702.9,594.1 703.0,588.0 703.0,583.1 703.1,580.0 703.1,578.7 703.1,578.5 703.1,578.7 703.2,579.9 703.2,583.0 703.3,587.9 703.3,594.0 703.4,600.4 703.5,606.0 703.6,610.7 703.8,614.6 704.0,617.2 704.2,618.9 704.5,619.9 704.9,620.4 705.1,620.5 705.2,620.5 705.3,620.5 705.3,620.5 705.4,620.5 705.5,620.5 705.6,620.5 705.8,620.4 706.1,619.9 706.4,618.9 706.7,617.2 706.9,614.5 707.1,610.5 707.2,605.7 707.3,599.9 707.3,593.4 707.4,587.1 707.4,582.0 707.5,578.8 707.5,577.5 707.5,577.2 707.6,577.5 707.6,578.7 707.6,581.9 707.7,587.1 707.8,593.3 707.8,599.9 707.9,605.7 708.0,610.5 708.2,614.5 708.4,617.2 708.6,618.9 709.0,619.9 709.3,620.4 709.5,620.5 709.6,620.5 709.7,620.5 709.8,620.5 709.8,620.5 709.9,620.5 710.0,620.5 710.2,620.4 710.6,619.9 710.9,618.9 711.1,617.1 711.3,614.4 711.5,610.4 711.6,605.6 711.7,599.7 711.8,593.0 711.8,586.7 711.9,581.4 711.9,578.2 711.9,576.9 712.0,576.6 712.0,576.9 712.0,578.2 712.1,581.4 712.1,586.6 712.2,593.0 712.3,599.7 712.3,605.5 712.5,610.4 712.6,614.4 712.8,617.1 713.1,618.9 713.4,619.9 713.7,620.4 713.9,620.5 714.0,620.5 714.1,620.5 714.2,620.5 714.2,620.5 714.3,620.5 714.4,620.5 714.6,620.4 715.0,619.9 715.3,618.9 715.5,617.1 715.7,614.4 715.9,610.4 716.0,605.5 716.1,599.6 716.2,592.9 716.2,586.5 716.3,581.3 716.3,578.0 716.4,576.7 716.4,576.4 716.4,576.7 716.4,578.0 716.5,581.3 716.5,586.5 716.6,592.9 716.7,599.6 716.8,605.5 716.9,610.4 717.0,614.4 717.2,617.1 717.5,618.9 717.8,619.9 718.2,620.4 718.3,620.5 718.4,620.5 718.5,620.5 718.6,620.5 718.7,620.5 718.8,620.5 718.9,620.5 719.0,620.4 719.4,619.9 719.7,618.9 720.0,617.1 720.2,614.4 720.3,610.4 720.4,605.5 720.5,599.7 720.6,593.0 720.7,586.7 720.7,581.5 720.8,578.2 720.8,576.9 720.8,576.7 720.8,576.9 720.9,578.2 720.9,581.5 721.0,586.7 721.0,593.0 721.1,599.7 721.2,605.6 721.3,610.4 721.5,614.4 721.7,617.1 721.9,618.9 722.2,619.9 722.6,620.4 722.8,620.5 722.9,620.5 723.0,620.5 723.0,620.5 723.1,620.5 723.2,620.5 723.3,620.5 723.5,620.4 723.8,619.9 724.1,618.9 724.4,617.2 724.6,614.5 724.8,610.5 724.9,605.7 725.0,599.9 725.0,593.4 725.1,587.1 725.1,582.0 725.2,578.8 725.2,577.6 725.2,577.3 725.3,577.6 725.3,578.8 725.3,582.1 725.4,587.2 725.4,593.4 725.5,600.0 725.6,605.7 725.7,610.6 725.9,614.5 726.1,617.2 726.3,618.9 726.7,619.9 727.0,620.4 727.2,620.5 727.3,620.5 727.4,620.5 727.4,620.5 727.5,620.5 727.6,620.5 727.7,620.5 727.9,620.4 728.2,619.9 728.6,618.9 728.8,617.2 729.0,614.6 729.2,610.7 729.3,606.0 729.4,600.3 729.4,593.9 729.5,587.8 729.6,582.9 729.6,579.8 729.6,578.6 729.7,578.3 729.7,578.6 729.7,579.8 729.8,582.9 729.8,587.9 729.9,594.0 729.9,600.4 730.0,606.0 730.1,610.7 730.3,614.6 730.5,617.2 730.8,618.9 731.1,619.9 731.4,620.4 731.6,620.5 731.7,620.5 731.8,620.5 731.9,620.5 731.9,620.5 732.0,620.5 732.1,620.5 732.3,620.4 732.7,619.9 733.0,619.0 733.2,617.3 733.4,614.7 733.6,610.9 733.7,606.3 733.8,600.8 733.9,594.6 733.9,588.8 734.0,584.0 734.0,581.1 734.1,579.9 734.1,579.7 734.1,579.9 734.1,581.1 734.2,584.1 734.2,588.9 734.3,594.7 734.4,600.9 734.5,606.4 734.6,611.0 734.7,614.8 734.9,617.3 735.2,619.0 735.5,619.9 735.9,620.4 736.0,620.5 736.1,620.5 736.2,620.5 736.3,620.5 736.4,620.5 736.5,620.5 736.6,620.5 736.7,620.4 737.1,619.9 737.4,619.0 737.7,617.4 737.9,614.9 738.0,611.2 738.1,606.8 738.2,601.5 738.3,595.5 738.4,590.0 738.4,585.4 738.5,582.6 738.5,581.5 738.5,581.3 738.5,581.5 738.6,582.6 738.6,585.5 738.7,590.0 738.7,595.6 738.8,601.6 738.9,606.9 739.0,611.3 739.2,614.9 739.3,617.4 739.6,619.0 739.9,619.9 740.3,620.4 740.5,620.5 740.6,620.5 740.7,620.5 740.7,620.5 740.8,620.5 740.9,620.5 741.0,620.5 741.2,620.4 741.5,619.9 741.8,619.1 742.1,617.5 742.3,615.1 742.4,611.5 742.6,607.3 742.6,602.2 742.7,596.6 742.8,591.3 742.8,587.0 742.9,584.3 742.9,583.3 742.9,583.1 743.0,583.3 743.0,584.4 743.0,587.0 743.1,591.4 743.1,596.7 743.2,602.3 743.3,607.4 743.4,611.6 743.6,615.1 743.8,617.5 744.0,619.1 744.3,619.9 744.7,620.4 744.9,620.5 745.0,620.5 745.1,620.5 745.1,620.5 745.2,620.5 745.3,620.5 745.4,620.5 745.6,620.4 745.9,619.9 746.3,619.1 746.5,617.6 746.7,615.3 746.9,611.9 747.0,607.8 747.1,603.0 747.1,597.6 747.2,592.6 747.3,588.5 747.3,586.0 747.3,585.1 747.4,584.9 747.4,585.1 747.4,586.1 747.5,588.6 747.5,592.7 747.6,597.7 747.6,603.1 747.7,607.9 747.8,611.9 748.0,615.3 748.2,617.6 748.5,619.1 748.8,620.0 749.1,620.4 749.3,620.5 749.4,620.5 749.5,620.5 749.6,620.5 749.6,620.5 749.7,620.5 749.8,620.5 750.0,620.4 750.4,620.0 750.7,619.2 750.9,617.7 751.1,615.5 751.3,612.2 751.4,608.3 751.5,603.7 751.6,598.6 751.6,593.9 751.7,590.0 751.7,587.7 751.8,586.8 751.8,586.6 751.8,586.8 751.8,587.7 751.9,590.1 751.9,593.9 752.0,598.7 752.1,603.8 752.2,608.4 752.3,612.3 752.4,615.5 752.6,617.7 752.9,619.2 753.2,620.0 753.5,620.4 753.7,620.5 753.8,620.5 753.9,620.5 754.0,620.5 754.1,620.5 754.1,620.5 754.3,620.5 754.4,620.4 754.8,620.0 755.1,619.2 755.4,617.8 755.6,615.6 755.7,612.5 755.8,608.8 755.9,604.4 756.0,599.5 756.1,595.0 756.1,591.4 756.2,589.2 756.2,588.4 756.2,588.2 756.2,588.4 756.3,589.3 756.3,591.5 756.4,595.1 756.4,599.6 756.5,604.5 756.6,608.8 756.7,612.6 756.8,615.7 757.0,617.8 757.3,619.2 757.6,620.0 758.0,620.4 758.1,620.5 758.3,620.5 758.3,620.5 758.4,620.5 758.5,620.5 758.6,620.5 758.7,620.5 758.9,620.4 759.2,620.0 759.5,619.3 759.8,617.9 760.0,615.8 760.1,612.8 760.3,609.2 760.3,605.0 760.4,600.3 760.5,596.1 760.5,592.6 760.6,590.6 760.6,589.7 760.6,589.6 760.6,589.8 760.7,590.6 760.7,592.7 760.8,596.1 760.8,600.4 760.9,605.1 761.0,609.3 761.1,612.8 761.3,615.8 761.5,617.9 761.7,619.3 762.0,620.0 762.4,620.4 762.6,620.5 762.7,620.5 762.8,620.5 762.8,620.5 762.9,620.5 763.0,620.5 763.1,620.5 763.3,620.4 763.6,620.0 763.9,619.3 764.2,618.0 764.4,616.0 764.6,613.0 764.7,609.6 764.8,605.5 764.8,601.1 764.9,597.0 765.0,593.7 765.0,591.7 765.0,590.9 765.1,590.8 765.1,590.9 765.1,591.7 765.1,593.7 765.2,597.0 765.3,601.1 765.3,605.6 765.4,609.6 765.5,613.1 765.7,616.0 765.9,618.0 766.2,619.3 766.5,620.1 766.8,620.4 767.0,620.5 767.1,620.6 767.2,620.6 767.3,620.6 767.3,620.6 767.4,620.6 767.5,620.5 767.7,620.5 768.1,620.1 768.4,619.4 768.6,618.1 768.8,616.1 769.0,613.3 769.1,609.9 769.2,606.0 769.3,601.7 769.3,597.8 769.4,594.7 769.4,592.8 769.5,592.0 769.5,591.9 769.5,592.0 769.5,592.8 769.6,594.7 769.6,597.9 769.7,601.8 769.8,606.1 769.9,610.0 770.0,613.4 770.1,616.2 770.3,618.1 770.6,619.4 770.9,620.1 771.2,620.5 771.4,620.6 771.5,620.6 771.6,620.6 771.7,620.6 771.8,620.6 771.8,620.6 772.0,620.6 772.1,620.5 772.5,620.2 772.8,619.5 773.1,618.2 773.3,616.3 773.4,613.6 773.5,610.3 773.6,606.5 773.7,602.4 773.7,598.6 773.8,595.6 773.8,593.8 773.9,593.1 773.9,592.9 773.9,593.1 774.0,593.8 774.0,595.7 774.0,598.7 774.1,602.5 774.2,606.6 774.3,610.4 774.4,613.6 774.5,616.4 774.7,618.3 775.0,619.5 775.3,620.2 775.7,620.6 775.8,620.7 776.0,620.7 776.0,620.7 776.1,620.7 776.2,620.7 776.3,620.7 776.4,620.7 776.6,620.6 776.9,620.3 777.2,619.6 777.5,618.4 777.7,616.5 777.8,613.9 777.9,610.7 778.0,607.1 778.1,603.1 778.2,599.5 778.2,596.6 778.3,594.9 778.3,594.2 778.3,594.1 778.3,594.2 778.4,594.9 778.4,596.7 778.5,599.6 778.5,603.2 778.6,607.2 778.7,610.8 778.8,613.9 779.0,616.6 779.2,618.4 779.4,619.7 779.7,620.3 780.1,620.7 780.3,620.8 780.4,620.8 780.5,620.8 780.5,620.8 780.6,620.8 780.7,620.8 780.8,620.8 781.0,620.7 781.3,620.4 781.6,619.7 781.9,618.5 782.1,616.8 782.3,614.2 782.4,611.2 782.5,607.7 782.5,603.8 782.6,600.4 782.6,597.6 782.7,596.0 782.7,595.3 782.7,595.2 782.8,595.3 782.8,596.0 782.8,597.7 782.9,600.4 783.0,603.9 783.0,607.7 783.1,611.2 783.2,614.3 783.4,616.8 783.6,618.6 783.9,619.8 784.2,620.5 784.5,620.8 784.7,620.9 784.8,620.9 784.9,620.9 785.0,620.9 785.0,620.9 785.1,620.9 785.2,620.9 785.4,620.8 785.8,620.5 786.1,619.9 786.3,618.7 786.5,617.0 786.7,614.5 786.8,611.6 786.9,608.2 787.0,604.6 787.0,601.3 787.1,598.6 787.1,597.1 787.1,596.5 787.2,596.3 787.2,596.5 787.2,597.1 787.3,598.7 787.3,601.3 787.4,604.7 787.5,608.3 787.5,611.7 787.7,614.6 787.8,617.1 788.0,618.8 788.3,619.9 788.6,620.6 788.9,620.9 789.1,621.0 789.2,621.0 789.3,621.0 789.4,621.0 789.4,621.0 789.5,621.0 789.6,621.0 789.8,620.9 790.2,620.6 790.5,620.0 790.8,618.9 791.0,617.3 791.1,614.9 791.2,612.0 791.3,608.8 791.4,605.3 791.4,602.1 791.5,599.6 791.5,598.1 791.6,597.5 791.6,597.4 791.6,597.5 791.6,598.1 791.7,599.6 791.7,602.2 791.8,605.4 791.9,608.9 792.0,612.1 792.1,614.9 792.2,617.3 792.4,619.0 792.7,620.1 793.0,620.7 793.4,621.1 793.5,621.1 793.7,621.2 793.7,621.2 793.8,621.2 793.9,621.2 794.0,621.2 794.1,621.1 794.2,621.1 794.6,620.8 794.9,620.2 795.2,619.1 795.4,617.5 795.5,615.2 795.6,612.5 795.7,609.3 795.8,606.0 795.9,602.9 795.9,600.5 796.0,599.1 796.0,598.5 796.0,598.4 796.0,598.5 796.1,599.1 796.1,600.5 796.2,603.0 796.2,606.0 796.3,609.4 796.4,612.5 796.5,615.3 796.7,617.6 796.9,619.2 797.1,620.3 797.4,620.9 797.8,621.2 798.0,621.3 798.1,621.3 798.2,621.3 798.2,621.3 798.3,621.3 798.4,621.3 798.5,621.3 798.7,621.2 799.0,620.9 799.3,620.4 799.6,619.3 799.8,617.7 800.0,615.5 800.1,612.9 800.2,609.8 800.2,606.6 800.3,603.7 800.3,601.4 800.4,600.0 800.4,599.4 800.4,599.3 800.5,599.4 800.5,600.0 800.5,601.4 800.6,603.7 800.7,606.6 800.7,609.9 800.8,612.9 800.9,615.6 801.1,617.8 801.3,619.4 801.5,620.4 801.9,621.0 802.2,621.3 802.4,621.4 802.5,621.4 802.6,621.4 802.7,621.4 802.7,621.4 802.8,621.4 802.9,621.4 803.1,621.4 803.4,621.1 803.8,620.5 804.0,619.5 804.2,618.0 804.4,615.8 804.5,613.3 804.6,610.3 804.7,607.2 804.7,604.4 804.8,602.2 804.8,600.8 804.8,600.3 804.9,600.2 804.9,600.3 804.9,600.8 805.0,602.2 805.0,604.4 805.1,607.2 805.2,610.4 805.2,613.3 805.4,615.9 805.5,618.1 805.7,619.6 806.0,620.6 806.3,621.2 806.6,621.5 806.8,621.5 806.9,621.6 807.0,621.6 807.1,621.6 807.1,621.6 807.2,621.6 807.3,621.5 807.5,621.5 807.9,621.2 808.2,620.7 808.4,619.7 808.6,618.2 808.8,616.1 808.9,613.6 809.0,610.8 809.1,607.8 809.1,605.0 809.2,602.9 809.2,601.6 809.3,601.1 809.3,601.0 809.3,601.1 809.3,601.6 809.4,602.9 809.4,605.1 809.5,607.8 809.6,610.8 809.7,613.7 809.8,616.1 809.9,618.3 810.1,619.8 810.4,620.7 810.7,621.3 811.1,621.6 811.2,621.7 811.3,621.7 811.4,621.7 811.5,621.7 811.6,621.7 811.7,621.7 811.8,621.7 811.9,621.6 812.3,621.3 812.6,620.8 812.9,619.9 813.1,618.4 813.2,616.4 813.3,614.0 813.4,611.2 813.5,608.3 813.6,605.6 813.6,603.6 813.7,602.3 813.7,601.9 813.7,601.8 813.7,601.9 813.8,602.4 813.8,603.6 813.9,605.7 813.9,608.3 814.0,611.3 814.1,614.0 814.2,616.4 814.4,618.5 814.6,619.9 814.8,620.9 815.1,621.4 815.5,621.7 815.7,621.8 815.8,621.8 815.9,621.8 815.9,621.8 816.0,621.8 816.1,621.8 816.2,621.8 816.4,621.7 816.7,621.5 817.0,620.9 817.3,620.0 817.5,618.6 817.6,616.6 817.8,614.3 817.8,611.6 817.9,608.7 818.0,606.2 818.0,604.2 818.1,603.0 818.1,602.5 818.1,602.4 818.2,602.6 818.2,603.0 818.2,604.2 818.3,606.2 818.3,608.8 818.4,611.6 818.5,614.3 818.6,616.6 818.8,618.7 819.0,620.1 819.2,621.0 819.6,621.5 819.9,621.8 820.1,621.9 820.2,621.9 820.3,621.9 820.3,621.9 820.4,621.9 820.5,621.9 820.6,621.9 820.8,621.8 821.1,621.6 821.5,621.1 821.7,620.1 821.9,618.8 822.1,616.8 822.2,614.5 822.3,612.0 822.3,609.2 822.4,606.7 822.5,604.8 822.5,603.6 822.5,603.2 822.6,603.1 822.6,603.2 822.6,603.6 822.7,604.8 822.7,606.7 822.8,609.2 822.8,612.0 822.9,614.6 823.0,616.9 823.2,618.8 823.4,620.2 823.7,621.1 824.0,621.6 824.3,621.9 824.5,622.0 824.6,622.0 824.7,622.0 824.8,622.0 824.8,622.0 824.9,622.0 825.0,622.0 825.2,621.9 825.6,621.7 825.9,621.2 826.1,620.3 826.3,618.9 826.5,617.0 826.6,614.8 826.7,612.3 826.8,609.6 826.8,607.2 826.9,605.4 826.9,604.2 827.0,603.8 827.0,603.7 827.0,603.8 827.0,604.3 827.1,605.4 827.1,607.3 827.2,609.7 827.3,612.4 827.4,614.9 827.5,617.1 827.6,619.0 827.8,620.3 828.1,621.2 828.4,621.7 828.8,622.0 828.9,622.1 829.0,622.1 829.1,622.1 829.2,622.1 829.3,622.1 829.3,622.1 829.5,622.1 829.6,622.0 830.0,621.8 830.3,621.3 830.6,620.4 830.8,619.1 830.9,617.3 831.0,615.1 831.1,612.7 831.2,610.1 831.3,607.8 831.3,606.0 831.4,604.9 831.4,604.5 831.4,604.4 831.4,604.5 831.5,604.9 831.5,606.0 831.6,607.8 831.6,610.1 831.7,612.7 831.8,615.2 831.9,617.3 832.0,619.2 832.2,620.5 832.5,621.3 832.8,621.8 833.2,622.1 833.4,622.1 833.5,622.2 833.6,622.2 833.6,622.2 833.7,622.2 833.8,622.2 833.9,622.2 834.1,622.1 834.4,621.9 834.7,621.4 835.0,620.6 835.2,619.3 835.3,617.5 835.5,615.4 835.5,613.0 835.6,610.5 835.7,608.3 835.7,606.5 835.8,605.5 835.8,605.1 835.8,605.0 835.9,605.1 835.9,605.5 835.9,606.6 836.0,608.3 836.0,610.6 836.1,613.1 836.2,615.4 836.3,617.5 836.5,619.3 836.7,620.6 836.9,621.4 837.2,621.9 837.6,622.2 837.8,622.2 837.9,622.3 838.0,622.3 838.0,622.3 838.1,622.3 838.2,622.3 838.3,622.2 838.5,622.2 838.8,622.0 839.1,621.5 839.4,620.7 839.6,619.5 839.8,617.7 839.9,615.7 840.0,613.4 840.0,611.0 840.1,608.8 840.2,607.1 840.2,606.1 840.2,605.7 840.3,605.7 840.3,605.7 840.3,606.1 840.4,607.2 840.4,608.8 840.5,611.0 840.5,613.4 840.6,615.7 840.7,617.8 840.9,619.5 841.1,620.7 841.4,621.6 841.7,622.0 842.0,622.3 842.2,622.3 842.3,622.3 842.4,622.4 842.5,622.4 842.5,622.4 842.6,622.3 842.7,622.3 842.9,622.3 843.3,622.1 843.6,621.6 843.8,620.8 844.0,619.6 844.2,617.9 844.3,616.0 844.4,613.8 844.5,611.4 844.5,609.4 844.6,607.8 844.6,606.8 844.7,606.4 844.7,606.4 844.7,606.4 844.7,606.8 844.8,607.8 844.8,609.4 844.9,611.5 845.0,613.8 845.1,616.0 845.2,618.0 845.3,619.7 845.5,620.9 845.8,621.7 846.1,622.1 846.4,622.3 846.6,622.4 846.7,622.4 846.8,622.4 846.9,622.4 847.0,622.4 847.0,622.4 847.2,622.4 847.3,622.4 847.7,622.1 848.0,621.7 848.3,621.0 848.5,619.8 848.6,618.2 848.7,616.3 848.8,614.2 848.9,612.0 849.0,610.0 849.0,608.4 849.0,607.5 849.1,607.2 849.1,607.1 849.1,607.2 849.2,607.5 849.2,608.5 849.3,610.0 849.3,612.0 849.4,614.3 849.5,616.4 849.6,618.2 849.7,619.9 849.9,621.0 850.2,621.8 850.5,622.2 850.9,622.4 851.0,622.5 851.2,622.5 851.2,622.5 851.3,622.5 851.4,622.5 851.5,622.5 851.6,622.5 851.8,622.5 852.1,622.2 852.4,621.8 852.7,621.1 852.9,620.0 853.0,618.5 853.1,616.7 853.2,614.6 853.3,612.5 853.4,610.6 853.4,609.2 853.5,608.3 853.5,608.0 853.5,607.9 853.5,608.0 853.6,608.3 853.6,609.2 853.7,610.7 853.7,612.6 853.8,614.7 853.9,616.7 854.0,618.5 854.2,620.1 854.4,621.2 854.6,621.9 854.9,622.3 855.3,622.5 855.5,622.6 855.6,622.6 855.7,622.6 855.7,622.6 855.8,622.6 855.9,622.6 856.0,622.6 856.2,622.5 856.5,622.3 856.8,622.0 857.1,621.3 857.3,620.2 857.5,618.7 857.6,617.0 857.7,615.1 857.7,613.1 857.8,611.4 857.9,610.0 857.9,609.2 857.9,608.9 857.9,608.8 858.0,608.9 858.0,609.2 858.0,610.0 858.1,611.4 858.2,613.2 858.2,615.2 858.3,617.1 858.4,618.8 858.6,620.3 858.8,621.3 859.1,622.0 859.4,622.4 859.7,622.6 859.9,622.7 860.0,622.7 860.1,622.7 860.2,622.7 860.2,622.7 860.3,622.7 860.4,622.7 860.6,622.6 861.0,622.4 861.3,622.1 861.5,621.4 861.7,620.4 861.9,619.0 862.0,617.5 862.1,615.7 862.2,613.8 862.2,612.2 862.3,610.9 862.3,610.2 862.4,609.9 862.4,609.8 862.4,609.9 862.4,610.2 862.5,611.0 862.5,612.2 862.6,613.9 862.7,615.8 862.7,617.5 862.9,619.1 863.0,620.5 863.2,621.5 863.5,622.1 863.8,622.5 864.1,622.7 864.3,622.7 864.4,622.8 864.5,622.8 864.6,622.8 864.7,622.8 864.7,622.8 864.8,622.8 865.0,622.7 865.4,622.5 865.7,622.2 866.0,621.6 866.2,620.7 866.3,619.4 866.4,617.9 866.5,616.3 866.6,614.6 866.6,613.1 866.7,611.9 866.7,611.3 866.8,611.0 866.8,611.0 866.8,611.0 866.8,611.3 866.9,612.0 866.9,613.2 867.0,614.7 867.1,616.4 867.2,618.0 867.3,619.5 867.4,620.7 867.6,621.7 867.9,622.3 868.2,622.6 868.6,622.8 868.7,622.8 868.9,622.8 868.9,622.8 869.0,622.8 869.1,622.8 869.2,622.8 869.3,622.8 869.5,622.8 869.8,622.6 870.1,622.3 870.4,621.8 870.6,620.9 870.7,619.8 870.8,618.5 870.9,617.0 871.0,615.5 871.1,614.1 871.1,613.1 871.2,612.5 871.2,612.3 871.2,612.3 871.2,612.3 871.3,612.6 871.3,613.2 871.4,614.2 871.4,615.6 871.5,617.1 871.6,618.6 871.7,619.9 871.9,621.0 872.1,621.8 872.3,622.4 872.6,622.7 873.0,622.9 873.2,622.9 873.3,622.9 873.4,622.9" fill="none" stroke="#ff0000" stroke-width="1.7" stroke-linejoin="round" stroke-linecap="butt"/>
<polyline points="96.5,624.6 97.5,624.3 98.5,624.0 99.5,623.7 100.5,623.5 101.5,623.3 102.5,623.2 103.5,623.1 104.5,623.0 105.5,622.9 106.5,622.8 107.5,622.7 108.5,622.7 109.5,622.7 110.5,622.7 111.5,622.8 112.5,622.9 113.5,623.0 114.5,623.1 115.5,623.3 116.5,623.5 117.5,623.8 118.5,624.1 119.5,624.4 120.5,624.8 121.5,625.2 122.5,625.7 123.2,626.0 123.5,625.9 124.5,625.4 125.5,624.9 126.5,624.3 127.5,623.6 128.5,622.9 129.5,622.1 130.5,621.2 131.5,620.2 132.5,619.1 133.5,618.0 134.5,616.7 135.5,615.4 136.5,613.9 137.5,612.4 138.5,610.8 139.5,609.2 140.5,607.5 141.5,605.8 142.5,604.2 143.5,602.5 144.5,600.9 145.5,599.3 146.5,597.8 147.5,596.2 148.5,594.7 149.5,593.2 150.5,591.7 151.5,590.2 152.5,588.7 153.5,587.3 154.5,585.9 155.5,584.5 156.5,583.2 157.5,582.0 158.5,580.7 159.5,579.6 160.5,578.5 161.5,577.4 162.5,576.4 163.5,575.4 164.5,574.4 165.5,573.5 166.5,572.6 167.5,571.7 168.5,570.8 169.5,570.0 170.5,569.1 171.5,568.3 172.5,567.5 173.5,566.6 174.5,565.8 175.5,565.0 176.5,564.2 177.5,563.5 178.5,562.7 179.5,561.9 180.5,561.2 181.5,560.5 182.5,559.7 183.5,559.0 184.5,558.3 185.5,557.6 186.5,556.9 187.5,556.3 188.5,555.6 189.5,555.0 190.5,554.3 191.5,553.7 192.5,553.1 193.5,552.5 194.5,551.9 195.5,551.3 196.5,550.7 197.5,550.1 198.5,549.5 199.5,548.9 200.5,548.3 201.5,547.8 202.5,547.2 203.5,546.6 204.5,546.1 205.5,545.5 206.5,544.9 207.5,544.4 208.5,543.8 209.5,543.3 210.5,542.7 211.5,542.2 212.5,541.7 213.5,541.1 214.5,540.6 215.5,540.0 216.5,539.5 217.5,538.9 218.5,538.4 219.5,537.8 220.5,537.2 221.5,536.7 222.5,536.1 223.5,535.5 224.5,534.9 225.5,534.3 226.5,533.8 227.5,533.2 228.5,532.6 229.5,532.0 230.5,531.4 231.5,530.8 232.5,530.2 233.5,529.6 234.5,529.0 235.5,528.4 236.5,527.8 237.5,527.1 238.5,526.5 239.5,525.9 240.5,525.3 241.5,524.6 242.5,524.0 243.5,523.3 244.5,522.6 245.5,522.0 246.5,521.3 247.5,520.6 248.5,519.9 249.5,519.2 250.5,518.4 251.5,517.7 252.5,517.0 253.5,516.2 254.5,515.4 255.5,514.7 256.5,513.9 257.5,513.1 258.5,512.3 259.5,511.5 260.5,510.7 261.5,509.9 262.5,509.1 263.5,508.3 264.5,507.5 265.5,506.7 266.5,505.9 267.5,505.1 268.5,504.3 269.5,503.5 270.5,502.7 271.5,501.9 272.5,501.0 273.5,500.2 274.5,499.4 275.5,498.5 276.5,497.7 277.5,496.8 278.5,496.0 279.5,495.1 280.5,494.3 281.5,493.4 282.5,492.6 283.5,491.8 284.5,490.9 285.5,490.1 286.5,489.3 287.5,488.5 288.5,487.8 289.5,487.0 290.5,486.3 291.5,485.5 292.5,484.8 293.5,484.2 294.5,483.5 295.5,482.9 296.5,482.2 297.5,481.6 298.5,481.1 299.5,480.5 300.5,480.0 301.5,479.5 302.5,479.1 303.5,478.6 304.5,478.3 305.5,477.9 306.5,477.6 307.5,477.4 308.5,477.2 309.5,477.1 310.5,477.1 311.5,477.1 312.5,477.2 313.5,477.4 314.5,477.6 315.5,478.0 316.5,478.4 317.5,478.9 318.5,479.5 319.5,480.2 320.5,481.0 321.5,481.9 322.5,482.9 323.5,484.0 324.5,485.2 325.5,486.5 326.5,487.9 327.5,489.4 328.5,491.0 329.5,492.7 330.5,494.5 331.5,496.4 332.5,498.4 333.5,500.6 334.5,502.9 335.5,505.4 336.5,508.0 337.5,510.8 338.5,513.8 339.5,517.0 340.5,520.3 341.5,523.8 342.5,527.5 343.5,531.2 344.5,535.1 345.5,539.2 346.5,543.3 347.5,547.5 348.5,551.8 349.5,556.2 350.5,560.5 351.5,564.9 352.5,569.1 353.5,573.3 354.5,577.4 355.5,581.4 356.5,585.3 357.5,589.2 358.5,592.9 359.5,596.6 360.5,600.2 361.5,603.8 362.5,607.2 363.5,610.6 364.5,613.9 365.5,617.2 366.5,620.5 367.5,624.0 368.5,620.7 369.5,617.6 370.5,614.6 371.5,611.6 372.5,608.5 373.5,605.4 374.5,602.2 375.5,599.0 376.5,595.7 377.5,592.4 378.5,589.1 379.5,585.7 380.5,582.3 381.5,578.8 382.5,575.3 383.5,571.7 384.5,568.1 385.5,564.4 386.5,560.6 387.5,556.8 388.5,553.0 389.5,549.1 390.5,545.3 391.5,541.5 392.5,537.7 393.5,534.0 394.5,530.4 395.5,526.9 396.5,523.5 397.5,520.1 398.5,516.8 399.5,513.6 400.5,510.4 401.5,507.3 402.5,504.2 403.5,501.1 404.5,498.1 405.5,495.1 406.5,492.1 407.5,489.1 408.5,486.1 409.5,483.1 410.5,480.1 411.5,477.1 412.5,474.1 413.5,471.1 414.5,468.1 415.5,465.1 416.5,462.1 417.5,459.1 418.5,456.1 419.5,453.1 420.5,450.1 421.5,447.1 422.5,444.2 423.5,441.2 424.5,438.3 425.5,435.4 426.5,432.6 427.5,429.7 428.5,426.9 429.5,424.0 430.5,421.3 431.5,418.5 432.5,415.7 433.5,412.9 434.5,410.1 435.5,407.2 436.5,404.3 437.5,401.2 438.5,398.0 439.5,394.8 440.5,391.4 441.5,388.0 442.5,384.5 443.5,380.9 444.5,377.4 445.5,373.9 446.5,370.3 447.5,366.8 448.5,363.3 449.5,359.8 450.5,356.3 451.5,352.8 452.5,349.3 453.5,345.8 454.5,342.3 455.5,338.8 456.5,335.3 457.5,331.8 458.5,328.2 459.5,324.7 460.5,321.2 461.5,317.7 462.5,314.2 463.5,310.8 464.5,307.3 465.5,303.9 466.5,300.6 467.5,297.3 468.5,294.0 469.5,290.6 470.5,287.3 471.5,283.8 472.5,280.3 473.5,276.6 474.5,272.7 475.5,268.7 476.5,264.6 477.5,260.5 478.5,256.2 479.5,252.0 480.5,247.9 481.5,243.8 482.5,239.8 483.5,235.8 484.5,231.9 485.5,228.0 486.5,224.3 487.5,220.5 488.5,216.8 489.5,213.2 490.5,209.6 491.5,206.0 492.5,202.5 493.5,199.1 494.5,195.7 495.5,192.5 496.5,189.3 497.5,186.3 498.5,183.4 499.5,180.7 500.5,178.1 501.5,175.8 502.5,173.6 503.5,171.6 504.5,169.8 505.5,168.2 506.5,166.8 507.5,165.7 508.5,164.7 509.5,163.9 510.5,163.3 511.5,162.9 512.5,162.7 513.5,162.7 514.5,163.0 515.5,163.4 516.5,164.1 517.5,165.0 518.5,166.1 519.5,167.4 520.5,169.1 521.5,171.0 522.5,173.2 523.5,175.6 524.5,178.4 525.5,181.4 526.5,184.7 527.5,188.1 528.5,191.7 529.5,195.5 530.5,199.3 531.5,203.3 532.5,207.2 533.5,211.3 534.5,215.4 535.5,219.5 536.5,223.7 537.5,228.0 538.5,232.3 539.5,236.7 540.5,241.2 541.5,245.7 542.5,250.4 543.5,255.3 544.5,260.3 545.5,265.5 546.5,270.9 547.5,276.5 548.5,282.2 549.5,288.0 550.5,293.9 551.5,299.7 552.5,305.5 553.5,311.1 554.5,316.6 555.5,322.0 556.5,327.2 557.5,332.2 558.5,337.1 559.5,341.8 560.5,346.5 561.5,351.1 562.5,355.6 563.5,360.1 564.5,364.5 565.5,368.9 566.5,373.2 567.5,377.6 568.5,382.0 569.5,386.5 570.5,391.1 571.5,395.8 572.5,400.7 573.5,405.7 574.5,410.7 575.5,415.8 576.5,420.7 577.5,425.5 578.5,430.1 579.5,434.5 580.5,438.7 581.5,442.7 582.5,446.5 583.5,450.2 584.5,453.8 585.5,457.3 586.5,460.6 587.5,463.9 588.5,467.1 589.5,470.2 590.5,473.2 591.5,476.2 592.5,479.1 593.5,482.0 594.5,484.9 595.5,487.7 596.5,490.6 597.5,493.4 598.5,496.2 599.5,498.9 600.5,501.7 601.5,504.4 602.5,507.2 603.5,510.0 604.5,512.7 605.5,515.5 606.5,518.2 607.5,520.9 608.5,523.5 609.5,526.1 610.5,528.6 611.5,531.0 612.5,533.4 613.5,535.7 614.5,538.0 615.5,540.3 616.5,542.5 617.5,544.8 618.5,547.0 619.5,549.3 620.5,551.5 621.5,553.7 622.5,555.9 623.5,558.1 624.5,560.3 625.5,562.4 626.5,564.5 627.5,566.6 628.5,568.7 629.5,570.8 630.5,572.8 631.5,574.8 632.5,576.8 633.5,578.8 634.5,580.7 635.5,582.6 636.5,584.5 637.5,586.4 638.5,588.3 639.5,590.1 640.5,592.0 641.5,593.7 642.5,595.5 643.5,597.2 644.5,598.9 645.5,600.6 646.5,602.2 647.5,603.8 648.5,605.3 649.5,606.8 650.5,608.3 651.5,609.8 652.5,611.2 653.5,612.6 654.5,614.0 655.5,615.3 656.5,616.6 657.5,617.9 658.5,619.1 659.5,620.3 660.5,621.5 661.5,622.5 662.5,623.4 663.5,624.3 664.5,625.1 664.8,625.3 665.5,624.4 666.5,623.1 667.5,621.7 668.5,620.1 669.5,618.3 670.5,616.4 671.5,614.4 672.5,612.5 673.5,610.6 674.5,608.7 675.5,606.9 676.5,605.1 677.5,603.4 678.5,601.8 679.5,600.3 680.5,598.8 681.5,597.3 682.5,595.9 683.5,594.5 684.5,593.2 685.5,591.9 686.5,590.6 687.5,589.4 688.5,588.3 689.5,587.3 690.5,586.3 691.5,585.4 692.5,584.5 693.5,583.7 694.5,583.0 695.5,582.3 696.5,581.7 697.5,581.1 698.5,580.5 699.5,580.0 700.5,579.5 701.5,579.1 702.5,578.7 703.5,578.3 704.5,578.0 705.5,577.7 706.5,577.4 707.5,577.2 708.5,577.0 709.5,576.9 710.5,576.8 711.5,576.6 712.5,576.6 713.5,576.5 714.5,576.4 715.5,576.4 716.5,576.4 717.5,576.4 718.5,576.5 719.5,576.5 720.5,576.6 721.5,576.7 722.5,576.9 723.5,577.0 724.5,577.2 725.5,577.4 726.5,577.6 727.5,577.8 728.5,578.0 729.5,578.3 730.5,578.5 731.5,578.8 732.5,579.1 733.5,579.5 734.5,579.8 735.5,580.1 736.5,580.5 737.5,580.9 738.5,581.3 739.5,581.7 740.5,582.1 741.5,582.5 742.5,582.9 743.5,583.3 744.5,583.7 745.5,584.1 746.5,584.5 747.5,584.9 748.5,585.3 749.5,585.7 750.5,586.1 751.5,586.5 752.5,586.9 753.5,587.3 754.5,587.6 755.5,588.0 756.5,588.3 757.5,588.6 758.5,588.9 759.5,589.2 760.5,589.5 761.5,589.8 762.5,590.1 763.5,590.4 764.5,590.6 765.5,590.9 766.5,591.1 767.5,591.4 768.5,591.6 769.5,591.9 770.5,592.1 771.5,592.4 772.5,592.6 773.5,592.8 774.5,593.1 775.5,593.3 776.5,593.6 777.5,593.9 778.5,594.1 779.5,594.4 780.5,594.6 781.5,594.9 782.5,595.1 783.5,595.4 784.5,595.7 785.5,595.9 786.5,596.2 787.5,596.4 788.5,596.7 789.5,596.9 790.5,597.1 791.5,597.4 792.5,597.6 793.5,597.8 794.5,598.0 795.5,598.3 796.5,598.5 797.5,598.7 798.5,598.9 799.5,599.1 800.5,599.3 801.5,599.5 802.5,599.7 803.5,599.9 804.5,600.1 805.5,600.3 806.5,600.5 807.5,600.7 808.5,600.9 809.5,601.1 810.5,601.2 811.5,601.4 812.5,601.6 813.5,601.7 814.5,601.9 815.5,602.0 816.5,602.2 817.5,602.4 818.5,602.5 819.5,602.6 820.5,602.8 821.5,602.9 822.5,603.1 823.5,603.2 824.5,603.4 825.5,603.5 826.5,603.7 827.5,603.8 828.5,604.0 829.5,604.1 830.5,604.2 831.5,604.4 832.5,604.5 833.5,604.7 834.5,604.8 835.5,605.0 836.5,605.1 837.5,605.3 838.5,605.4 839.5,605.5 840.5,605.7 841.5,605.8 842.5,606.0 843.5,606.2 844.5,606.3 845.5,606.5 846.5,606.7 847.5,606.8 848.5,607.0 849.5,607.2 850.5,607.4 851.5,607.5 852.5,607.7 853.5,607.9 854.5,608.1 855.5,608.3 856.5,608.5 857.5,608.7 858.5,609.0 859.5,609.2 860.5,609.4 861.5,609.6 862.5,609.9 863.5,610.1 864.5,610.4 865.5,610.6 866.5,610.9 867.5,611.2 868.5,611.4 869.5,611.7 870.5,612.0 871.5,612.3 872.5,612.7 873.5,613.0" fill="none" stroke="#ff0000" stroke-width="5.0" stroke-linejoin="round" stroke-linecap="butt"/>
<g fill="none" stroke-width="3.5" stroke-linejoin="round" stroke-linecap="butt">
<polyline points="205.6,358.6 287.8,414.7 269.4,388.3 407.8,482.6" stroke="#ff0000"/>
<polyline points="346.1,365.3 371.7,391.7 363.3,372.2 406.0,416.1" stroke="#00ca00"/>
<polyline points="747.1,358.9 685.6,388.2 702.7,368.2 600.4,417.8" stroke="#0000ff"/>
</g>
<g font-family="'Liberation Sans', Arial, Helvetica, sans-serif" fill="#000">
<line x1="97.5" y1="17.3" x2="148.5" y2="17.3" stroke="#ff0000" stroke-width="5"/>
<text x="172" y="26.8" font-size="34">(a)</text>
<text x="227" y="30.0" font-size="40.2">4-layer (ScAlN / SiO<tspan font-size="28.5" dy="11.5">2</tspan><tspan dy="-11.5"> / ScAlN / SiO</tspan><tspan font-size="28.5" dy="11.5">2</tspan><tspan dy="-11.5">)</tspan></text>
<line x1="97.5" y1="67.3" x2="148.5" y2="67.3" stroke="#00ca00" stroke-width="5"/>
<text x="172" y="76.8" font-size="34">(b)</text>
<text x="227" y="80.0" font-size="40.2">4-layer (SiO<tspan font-size="28.5" dy="11.5">2</tspan><tspan dy="-11.5"> / ScAlN / SiO</tspan><tspan font-size="28.5" dy="11.5">2</tspan><tspan dy="-11.5"> / ScAlN)</tspan></text>
<line x1="97.5" y1="117.3" x2="148.5" y2="117.3" stroke="#0000ff" stroke-width="5"/>
<text x="172" y="126.8" font-size="34">(c)</text>
<text x="227" y="130.0" font-size="40.2">3-layer (ScAlN / SiO<tspan font-size="28.5" dy="11.5">2</tspan><tspan dy="-11.5"> / ScAlN)</tspan></text>
<text x="88.5" y="640.5" font-size="40" text-anchor="end">0</text>
<text x="88.5" y="572.2" font-size="40" text-anchor="end">1</text>
<text x="88.5" y="503.9" font-size="40" text-anchor="end">2</text>
<text x="88.5" y="435.6" font-size="40" text-anchor="end">3</text>
<text x="88.5" y="367.4" font-size="40" text-anchor="end">4</text>
<text x="88.5" y="299.1" font-size="40" text-anchor="end">5</text>
<text x="88.5" y="230.8" font-size="40" text-anchor="end">6</text>
<text x="88.5" y="162.5" font-size="40" text-anchor="end">7</text>
<text x="96.5" y="670.5" font-size="40" text-anchor="middle">0.4</text>
<text x="251.8" y="670.5" font-size="40" text-anchor="middle">0.6</text>
<text x="407.1" y="670.5" font-size="40" text-anchor="middle">0.8</text>
<text x="562.4" y="670.5" font-size="40" text-anchor="middle">1.0</text>
<text x="717.7" y="670.5" font-size="40" text-anchor="middle">1.2</text>
<text x="873.0" y="670.5" font-size="40" text-anchor="middle">1.4</text>
<text x="484.5" y="712.5" font-size="40" text-anchor="middle">Frequency (GHz)</text>
<g transform="rotate(-90)">
<text x="-576.3" y="30" font-size="40" letter-spacing="0.25">Voltage gain</text>
<text x="-343.6" y="30" font-size="40">V</text>
<text x="-314.2" y="41" font-size="28.8">out</text>
<text transform="translate(-267 30) scale(1.42 1)" x="0" y="0" font-size="40">/</text>
<text x="-246" y="30" font-size="40">V</text>
<text x="-220.6" y="41" font-size="28.8">in</text>
</g>
</g>
</svg>
</body></html>
